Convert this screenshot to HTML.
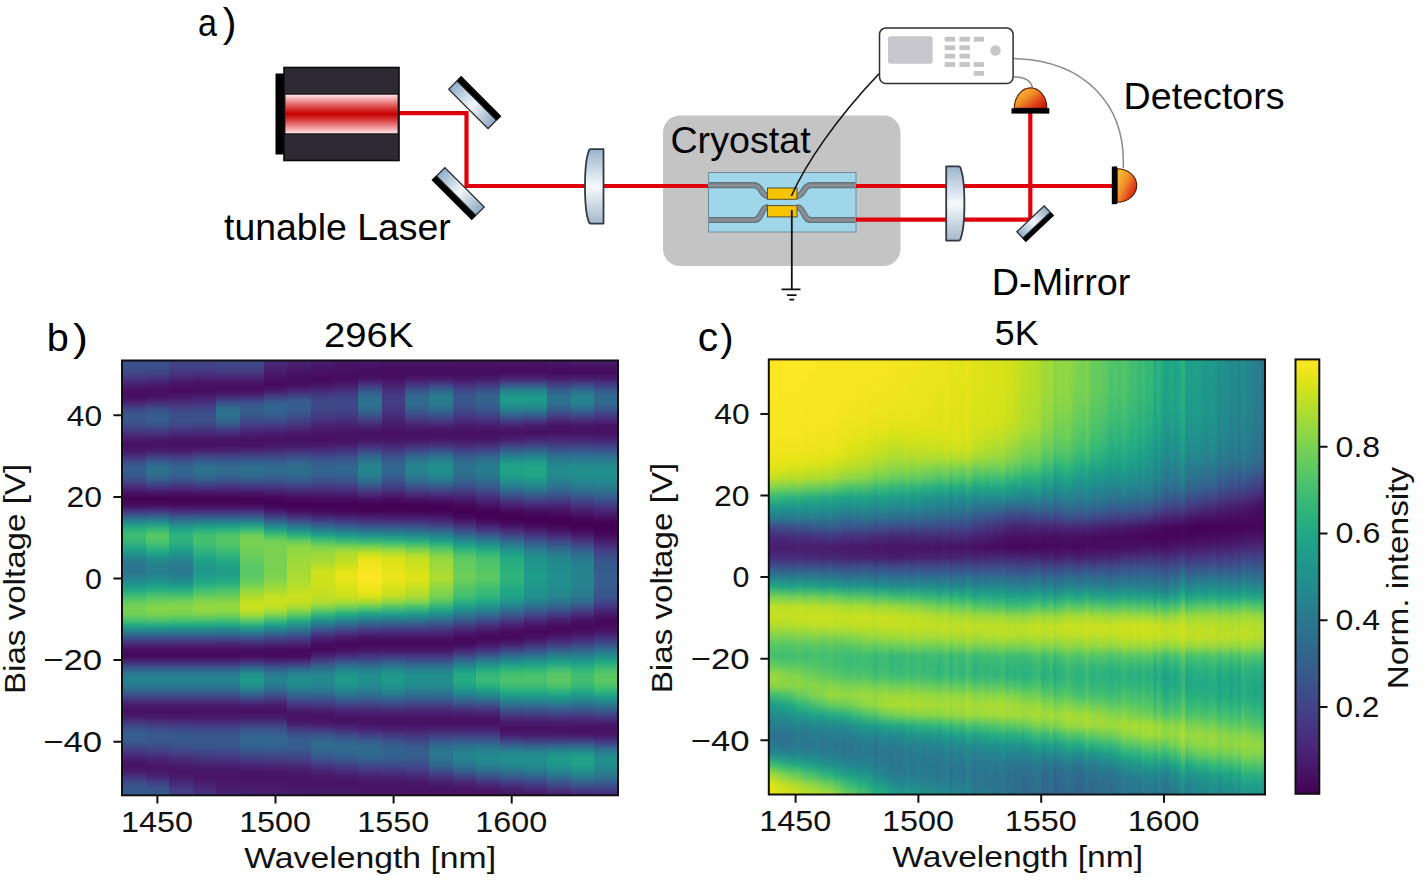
<!DOCTYPE html>
<html><head><meta charset="utf-8"><title>Figure</title>
<style>html,body{margin:0;padding:0;background:#fff;width:1425px;height:881px;overflow:hidden}svg{display:block}</style>
</head><body>
<svg width="1425" height="881" viewBox="0 0 1425 881" font-family="&quot;Liberation Sans&quot;, sans-serif">
<defs>
<linearGradient id="lasg" x1="0" y1="0" x2="0" y2="1">
 <stop offset="0" stop-color="#ffe6ea"/><stop offset="0.12" stop-color="#f4a8ac"/>
 <stop offset="0.35" stop-color="#d83a3a"/><stop offset="0.5" stop-color="#c40000"/>
 <stop offset="0.65" stop-color="#d83a3a"/><stop offset="0.88" stop-color="#f4a8ac"/>
 <stop offset="1" stop-color="#ffe6ea"/></linearGradient>
<linearGradient id="glass" x1="0" y1="0" x2="1" y2="0">
 <stop offset="0" stop-color="#8fb0cc"/><stop offset="0.45" stop-color="#f4f8fb"/>
 <stop offset="0.6" stop-color="#e8eef2"/><stop offset="1" stop-color="#9eb6cb"/></linearGradient>
<linearGradient id="lensg" x1="0" y1="0" x2="0" y2="1">
 <stop offset="0" stop-color="#9ab4cc"/><stop offset="0.5" stop-color="#f6fafc"/>
 <stop offset="1" stop-color="#a4b8ca"/></linearGradient>
<linearGradient id="domeg" x1="0.1" y1="0.2" x2="0.95" y2="0.9">
 <stop offset="0" stop-color="#f7b534"/><stop offset="0.35" stop-color="#f09028"/>
 <stop offset="0.7" stop-color="#e0441a"/><stop offset="1" stop-color="#c41c0c"/></linearGradient>
<linearGradient id="glass2" x1="0" y1="0" x2="1" y2="0">
 <stop offset="0" stop-color="#8eaecb"/><stop offset="0.5" stop-color="#f3f7fa"/>
 <stop offset="1" stop-color="#8fa9c2"/></linearGradient><linearGradient id="cbar" x1="0" y1="1" x2="0" y2="0"><stop offset="0.000" stop-color="#440154"/><stop offset="0.025" stop-color="#460a5d"/><stop offset="0.050" stop-color="#471365"/><stop offset="0.075" stop-color="#481c6e"/><stop offset="0.100" stop-color="#482475"/><stop offset="0.125" stop-color="#472d7b"/><stop offset="0.150" stop-color="#463480"/><stop offset="0.175" stop-color="#443b84"/><stop offset="0.200" stop-color="#414487"/><stop offset="0.225" stop-color="#3e4a89"/><stop offset="0.250" stop-color="#3b528b"/><stop offset="0.275" stop-color="#38598c"/><stop offset="0.300" stop-color="#355f8d"/><stop offset="0.325" stop-color="#31668e"/><stop offset="0.350" stop-color="#2f6c8e"/><stop offset="0.375" stop-color="#2c728e"/><stop offset="0.400" stop-color="#2a788e"/><stop offset="0.425" stop-color="#277e8e"/><stop offset="0.450" stop-color="#25848e"/><stop offset="0.475" stop-color="#238a8d"/><stop offset="0.500" stop-color="#21918c"/><stop offset="0.525" stop-color="#1f968b"/><stop offset="0.550" stop-color="#1e9c89"/><stop offset="0.575" stop-color="#1fa287"/><stop offset="0.600" stop-color="#22a884"/><stop offset="0.625" stop-color="#28ae80"/><stop offset="0.650" stop-color="#2fb47c"/><stop offset="0.675" stop-color="#38b977"/><stop offset="0.700" stop-color="#44bf70"/><stop offset="0.725" stop-color="#50c46a"/><stop offset="0.750" stop-color="#5ec962"/><stop offset="0.775" stop-color="#6ccd5a"/><stop offset="0.800" stop-color="#7ad151"/><stop offset="0.825" stop-color="#8bd646"/><stop offset="0.850" stop-color="#9bd93c"/><stop offset="0.875" stop-color="#addc30"/><stop offset="0.900" stop-color="#bddf26"/><stop offset="0.925" stop-color="#cde11d"/><stop offset="0.950" stop-color="#dfe318"/><stop offset="0.975" stop-color="#efe51c"/><stop offset="1.000" stop-color="#fde725"/></linearGradient><linearGradient id="b0" x1="0" y1="0" x2="0" y2="1"><stop offset="0.0000" stop-color="#3b528b"/><stop offset="0.0139" stop-color="#3b518b"/><stop offset="0.0278" stop-color="#3f4788"/><stop offset="0.0417" stop-color="#453581"/><stop offset="0.0556" stop-color="#482071"/><stop offset="0.0694" stop-color="#471063"/><stop offset="0.0833" stop-color="#470d60"/><stop offset="0.0972" stop-color="#482374"/><stop offset="0.1111" stop-color="#414487"/><stop offset="0.1250" stop-color="#38598c"/><stop offset="0.1389" stop-color="#39568c"/><stop offset="0.1528" stop-color="#3f4889"/><stop offset="0.1667" stop-color="#46327e"/><stop offset="0.1806" stop-color="#481c6e"/><stop offset="0.1944" stop-color="#471063"/><stop offset="0.2083" stop-color="#48186a"/><stop offset="0.2222" stop-color="#463480"/><stop offset="0.2361" stop-color="#3b518b"/><stop offset="0.2500" stop-color="#355f8d"/><stop offset="0.2639" stop-color="#375a8c"/><stop offset="0.2778" stop-color="#3f4788"/><stop offset="0.2917" stop-color="#472a7a"/><stop offset="0.3056" stop-color="#470e61"/><stop offset="0.3194" stop-color="#440154"/><stop offset="0.3333" stop-color="#470e61"/><stop offset="0.3472" stop-color="#453781"/><stop offset="0.3611" stop-color="#31688e"/><stop offset="0.3750" stop-color="#20928c"/><stop offset="0.3889" stop-color="#2db27d"/><stop offset="0.4028" stop-color="#3fbc73"/><stop offset="0.4167" stop-color="#35b779"/><stop offset="0.4306" stop-color="#22a785"/><stop offset="0.4444" stop-color="#20928c"/><stop offset="0.4583" stop-color="#277f8e"/><stop offset="0.4722" stop-color="#2b748e"/><stop offset="0.4861" stop-color="#2b758e"/><stop offset="0.5000" stop-color="#26818e"/><stop offset="0.5139" stop-color="#20928c"/><stop offset="0.5278" stop-color="#22a884"/><stop offset="0.5417" stop-color="#3fbc73"/><stop offset="0.5556" stop-color="#63cb5f"/><stop offset="0.5694" stop-color="#77d153"/><stop offset="0.5833" stop-color="#73d056"/><stop offset="0.5972" stop-color="#4ac16d"/><stop offset="0.6111" stop-color="#20a386"/><stop offset="0.6250" stop-color="#297b8e"/><stop offset="0.6389" stop-color="#3b518b"/><stop offset="0.6528" stop-color="#482878"/><stop offset="0.6667" stop-color="#470d60"/><stop offset="0.6806" stop-color="#460b5e"/><stop offset="0.6944" stop-color="#472d7b"/><stop offset="0.7083" stop-color="#375b8d"/><stop offset="0.7222" stop-color="#297b8e"/><stop offset="0.7361" stop-color="#25838e"/><stop offset="0.7500" stop-color="#2a788e"/><stop offset="0.7639" stop-color="#355e8d"/><stop offset="0.7778" stop-color="#443b84"/><stop offset="0.7917" stop-color="#481d6f"/><stop offset="0.8056" stop-color="#471063"/><stop offset="0.8194" stop-color="#481b6d"/><stop offset="0.8333" stop-color="#453882"/><stop offset="0.8472" stop-color="#3a538b"/><stop offset="0.8611" stop-color="#355f8d"/><stop offset="0.8750" stop-color="#375b8d"/><stop offset="0.8889" stop-color="#3e4a89"/><stop offset="0.9028" stop-color="#46337f"/><stop offset="0.9167" stop-color="#481d6f"/><stop offset="0.9306" stop-color="#471365"/><stop offset="0.9444" stop-color="#481b6d"/><stop offset="0.9583" stop-color="#46337f"/><stop offset="0.9722" stop-color="#3d4d8a"/><stop offset="0.9861" stop-color="#375a8c"/><stop offset="1.0000" stop-color="#375a8c"/></linearGradient><linearGradient id="b1" x1="0" y1="0" x2="0" y2="1"><stop offset="0.0000" stop-color="#3b528b"/><stop offset="0.0139" stop-color="#3c508b"/><stop offset="0.0278" stop-color="#404588"/><stop offset="0.0417" stop-color="#46307e"/><stop offset="0.0556" stop-color="#481b6d"/><stop offset="0.0694" stop-color="#470d60"/><stop offset="0.0833" stop-color="#471164"/><stop offset="0.0972" stop-color="#472d7b"/><stop offset="0.1111" stop-color="#3e4c8a"/><stop offset="0.1250" stop-color="#355e8d"/><stop offset="0.1389" stop-color="#365c8d"/><stop offset="0.1528" stop-color="#3e4c8a"/><stop offset="0.1667" stop-color="#46337f"/><stop offset="0.1806" stop-color="#481b6d"/><stop offset="0.1944" stop-color="#471063"/><stop offset="0.2083" stop-color="#481d6f"/><stop offset="0.2222" stop-color="#424186"/><stop offset="0.2361" stop-color="#33638d"/><stop offset="0.2500" stop-color="#2c728e"/><stop offset="0.2639" stop-color="#2e6d8e"/><stop offset="0.2778" stop-color="#39568c"/><stop offset="0.2917" stop-color="#463480"/><stop offset="0.3056" stop-color="#471365"/><stop offset="0.3194" stop-color="#440154"/><stop offset="0.3333" stop-color="#470e61"/><stop offset="0.3472" stop-color="#453882"/><stop offset="0.3611" stop-color="#306a8e"/><stop offset="0.3750" stop-color="#1f978b"/><stop offset="0.3889" stop-color="#38b977"/><stop offset="0.4028" stop-color="#58c765"/><stop offset="0.4167" stop-color="#4ec36b"/><stop offset="0.4306" stop-color="#31b57b"/><stop offset="0.4444" stop-color="#1fa088"/><stop offset="0.4583" stop-color="#228b8d"/><stop offset="0.4722" stop-color="#277f8e"/><stop offset="0.4861" stop-color="#277e8e"/><stop offset="0.5000" stop-color="#23888e"/><stop offset="0.5139" stop-color="#1f9a8a"/><stop offset="0.5278" stop-color="#28ae80"/><stop offset="0.5417" stop-color="#4cc26c"/><stop offset="0.5556" stop-color="#70cf57"/><stop offset="0.5694" stop-color="#86d549"/><stop offset="0.5833" stop-color="#7cd250"/><stop offset="0.5972" stop-color="#4ec36b"/><stop offset="0.6111" stop-color="#20a386"/><stop offset="0.6250" stop-color="#297b8e"/><stop offset="0.6389" stop-color="#3c508b"/><stop offset="0.6528" stop-color="#482878"/><stop offset="0.6667" stop-color="#470d60"/><stop offset="0.6806" stop-color="#460b5e"/><stop offset="0.6944" stop-color="#472d7b"/><stop offset="0.7083" stop-color="#375b8d"/><stop offset="0.7222" stop-color="#297b8e"/><stop offset="0.7361" stop-color="#25838e"/><stop offset="0.7500" stop-color="#2a788e"/><stop offset="0.7639" stop-color="#355e8d"/><stop offset="0.7778" stop-color="#443b84"/><stop offset="0.7917" stop-color="#481d6f"/><stop offset="0.8056" stop-color="#471063"/><stop offset="0.8194" stop-color="#481a6c"/><stop offset="0.8333" stop-color="#46327e"/><stop offset="0.8472" stop-color="#3e4c8a"/><stop offset="0.8611" stop-color="#38598c"/><stop offset="0.8750" stop-color="#38588c"/><stop offset="0.8889" stop-color="#3e4c8a"/><stop offset="0.9028" stop-color="#453882"/><stop offset="0.9167" stop-color="#482475"/><stop offset="0.9306" stop-color="#481668"/><stop offset="0.9444" stop-color="#481668"/><stop offset="0.9583" stop-color="#482677"/><stop offset="0.9722" stop-color="#414287"/><stop offset="0.9861" stop-color="#39558c"/><stop offset="1.0000" stop-color="#375a8c"/></linearGradient><linearGradient id="b2" x1="0" y1="0" x2="0" y2="1"><stop offset="0.0000" stop-color="#414487"/><stop offset="0.0139" stop-color="#424186"/><stop offset="0.0278" stop-color="#453781"/><stop offset="0.0417" stop-color="#482475"/><stop offset="0.0556" stop-color="#481467"/><stop offset="0.0694" stop-color="#460b5e"/><stop offset="0.0833" stop-color="#481668"/><stop offset="0.0972" stop-color="#472c7a"/><stop offset="0.1111" stop-color="#414487"/><stop offset="0.1250" stop-color="#3b518b"/><stop offset="0.1389" stop-color="#3c4f8a"/><stop offset="0.1528" stop-color="#424086"/><stop offset="0.1667" stop-color="#472a7a"/><stop offset="0.1806" stop-color="#481769"/><stop offset="0.1944" stop-color="#471063"/><stop offset="0.2083" stop-color="#481d6f"/><stop offset="0.2222" stop-color="#433d84"/><stop offset="0.2361" stop-color="#375a8c"/><stop offset="0.2500" stop-color="#31678e"/><stop offset="0.2639" stop-color="#34618d"/><stop offset="0.2778" stop-color="#3d4d8a"/><stop offset="0.2917" stop-color="#472e7c"/><stop offset="0.3056" stop-color="#471164"/><stop offset="0.3194" stop-color="#440154"/><stop offset="0.3333" stop-color="#460b5e"/><stop offset="0.3472" stop-color="#472e7c"/><stop offset="0.3611" stop-color="#365c8d"/><stop offset="0.3750" stop-color="#25848e"/><stop offset="0.3889" stop-color="#20a486"/><stop offset="0.4028" stop-color="#2eb37c"/><stop offset="0.4167" stop-color="#2cb17e"/><stop offset="0.4306" stop-color="#21a685"/><stop offset="0.4444" stop-color="#1f958b"/><stop offset="0.4583" stop-color="#25858e"/><stop offset="0.4722" stop-color="#297a8e"/><stop offset="0.4861" stop-color="#29798e"/><stop offset="0.5000" stop-color="#26828e"/><stop offset="0.5139" stop-color="#1f958b"/><stop offset="0.5278" stop-color="#26ad81"/><stop offset="0.5417" stop-color="#4ac16d"/><stop offset="0.5556" stop-color="#73d056"/><stop offset="0.5694" stop-color="#86d549"/><stop offset="0.5833" stop-color="#77d153"/><stop offset="0.5972" stop-color="#48c16e"/><stop offset="0.6111" stop-color="#1fa188"/><stop offset="0.6250" stop-color="#29798e"/><stop offset="0.6389" stop-color="#3c4f8a"/><stop offset="0.6528" stop-color="#482677"/><stop offset="0.6667" stop-color="#470d60"/><stop offset="0.6806" stop-color="#460b5e"/><stop offset="0.6944" stop-color="#472d7b"/><stop offset="0.7083" stop-color="#375b8d"/><stop offset="0.7222" stop-color="#297b8e"/><stop offset="0.7361" stop-color="#25838e"/><stop offset="0.7500" stop-color="#2a788e"/><stop offset="0.7639" stop-color="#355e8d"/><stop offset="0.7778" stop-color="#443b84"/><stop offset="0.7917" stop-color="#481d6f"/><stop offset="0.8056" stop-color="#471063"/><stop offset="0.8194" stop-color="#48186a"/><stop offset="0.8333" stop-color="#472f7d"/><stop offset="0.8472" stop-color="#3f4889"/><stop offset="0.8611" stop-color="#38588c"/><stop offset="0.8750" stop-color="#38598c"/><stop offset="0.8889" stop-color="#3c508b"/><stop offset="0.9028" stop-color="#423f85"/><stop offset="0.9167" stop-color="#472c7a"/><stop offset="0.9306" stop-color="#481b6d"/><stop offset="0.9444" stop-color="#471365"/><stop offset="0.9583" stop-color="#481a6c"/><stop offset="0.9722" stop-color="#472a7a"/><stop offset="0.9861" stop-color="#443b84"/><stop offset="1.0000" stop-color="#414487"/></linearGradient><linearGradient id="b3" x1="0" y1="0" x2="0" y2="1"><stop offset="0.0000" stop-color="#414487"/><stop offset="0.0139" stop-color="#424186"/><stop offset="0.0278" stop-color="#463480"/><stop offset="0.0417" stop-color="#482071"/><stop offset="0.0556" stop-color="#471063"/><stop offset="0.0694" stop-color="#470d60"/><stop offset="0.0833" stop-color="#481b6d"/><stop offset="0.0972" stop-color="#46307e"/><stop offset="0.1111" stop-color="#404688"/><stop offset="0.1250" stop-color="#3b518b"/><stop offset="0.1389" stop-color="#3c4f8a"/><stop offset="0.1528" stop-color="#423f85"/><stop offset="0.1667" stop-color="#482979"/><stop offset="0.1806" stop-color="#481668"/><stop offset="0.1944" stop-color="#471063"/><stop offset="0.2083" stop-color="#482374"/><stop offset="0.2222" stop-color="#3f4788"/><stop offset="0.2361" stop-color="#31668e"/><stop offset="0.2500" stop-color="#2c738e"/><stop offset="0.2639" stop-color="#2e6d8e"/><stop offset="0.2778" stop-color="#39568c"/><stop offset="0.2917" stop-color="#463480"/><stop offset="0.3056" stop-color="#471365"/><stop offset="0.3194" stop-color="#440154"/><stop offset="0.3333" stop-color="#460b5e"/><stop offset="0.3472" stop-color="#472f7d"/><stop offset="0.3611" stop-color="#355f8d"/><stop offset="0.3750" stop-color="#228b8d"/><stop offset="0.3889" stop-color="#27ad81"/><stop offset="0.4028" stop-color="#44bf70"/><stop offset="0.4167" stop-color="#46c06f"/><stop offset="0.4306" stop-color="#38b977"/><stop offset="0.4444" stop-color="#28ae80"/><stop offset="0.4583" stop-color="#1fa287"/><stop offset="0.4722" stop-color="#1f9a8a"/><stop offset="0.4861" stop-color="#1f978b"/><stop offset="0.5000" stop-color="#1f9e89"/><stop offset="0.5139" stop-color="#25ac82"/><stop offset="0.5278" stop-color="#3fbc73"/><stop offset="0.5417" stop-color="#65cb5e"/><stop offset="0.5556" stop-color="#86d549"/><stop offset="0.5694" stop-color="#95d840"/><stop offset="0.5833" stop-color="#81d34d"/><stop offset="0.5972" stop-color="#4ac16d"/><stop offset="0.6111" stop-color="#1fa188"/><stop offset="0.6250" stop-color="#2a788e"/><stop offset="0.6389" stop-color="#3c4f8a"/><stop offset="0.6528" stop-color="#482677"/><stop offset="0.6667" stop-color="#470d60"/><stop offset="0.6806" stop-color="#460b5e"/><stop offset="0.6944" stop-color="#472d7b"/><stop offset="0.7083" stop-color="#375b8d"/><stop offset="0.7222" stop-color="#297b8e"/><stop offset="0.7361" stop-color="#25838e"/><stop offset="0.7500" stop-color="#2a788e"/><stop offset="0.7639" stop-color="#355e8d"/><stop offset="0.7778" stop-color="#443b84"/><stop offset="0.7917" stop-color="#481d6f"/><stop offset="0.8056" stop-color="#471063"/><stop offset="0.8194" stop-color="#48186a"/><stop offset="0.8333" stop-color="#472d7b"/><stop offset="0.8472" stop-color="#404588"/><stop offset="0.8611" stop-color="#39558c"/><stop offset="0.8750" stop-color="#375a8c"/><stop offset="0.8889" stop-color="#3a538b"/><stop offset="0.9028" stop-color="#404588"/><stop offset="0.9167" stop-color="#46327e"/><stop offset="0.9306" stop-color="#482071"/><stop offset="0.9444" stop-color="#481668"/><stop offset="0.9583" stop-color="#481467"/><stop offset="0.9722" stop-color="#481d6f"/><stop offset="0.9861" stop-color="#482979"/><stop offset="1.0000" stop-color="#46337f"/></linearGradient><linearGradient id="b4" x1="0" y1="0" x2="0" y2="1"><stop offset="0.0000" stop-color="#3e4989"/><stop offset="0.0139" stop-color="#404688"/><stop offset="0.0278" stop-color="#453781"/><stop offset="0.0417" stop-color="#482173"/><stop offset="0.0556" stop-color="#471063"/><stop offset="0.0694" stop-color="#470e61"/><stop offset="0.0833" stop-color="#482979"/><stop offset="0.0972" stop-color="#3b518b"/><stop offset="0.1111" stop-color="#2e6e8e"/><stop offset="0.1250" stop-color="#2c728e"/><stop offset="0.1389" stop-color="#31668e"/><stop offset="0.1528" stop-color="#3d4d8a"/><stop offset="0.1667" stop-color="#472d7b"/><stop offset="0.1806" stop-color="#481668"/><stop offset="0.1944" stop-color="#471164"/><stop offset="0.2083" stop-color="#482475"/><stop offset="0.2222" stop-color="#404588"/><stop offset="0.2361" stop-color="#34608d"/><stop offset="0.2500" stop-color="#2f6c8e"/><stop offset="0.2639" stop-color="#31668e"/><stop offset="0.2778" stop-color="#3c508b"/><stop offset="0.2917" stop-color="#46307e"/><stop offset="0.3056" stop-color="#471365"/><stop offset="0.3194" stop-color="#440154"/><stop offset="0.3333" stop-color="#460a5d"/><stop offset="0.3472" stop-color="#472f7d"/><stop offset="0.3611" stop-color="#355f8d"/><stop offset="0.3750" stop-color="#228c8d"/><stop offset="0.3889" stop-color="#2ab07f"/><stop offset="0.4028" stop-color="#50c46a"/><stop offset="0.4167" stop-color="#56c667"/><stop offset="0.4306" stop-color="#48c16e"/><stop offset="0.4444" stop-color="#34b679"/><stop offset="0.4583" stop-color="#25ab82"/><stop offset="0.4722" stop-color="#1fa187"/><stop offset="0.4861" stop-color="#1f9f88"/><stop offset="0.5000" stop-color="#20a386"/><stop offset="0.5139" stop-color="#2ab07f"/><stop offset="0.5278" stop-color="#46c06f"/><stop offset="0.5417" stop-color="#69cd5b"/><stop offset="0.5556" stop-color="#89d548"/><stop offset="0.5694" stop-color="#95d840"/><stop offset="0.5833" stop-color="#7cd250"/><stop offset="0.5972" stop-color="#44bf70"/><stop offset="0.6111" stop-color="#1f9e89"/><stop offset="0.6250" stop-color="#2a768e"/><stop offset="0.6389" stop-color="#3d4d8a"/><stop offset="0.6528" stop-color="#482576"/><stop offset="0.6667" stop-color="#470d60"/><stop offset="0.6806" stop-color="#460b5e"/><stop offset="0.6944" stop-color="#472d7b"/><stop offset="0.7083" stop-color="#375b8d"/><stop offset="0.7222" stop-color="#297b8e"/><stop offset="0.7361" stop-color="#25838e"/><stop offset="0.7500" stop-color="#2a788e"/><stop offset="0.7639" stop-color="#355e8d"/><stop offset="0.7778" stop-color="#443b84"/><stop offset="0.7917" stop-color="#481d6f"/><stop offset="0.8056" stop-color="#471063"/><stop offset="0.8194" stop-color="#48186a"/><stop offset="0.8333" stop-color="#472d7b"/><stop offset="0.8472" stop-color="#404588"/><stop offset="0.8611" stop-color="#39558c"/><stop offset="0.8750" stop-color="#375a8c"/><stop offset="0.8889" stop-color="#3a538b"/><stop offset="0.9028" stop-color="#404688"/><stop offset="0.9167" stop-color="#46337f"/><stop offset="0.9306" stop-color="#482173"/><stop offset="0.9444" stop-color="#481668"/><stop offset="0.9583" stop-color="#481467"/><stop offset="0.9722" stop-color="#481769"/><stop offset="0.9861" stop-color="#481c6e"/><stop offset="1.0000" stop-color="#482173"/></linearGradient><linearGradient id="b5" x1="0" y1="0" x2="0" y2="1"><stop offset="0.0000" stop-color="#3e4989"/><stop offset="0.0139" stop-color="#404688"/><stop offset="0.0278" stop-color="#453781"/><stop offset="0.0417" stop-color="#482173"/><stop offset="0.0556" stop-color="#471063"/><stop offset="0.0694" stop-color="#470e61"/><stop offset="0.0833" stop-color="#472c7a"/><stop offset="0.0972" stop-color="#3c508b"/><stop offset="0.1111" stop-color="#355f8d"/><stop offset="0.1250" stop-color="#375a8c"/><stop offset="0.1389" stop-color="#3e4a89"/><stop offset="0.1528" stop-color="#453581"/><stop offset="0.1667" stop-color="#482071"/><stop offset="0.1806" stop-color="#471365"/><stop offset="0.1944" stop-color="#471164"/><stop offset="0.2083" stop-color="#482878"/><stop offset="0.2222" stop-color="#3e4989"/><stop offset="0.2361" stop-color="#32658e"/><stop offset="0.2500" stop-color="#2d718e"/><stop offset="0.2639" stop-color="#306a8e"/><stop offset="0.2778" stop-color="#3a548c"/><stop offset="0.2917" stop-color="#463480"/><stop offset="0.3056" stop-color="#481467"/><stop offset="0.3194" stop-color="#440154"/><stop offset="0.3333" stop-color="#460a5d"/><stop offset="0.3472" stop-color="#472f7d"/><stop offset="0.3611" stop-color="#34618d"/><stop offset="0.3750" stop-color="#21918c"/><stop offset="0.3889" stop-color="#38b977"/><stop offset="0.4028" stop-color="#6ece58"/><stop offset="0.4167" stop-color="#7ad151"/><stop offset="0.4306" stop-color="#75d054"/><stop offset="0.4444" stop-color="#6ccd5a"/><stop offset="0.4583" stop-color="#63cb5f"/><stop offset="0.4722" stop-color="#5ac864"/><stop offset="0.4861" stop-color="#58c765"/><stop offset="0.5000" stop-color="#5ec962"/><stop offset="0.5139" stop-color="#70cf57"/><stop offset="0.5278" stop-color="#90d743"/><stop offset="0.5417" stop-color="#addc30"/><stop offset="0.5556" stop-color="#c5e021"/><stop offset="0.5694" stop-color="#cae11f"/><stop offset="0.5833" stop-color="#a8db34"/><stop offset="0.5972" stop-color="#60ca60"/><stop offset="0.6111" stop-color="#22a884"/><stop offset="0.6250" stop-color="#287d8e"/><stop offset="0.6389" stop-color="#3b518b"/><stop offset="0.6528" stop-color="#482878"/><stop offset="0.6667" stop-color="#470d60"/><stop offset="0.6806" stop-color="#470d60"/><stop offset="0.6944" stop-color="#453581"/><stop offset="0.7083" stop-color="#2f6b8e"/><stop offset="0.7222" stop-color="#20928c"/><stop offset="0.7361" stop-color="#1e9c89"/><stop offset="0.7500" stop-color="#228d8d"/><stop offset="0.7639" stop-color="#2e6e8e"/><stop offset="0.7778" stop-color="#404688"/><stop offset="0.7917" stop-color="#482071"/><stop offset="0.8056" stop-color="#471063"/><stop offset="0.8194" stop-color="#481a6c"/><stop offset="0.8333" stop-color="#46337f"/><stop offset="0.8472" stop-color="#3c4f8a"/><stop offset="0.8611" stop-color="#33628d"/><stop offset="0.8750" stop-color="#31678e"/><stop offset="0.8889" stop-color="#34608d"/><stop offset="0.9028" stop-color="#3c508b"/><stop offset="0.9167" stop-color="#443b84"/><stop offset="0.9306" stop-color="#482677"/><stop offset="0.9444" stop-color="#481769"/><stop offset="0.9583" stop-color="#471365"/><stop offset="0.9722" stop-color="#481668"/><stop offset="0.9861" stop-color="#481b6d"/><stop offset="1.0000" stop-color="#482071"/></linearGradient><linearGradient id="b6" x1="0" y1="0" x2="0" y2="1"><stop offset="0.0000" stop-color="#472a7a"/><stop offset="0.0139" stop-color="#482475"/><stop offset="0.0278" stop-color="#481b6d"/><stop offset="0.0417" stop-color="#471164"/><stop offset="0.0556" stop-color="#460b5e"/><stop offset="0.0694" stop-color="#481a6c"/><stop offset="0.0833" stop-color="#424086"/><stop offset="0.0972" stop-color="#34608d"/><stop offset="0.1111" stop-color="#31668e"/><stop offset="0.1250" stop-color="#355e8d"/><stop offset="0.1389" stop-color="#3e4c8a"/><stop offset="0.1528" stop-color="#463480"/><stop offset="0.1667" stop-color="#481d6f"/><stop offset="0.1806" stop-color="#471164"/><stop offset="0.1944" stop-color="#481467"/><stop offset="0.2083" stop-color="#472c7a"/><stop offset="0.2222" stop-color="#3e4989"/><stop offset="0.2361" stop-color="#33628d"/><stop offset="0.2500" stop-color="#2f6c8e"/><stop offset="0.2639" stop-color="#31668e"/><stop offset="0.2778" stop-color="#3a538b"/><stop offset="0.2917" stop-color="#453781"/><stop offset="0.3056" stop-color="#481a6c"/><stop offset="0.3194" stop-color="#450457"/><stop offset="0.3333" stop-color="#440256"/><stop offset="0.3472" stop-color="#481c6e"/><stop offset="0.3611" stop-color="#3f4788"/><stop offset="0.3750" stop-color="#2b758e"/><stop offset="0.3889" stop-color="#1fa088"/><stop offset="0.4028" stop-color="#48c16e"/><stop offset="0.4167" stop-color="#73d056"/><stop offset="0.4306" stop-color="#7ad151"/><stop offset="0.4444" stop-color="#7ad151"/><stop offset="0.4583" stop-color="#7ad151"/><stop offset="0.4722" stop-color="#7ad151"/><stop offset="0.4861" stop-color="#7ad151"/><stop offset="0.5000" stop-color="#7fd34e"/><stop offset="0.5139" stop-color="#90d743"/><stop offset="0.5278" stop-color="#a8db34"/><stop offset="0.5417" stop-color="#c0df25"/><stop offset="0.5556" stop-color="#cae11f"/><stop offset="0.5694" stop-color="#bade28"/><stop offset="0.5833" stop-color="#86d549"/><stop offset="0.5972" stop-color="#3fbc73"/><stop offset="0.6111" stop-color="#1f988b"/><stop offset="0.6250" stop-color="#2d708e"/><stop offset="0.6389" stop-color="#3f4788"/><stop offset="0.6528" stop-color="#482374"/><stop offset="0.6667" stop-color="#460b5e"/><stop offset="0.6806" stop-color="#460b5e"/><stop offset="0.6944" stop-color="#472d7b"/><stop offset="0.7083" stop-color="#375b8d"/><stop offset="0.7222" stop-color="#297b8e"/><stop offset="0.7361" stop-color="#25838e"/><stop offset="0.7500" stop-color="#2a788e"/><stop offset="0.7639" stop-color="#355e8d"/><stop offset="0.7778" stop-color="#443b84"/><stop offset="0.7917" stop-color="#481d6f"/><stop offset="0.8056" stop-color="#471063"/><stop offset="0.8194" stop-color="#481a6c"/><stop offset="0.8333" stop-color="#46337f"/><stop offset="0.8472" stop-color="#3c4f8a"/><stop offset="0.8611" stop-color="#33628d"/><stop offset="0.8750" stop-color="#31678e"/><stop offset="0.8889" stop-color="#34608d"/><stop offset="0.9028" stop-color="#3b518b"/><stop offset="0.9167" stop-color="#433d84"/><stop offset="0.9306" stop-color="#482878"/><stop offset="0.9444" stop-color="#48186a"/><stop offset="0.9583" stop-color="#471365"/><stop offset="0.9722" stop-color="#481668"/><stop offset="0.9861" stop-color="#481a6c"/><stop offset="1.0000" stop-color="#481f70"/></linearGradient><linearGradient id="b7" x1="0" y1="0" x2="0" y2="1"><stop offset="0.0000" stop-color="#482173"/><stop offset="0.0139" stop-color="#481b6d"/><stop offset="0.0278" stop-color="#471365"/><stop offset="0.0417" stop-color="#470d60"/><stop offset="0.0556" stop-color="#470e61"/><stop offset="0.0694" stop-color="#482677"/><stop offset="0.0833" stop-color="#3f4889"/><stop offset="0.0972" stop-color="#365d8d"/><stop offset="0.1111" stop-color="#365d8d"/><stop offset="0.1250" stop-color="#3b528b"/><stop offset="0.1389" stop-color="#424086"/><stop offset="0.1528" stop-color="#472c7a"/><stop offset="0.1667" stop-color="#48186a"/><stop offset="0.1806" stop-color="#471063"/><stop offset="0.1944" stop-color="#481769"/><stop offset="0.2083" stop-color="#46307e"/><stop offset="0.2222" stop-color="#3c4f8a"/><stop offset="0.2361" stop-color="#31668e"/><stop offset="0.2500" stop-color="#2e6f8e"/><stop offset="0.2639" stop-color="#30698e"/><stop offset="0.2778" stop-color="#38588c"/><stop offset="0.2917" stop-color="#433d84"/><stop offset="0.3056" stop-color="#482071"/><stop offset="0.3194" stop-color="#46085c"/><stop offset="0.3333" stop-color="#440154"/><stop offset="0.3472" stop-color="#471063"/><stop offset="0.3611" stop-color="#463480"/><stop offset="0.3750" stop-color="#34618d"/><stop offset="0.3889" stop-color="#228c8d"/><stop offset="0.4028" stop-color="#2eb37c"/><stop offset="0.4167" stop-color="#69cd5b"/><stop offset="0.4306" stop-color="#90d743"/><stop offset="0.4444" stop-color="#95d840"/><stop offset="0.4583" stop-color="#9bd93c"/><stop offset="0.4722" stop-color="#a2da37"/><stop offset="0.4861" stop-color="#a8db34"/><stop offset="0.5000" stop-color="#aadc32"/><stop offset="0.5139" stop-color="#b2dd2d"/><stop offset="0.5278" stop-color="#c0df25"/><stop offset="0.5417" stop-color="#cae11f"/><stop offset="0.5556" stop-color="#c5e021"/><stop offset="0.5694" stop-color="#a2da37"/><stop offset="0.5833" stop-color="#63cb5f"/><stop offset="0.5972" stop-color="#28ae80"/><stop offset="0.6111" stop-color="#238a8d"/><stop offset="0.6250" stop-color="#32658e"/><stop offset="0.6389" stop-color="#424086"/><stop offset="0.6528" stop-color="#482071"/><stop offset="0.6667" stop-color="#460b5e"/><stop offset="0.6806" stop-color="#460b5e"/><stop offset="0.6944" stop-color="#46327e"/><stop offset="0.7083" stop-color="#33638d"/><stop offset="0.7222" stop-color="#24868e"/><stop offset="0.7361" stop-color="#21908d"/><stop offset="0.7500" stop-color="#24868e"/><stop offset="0.7639" stop-color="#2c718e"/><stop offset="0.7778" stop-color="#39558c"/><stop offset="0.7917" stop-color="#453581"/><stop offset="0.8056" stop-color="#481b6d"/><stop offset="0.8194" stop-color="#471063"/><stop offset="0.8333" stop-color="#481b6d"/><stop offset="0.8472" stop-color="#453781"/><stop offset="0.8611" stop-color="#3b518b"/><stop offset="0.8750" stop-color="#355f8d"/><stop offset="0.8889" stop-color="#365d8d"/><stop offset="0.9028" stop-color="#3b518b"/><stop offset="0.9167" stop-color="#424086"/><stop offset="0.9306" stop-color="#472c7a"/><stop offset="0.9444" stop-color="#481b6d"/><stop offset="0.9583" stop-color="#471365"/><stop offset="0.9722" stop-color="#481467"/><stop offset="0.9861" stop-color="#48186a"/><stop offset="1.0000" stop-color="#481d6f"/></linearGradient><linearGradient id="b8" x1="0" y1="0" x2="0" y2="1"><stop offset="0.0000" stop-color="#481f70"/><stop offset="0.0139" stop-color="#481769"/><stop offset="0.0278" stop-color="#471063"/><stop offset="0.0417" stop-color="#460b5e"/><stop offset="0.0556" stop-color="#471365"/><stop offset="0.0694" stop-color="#482878"/><stop offset="0.0833" stop-color="#433e85"/><stop offset="0.0972" stop-color="#3e4989"/><stop offset="0.1111" stop-color="#3f4788"/><stop offset="0.1250" stop-color="#433d84"/><stop offset="0.1389" stop-color="#472f7d"/><stop offset="0.1528" stop-color="#482071"/><stop offset="0.1667" stop-color="#481467"/><stop offset="0.1806" stop-color="#471063"/><stop offset="0.1944" stop-color="#481a6c"/><stop offset="0.2083" stop-color="#472f7d"/><stop offset="0.2222" stop-color="#3e4989"/><stop offset="0.2361" stop-color="#365d8d"/><stop offset="0.2500" stop-color="#32648e"/><stop offset="0.2639" stop-color="#355f8d"/><stop offset="0.2778" stop-color="#3c508b"/><stop offset="0.2917" stop-color="#453882"/><stop offset="0.3056" stop-color="#481f70"/><stop offset="0.3194" stop-color="#460a5d"/><stop offset="0.3333" stop-color="#440154"/><stop offset="0.3472" stop-color="#460b5e"/><stop offset="0.3611" stop-color="#472a7a"/><stop offset="0.3750" stop-color="#3a538b"/><stop offset="0.3889" stop-color="#287c8e"/><stop offset="0.4028" stop-color="#20a386"/><stop offset="0.4167" stop-color="#4ec36b"/><stop offset="0.4306" stop-color="#84d44b"/><stop offset="0.4444" stop-color="#9bd93c"/><stop offset="0.4583" stop-color="#a2da37"/><stop offset="0.4722" stop-color="#b8de29"/><stop offset="0.4861" stop-color="#cde11d"/><stop offset="0.5000" stop-color="#d0e11c"/><stop offset="0.5139" stop-color="#cde11d"/><stop offset="0.5278" stop-color="#c8e020"/><stop offset="0.5417" stop-color="#c2df23"/><stop offset="0.5556" stop-color="#b0dd2f"/><stop offset="0.5694" stop-color="#7ad151"/><stop offset="0.5833" stop-color="#37b878"/><stop offset="0.5972" stop-color="#20938c"/><stop offset="0.6111" stop-color="#2e6d8e"/><stop offset="0.6250" stop-color="#404588"/><stop offset="0.6389" stop-color="#482173"/><stop offset="0.6528" stop-color="#460b5e"/><stop offset="0.6667" stop-color="#460a5d"/><stop offset="0.6806" stop-color="#482475"/><stop offset="0.6944" stop-color="#3e4a89"/><stop offset="0.7083" stop-color="#2e6e8e"/><stop offset="0.7222" stop-color="#25858e"/><stop offset="0.7361" stop-color="#228b8d"/><stop offset="0.7500" stop-color="#26828e"/><stop offset="0.7639" stop-color="#2d708e"/><stop offset="0.7778" stop-color="#39558c"/><stop offset="0.7917" stop-color="#453882"/><stop offset="0.8056" stop-color="#481d6f"/><stop offset="0.8194" stop-color="#471063"/><stop offset="0.8333" stop-color="#481769"/><stop offset="0.8472" stop-color="#46327e"/><stop offset="0.8611" stop-color="#3b528b"/><stop offset="0.8750" stop-color="#31688e"/><stop offset="0.8889" stop-color="#2f6b8e"/><stop offset="0.9028" stop-color="#33628d"/><stop offset="0.9167" stop-color="#3c508b"/><stop offset="0.9306" stop-color="#443983"/><stop offset="0.9444" stop-color="#482374"/><stop offset="0.9583" stop-color="#481668"/><stop offset="0.9722" stop-color="#481467"/><stop offset="0.9861" stop-color="#481769"/><stop offset="1.0000" stop-color="#481b6d"/></linearGradient><linearGradient id="b9" x1="0" y1="0" x2="0" y2="1"><stop offset="0.0000" stop-color="#481769"/><stop offset="0.0139" stop-color="#471164"/><stop offset="0.0278" stop-color="#470d60"/><stop offset="0.0417" stop-color="#470d60"/><stop offset="0.0556" stop-color="#481a6c"/><stop offset="0.0694" stop-color="#472f7d"/><stop offset="0.0833" stop-color="#414287"/><stop offset="0.0972" stop-color="#3e4989"/><stop offset="0.1111" stop-color="#404588"/><stop offset="0.1250" stop-color="#443a83"/><stop offset="0.1389" stop-color="#472c7a"/><stop offset="0.1528" stop-color="#481c6e"/><stop offset="0.1667" stop-color="#471164"/><stop offset="0.1806" stop-color="#471063"/><stop offset="0.1944" stop-color="#481d6f"/><stop offset="0.2083" stop-color="#453581"/><stop offset="0.2222" stop-color="#3d4e8a"/><stop offset="0.2361" stop-color="#34608d"/><stop offset="0.2500" stop-color="#31678e"/><stop offset="0.2639" stop-color="#33628d"/><stop offset="0.2778" stop-color="#3b528b"/><stop offset="0.2917" stop-color="#443b84"/><stop offset="0.3056" stop-color="#482173"/><stop offset="0.3194" stop-color="#460b5e"/><stop offset="0.3333" stop-color="#440154"/><stop offset="0.3472" stop-color="#46085c"/><stop offset="0.3611" stop-color="#482475"/><stop offset="0.3750" stop-color="#3e4a89"/><stop offset="0.3889" stop-color="#2c728e"/><stop offset="0.4028" stop-color="#1f9a8a"/><stop offset="0.4167" stop-color="#40bd72"/><stop offset="0.4306" stop-color="#84d44b"/><stop offset="0.4444" stop-color="#b2dd2d"/><stop offset="0.4583" stop-color="#bddf26"/><stop offset="0.4722" stop-color="#cde11d"/><stop offset="0.4861" stop-color="#e5e419"/><stop offset="0.5000" stop-color="#ece51b"/><stop offset="0.5139" stop-color="#e2e418"/><stop offset="0.5278" stop-color="#d5e21a"/><stop offset="0.5417" stop-color="#cde11d"/><stop offset="0.5556" stop-color="#a8db34"/><stop offset="0.5694" stop-color="#65cb5e"/><stop offset="0.5833" stop-color="#27ad81"/><stop offset="0.5972" stop-color="#24868e"/><stop offset="0.6111" stop-color="#355f8d"/><stop offset="0.6250" stop-color="#453882"/><stop offset="0.6389" stop-color="#48186a"/><stop offset="0.6528" stop-color="#46085c"/><stop offset="0.6667" stop-color="#471164"/><stop offset="0.6806" stop-color="#46307e"/><stop offset="0.6944" stop-color="#375b8d"/><stop offset="0.7083" stop-color="#277e8e"/><stop offset="0.7222" stop-color="#1f968b"/><stop offset="0.7361" stop-color="#1e9c89"/><stop offset="0.7500" stop-color="#20928c"/><stop offset="0.7639" stop-color="#277e8e"/><stop offset="0.7778" stop-color="#33638d"/><stop offset="0.7917" stop-color="#414287"/><stop offset="0.8056" stop-color="#482475"/><stop offset="0.8194" stop-color="#471365"/><stop offset="0.8333" stop-color="#471365"/><stop offset="0.8472" stop-color="#482979"/><stop offset="0.8611" stop-color="#3f4889"/><stop offset="0.8750" stop-color="#33628d"/><stop offset="0.8889" stop-color="#2f6c8e"/><stop offset="0.9028" stop-color="#31678e"/><stop offset="0.9167" stop-color="#38598c"/><stop offset="0.9306" stop-color="#414287"/><stop offset="0.9444" stop-color="#472a7a"/><stop offset="0.9583" stop-color="#481a6c"/><stop offset="0.9722" stop-color="#471365"/><stop offset="0.9861" stop-color="#481668"/><stop offset="1.0000" stop-color="#481a6c"/></linearGradient><linearGradient id="b10" x1="0" y1="0" x2="0" y2="1"><stop offset="0.0000" stop-color="#481b6d"/><stop offset="0.0139" stop-color="#471164"/><stop offset="0.0278" stop-color="#460b5e"/><stop offset="0.0417" stop-color="#471365"/><stop offset="0.0556" stop-color="#46327e"/><stop offset="0.0694" stop-color="#39558c"/><stop offset="0.0833" stop-color="#2e6e8e"/><stop offset="0.0972" stop-color="#2c728e"/><stop offset="0.1111" stop-color="#30698e"/><stop offset="0.1250" stop-color="#39558c"/><stop offset="0.1389" stop-color="#443a83"/><stop offset="0.1528" stop-color="#482173"/><stop offset="0.1667" stop-color="#471164"/><stop offset="0.1806" stop-color="#471365"/><stop offset="0.1944" stop-color="#482979"/><stop offset="0.2083" stop-color="#3e4989"/><stop offset="0.2222" stop-color="#31688e"/><stop offset="0.2361" stop-color="#287d8e"/><stop offset="0.2500" stop-color="#25848e"/><stop offset="0.2639" stop-color="#277e8e"/><stop offset="0.2778" stop-color="#2f6b8e"/><stop offset="0.2917" stop-color="#3c4f8a"/><stop offset="0.3056" stop-color="#472e7c"/><stop offset="0.3194" stop-color="#471164"/><stop offset="0.3333" stop-color="#440154"/><stop offset="0.3472" stop-color="#450559"/><stop offset="0.3611" stop-color="#481f70"/><stop offset="0.3750" stop-color="#414287"/><stop offset="0.3889" stop-color="#2f6b8e"/><stop offset="0.4028" stop-color="#20938c"/><stop offset="0.4167" stop-color="#38b977"/><stop offset="0.4306" stop-color="#84d44b"/><stop offset="0.4444" stop-color="#c8e020"/><stop offset="0.4583" stop-color="#eae51a"/><stop offset="0.4722" stop-color="#efe51c"/><stop offset="0.4861" stop-color="#f8e621"/><stop offset="0.5000" stop-color="#fde725"/><stop offset="0.5139" stop-color="#f6e620"/><stop offset="0.5278" stop-color="#ece51b"/><stop offset="0.5417" stop-color="#dde318"/><stop offset="0.5556" stop-color="#a8db34"/><stop offset="0.5694" stop-color="#58c765"/><stop offset="0.5833" stop-color="#20a486"/><stop offset="0.5972" stop-color="#297b8e"/><stop offset="0.6111" stop-color="#3a538b"/><stop offset="0.6250" stop-color="#472d7b"/><stop offset="0.6389" stop-color="#471164"/><stop offset="0.6528" stop-color="#46085c"/><stop offset="0.6667" stop-color="#481769"/><stop offset="0.6806" stop-color="#453581"/><stop offset="0.6944" stop-color="#375a8c"/><stop offset="0.7083" stop-color="#2a788e"/><stop offset="0.7222" stop-color="#228b8d"/><stop offset="0.7361" stop-color="#21908d"/><stop offset="0.7500" stop-color="#23888e"/><stop offset="0.7639" stop-color="#2a768e"/><stop offset="0.7778" stop-color="#355f8d"/><stop offset="0.7917" stop-color="#424186"/><stop offset="0.8056" stop-color="#482677"/><stop offset="0.8194" stop-color="#481467"/><stop offset="0.8333" stop-color="#471063"/><stop offset="0.8472" stop-color="#482173"/><stop offset="0.8611" stop-color="#423f85"/><stop offset="0.8750" stop-color="#375b8d"/><stop offset="0.8889" stop-color="#306a8e"/><stop offset="0.9028" stop-color="#2f6b8e"/><stop offset="0.9167" stop-color="#34608d"/><stop offset="0.9306" stop-color="#3e4c8a"/><stop offset="0.9444" stop-color="#46337f"/><stop offset="0.9583" stop-color="#481f70"/><stop offset="0.9722" stop-color="#481467"/><stop offset="0.9861" stop-color="#481467"/><stop offset="1.0000" stop-color="#48186a"/></linearGradient><linearGradient id="b11" x1="0" y1="0" x2="0" y2="1"><stop offset="0.0000" stop-color="#481769"/><stop offset="0.0139" stop-color="#471063"/><stop offset="0.0278" stop-color="#460b5e"/><stop offset="0.0417" stop-color="#471063"/><stop offset="0.0556" stop-color="#481f70"/><stop offset="0.0694" stop-color="#472f7d"/><stop offset="0.0833" stop-color="#443b84"/><stop offset="0.0972" stop-color="#433d84"/><stop offset="0.1111" stop-color="#453882"/><stop offset="0.1250" stop-color="#472d7b"/><stop offset="0.1389" stop-color="#482173"/><stop offset="0.1528" stop-color="#481769"/><stop offset="0.1667" stop-color="#471063"/><stop offset="0.1806" stop-color="#471365"/><stop offset="0.1944" stop-color="#482374"/><stop offset="0.2083" stop-color="#443a83"/><stop offset="0.2222" stop-color="#3b518b"/><stop offset="0.2361" stop-color="#33628d"/><stop offset="0.2500" stop-color="#31678e"/><stop offset="0.2639" stop-color="#33628d"/><stop offset="0.2778" stop-color="#3b528b"/><stop offset="0.2917" stop-color="#433d84"/><stop offset="0.3056" stop-color="#482374"/><stop offset="0.3194" stop-color="#470d60"/><stop offset="0.3333" stop-color="#440154"/><stop offset="0.3472" stop-color="#450559"/><stop offset="0.3611" stop-color="#481c6e"/><stop offset="0.3750" stop-color="#424086"/><stop offset="0.3889" stop-color="#31688e"/><stop offset="0.4028" stop-color="#21908d"/><stop offset="0.4167" stop-color="#32b67a"/><stop offset="0.4306" stop-color="#77d153"/><stop offset="0.4444" stop-color="#bade28"/><stop offset="0.4583" stop-color="#dde318"/><stop offset="0.4722" stop-color="#dfe318"/><stop offset="0.4861" stop-color="#e7e419"/><stop offset="0.5000" stop-color="#ece51b"/><stop offset="0.5139" stop-color="#e2e418"/><stop offset="0.5278" stop-color="#d2e21b"/><stop offset="0.5417" stop-color="#c2df23"/><stop offset="0.5556" stop-color="#8ed645"/><stop offset="0.5694" stop-color="#48c16e"/><stop offset="0.5833" stop-color="#1f9f88"/><stop offset="0.5972" stop-color="#2a778e"/><stop offset="0.6111" stop-color="#3c508b"/><stop offset="0.6250" stop-color="#472c7a"/><stop offset="0.6389" stop-color="#471164"/><stop offset="0.6528" stop-color="#46085c"/><stop offset="0.6667" stop-color="#48186a"/><stop offset="0.6806" stop-color="#443a83"/><stop offset="0.6944" stop-color="#34618d"/><stop offset="0.7083" stop-color="#26828e"/><stop offset="0.7222" stop-color="#1f978b"/><stop offset="0.7361" stop-color="#1e9c89"/><stop offset="0.7500" stop-color="#20928c"/><stop offset="0.7639" stop-color="#27808e"/><stop offset="0.7778" stop-color="#32658e"/><stop offset="0.7917" stop-color="#3f4788"/><stop offset="0.8056" stop-color="#482979"/><stop offset="0.8194" stop-color="#481467"/><stop offset="0.8333" stop-color="#471063"/><stop offset="0.8472" stop-color="#481d6f"/><stop offset="0.8611" stop-color="#453781"/><stop offset="0.8750" stop-color="#3c508b"/><stop offset="0.8889" stop-color="#34618d"/><stop offset="0.9028" stop-color="#32648e"/><stop offset="0.9167" stop-color="#365d8d"/><stop offset="0.9306" stop-color="#3e4c8a"/><stop offset="0.9444" stop-color="#453581"/><stop offset="0.9583" stop-color="#482173"/><stop offset="0.9722" stop-color="#481467"/><stop offset="0.9861" stop-color="#481467"/><stop offset="1.0000" stop-color="#481769"/></linearGradient><linearGradient id="b12" x1="0" y1="0" x2="0" y2="1"><stop offset="0.0000" stop-color="#481769"/><stop offset="0.0139" stop-color="#471063"/><stop offset="0.0278" stop-color="#460b5e"/><stop offset="0.0417" stop-color="#481668"/><stop offset="0.0556" stop-color="#463480"/><stop offset="0.0694" stop-color="#39558c"/><stop offset="0.0833" stop-color="#306a8e"/><stop offset="0.0972" stop-color="#2f6b8e"/><stop offset="0.1111" stop-color="#34608d"/><stop offset="0.1250" stop-color="#3e4c8a"/><stop offset="0.1389" stop-color="#46337f"/><stop offset="0.1528" stop-color="#481d6f"/><stop offset="0.1667" stop-color="#471164"/><stop offset="0.1806" stop-color="#481467"/><stop offset="0.1944" stop-color="#472a7a"/><stop offset="0.2083" stop-color="#3e4c8a"/><stop offset="0.2222" stop-color="#30698e"/><stop offset="0.2361" stop-color="#277e8e"/><stop offset="0.2500" stop-color="#25848e"/><stop offset="0.2639" stop-color="#287d8e"/><stop offset="0.2778" stop-color="#2f6b8e"/><stop offset="0.2917" stop-color="#3c4f8a"/><stop offset="0.3056" stop-color="#472f7d"/><stop offset="0.3194" stop-color="#471365"/><stop offset="0.3333" stop-color="#440154"/><stop offset="0.3472" stop-color="#450457"/><stop offset="0.3611" stop-color="#481b6d"/><stop offset="0.3750" stop-color="#433e85"/><stop offset="0.3889" stop-color="#32658e"/><stop offset="0.4028" stop-color="#228b8d"/><stop offset="0.4167" stop-color="#2ab07f"/><stop offset="0.4306" stop-color="#67cc5c"/><stop offset="0.4444" stop-color="#a5db36"/><stop offset="0.4583" stop-color="#c8e020"/><stop offset="0.4722" stop-color="#cde11d"/><stop offset="0.4861" stop-color="#d8e219"/><stop offset="0.5000" stop-color="#dfe318"/><stop offset="0.5139" stop-color="#d0e11c"/><stop offset="0.5278" stop-color="#bddf26"/><stop offset="0.5417" stop-color="#addc30"/><stop offset="0.5556" stop-color="#7fd34e"/><stop offset="0.5694" stop-color="#3dbc74"/><stop offset="0.5833" stop-color="#1f9a8a"/><stop offset="0.5972" stop-color="#2b748e"/><stop offset="0.6111" stop-color="#3d4e8a"/><stop offset="0.6250" stop-color="#472a7a"/><stop offset="0.6389" stop-color="#471164"/><stop offset="0.6528" stop-color="#46085c"/><stop offset="0.6667" stop-color="#481769"/><stop offset="0.6806" stop-color="#453781"/><stop offset="0.6944" stop-color="#375b8d"/><stop offset="0.7083" stop-color="#29798e"/><stop offset="0.7222" stop-color="#228c8d"/><stop offset="0.7361" stop-color="#21908d"/><stop offset="0.7500" stop-color="#24878e"/><stop offset="0.7639" stop-color="#2a768e"/><stop offset="0.7778" stop-color="#355e8d"/><stop offset="0.7917" stop-color="#424186"/><stop offset="0.8056" stop-color="#482677"/><stop offset="0.8194" stop-color="#481467"/><stop offset="0.8333" stop-color="#471063"/><stop offset="0.8472" stop-color="#481c6e"/><stop offset="0.8611" stop-color="#46327e"/><stop offset="0.8750" stop-color="#3f4889"/><stop offset="0.8889" stop-color="#38598c"/><stop offset="0.9028" stop-color="#355f8d"/><stop offset="0.9167" stop-color="#375b8d"/><stop offset="0.9306" stop-color="#3d4d8a"/><stop offset="0.9444" stop-color="#443983"/><stop offset="0.9583" stop-color="#482576"/><stop offset="0.9722" stop-color="#481769"/><stop offset="0.9861" stop-color="#471365"/><stop offset="1.0000" stop-color="#481668"/></linearGradient><linearGradient id="b13" x1="0" y1="0" x2="0" y2="1"><stop offset="0.0000" stop-color="#481769"/><stop offset="0.0139" stop-color="#471063"/><stop offset="0.0278" stop-color="#460b5e"/><stop offset="0.0417" stop-color="#481a6c"/><stop offset="0.0556" stop-color="#424086"/><stop offset="0.0694" stop-color="#31678e"/><stop offset="0.0833" stop-color="#297b8e"/><stop offset="0.0972" stop-color="#297a8e"/><stop offset="0.1111" stop-color="#2e6d8e"/><stop offset="0.1250" stop-color="#39558c"/><stop offset="0.1389" stop-color="#443983"/><stop offset="0.1528" stop-color="#481f70"/><stop offset="0.1667" stop-color="#471063"/><stop offset="0.1806" stop-color="#481668"/><stop offset="0.1944" stop-color="#472f7d"/><stop offset="0.2083" stop-color="#3a538b"/><stop offset="0.2222" stop-color="#2c738e"/><stop offset="0.2361" stop-color="#23898e"/><stop offset="0.2500" stop-color="#21908d"/><stop offset="0.2639" stop-color="#23888e"/><stop offset="0.2778" stop-color="#2b748e"/><stop offset="0.2917" stop-color="#39568c"/><stop offset="0.3056" stop-color="#463480"/><stop offset="0.3194" stop-color="#481668"/><stop offset="0.3333" stop-color="#440256"/><stop offset="0.3472" stop-color="#450457"/><stop offset="0.3611" stop-color="#48186a"/><stop offset="0.3750" stop-color="#453882"/><stop offset="0.3889" stop-color="#365d8d"/><stop offset="0.4028" stop-color="#26828e"/><stop offset="0.4167" stop-color="#20a486"/><stop offset="0.4306" stop-color="#48c16e"/><stop offset="0.4444" stop-color="#7ad151"/><stop offset="0.4583" stop-color="#98d83e"/><stop offset="0.4722" stop-color="#9dd93b"/><stop offset="0.4861" stop-color="#a8db34"/><stop offset="0.5000" stop-color="#b0dd2f"/><stop offset="0.5139" stop-color="#9dd93b"/><stop offset="0.5278" stop-color="#89d548"/><stop offset="0.5417" stop-color="#7ad151"/><stop offset="0.5556" stop-color="#54c568"/><stop offset="0.5694" stop-color="#28ae80"/><stop offset="0.5833" stop-color="#218f8d"/><stop offset="0.5972" stop-color="#2f6c8e"/><stop offset="0.6111" stop-color="#3f4889"/><stop offset="0.6250" stop-color="#482878"/><stop offset="0.6389" stop-color="#471063"/><stop offset="0.6528" stop-color="#46085c"/><stop offset="0.6667" stop-color="#481769"/><stop offset="0.6806" stop-color="#453781"/><stop offset="0.6944" stop-color="#375b8d"/><stop offset="0.7083" stop-color="#29798e"/><stop offset="0.7222" stop-color="#228c8d"/><stop offset="0.7361" stop-color="#21908d"/><stop offset="0.7500" stop-color="#24878e"/><stop offset="0.7639" stop-color="#2b758e"/><stop offset="0.7778" stop-color="#355e8d"/><stop offset="0.7917" stop-color="#424186"/><stop offset="0.8056" stop-color="#482677"/><stop offset="0.8194" stop-color="#481467"/><stop offset="0.8333" stop-color="#471063"/><stop offset="0.8472" stop-color="#481f70"/><stop offset="0.8611" stop-color="#443a83"/><stop offset="0.8750" stop-color="#39568c"/><stop offset="0.8889" stop-color="#2e6d8e"/><stop offset="0.9028" stop-color="#2a778e"/><stop offset="0.9167" stop-color="#2b748e"/><stop offset="0.9306" stop-color="#31668e"/><stop offset="0.9444" stop-color="#3d4e8a"/><stop offset="0.9583" stop-color="#46327e"/><stop offset="0.9722" stop-color="#481c6e"/><stop offset="0.9861" stop-color="#471365"/><stop offset="1.0000" stop-color="#481668"/></linearGradient><linearGradient id="b14" x1="0" y1="0" x2="0" y2="1"><stop offset="0.0000" stop-color="#481668"/><stop offset="0.0139" stop-color="#470e61"/><stop offset="0.0278" stop-color="#460b5e"/><stop offset="0.0417" stop-color="#481668"/><stop offset="0.0556" stop-color="#472e7c"/><stop offset="0.0694" stop-color="#3f4889"/><stop offset="0.0833" stop-color="#39568c"/><stop offset="0.0972" stop-color="#39558c"/><stop offset="0.1111" stop-color="#3e4c8a"/><stop offset="0.1250" stop-color="#443b84"/><stop offset="0.1389" stop-color="#482979"/><stop offset="0.1528" stop-color="#48186a"/><stop offset="0.1667" stop-color="#471063"/><stop offset="0.1806" stop-color="#481467"/><stop offset="0.1944" stop-color="#482878"/><stop offset="0.2083" stop-color="#414487"/><stop offset="0.2222" stop-color="#355e8d"/><stop offset="0.2361" stop-color="#2e6f8e"/><stop offset="0.2500" stop-color="#2c738e"/><stop offset="0.2639" stop-color="#2e6e8e"/><stop offset="0.2778" stop-color="#34608d"/><stop offset="0.2917" stop-color="#3e4c8a"/><stop offset="0.3056" stop-color="#46337f"/><stop offset="0.3194" stop-color="#481a6c"/><stop offset="0.3333" stop-color="#46075a"/><stop offset="0.3472" stop-color="#440154"/><stop offset="0.3611" stop-color="#460a5d"/><stop offset="0.3750" stop-color="#482475"/><stop offset="0.3889" stop-color="#3f4788"/><stop offset="0.4028" stop-color="#2f6c8e"/><stop offset="0.4167" stop-color="#218e8d"/><stop offset="0.4306" stop-color="#25ac82"/><stop offset="0.4444" stop-color="#48c16e"/><stop offset="0.4583" stop-color="#60ca60"/><stop offset="0.4722" stop-color="#65cb5e"/><stop offset="0.4861" stop-color="#69cd5b"/><stop offset="0.5000" stop-color="#6ece58"/><stop offset="0.5139" stop-color="#60ca60"/><stop offset="0.5278" stop-color="#4ec36b"/><stop offset="0.5417" stop-color="#44bf70"/><stop offset="0.5556" stop-color="#2ab07f"/><stop offset="0.5694" stop-color="#1f988b"/><stop offset="0.5833" stop-color="#297a8e"/><stop offset="0.5972" stop-color="#375a8c"/><stop offset="0.6111" stop-color="#453882"/><stop offset="0.6250" stop-color="#481b6d"/><stop offset="0.6389" stop-color="#460a5d"/><stop offset="0.6528" stop-color="#460b5e"/><stop offset="0.6667" stop-color="#482677"/><stop offset="0.6806" stop-color="#3d4d8a"/><stop offset="0.6944" stop-color="#2b748e"/><stop offset="0.7083" stop-color="#1f948c"/><stop offset="0.7222" stop-color="#23a983"/><stop offset="0.7361" stop-color="#25ac82"/><stop offset="0.7500" stop-color="#1fa187"/><stop offset="0.7639" stop-color="#228b8d"/><stop offset="0.7778" stop-color="#2e6e8e"/><stop offset="0.7917" stop-color="#3d4d8a"/><stop offset="0.8056" stop-color="#472c7a"/><stop offset="0.8194" stop-color="#481668"/><stop offset="0.8333" stop-color="#471063"/><stop offset="0.8472" stop-color="#481f70"/><stop offset="0.8611" stop-color="#443b84"/><stop offset="0.8750" stop-color="#375b8d"/><stop offset="0.8889" stop-color="#2c738e"/><stop offset="0.9028" stop-color="#26828e"/><stop offset="0.9167" stop-color="#26828e"/><stop offset="0.9306" stop-color="#2b758e"/><stop offset="0.9444" stop-color="#355e8d"/><stop offset="0.9583" stop-color="#423f85"/><stop offset="0.9722" stop-color="#482374"/><stop offset="0.9861" stop-color="#481467"/><stop offset="1.0000" stop-color="#481668"/></linearGradient><linearGradient id="b15" x1="0" y1="0" x2="0" y2="1"><stop offset="0.0000" stop-color="#481668"/><stop offset="0.0139" stop-color="#470e61"/><stop offset="0.0278" stop-color="#460b5e"/><stop offset="0.0417" stop-color="#481a6c"/><stop offset="0.0556" stop-color="#453781"/><stop offset="0.0694" stop-color="#3a538b"/><stop offset="0.0833" stop-color="#33638d"/><stop offset="0.0972" stop-color="#33628d"/><stop offset="0.1111" stop-color="#38588c"/><stop offset="0.1250" stop-color="#404588"/><stop offset="0.1389" stop-color="#472e7c"/><stop offset="0.1528" stop-color="#481a6c"/><stop offset="0.1667" stop-color="#471063"/><stop offset="0.1806" stop-color="#481668"/><stop offset="0.1944" stop-color="#472c7a"/><stop offset="0.2083" stop-color="#3e4a89"/><stop offset="0.2222" stop-color="#31668e"/><stop offset="0.2361" stop-color="#2a788e"/><stop offset="0.2500" stop-color="#287d8e"/><stop offset="0.2639" stop-color="#2a778e"/><stop offset="0.2778" stop-color="#2f6b8e"/><stop offset="0.2917" stop-color="#38588c"/><stop offset="0.3056" stop-color="#424086"/><stop offset="0.3194" stop-color="#482677"/><stop offset="0.3333" stop-color="#471164"/><stop offset="0.3472" stop-color="#440256"/><stop offset="0.3611" stop-color="#440256"/><stop offset="0.3750" stop-color="#481467"/><stop offset="0.3889" stop-color="#453581"/><stop offset="0.4028" stop-color="#365c8d"/><stop offset="0.4167" stop-color="#27808e"/><stop offset="0.4306" stop-color="#1fa088"/><stop offset="0.4444" stop-color="#35b779"/><stop offset="0.4583" stop-color="#4cc26c"/><stop offset="0.4722" stop-color="#50c46a"/><stop offset="0.4861" stop-color="#58c765"/><stop offset="0.5000" stop-color="#5cc863"/><stop offset="0.5139" stop-color="#4ec36b"/><stop offset="0.5278" stop-color="#3bbb75"/><stop offset="0.5417" stop-color="#34b679"/><stop offset="0.5556" stop-color="#21a685"/><stop offset="0.5694" stop-color="#228d8d"/><stop offset="0.5833" stop-color="#2e6f8e"/><stop offset="0.5972" stop-color="#3d4d8a"/><stop offset="0.6111" stop-color="#472c7a"/><stop offset="0.6250" stop-color="#471365"/><stop offset="0.6389" stop-color="#46085c"/><stop offset="0.6528" stop-color="#481467"/><stop offset="0.6667" stop-color="#453581"/><stop offset="0.6806" stop-color="#355e8d"/><stop offset="0.6944" stop-color="#25848e"/><stop offset="0.7083" stop-color="#20a486"/><stop offset="0.7222" stop-color="#35b779"/><stop offset="0.7361" stop-color="#3aba76"/><stop offset="0.7500" stop-color="#27ad81"/><stop offset="0.7639" stop-color="#1f958b"/><stop offset="0.7778" stop-color="#2b758e"/><stop offset="0.7917" stop-color="#3b518b"/><stop offset="0.8056" stop-color="#472e7c"/><stop offset="0.8194" stop-color="#481668"/><stop offset="0.8333" stop-color="#471063"/><stop offset="0.8472" stop-color="#481f70"/><stop offset="0.8611" stop-color="#443b84"/><stop offset="0.8750" stop-color="#375b8d"/><stop offset="0.8889" stop-color="#2b758e"/><stop offset="0.9028" stop-color="#24868e"/><stop offset="0.9167" stop-color="#228b8d"/><stop offset="0.9306" stop-color="#26828e"/><stop offset="0.9444" stop-color="#2f6c8e"/><stop offset="0.9583" stop-color="#3d4e8a"/><stop offset="0.9722" stop-color="#472e7c"/><stop offset="0.9861" stop-color="#48186a"/><stop offset="1.0000" stop-color="#481467"/></linearGradient><linearGradient id="b16" x1="0" y1="0" x2="0" y2="1"><stop offset="0.0000" stop-color="#48186a"/><stop offset="0.0139" stop-color="#470e61"/><stop offset="0.0278" stop-color="#460b5e"/><stop offset="0.0417" stop-color="#482374"/><stop offset="0.0556" stop-color="#3a538b"/><stop offset="0.0694" stop-color="#26818e"/><stop offset="0.0833" stop-color="#1f9a8a"/><stop offset="0.0972" stop-color="#1f988b"/><stop offset="0.1111" stop-color="#25848e"/><stop offset="0.1250" stop-color="#32648e"/><stop offset="0.1389" stop-color="#433e85"/><stop offset="0.1528" stop-color="#481c6e"/><stop offset="0.1667" stop-color="#471063"/><stop offset="0.1806" stop-color="#481c6e"/><stop offset="0.1944" stop-color="#433d84"/><stop offset="0.2083" stop-color="#33628d"/><stop offset="0.2222" stop-color="#25838e"/><stop offset="0.2361" stop-color="#1e9b8a"/><stop offset="0.2500" stop-color="#20a386"/><stop offset="0.2639" stop-color="#1f9e89"/><stop offset="0.2778" stop-color="#218f8d"/><stop offset="0.2917" stop-color="#2a788e"/><stop offset="0.3056" stop-color="#365c8d"/><stop offset="0.3194" stop-color="#433d84"/><stop offset="0.3333" stop-color="#481f70"/><stop offset="0.3472" stop-color="#46085c"/><stop offset="0.3611" stop-color="#440154"/><stop offset="0.3750" stop-color="#460b5e"/><stop offset="0.3889" stop-color="#482677"/><stop offset="0.4028" stop-color="#3f4889"/><stop offset="0.4167" stop-color="#2f6c8e"/><stop offset="0.4306" stop-color="#23898e"/><stop offset="0.4444" stop-color="#1fa188"/><stop offset="0.4583" stop-color="#27ad81"/><stop offset="0.4722" stop-color="#29af7f"/><stop offset="0.4861" stop-color="#2db27d"/><stop offset="0.5000" stop-color="#2fb47c"/><stop offset="0.5139" stop-color="#29af7f"/><stop offset="0.5278" stop-color="#22a884"/><stop offset="0.5417" stop-color="#20a386"/><stop offset="0.5556" stop-color="#20938c"/><stop offset="0.5694" stop-color="#297a8e"/><stop offset="0.5833" stop-color="#365d8d"/><stop offset="0.5972" stop-color="#443b84"/><stop offset="0.6111" stop-color="#481d6f"/><stop offset="0.6250" stop-color="#460b5e"/><stop offset="0.6389" stop-color="#460a5d"/><stop offset="0.6528" stop-color="#482173"/><stop offset="0.6667" stop-color="#404688"/><stop offset="0.6806" stop-color="#2e6e8e"/><stop offset="0.6944" stop-color="#20928c"/><stop offset="0.7083" stop-color="#29af7f"/><stop offset="0.7222" stop-color="#46c06f"/><stop offset="0.7361" stop-color="#4cc26c"/><stop offset="0.7500" stop-color="#3aba76"/><stop offset="0.7639" stop-color="#22a884"/><stop offset="0.7778" stop-color="#218e8d"/><stop offset="0.7917" stop-color="#2d708e"/><stop offset="0.8056" stop-color="#3c4f8a"/><stop offset="0.8194" stop-color="#46307e"/><stop offset="0.8333" stop-color="#481a6c"/><stop offset="0.8472" stop-color="#471063"/><stop offset="0.8611" stop-color="#481d6f"/><stop offset="0.8750" stop-color="#414287"/><stop offset="0.8889" stop-color="#2f6b8e"/><stop offset="0.9028" stop-color="#24878e"/><stop offset="0.9167" stop-color="#21908d"/><stop offset="0.9306" stop-color="#23888e"/><stop offset="0.9444" stop-color="#2b748e"/><stop offset="0.9583" stop-color="#38598c"/><stop offset="0.9722" stop-color="#443983"/><stop offset="0.9861" stop-color="#481f70"/><stop offset="1.0000" stop-color="#471365"/></linearGradient><linearGradient id="b17" x1="0" y1="0" x2="0" y2="1"><stop offset="0.0000" stop-color="#481769"/><stop offset="0.0139" stop-color="#470e61"/><stop offset="0.0278" stop-color="#460b5e"/><stop offset="0.0417" stop-color="#482374"/><stop offset="0.0556" stop-color="#3a538b"/><stop offset="0.0694" stop-color="#26818e"/><stop offset="0.0833" stop-color="#1f9a8a"/><stop offset="0.0972" stop-color="#1f988b"/><stop offset="0.1111" stop-color="#26828e"/><stop offset="0.1250" stop-color="#34608d"/><stop offset="0.1389" stop-color="#453781"/><stop offset="0.1528" stop-color="#481769"/><stop offset="0.1667" stop-color="#471063"/><stop offset="0.1806" stop-color="#482374"/><stop offset="0.1944" stop-color="#414287"/><stop offset="0.2083" stop-color="#31678e"/><stop offset="0.2222" stop-color="#24878e"/><stop offset="0.2361" stop-color="#1f9e89"/><stop offset="0.2500" stop-color="#22a884"/><stop offset="0.2639" stop-color="#20a486"/><stop offset="0.2778" stop-color="#1f968b"/><stop offset="0.2917" stop-color="#26818e"/><stop offset="0.3056" stop-color="#31668e"/><stop offset="0.3194" stop-color="#404688"/><stop offset="0.3333" stop-color="#482878"/><stop offset="0.3472" stop-color="#470e61"/><stop offset="0.3611" stop-color="#440154"/><stop offset="0.3750" stop-color="#450457"/><stop offset="0.3889" stop-color="#481a6c"/><stop offset="0.4028" stop-color="#453781"/><stop offset="0.4167" stop-color="#39568c"/><stop offset="0.4306" stop-color="#2c728e"/><stop offset="0.4444" stop-color="#23888e"/><stop offset="0.4583" stop-color="#1f948c"/><stop offset="0.4722" stop-color="#1f978b"/><stop offset="0.4861" stop-color="#1f9a8a"/><stop offset="0.5000" stop-color="#1e9c89"/><stop offset="0.5139" stop-color="#1f998a"/><stop offset="0.5278" stop-color="#1f958b"/><stop offset="0.5417" stop-color="#21918c"/><stop offset="0.5556" stop-color="#26818e"/><stop offset="0.5694" stop-color="#31688e"/><stop offset="0.5833" stop-color="#3e4a89"/><stop offset="0.5972" stop-color="#472a7a"/><stop offset="0.6111" stop-color="#471365"/><stop offset="0.6250" stop-color="#46085c"/><stop offset="0.6389" stop-color="#471365"/><stop offset="0.6528" stop-color="#472d7b"/><stop offset="0.6667" stop-color="#3b528b"/><stop offset="0.6806" stop-color="#2a768e"/><stop offset="0.6944" stop-color="#1f978b"/><stop offset="0.7083" stop-color="#2db27d"/><stop offset="0.7222" stop-color="#48c16e"/><stop offset="0.7361" stop-color="#4cc26c"/><stop offset="0.7500" stop-color="#3aba76"/><stop offset="0.7639" stop-color="#22a884"/><stop offset="0.7778" stop-color="#218f8d"/><stop offset="0.7917" stop-color="#2d718e"/><stop offset="0.8056" stop-color="#3b518b"/><stop offset="0.8194" stop-color="#46327e"/><stop offset="0.8333" stop-color="#481b6d"/><stop offset="0.8472" stop-color="#471063"/><stop offset="0.8611" stop-color="#481b6d"/><stop offset="0.8750" stop-color="#423f85"/><stop offset="0.8889" stop-color="#31688e"/><stop offset="0.9028" stop-color="#25858e"/><stop offset="0.9167" stop-color="#21908d"/><stop offset="0.9306" stop-color="#238a8d"/><stop offset="0.9444" stop-color="#29798e"/><stop offset="0.9583" stop-color="#34608d"/><stop offset="0.9722" stop-color="#414287"/><stop offset="0.9861" stop-color="#482878"/><stop offset="1.0000" stop-color="#481668"/></linearGradient><linearGradient id="b18" x1="0" y1="0" x2="0" y2="1"><stop offset="0.0000" stop-color="#481b6d"/><stop offset="0.0139" stop-color="#471063"/><stop offset="0.0278" stop-color="#460b5e"/><stop offset="0.0417" stop-color="#481c6e"/><stop offset="0.0556" stop-color="#433e85"/><stop offset="0.0694" stop-color="#34608d"/><stop offset="0.0833" stop-color="#2c718e"/><stop offset="0.0972" stop-color="#2d718e"/><stop offset="0.1111" stop-color="#355f8d"/><stop offset="0.1250" stop-color="#414487"/><stop offset="0.1389" stop-color="#482576"/><stop offset="0.1528" stop-color="#471164"/><stop offset="0.1667" stop-color="#471365"/><stop offset="0.1806" stop-color="#482374"/><stop offset="0.1944" stop-color="#433d84"/><stop offset="0.2083" stop-color="#38598c"/><stop offset="0.2222" stop-color="#2d718e"/><stop offset="0.2361" stop-color="#26828e"/><stop offset="0.2500" stop-color="#228b8d"/><stop offset="0.2639" stop-color="#23898e"/><stop offset="0.2778" stop-color="#27808e"/><stop offset="0.2917" stop-color="#2d708e"/><stop offset="0.3056" stop-color="#375a8c"/><stop offset="0.3194" stop-color="#424086"/><stop offset="0.3333" stop-color="#482677"/><stop offset="0.3472" stop-color="#471164"/><stop offset="0.3611" stop-color="#440256"/><stop offset="0.3750" stop-color="#440154"/><stop offset="0.3889" stop-color="#471063"/><stop offset="0.4028" stop-color="#472a7a"/><stop offset="0.4167" stop-color="#3f4889"/><stop offset="0.4306" stop-color="#32658e"/><stop offset="0.4444" stop-color="#297a8e"/><stop offset="0.4583" stop-color="#23888e"/><stop offset="0.4722" stop-color="#228b8d"/><stop offset="0.4861" stop-color="#218e8d"/><stop offset="0.5000" stop-color="#21908d"/><stop offset="0.5139" stop-color="#218e8d"/><stop offset="0.5278" stop-color="#228b8d"/><stop offset="0.5417" stop-color="#24868e"/><stop offset="0.5556" stop-color="#2b758e"/><stop offset="0.5694" stop-color="#365c8d"/><stop offset="0.5833" stop-color="#433d84"/><stop offset="0.5972" stop-color="#481f70"/><stop offset="0.6111" stop-color="#460b5e"/><stop offset="0.6250" stop-color="#460a5d"/><stop offset="0.6389" stop-color="#481c6e"/><stop offset="0.6528" stop-color="#443b84"/><stop offset="0.6667" stop-color="#34608d"/><stop offset="0.6806" stop-color="#26828e"/><stop offset="0.6944" stop-color="#1fa187"/><stop offset="0.7083" stop-color="#3aba76"/><stop offset="0.7222" stop-color="#58c765"/><stop offset="0.7361" stop-color="#5cc863"/><stop offset="0.7500" stop-color="#48c16e"/><stop offset="0.7639" stop-color="#28ae80"/><stop offset="0.7778" stop-color="#1f948c"/><stop offset="0.7917" stop-color="#2b758e"/><stop offset="0.8056" stop-color="#39558c"/><stop offset="0.8194" stop-color="#453581"/><stop offset="0.8333" stop-color="#481c6e"/><stop offset="0.8472" stop-color="#471063"/><stop offset="0.8611" stop-color="#481a6c"/><stop offset="0.8750" stop-color="#424086"/><stop offset="0.8889" stop-color="#2e6d8e"/><stop offset="0.9028" stop-color="#218f8d"/><stop offset="0.9167" stop-color="#1e9c89"/><stop offset="0.9306" stop-color="#1f968b"/><stop offset="0.9444" stop-color="#24868e"/><stop offset="0.9583" stop-color="#2e6e8e"/><stop offset="0.9722" stop-color="#3b518b"/><stop offset="0.9861" stop-color="#46337f"/><stop offset="1.0000" stop-color="#481c6e"/></linearGradient><linearGradient id="b19" x1="0" y1="0" x2="0" y2="1"><stop offset="0.0000" stop-color="#482071"/><stop offset="0.0139" stop-color="#471164"/><stop offset="0.0278" stop-color="#460b5e"/><stop offset="0.0417" stop-color="#481f70"/><stop offset="0.0556" stop-color="#3f4788"/><stop offset="0.0694" stop-color="#2e6e8e"/><stop offset="0.0833" stop-color="#26828e"/><stop offset="0.0972" stop-color="#26818e"/><stop offset="0.1111" stop-color="#2e6d8e"/><stop offset="0.1250" stop-color="#3d4d8a"/><stop offset="0.1389" stop-color="#482979"/><stop offset="0.1528" stop-color="#471365"/><stop offset="0.1667" stop-color="#471365"/><stop offset="0.1806" stop-color="#482374"/><stop offset="0.1944" stop-color="#433d84"/><stop offset="0.2083" stop-color="#375a8c"/><stop offset="0.2222" stop-color="#2c728e"/><stop offset="0.2361" stop-color="#25858e"/><stop offset="0.2500" stop-color="#21908d"/><stop offset="0.2639" stop-color="#218f8d"/><stop offset="0.2778" stop-color="#24868e"/><stop offset="0.2917" stop-color="#2a788e"/><stop offset="0.3056" stop-color="#32648e"/><stop offset="0.3194" stop-color="#3e4c8a"/><stop offset="0.3333" stop-color="#46327e"/><stop offset="0.3472" stop-color="#481b6d"/><stop offset="0.3611" stop-color="#46085c"/><stop offset="0.3750" stop-color="#440154"/><stop offset="0.3889" stop-color="#46075a"/><stop offset="0.4028" stop-color="#481c6e"/><stop offset="0.4167" stop-color="#453882"/><stop offset="0.4306" stop-color="#3a548c"/><stop offset="0.4444" stop-color="#2f6c8e"/><stop offset="0.4583" stop-color="#297a8e"/><stop offset="0.4722" stop-color="#27808e"/><stop offset="0.4861" stop-color="#26828e"/><stop offset="0.5000" stop-color="#25848e"/><stop offset="0.5139" stop-color="#26828e"/><stop offset="0.5278" stop-color="#27808e"/><stop offset="0.5417" stop-color="#297a8e"/><stop offset="0.5556" stop-color="#30698e"/><stop offset="0.5694" stop-color="#3d4d8a"/><stop offset="0.5833" stop-color="#472e7c"/><stop offset="0.5972" stop-color="#471365"/><stop offset="0.6111" stop-color="#46085c"/><stop offset="0.6250" stop-color="#471063"/><stop offset="0.6389" stop-color="#482576"/><stop offset="0.6528" stop-color="#414487"/><stop offset="0.6667" stop-color="#32648e"/><stop offset="0.6806" stop-color="#26828e"/><stop offset="0.6944" stop-color="#1e9d89"/><stop offset="0.7083" stop-color="#2cb17e"/><stop offset="0.7222" stop-color="#3fbc73"/><stop offset="0.7361" stop-color="#42be71"/><stop offset="0.7500" stop-color="#34b679"/><stop offset="0.7639" stop-color="#21a585"/><stop offset="0.7778" stop-color="#228d8d"/><stop offset="0.7917" stop-color="#2d718e"/><stop offset="0.8056" stop-color="#3b528b"/><stop offset="0.8194" stop-color="#463480"/><stop offset="0.8333" stop-color="#481d6f"/><stop offset="0.8472" stop-color="#471063"/><stop offset="0.8611" stop-color="#48186a"/><stop offset="0.8750" stop-color="#423f85"/><stop offset="0.8889" stop-color="#2e6e8e"/><stop offset="0.9028" stop-color="#20938c"/><stop offset="0.9167" stop-color="#20a386"/><stop offset="0.9306" stop-color="#1f9f88"/><stop offset="0.9444" stop-color="#21908d"/><stop offset="0.9583" stop-color="#29798e"/><stop offset="0.9722" stop-color="#365d8d"/><stop offset="0.9861" stop-color="#423f85"/><stop offset="1.0000" stop-color="#482475"/></linearGradient><linearGradient id="b20" x1="0" y1="0" x2="0" y2="1"><stop offset="0.0000" stop-color="#482071"/><stop offset="0.0139" stop-color="#471164"/><stop offset="0.0278" stop-color="#460b5e"/><stop offset="0.0417" stop-color="#481b6d"/><stop offset="0.0556" stop-color="#443a83"/><stop offset="0.0694" stop-color="#375a8c"/><stop offset="0.0833" stop-color="#2f6b8e"/><stop offset="0.0972" stop-color="#30698e"/><stop offset="0.1111" stop-color="#375a8c"/><stop offset="0.1250" stop-color="#423f85"/><stop offset="0.1389" stop-color="#482475"/><stop offset="0.1528" stop-color="#471164"/><stop offset="0.1667" stop-color="#471365"/><stop offset="0.1806" stop-color="#482173"/><stop offset="0.1944" stop-color="#443b84"/><stop offset="0.2083" stop-color="#38588c"/><stop offset="0.2222" stop-color="#2d718e"/><stop offset="0.2361" stop-color="#25838e"/><stop offset="0.2500" stop-color="#218f8d"/><stop offset="0.2639" stop-color="#21908d"/><stop offset="0.2778" stop-color="#23898e"/><stop offset="0.2917" stop-color="#287c8e"/><stop offset="0.3056" stop-color="#306a8e"/><stop offset="0.3194" stop-color="#3a548c"/><stop offset="0.3333" stop-color="#443b84"/><stop offset="0.3472" stop-color="#482374"/><stop offset="0.3611" stop-color="#471063"/><stop offset="0.3750" stop-color="#440256"/><stop offset="0.3889" stop-color="#440154"/><stop offset="0.4028" stop-color="#460b5e"/><stop offset="0.4167" stop-color="#481f70"/><stop offset="0.4306" stop-color="#463480"/><stop offset="0.4444" stop-color="#3f4788"/><stop offset="0.4583" stop-color="#3a548c"/><stop offset="0.4722" stop-color="#375a8c"/><stop offset="0.4861" stop-color="#365c8d"/><stop offset="0.5000" stop-color="#355f8d"/><stop offset="0.5139" stop-color="#365d8d"/><stop offset="0.5278" stop-color="#375a8c"/><stop offset="0.5417" stop-color="#39558c"/><stop offset="0.5556" stop-color="#404688"/><stop offset="0.5694" stop-color="#46307e"/><stop offset="0.5833" stop-color="#481a6c"/><stop offset="0.5972" stop-color="#460a5d"/><stop offset="0.6111" stop-color="#460a5d"/><stop offset="0.6250" stop-color="#48186a"/><stop offset="0.6389" stop-color="#46327e"/><stop offset="0.6528" stop-color="#3b528b"/><stop offset="0.6667" stop-color="#2c718e"/><stop offset="0.6806" stop-color="#21908d"/><stop offset="0.6944" stop-color="#24aa83"/><stop offset="0.7083" stop-color="#40bd72"/><stop offset="0.7222" stop-color="#58c765"/><stop offset="0.7361" stop-color="#5cc863"/><stop offset="0.7500" stop-color="#48c16e"/><stop offset="0.7639" stop-color="#29af7f"/><stop offset="0.7778" stop-color="#1f968b"/><stop offset="0.7917" stop-color="#2a788e"/><stop offset="0.8056" stop-color="#38598c"/><stop offset="0.8194" stop-color="#443983"/><stop offset="0.8333" stop-color="#481f70"/><stop offset="0.8472" stop-color="#471164"/><stop offset="0.8611" stop-color="#481668"/><stop offset="0.8750" stop-color="#453581"/><stop offset="0.8889" stop-color="#355f8d"/><stop offset="0.9028" stop-color="#26818e"/><stop offset="0.9167" stop-color="#21908d"/><stop offset="0.9306" stop-color="#228d8d"/><stop offset="0.9444" stop-color="#26828e"/><stop offset="0.9583" stop-color="#2d718e"/><stop offset="0.9722" stop-color="#375a8c"/><stop offset="0.9861" stop-color="#424086"/><stop offset="1.0000" stop-color="#482979"/></linearGradient><linearGradient id="c0" x1="0" y1="0" x2="0" y2="1"><stop offset="0.0000" stop-color="#fde725"/><stop offset="0.0227" stop-color="#fde725"/><stop offset="0.0455" stop-color="#fde725"/><stop offset="0.0682" stop-color="#fbe723"/><stop offset="0.0909" stop-color="#fbe723"/><stop offset="0.1136" stop-color="#f8e621"/><stop offset="0.1364" stop-color="#f8e621"/><stop offset="0.1591" stop-color="#f6e620"/><stop offset="0.1818" stop-color="#f4e61e"/><stop offset="0.2045" stop-color="#f1e51d"/><stop offset="0.2273" stop-color="#ece51b"/><stop offset="0.2500" stop-color="#e2e418"/><stop offset="0.2727" stop-color="#c2df23"/><stop offset="0.2955" stop-color="#7fd34e"/><stop offset="0.3182" stop-color="#35b779"/><stop offset="0.3409" stop-color="#1f998a"/><stop offset="0.3636" stop-color="#287c8e"/><stop offset="0.3864" stop-color="#3e4989"/><stop offset="0.4091" stop-color="#482878"/><stop offset="0.4318" stop-color="#481d6f"/><stop offset="0.4545" stop-color="#472c7a"/><stop offset="0.4773" stop-color="#3a538b"/><stop offset="0.5000" stop-color="#287c8e"/><stop offset="0.5227" stop-color="#23a983"/><stop offset="0.5455" stop-color="#77d153"/><stop offset="0.5682" stop-color="#bddf26"/><stop offset="0.5909" stop-color="#c8e020"/><stop offset="0.6136" stop-color="#addc30"/><stop offset="0.6364" stop-color="#7cd250"/><stop offset="0.6591" stop-color="#54c568"/><stop offset="0.6818" stop-color="#44bf70"/><stop offset="0.7045" stop-color="#67cc5c"/><stop offset="0.7273" stop-color="#9dd93b"/><stop offset="0.7500" stop-color="#8ed645"/><stop offset="0.7727" stop-color="#3aba76"/><stop offset="0.7955" stop-color="#1f988b"/><stop offset="0.8182" stop-color="#238a8d"/><stop offset="0.8409" stop-color="#287d8e"/><stop offset="0.8636" stop-color="#2c728e"/><stop offset="0.8864" stop-color="#2a778e"/><stop offset="0.9091" stop-color="#228d8d"/><stop offset="0.9318" stop-color="#40bd72"/><stop offset="0.9545" stop-color="#a0da39"/><stop offset="0.9773" stop-color="#dae319"/><stop offset="1.0000" stop-color="#eae51a"/></linearGradient><linearGradient id="c1" x1="0" y1="0" x2="0" y2="1"><stop offset="0.0000" stop-color="#fde725"/><stop offset="0.0227" stop-color="#fde725"/><stop offset="0.0455" stop-color="#fde725"/><stop offset="0.0682" stop-color="#fbe723"/><stop offset="0.0909" stop-color="#fbe723"/><stop offset="0.1136" stop-color="#f8e621"/><stop offset="0.1364" stop-color="#f8e621"/><stop offset="0.1591" stop-color="#f6e620"/><stop offset="0.1818" stop-color="#f4e61e"/><stop offset="0.2045" stop-color="#f1e51d"/><stop offset="0.2273" stop-color="#ece51b"/><stop offset="0.2500" stop-color="#e2e418"/><stop offset="0.2727" stop-color="#c0df25"/><stop offset="0.2955" stop-color="#7cd250"/><stop offset="0.3182" stop-color="#35b779"/><stop offset="0.3409" stop-color="#1f998a"/><stop offset="0.3636" stop-color="#287c8e"/><stop offset="0.3864" stop-color="#3e4a89"/><stop offset="0.4091" stop-color="#482979"/><stop offset="0.4318" stop-color="#481d6f"/><stop offset="0.4545" stop-color="#472c7a"/><stop offset="0.4773" stop-color="#3a548c"/><stop offset="0.5000" stop-color="#287d8e"/><stop offset="0.5227" stop-color="#23a983"/><stop offset="0.5455" stop-color="#77d153"/><stop offset="0.5682" stop-color="#bddf26"/><stop offset="0.5909" stop-color="#c8e020"/><stop offset="0.6136" stop-color="#b0dd2f"/><stop offset="0.6364" stop-color="#7cd250"/><stop offset="0.6591" stop-color="#56c667"/><stop offset="0.6818" stop-color="#44bf70"/><stop offset="0.7045" stop-color="#67cc5c"/><stop offset="0.7273" stop-color="#9bd93c"/><stop offset="0.7500" stop-color="#8ed645"/><stop offset="0.7727" stop-color="#3fbc73"/><stop offset="0.7955" stop-color="#1e9c89"/><stop offset="0.8182" stop-color="#228d8d"/><stop offset="0.8409" stop-color="#277f8e"/><stop offset="0.8636" stop-color="#2c738e"/><stop offset="0.8864" stop-color="#2a788e"/><stop offset="0.9091" stop-color="#228d8d"/><stop offset="0.9318" stop-color="#3dbc74"/><stop offset="0.9545" stop-color="#98d83e"/><stop offset="0.9773" stop-color="#d2e21b"/><stop offset="1.0000" stop-color="#e5e419"/></linearGradient><linearGradient id="c2" x1="0" y1="0" x2="0" y2="1"><stop offset="0.0000" stop-color="#fde725"/><stop offset="0.0227" stop-color="#fde725"/><stop offset="0.0455" stop-color="#fde725"/><stop offset="0.0682" stop-color="#fbe723"/><stop offset="0.0909" stop-color="#fbe723"/><stop offset="0.1136" stop-color="#f8e621"/><stop offset="0.1364" stop-color="#f6e620"/><stop offset="0.1591" stop-color="#f6e620"/><stop offset="0.1818" stop-color="#f4e61e"/><stop offset="0.2045" stop-color="#f1e51d"/><stop offset="0.2273" stop-color="#ece51b"/><stop offset="0.2500" stop-color="#dfe318"/><stop offset="0.2727" stop-color="#bddf26"/><stop offset="0.2955" stop-color="#77d153"/><stop offset="0.3182" stop-color="#31b57b"/><stop offset="0.3409" stop-color="#1f978b"/><stop offset="0.3636" stop-color="#297b8e"/><stop offset="0.3864" stop-color="#3e4c8a"/><stop offset="0.4091" stop-color="#482979"/><stop offset="0.4318" stop-color="#481d6f"/><stop offset="0.4545" stop-color="#472a7a"/><stop offset="0.4773" stop-color="#3b528b"/><stop offset="0.5000" stop-color="#297b8e"/><stop offset="0.5227" stop-color="#22a884"/><stop offset="0.5455" stop-color="#73d056"/><stop offset="0.5682" stop-color="#bade28"/><stop offset="0.5909" stop-color="#c8e020"/><stop offset="0.6136" stop-color="#addc30"/><stop offset="0.6364" stop-color="#7cd250"/><stop offset="0.6591" stop-color="#54c568"/><stop offset="0.6818" stop-color="#42be71"/><stop offset="0.7045" stop-color="#63cb5f"/><stop offset="0.7273" stop-color="#93d741"/><stop offset="0.7500" stop-color="#8bd646"/><stop offset="0.7727" stop-color="#42be71"/><stop offset="0.7955" stop-color="#1f9f88"/><stop offset="0.8182" stop-color="#218e8d"/><stop offset="0.8409" stop-color="#277f8e"/><stop offset="0.8636" stop-color="#2c738e"/><stop offset="0.8864" stop-color="#2a778e"/><stop offset="0.9091" stop-color="#238a8d"/><stop offset="0.9318" stop-color="#35b779"/><stop offset="0.9545" stop-color="#8bd646"/><stop offset="0.9773" stop-color="#cae11f"/><stop offset="1.0000" stop-color="#dfe318"/></linearGradient><linearGradient id="c3" x1="0" y1="0" x2="0" y2="1"><stop offset="0.0000" stop-color="#fde725"/><stop offset="0.0227" stop-color="#fde725"/><stop offset="0.0455" stop-color="#fbe723"/><stop offset="0.0682" stop-color="#fbe723"/><stop offset="0.0909" stop-color="#f8e621"/><stop offset="0.1136" stop-color="#f8e621"/><stop offset="0.1364" stop-color="#f6e620"/><stop offset="0.1591" stop-color="#f6e620"/><stop offset="0.1818" stop-color="#f4e61e"/><stop offset="0.2045" stop-color="#f1e51d"/><stop offset="0.2273" stop-color="#eae51a"/><stop offset="0.2500" stop-color="#dde318"/><stop offset="0.2727" stop-color="#bade28"/><stop offset="0.2955" stop-color="#75d054"/><stop offset="0.3182" stop-color="#2eb37c"/><stop offset="0.3409" stop-color="#1f958b"/><stop offset="0.3636" stop-color="#29798e"/><stop offset="0.3864" stop-color="#3e4c8a"/><stop offset="0.4091" stop-color="#482979"/><stop offset="0.4318" stop-color="#481c6e"/><stop offset="0.4545" stop-color="#482979"/><stop offset="0.4773" stop-color="#3b518b"/><stop offset="0.5000" stop-color="#29798e"/><stop offset="0.5227" stop-color="#21a685"/><stop offset="0.5455" stop-color="#70cf57"/><stop offset="0.5682" stop-color="#b8de29"/><stop offset="0.5909" stop-color="#c5e021"/><stop offset="0.6136" stop-color="#addc30"/><stop offset="0.6364" stop-color="#7ad151"/><stop offset="0.6591" stop-color="#52c569"/><stop offset="0.6818" stop-color="#40bd72"/><stop offset="0.7045" stop-color="#5ec962"/><stop offset="0.7273" stop-color="#8ed645"/><stop offset="0.7500" stop-color="#89d548"/><stop offset="0.7727" stop-color="#46c06f"/><stop offset="0.7955" stop-color="#1fa188"/><stop offset="0.8182" stop-color="#218e8d"/><stop offset="0.8409" stop-color="#277e8e"/><stop offset="0.8636" stop-color="#2c728e"/><stop offset="0.8864" stop-color="#2b758e"/><stop offset="0.9091" stop-color="#23888e"/><stop offset="0.9318" stop-color="#2eb37c"/><stop offset="0.9545" stop-color="#7fd34e"/><stop offset="0.9773" stop-color="#c2df23"/><stop offset="1.0000" stop-color="#dae319"/></linearGradient><linearGradient id="c4" x1="0" y1="0" x2="0" y2="1"><stop offset="0.0000" stop-color="#fde725"/><stop offset="0.0227" stop-color="#fde725"/><stop offset="0.0455" stop-color="#fbe723"/><stop offset="0.0682" stop-color="#fbe723"/><stop offset="0.0909" stop-color="#f8e621"/><stop offset="0.1136" stop-color="#f8e621"/><stop offset="0.1364" stop-color="#f6e620"/><stop offset="0.1591" stop-color="#f6e620"/><stop offset="0.1818" stop-color="#f4e61e"/><stop offset="0.2045" stop-color="#f1e51d"/><stop offset="0.2273" stop-color="#eae51a"/><stop offset="0.2500" stop-color="#dae319"/><stop offset="0.2727" stop-color="#bade28"/><stop offset="0.2955" stop-color="#73d056"/><stop offset="0.3182" stop-color="#2eb37c"/><stop offset="0.3409" stop-color="#1f968b"/><stop offset="0.3636" stop-color="#297a8e"/><stop offset="0.3864" stop-color="#3d4e8a"/><stop offset="0.4091" stop-color="#472a7a"/><stop offset="0.4318" stop-color="#481d6f"/><stop offset="0.4545" stop-color="#482979"/><stop offset="0.4773" stop-color="#3b528b"/><stop offset="0.5000" stop-color="#297a8e"/><stop offset="0.5227" stop-color="#21a685"/><stop offset="0.5455" stop-color="#70cf57"/><stop offset="0.5682" stop-color="#bade28"/><stop offset="0.5909" stop-color="#c8e020"/><stop offset="0.6136" stop-color="#b0dd2f"/><stop offset="0.6364" stop-color="#7cd250"/><stop offset="0.6591" stop-color="#54c568"/><stop offset="0.6818" stop-color="#42be71"/><stop offset="0.7045" stop-color="#5ec962"/><stop offset="0.7273" stop-color="#89d548"/><stop offset="0.7500" stop-color="#89d548"/><stop offset="0.7727" stop-color="#4cc26c"/><stop offset="0.7955" stop-color="#21a585"/><stop offset="0.8182" stop-color="#20928c"/><stop offset="0.8409" stop-color="#27808e"/><stop offset="0.8636" stop-color="#2b748e"/><stop offset="0.8864" stop-color="#2a768e"/><stop offset="0.9091" stop-color="#23888e"/><stop offset="0.9318" stop-color="#2cb17e"/><stop offset="0.9545" stop-color="#77d153"/><stop offset="0.9773" stop-color="#bade28"/><stop offset="1.0000" stop-color="#d8e219"/></linearGradient><linearGradient id="c5" x1="0" y1="0" x2="0" y2="1"><stop offset="0.0000" stop-color="#fde725"/><stop offset="0.0227" stop-color="#fbe723"/><stop offset="0.0455" stop-color="#fbe723"/><stop offset="0.0682" stop-color="#fbe723"/><stop offset="0.0909" stop-color="#f8e621"/><stop offset="0.1136" stop-color="#f8e621"/><stop offset="0.1364" stop-color="#f6e620"/><stop offset="0.1591" stop-color="#f6e620"/><stop offset="0.1818" stop-color="#f4e61e"/><stop offset="0.2045" stop-color="#efe51c"/><stop offset="0.2273" stop-color="#eae51a"/><stop offset="0.2500" stop-color="#d8e219"/><stop offset="0.2727" stop-color="#b5de2b"/><stop offset="0.2955" stop-color="#70cf57"/><stop offset="0.3182" stop-color="#2ab07f"/><stop offset="0.3409" stop-color="#1f948c"/><stop offset="0.3636" stop-color="#29798e"/><stop offset="0.3864" stop-color="#3d4e8a"/><stop offset="0.4091" stop-color="#472c7a"/><stop offset="0.4318" stop-color="#481c6e"/><stop offset="0.4545" stop-color="#482878"/><stop offset="0.4773" stop-color="#3c508b"/><stop offset="0.5000" stop-color="#2a788e"/><stop offset="0.5227" stop-color="#20a486"/><stop offset="0.5455" stop-color="#6ece58"/><stop offset="0.5682" stop-color="#b8de29"/><stop offset="0.5909" stop-color="#c5e021"/><stop offset="0.6136" stop-color="#b0dd2f"/><stop offset="0.6364" stop-color="#7ad151"/><stop offset="0.6591" stop-color="#52c569"/><stop offset="0.6818" stop-color="#40bd72"/><stop offset="0.7045" stop-color="#5ac864"/><stop offset="0.7273" stop-color="#84d44b"/><stop offset="0.7500" stop-color="#86d549"/><stop offset="0.7727" stop-color="#50c46a"/><stop offset="0.7955" stop-color="#22a884"/><stop offset="0.8182" stop-color="#20928c"/><stop offset="0.8409" stop-color="#27808e"/><stop offset="0.8636" stop-color="#2b748e"/><stop offset="0.8864" stop-color="#2b758e"/><stop offset="0.9091" stop-color="#25858e"/><stop offset="0.9318" stop-color="#26ad81"/><stop offset="0.9545" stop-color="#6ccd5a"/><stop offset="0.9773" stop-color="#b2dd2d"/><stop offset="1.0000" stop-color="#d2e21b"/></linearGradient><linearGradient id="c6" x1="0" y1="0" x2="0" y2="1"><stop offset="0.0000" stop-color="#fbe723"/><stop offset="0.0227" stop-color="#fbe723"/><stop offset="0.0455" stop-color="#fbe723"/><stop offset="0.0682" stop-color="#fbe723"/><stop offset="0.0909" stop-color="#f8e621"/><stop offset="0.1136" stop-color="#f8e621"/><stop offset="0.1364" stop-color="#f6e620"/><stop offset="0.1591" stop-color="#f6e620"/><stop offset="0.1818" stop-color="#f4e61e"/><stop offset="0.2045" stop-color="#efe51c"/><stop offset="0.2273" stop-color="#eae51a"/><stop offset="0.2500" stop-color="#d8e219"/><stop offset="0.2727" stop-color="#b8de29"/><stop offset="0.2955" stop-color="#70cf57"/><stop offset="0.3182" stop-color="#2db27d"/><stop offset="0.3409" stop-color="#1f968b"/><stop offset="0.3636" stop-color="#287c8e"/><stop offset="0.3864" stop-color="#3b518b"/><stop offset="0.4091" stop-color="#472d7b"/><stop offset="0.4318" stop-color="#481d6f"/><stop offset="0.4545" stop-color="#482979"/><stop offset="0.4773" stop-color="#3b528b"/><stop offset="0.5000" stop-color="#297a8e"/><stop offset="0.5227" stop-color="#21a685"/><stop offset="0.5455" stop-color="#70cf57"/><stop offset="0.5682" stop-color="#bade28"/><stop offset="0.5909" stop-color="#c8e020"/><stop offset="0.6136" stop-color="#b2dd2d"/><stop offset="0.6364" stop-color="#7fd34e"/><stop offset="0.6591" stop-color="#56c667"/><stop offset="0.6818" stop-color="#44bf70"/><stop offset="0.7045" stop-color="#5cc863"/><stop offset="0.7273" stop-color="#84d44b"/><stop offset="0.7500" stop-color="#8bd646"/><stop offset="0.7727" stop-color="#5ac864"/><stop offset="0.7955" stop-color="#27ad81"/><stop offset="0.8182" stop-color="#1f968b"/><stop offset="0.8409" stop-color="#26828e"/><stop offset="0.8636" stop-color="#2a778e"/><stop offset="0.8864" stop-color="#2a788e"/><stop offset="0.9091" stop-color="#24878e"/><stop offset="0.9318" stop-color="#25ac82"/><stop offset="0.9545" stop-color="#67cc5c"/><stop offset="0.9773" stop-color="#addc30"/><stop offset="1.0000" stop-color="#d0e11c"/></linearGradient><linearGradient id="c7" x1="0" y1="0" x2="0" y2="1"><stop offset="0.0000" stop-color="#fbe723"/><stop offset="0.0227" stop-color="#fbe723"/><stop offset="0.0455" stop-color="#fbe723"/><stop offset="0.0682" stop-color="#fbe723"/><stop offset="0.0909" stop-color="#f8e621"/><stop offset="0.1136" stop-color="#f8e621"/><stop offset="0.1364" stop-color="#f6e620"/><stop offset="0.1591" stop-color="#f6e620"/><stop offset="0.1818" stop-color="#f4e61e"/><stop offset="0.2045" stop-color="#f1e51d"/><stop offset="0.2273" stop-color="#eae51a"/><stop offset="0.2500" stop-color="#d8e219"/><stop offset="0.2727" stop-color="#b8de29"/><stop offset="0.2955" stop-color="#75d054"/><stop offset="0.3182" stop-color="#2eb37c"/><stop offset="0.3409" stop-color="#1f998a"/><stop offset="0.3636" stop-color="#277f8e"/><stop offset="0.3864" stop-color="#39558c"/><stop offset="0.4091" stop-color="#46307e"/><stop offset="0.4318" stop-color="#481f70"/><stop offset="0.4545" stop-color="#472a7a"/><stop offset="0.4773" stop-color="#3a548c"/><stop offset="0.5000" stop-color="#287d8e"/><stop offset="0.5227" stop-color="#23a983"/><stop offset="0.5455" stop-color="#75d054"/><stop offset="0.5682" stop-color="#bddf26"/><stop offset="0.5909" stop-color="#cae11f"/><stop offset="0.6136" stop-color="#b8de29"/><stop offset="0.6364" stop-color="#86d549"/><stop offset="0.6591" stop-color="#5cc863"/><stop offset="0.6818" stop-color="#4ac16d"/><stop offset="0.7045" stop-color="#5ec962"/><stop offset="0.7273" stop-color="#84d44b"/><stop offset="0.7500" stop-color="#8ed645"/><stop offset="0.7727" stop-color="#67cc5c"/><stop offset="0.7955" stop-color="#2fb47c"/><stop offset="0.8182" stop-color="#1e9c89"/><stop offset="0.8409" stop-color="#24878e"/><stop offset="0.8636" stop-color="#297b8e"/><stop offset="0.8864" stop-color="#297b8e"/><stop offset="0.9091" stop-color="#23898e"/><stop offset="0.9318" stop-color="#25ac82"/><stop offset="0.9545" stop-color="#65cb5e"/><stop offset="0.9773" stop-color="#aadc32"/><stop offset="1.0000" stop-color="#cde11d"/></linearGradient><linearGradient id="c8" x1="0" y1="0" x2="0" y2="1"><stop offset="0.0000" stop-color="#fbe723"/><stop offset="0.0227" stop-color="#fbe723"/><stop offset="0.0455" stop-color="#fbe723"/><stop offset="0.0682" stop-color="#f8e621"/><stop offset="0.0909" stop-color="#f8e621"/><stop offset="0.1136" stop-color="#f8e621"/><stop offset="0.1364" stop-color="#f6e620"/><stop offset="0.1591" stop-color="#f4e61e"/><stop offset="0.1818" stop-color="#f4e61e"/><stop offset="0.2045" stop-color="#efe51c"/><stop offset="0.2273" stop-color="#e7e419"/><stop offset="0.2500" stop-color="#d5e21a"/><stop offset="0.2727" stop-color="#b2dd2d"/><stop offset="0.2955" stop-color="#6ccd5a"/><stop offset="0.3182" stop-color="#28ae80"/><stop offset="0.3409" stop-color="#1f948c"/><stop offset="0.3636" stop-color="#297a8e"/><stop offset="0.3864" stop-color="#3b528b"/><stop offset="0.4091" stop-color="#472e7c"/><stop offset="0.4318" stop-color="#481d6f"/><stop offset="0.4545" stop-color="#482878"/><stop offset="0.4773" stop-color="#3b518b"/><stop offset="0.5000" stop-color="#2a788e"/><stop offset="0.5227" stop-color="#20a486"/><stop offset="0.5455" stop-color="#6ccd5a"/><stop offset="0.5682" stop-color="#b8de29"/><stop offset="0.5909" stop-color="#c8e020"/><stop offset="0.6136" stop-color="#b2dd2d"/><stop offset="0.6364" stop-color="#7fd34e"/><stop offset="0.6591" stop-color="#54c568"/><stop offset="0.6818" stop-color="#42be71"/><stop offset="0.7045" stop-color="#56c667"/><stop offset="0.7273" stop-color="#77d153"/><stop offset="0.7500" stop-color="#86d549"/><stop offset="0.7727" stop-color="#65cb5e"/><stop offset="0.7955" stop-color="#2eb37c"/><stop offset="0.8182" stop-color="#1f998a"/><stop offset="0.8409" stop-color="#25838e"/><stop offset="0.8636" stop-color="#2a778e"/><stop offset="0.8864" stop-color="#2a768e"/><stop offset="0.9091" stop-color="#25838e"/><stop offset="0.9318" stop-color="#20a486"/><stop offset="0.9545" stop-color="#54c568"/><stop offset="0.9773" stop-color="#9dd93b"/><stop offset="1.0000" stop-color="#c5e021"/></linearGradient><linearGradient id="c9" x1="0" y1="0" x2="0" y2="1"><stop offset="0.0000" stop-color="#fbe723"/><stop offset="0.0227" stop-color="#fbe723"/><stop offset="0.0455" stop-color="#fbe723"/><stop offset="0.0682" stop-color="#f8e621"/><stop offset="0.0909" stop-color="#f8e621"/><stop offset="0.1136" stop-color="#f6e620"/><stop offset="0.1364" stop-color="#f6e620"/><stop offset="0.1591" stop-color="#f4e61e"/><stop offset="0.1818" stop-color="#f1e51d"/><stop offset="0.2045" stop-color="#efe51c"/><stop offset="0.2273" stop-color="#e5e419"/><stop offset="0.2500" stop-color="#d2e21b"/><stop offset="0.2727" stop-color="#b0dd2f"/><stop offset="0.2955" stop-color="#67cc5c"/><stop offset="0.3182" stop-color="#26ad81"/><stop offset="0.3409" stop-color="#20938c"/><stop offset="0.3636" stop-color="#297a8e"/><stop offset="0.3864" stop-color="#3a538b"/><stop offset="0.4091" stop-color="#472f7d"/><stop offset="0.4318" stop-color="#481d6f"/><stop offset="0.4545" stop-color="#482677"/><stop offset="0.4773" stop-color="#3c508b"/><stop offset="0.5000" stop-color="#2a788e"/><stop offset="0.5227" stop-color="#20a386"/><stop offset="0.5455" stop-color="#6ccd5a"/><stop offset="0.5682" stop-color="#b5de2b"/><stop offset="0.5909" stop-color="#c8e020"/><stop offset="0.6136" stop-color="#b5de2b"/><stop offset="0.6364" stop-color="#7fd34e"/><stop offset="0.6591" stop-color="#54c568"/><stop offset="0.6818" stop-color="#42be71"/><stop offset="0.7045" stop-color="#52c569"/><stop offset="0.7273" stop-color="#73d056"/><stop offset="0.7500" stop-color="#86d549"/><stop offset="0.7727" stop-color="#6ccd5a"/><stop offset="0.7955" stop-color="#34b679"/><stop offset="0.8182" stop-color="#1e9b8a"/><stop offset="0.8409" stop-color="#25848e"/><stop offset="0.8636" stop-color="#2a788e"/><stop offset="0.8864" stop-color="#2a768e"/><stop offset="0.9091" stop-color="#26828e"/><stop offset="0.9318" stop-color="#1fa187"/><stop offset="0.9545" stop-color="#4cc26c"/><stop offset="0.9773" stop-color="#95d840"/><stop offset="1.0000" stop-color="#c0df25"/></linearGradient><linearGradient id="c10" x1="0" y1="0" x2="0" y2="1"><stop offset="0.0000" stop-color="#fbe723"/><stop offset="0.0227" stop-color="#fbe723"/><stop offset="0.0455" stop-color="#f8e621"/><stop offset="0.0682" stop-color="#f8e621"/><stop offset="0.0909" stop-color="#f8e621"/><stop offset="0.1136" stop-color="#f6e620"/><stop offset="0.1364" stop-color="#f6e620"/><stop offset="0.1591" stop-color="#f6e620"/><stop offset="0.1818" stop-color="#f4e61e"/><stop offset="0.2045" stop-color="#efe51c"/><stop offset="0.2273" stop-color="#e7e419"/><stop offset="0.2500" stop-color="#d2e21b"/><stop offset="0.2727" stop-color="#b0dd2f"/><stop offset="0.2955" stop-color="#6ccd5a"/><stop offset="0.3182" stop-color="#28ae80"/><stop offset="0.3409" stop-color="#1f968b"/><stop offset="0.3636" stop-color="#287d8e"/><stop offset="0.3864" stop-color="#38588c"/><stop offset="0.4091" stop-color="#46327e"/><stop offset="0.4318" stop-color="#481d6f"/><stop offset="0.4545" stop-color="#482878"/><stop offset="0.4773" stop-color="#3b528b"/><stop offset="0.5000" stop-color="#297a8e"/><stop offset="0.5227" stop-color="#21a585"/><stop offset="0.5455" stop-color="#6ece58"/><stop offset="0.5682" stop-color="#b8de29"/><stop offset="0.5909" stop-color="#cae11f"/><stop offset="0.6136" stop-color="#b8de29"/><stop offset="0.6364" stop-color="#84d44b"/><stop offset="0.6591" stop-color="#5ac864"/><stop offset="0.6818" stop-color="#46c06f"/><stop offset="0.7045" stop-color="#56c667"/><stop offset="0.7273" stop-color="#73d056"/><stop offset="0.7500" stop-color="#89d548"/><stop offset="0.7727" stop-color="#77d153"/><stop offset="0.7955" stop-color="#3fbc73"/><stop offset="0.8182" stop-color="#1fa088"/><stop offset="0.8409" stop-color="#24878e"/><stop offset="0.8636" stop-color="#297b8e"/><stop offset="0.8864" stop-color="#29798e"/><stop offset="0.9091" stop-color="#25848e"/><stop offset="0.9318" stop-color="#1fa188"/><stop offset="0.9545" stop-color="#4ac16d"/><stop offset="0.9773" stop-color="#90d743"/><stop offset="1.0000" stop-color="#bddf26"/></linearGradient><linearGradient id="c11" x1="0" y1="0" x2="0" y2="1"><stop offset="0.0000" stop-color="#fbe723"/><stop offset="0.0227" stop-color="#fbe723"/><stop offset="0.0455" stop-color="#f8e621"/><stop offset="0.0682" stop-color="#f8e621"/><stop offset="0.0909" stop-color="#f8e621"/><stop offset="0.1136" stop-color="#f6e620"/><stop offset="0.1364" stop-color="#f6e620"/><stop offset="0.1591" stop-color="#f4e61e"/><stop offset="0.1818" stop-color="#f4e61e"/><stop offset="0.2045" stop-color="#efe51c"/><stop offset="0.2273" stop-color="#e5e419"/><stop offset="0.2500" stop-color="#d0e11c"/><stop offset="0.2727" stop-color="#b0dd2f"/><stop offset="0.2955" stop-color="#67cc5c"/><stop offset="0.3182" stop-color="#27ad81"/><stop offset="0.3409" stop-color="#1f958b"/><stop offset="0.3636" stop-color="#287c8e"/><stop offset="0.3864" stop-color="#38598c"/><stop offset="0.4091" stop-color="#46337f"/><stop offset="0.4318" stop-color="#481d6f"/><stop offset="0.4545" stop-color="#482677"/><stop offset="0.4773" stop-color="#3b528b"/><stop offset="0.5000" stop-color="#29798e"/><stop offset="0.5227" stop-color="#20a486"/><stop offset="0.5455" stop-color="#6ece58"/><stop offset="0.5682" stop-color="#b8de29"/><stop offset="0.5909" stop-color="#cae11f"/><stop offset="0.6136" stop-color="#bade28"/><stop offset="0.6364" stop-color="#84d44b"/><stop offset="0.6591" stop-color="#5ac864"/><stop offset="0.6818" stop-color="#46c06f"/><stop offset="0.7045" stop-color="#52c569"/><stop offset="0.7273" stop-color="#6ece58"/><stop offset="0.7500" stop-color="#89d548"/><stop offset="0.7727" stop-color="#7cd250"/><stop offset="0.7955" stop-color="#44bf70"/><stop offset="0.8182" stop-color="#1fa187"/><stop offset="0.8409" stop-color="#23888e"/><stop offset="0.8636" stop-color="#287c8e"/><stop offset="0.8864" stop-color="#29798e"/><stop offset="0.9091" stop-color="#25838e"/><stop offset="0.9318" stop-color="#1e9d89"/><stop offset="0.9545" stop-color="#40bd72"/><stop offset="0.9773" stop-color="#89d548"/><stop offset="1.0000" stop-color="#b8de29"/></linearGradient><linearGradient id="c12" x1="0" y1="0" x2="0" y2="1"><stop offset="0.0000" stop-color="#f8e621"/><stop offset="0.0227" stop-color="#f8e621"/><stop offset="0.0455" stop-color="#f8e621"/><stop offset="0.0682" stop-color="#f8e621"/><stop offset="0.0909" stop-color="#f8e621"/><stop offset="0.1136" stop-color="#f6e620"/><stop offset="0.1364" stop-color="#f6e620"/><stop offset="0.1591" stop-color="#f4e61e"/><stop offset="0.1818" stop-color="#f1e51d"/><stop offset="0.2045" stop-color="#efe51c"/><stop offset="0.2273" stop-color="#e5e419"/><stop offset="0.2500" stop-color="#cde11d"/><stop offset="0.2727" stop-color="#addc30"/><stop offset="0.2955" stop-color="#65cb5e"/><stop offset="0.3182" stop-color="#25ac82"/><stop offset="0.3409" stop-color="#1f948c"/><stop offset="0.3636" stop-color="#287c8e"/><stop offset="0.3864" stop-color="#38598c"/><stop offset="0.4091" stop-color="#46337f"/><stop offset="0.4318" stop-color="#481d6f"/><stop offset="0.4545" stop-color="#482677"/><stop offset="0.4773" stop-color="#3b518b"/><stop offset="0.5000" stop-color="#2a788e"/><stop offset="0.5227" stop-color="#20a386"/><stop offset="0.5455" stop-color="#6ccd5a"/><stop offset="0.5682" stop-color="#b5de2b"/><stop offset="0.5909" stop-color="#cae11f"/><stop offset="0.6136" stop-color="#bade28"/><stop offset="0.6364" stop-color="#84d44b"/><stop offset="0.6591" stop-color="#58c765"/><stop offset="0.6818" stop-color="#46c06f"/><stop offset="0.7045" stop-color="#50c46a"/><stop offset="0.7273" stop-color="#69cd5b"/><stop offset="0.7500" stop-color="#86d549"/><stop offset="0.7727" stop-color="#84d44b"/><stop offset="0.7955" stop-color="#4ac16d"/><stop offset="0.8182" stop-color="#1fa287"/><stop offset="0.8409" stop-color="#23888e"/><stop offset="0.8636" stop-color="#287c8e"/><stop offset="0.8864" stop-color="#2a788e"/><stop offset="0.9091" stop-color="#26828e"/><stop offset="0.9318" stop-color="#1f998a"/><stop offset="0.9545" stop-color="#3aba76"/><stop offset="0.9773" stop-color="#81d34d"/><stop offset="1.0000" stop-color="#b2dd2d"/></linearGradient><linearGradient id="c13" x1="0" y1="0" x2="0" y2="1"><stop offset="0.0000" stop-color="#f8e621"/><stop offset="0.0227" stop-color="#f8e621"/><stop offset="0.0455" stop-color="#f8e621"/><stop offset="0.0682" stop-color="#f8e621"/><stop offset="0.0909" stop-color="#f6e620"/><stop offset="0.1136" stop-color="#f6e620"/><stop offset="0.1364" stop-color="#f6e620"/><stop offset="0.1591" stop-color="#f4e61e"/><stop offset="0.1818" stop-color="#f1e51d"/><stop offset="0.2045" stop-color="#ece51b"/><stop offset="0.2273" stop-color="#e2e418"/><stop offset="0.2500" stop-color="#cae11f"/><stop offset="0.2727" stop-color="#a8db34"/><stop offset="0.2955" stop-color="#5ec962"/><stop offset="0.3182" stop-color="#22a884"/><stop offset="0.3409" stop-color="#20928c"/><stop offset="0.3636" stop-color="#29798e"/><stop offset="0.3864" stop-color="#38588c"/><stop offset="0.4091" stop-color="#46337f"/><stop offset="0.4318" stop-color="#481c6e"/><stop offset="0.4545" stop-color="#482475"/><stop offset="0.4773" stop-color="#3c4f8a"/><stop offset="0.5000" stop-color="#2b758e"/><stop offset="0.5227" stop-color="#1fa188"/><stop offset="0.5455" stop-color="#65cb5e"/><stop offset="0.5682" stop-color="#b2dd2d"/><stop offset="0.5909" stop-color="#c8e020"/><stop offset="0.6136" stop-color="#b8de29"/><stop offset="0.6364" stop-color="#81d34d"/><stop offset="0.6591" stop-color="#54c568"/><stop offset="0.6818" stop-color="#40bd72"/><stop offset="0.7045" stop-color="#4ac16d"/><stop offset="0.7273" stop-color="#60ca60"/><stop offset="0.7500" stop-color="#81d34d"/><stop offset="0.7727" stop-color="#86d549"/><stop offset="0.7955" stop-color="#4ec36b"/><stop offset="0.8182" stop-color="#1fa287"/><stop offset="0.8409" stop-color="#24868e"/><stop offset="0.8636" stop-color="#297a8e"/><stop offset="0.8864" stop-color="#2b758e"/><stop offset="0.9091" stop-color="#277e8e"/><stop offset="0.9318" stop-color="#20938c"/><stop offset="0.9545" stop-color="#31b57b"/><stop offset="0.9773" stop-color="#75d054"/><stop offset="1.0000" stop-color="#aadc32"/></linearGradient><linearGradient id="c14" x1="0" y1="0" x2="0" y2="1"><stop offset="0.0000" stop-color="#f8e621"/><stop offset="0.0227" stop-color="#f8e621"/><stop offset="0.0455" stop-color="#f8e621"/><stop offset="0.0682" stop-color="#f8e621"/><stop offset="0.0909" stop-color="#f6e620"/><stop offset="0.1136" stop-color="#f6e620"/><stop offset="0.1364" stop-color="#f6e620"/><stop offset="0.1591" stop-color="#f4e61e"/><stop offset="0.1818" stop-color="#f1e51d"/><stop offset="0.2045" stop-color="#efe51c"/><stop offset="0.2273" stop-color="#e2e418"/><stop offset="0.2500" stop-color="#cae11f"/><stop offset="0.2727" stop-color="#a8db34"/><stop offset="0.2955" stop-color="#60ca60"/><stop offset="0.3182" stop-color="#23a983"/><stop offset="0.3409" stop-color="#20938c"/><stop offset="0.3636" stop-color="#297b8e"/><stop offset="0.3864" stop-color="#375b8d"/><stop offset="0.4091" stop-color="#453581"/><stop offset="0.4318" stop-color="#481d6f"/><stop offset="0.4545" stop-color="#482576"/><stop offset="0.4773" stop-color="#3c508b"/><stop offset="0.5000" stop-color="#2a778e"/><stop offset="0.5227" stop-color="#1fa187"/><stop offset="0.5455" stop-color="#69cd5b"/><stop offset="0.5682" stop-color="#b5de2b"/><stop offset="0.5909" stop-color="#cae11f"/><stop offset="0.6136" stop-color="#bade28"/><stop offset="0.6364" stop-color="#84d44b"/><stop offset="0.6591" stop-color="#58c765"/><stop offset="0.6818" stop-color="#44bf70"/><stop offset="0.7045" stop-color="#4cc26c"/><stop offset="0.7273" stop-color="#60ca60"/><stop offset="0.7500" stop-color="#86d549"/><stop offset="0.7727" stop-color="#90d743"/><stop offset="0.7955" stop-color="#5ac864"/><stop offset="0.8182" stop-color="#21a685"/><stop offset="0.8409" stop-color="#238a8d"/><stop offset="0.8636" stop-color="#277e8e"/><stop offset="0.8864" stop-color="#2a788e"/><stop offset="0.9091" stop-color="#277f8e"/><stop offset="0.9318" stop-color="#20928c"/><stop offset="0.9545" stop-color="#2eb37c"/><stop offset="0.9773" stop-color="#73d056"/><stop offset="1.0000" stop-color="#aadc32"/></linearGradient><linearGradient id="c15" x1="0" y1="0" x2="0" y2="1"><stop offset="0.0000" stop-color="#f8e621"/><stop offset="0.0227" stop-color="#f8e621"/><stop offset="0.0455" stop-color="#f8e621"/><stop offset="0.0682" stop-color="#f8e621"/><stop offset="0.0909" stop-color="#f6e620"/><stop offset="0.1136" stop-color="#f6e620"/><stop offset="0.1364" stop-color="#f6e620"/><stop offset="0.1591" stop-color="#f4e61e"/><stop offset="0.1818" stop-color="#f1e51d"/><stop offset="0.2045" stop-color="#efe51c"/><stop offset="0.2273" stop-color="#e2e418"/><stop offset="0.2500" stop-color="#cae11f"/><stop offset="0.2727" stop-color="#a8db34"/><stop offset="0.2955" stop-color="#63cb5f"/><stop offset="0.3182" stop-color="#24aa83"/><stop offset="0.3409" stop-color="#1f948c"/><stop offset="0.3636" stop-color="#287d8e"/><stop offset="0.3864" stop-color="#355e8d"/><stop offset="0.4091" stop-color="#453781"/><stop offset="0.4318" stop-color="#481d6f"/><stop offset="0.4545" stop-color="#482576"/><stop offset="0.4773" stop-color="#3b528b"/><stop offset="0.5000" stop-color="#29798e"/><stop offset="0.5227" stop-color="#20a386"/><stop offset="0.5455" stop-color="#6ccd5a"/><stop offset="0.5682" stop-color="#b5de2b"/><stop offset="0.5909" stop-color="#cae11f"/><stop offset="0.6136" stop-color="#bddf26"/><stop offset="0.6364" stop-color="#89d548"/><stop offset="0.6591" stop-color="#5cc863"/><stop offset="0.6818" stop-color="#48c16e"/><stop offset="0.7045" stop-color="#4cc26c"/><stop offset="0.7273" stop-color="#60ca60"/><stop offset="0.7500" stop-color="#89d548"/><stop offset="0.7727" stop-color="#9bd93c"/><stop offset="0.7955" stop-color="#65cb5e"/><stop offset="0.8182" stop-color="#24aa83"/><stop offset="0.8409" stop-color="#228d8d"/><stop offset="0.8636" stop-color="#27808e"/><stop offset="0.8864" stop-color="#297a8e"/><stop offset="0.9091" stop-color="#26818e"/><stop offset="0.9318" stop-color="#20928c"/><stop offset="0.9545" stop-color="#2cb17e"/><stop offset="0.9773" stop-color="#6ece58"/><stop offset="1.0000" stop-color="#a5db36"/></linearGradient><linearGradient id="c16" x1="0" y1="0" x2="0" y2="1"><stop offset="0.0000" stop-color="#f8e621"/><stop offset="0.0227" stop-color="#f8e621"/><stop offset="0.0455" stop-color="#f6e620"/><stop offset="0.0682" stop-color="#f6e620"/><stop offset="0.0909" stop-color="#f6e620"/><stop offset="0.1136" stop-color="#f6e620"/><stop offset="0.1364" stop-color="#f4e61e"/><stop offset="0.1591" stop-color="#f1e51d"/><stop offset="0.1818" stop-color="#efe51c"/><stop offset="0.2045" stop-color="#eae51a"/><stop offset="0.2273" stop-color="#dde318"/><stop offset="0.2500" stop-color="#c2df23"/><stop offset="0.2727" stop-color="#9dd93b"/><stop offset="0.2955" stop-color="#56c667"/><stop offset="0.3182" stop-color="#20a486"/><stop offset="0.3409" stop-color="#218f8d"/><stop offset="0.3636" stop-color="#2a768e"/><stop offset="0.3864" stop-color="#38588c"/><stop offset="0.4091" stop-color="#46327e"/><stop offset="0.4318" stop-color="#481b6d"/><stop offset="0.4545" stop-color="#482374"/><stop offset="0.4773" stop-color="#3d4d8a"/><stop offset="0.5000" stop-color="#2c738e"/><stop offset="0.5227" stop-color="#1e9d89"/><stop offset="0.5455" stop-color="#5ec962"/><stop offset="0.5682" stop-color="#addc30"/><stop offset="0.5909" stop-color="#c5e021"/><stop offset="0.6136" stop-color="#b8de29"/><stop offset="0.6364" stop-color="#81d34d"/><stop offset="0.6591" stop-color="#54c568"/><stop offset="0.6818" stop-color="#3fbc73"/><stop offset="0.7045" stop-color="#42be71"/><stop offset="0.7273" stop-color="#56c667"/><stop offset="0.7500" stop-color="#7fd34e"/><stop offset="0.7727" stop-color="#93d741"/><stop offset="0.7955" stop-color="#60ca60"/><stop offset="0.8182" stop-color="#22a884"/><stop offset="0.8409" stop-color="#238a8d"/><stop offset="0.8636" stop-color="#287c8e"/><stop offset="0.8864" stop-color="#2b758e"/><stop offset="0.9091" stop-color="#297a8e"/><stop offset="0.9318" stop-color="#228b8d"/><stop offset="0.9545" stop-color="#23a983"/><stop offset="0.9773" stop-color="#5ac864"/><stop offset="1.0000" stop-color="#93d741"/></linearGradient><linearGradient id="c17" x1="0" y1="0" x2="0" y2="1"><stop offset="0.0000" stop-color="#f8e621"/><stop offset="0.0227" stop-color="#f8e621"/><stop offset="0.0455" stop-color="#f6e620"/><stop offset="0.0682" stop-color="#f6e620"/><stop offset="0.0909" stop-color="#f6e620"/><stop offset="0.1136" stop-color="#f4e61e"/><stop offset="0.1364" stop-color="#f4e61e"/><stop offset="0.1591" stop-color="#f1e51d"/><stop offset="0.1818" stop-color="#ece51b"/><stop offset="0.2045" stop-color="#e7e419"/><stop offset="0.2273" stop-color="#dae319"/><stop offset="0.2500" stop-color="#c0df25"/><stop offset="0.2727" stop-color="#9dd93b"/><stop offset="0.2955" stop-color="#56c667"/><stop offset="0.3182" stop-color="#21a685"/><stop offset="0.3409" stop-color="#21918c"/><stop offset="0.3636" stop-color="#2a788e"/><stop offset="0.3864" stop-color="#38598c"/><stop offset="0.4091" stop-color="#46337f"/><stop offset="0.4318" stop-color="#481c6e"/><stop offset="0.4545" stop-color="#482374"/><stop offset="0.4773" stop-color="#3c4f8a"/><stop offset="0.5000" stop-color="#2b758e"/><stop offset="0.5227" stop-color="#1f9e89"/><stop offset="0.5455" stop-color="#60ca60"/><stop offset="0.5682" stop-color="#b0dd2f"/><stop offset="0.5909" stop-color="#c8e020"/><stop offset="0.6136" stop-color="#bddf26"/><stop offset="0.6364" stop-color="#89d548"/><stop offset="0.6591" stop-color="#5ac864"/><stop offset="0.6818" stop-color="#42be71"/><stop offset="0.7045" stop-color="#46c06f"/><stop offset="0.7273" stop-color="#58c765"/><stop offset="0.7500" stop-color="#81d34d"/><stop offset="0.7727" stop-color="#98d83e"/><stop offset="0.7955" stop-color="#67cc5c"/><stop offset="0.8182" stop-color="#26ad81"/><stop offset="0.8409" stop-color="#218e8d"/><stop offset="0.8636" stop-color="#277f8e"/><stop offset="0.8864" stop-color="#2a788e"/><stop offset="0.9091" stop-color="#287c8e"/><stop offset="0.9318" stop-color="#228c8d"/><stop offset="0.9545" stop-color="#22a884"/><stop offset="0.9773" stop-color="#56c667"/><stop offset="1.0000" stop-color="#89d548"/></linearGradient><linearGradient id="c18" x1="0" y1="0" x2="0" y2="1"><stop offset="0.0000" stop-color="#f6e620"/><stop offset="0.0227" stop-color="#f6e620"/><stop offset="0.0455" stop-color="#f6e620"/><stop offset="0.0682" stop-color="#f6e620"/><stop offset="0.0909" stop-color="#f4e61e"/><stop offset="0.1136" stop-color="#f4e61e"/><stop offset="0.1364" stop-color="#f1e51d"/><stop offset="0.1591" stop-color="#efe51c"/><stop offset="0.1818" stop-color="#eae51a"/><stop offset="0.2045" stop-color="#e2e418"/><stop offset="0.2273" stop-color="#d5e21a"/><stop offset="0.2500" stop-color="#b8de29"/><stop offset="0.2727" stop-color="#93d741"/><stop offset="0.2955" stop-color="#4ec36b"/><stop offset="0.3182" stop-color="#1fa187"/><stop offset="0.3409" stop-color="#228c8d"/><stop offset="0.3636" stop-color="#2c738e"/><stop offset="0.3864" stop-color="#3a548c"/><stop offset="0.4091" stop-color="#472f7d"/><stop offset="0.4318" stop-color="#481a6c"/><stop offset="0.4545" stop-color="#482173"/><stop offset="0.4773" stop-color="#3e4a89"/><stop offset="0.5000" stop-color="#2d718e"/><stop offset="0.5227" stop-color="#1f998a"/><stop offset="0.5455" stop-color="#58c765"/><stop offset="0.5682" stop-color="#a8db34"/><stop offset="0.5909" stop-color="#c5e021"/><stop offset="0.6136" stop-color="#b8de29"/><stop offset="0.6364" stop-color="#84d44b"/><stop offset="0.6591" stop-color="#54c568"/><stop offset="0.6818" stop-color="#3bbb75"/><stop offset="0.7045" stop-color="#3dbc74"/><stop offset="0.7273" stop-color="#50c46a"/><stop offset="0.7500" stop-color="#7ad151"/><stop offset="0.7727" stop-color="#93d741"/><stop offset="0.7955" stop-color="#65cb5e"/><stop offset="0.8182" stop-color="#26ad81"/><stop offset="0.8409" stop-color="#228c8d"/><stop offset="0.8636" stop-color="#287c8e"/><stop offset="0.8864" stop-color="#2b748e"/><stop offset="0.9091" stop-color="#2a788e"/><stop offset="0.9318" stop-color="#24868e"/><stop offset="0.9545" stop-color="#1fa187"/><stop offset="0.9773" stop-color="#46c06f"/><stop offset="1.0000" stop-color="#77d153"/></linearGradient><linearGradient id="c19" x1="0" y1="0" x2="0" y2="1"><stop offset="0.0000" stop-color="#f6e620"/><stop offset="0.0227" stop-color="#f6e620"/><stop offset="0.0455" stop-color="#f6e620"/><stop offset="0.0682" stop-color="#f6e620"/><stop offset="0.0909" stop-color="#f4e61e"/><stop offset="0.1136" stop-color="#f4e61e"/><stop offset="0.1364" stop-color="#f1e51d"/><stop offset="0.1591" stop-color="#efe51c"/><stop offset="0.1818" stop-color="#eae51a"/><stop offset="0.2045" stop-color="#dfe318"/><stop offset="0.2273" stop-color="#d2e21b"/><stop offset="0.2500" stop-color="#b8de29"/><stop offset="0.2727" stop-color="#90d743"/><stop offset="0.2955" stop-color="#4ec36b"/><stop offset="0.3182" stop-color="#1fa287"/><stop offset="0.3409" stop-color="#228d8d"/><stop offset="0.3636" stop-color="#2b748e"/><stop offset="0.3864" stop-color="#3a548c"/><stop offset="0.4091" stop-color="#472f7d"/><stop offset="0.4318" stop-color="#481a6c"/><stop offset="0.4545" stop-color="#482173"/><stop offset="0.4773" stop-color="#3e4c8a"/><stop offset="0.5000" stop-color="#2c718e"/><stop offset="0.5227" stop-color="#1f9a8a"/><stop offset="0.5455" stop-color="#58c765"/><stop offset="0.5682" stop-color="#a8db34"/><stop offset="0.5909" stop-color="#c5e021"/><stop offset="0.6136" stop-color="#bade28"/><stop offset="0.6364" stop-color="#89d548"/><stop offset="0.6591" stop-color="#58c765"/><stop offset="0.6818" stop-color="#3dbc74"/><stop offset="0.7045" stop-color="#3fbc73"/><stop offset="0.7273" stop-color="#50c46a"/><stop offset="0.7500" stop-color="#7ad151"/><stop offset="0.7727" stop-color="#95d840"/><stop offset="0.7955" stop-color="#6ece58"/><stop offset="0.8182" stop-color="#2ab07f"/><stop offset="0.8409" stop-color="#21908d"/><stop offset="0.8636" stop-color="#277f8e"/><stop offset="0.8864" stop-color="#2a768e"/><stop offset="0.9091" stop-color="#29798e"/><stop offset="0.9318" stop-color="#24868e"/><stop offset="0.9545" stop-color="#1fa088"/><stop offset="0.9773" stop-color="#3fbc73"/><stop offset="1.0000" stop-color="#6ece58"/></linearGradient><linearGradient id="c20" x1="0" y1="0" x2="0" y2="1"><stop offset="0.0000" stop-color="#f6e620"/><stop offset="0.0227" stop-color="#f6e620"/><stop offset="0.0455" stop-color="#f6e620"/><stop offset="0.0682" stop-color="#f6e620"/><stop offset="0.0909" stop-color="#f4e61e"/><stop offset="0.1136" stop-color="#f1e51d"/><stop offset="0.1364" stop-color="#f1e51d"/><stop offset="0.1591" stop-color="#ece51b"/><stop offset="0.1818" stop-color="#e7e419"/><stop offset="0.2045" stop-color="#dde318"/><stop offset="0.2273" stop-color="#cde11d"/><stop offset="0.2500" stop-color="#b2dd2d"/><stop offset="0.2727" stop-color="#8bd646"/><stop offset="0.2955" stop-color="#48c16e"/><stop offset="0.3182" stop-color="#1fa188"/><stop offset="0.3409" stop-color="#228b8d"/><stop offset="0.3636" stop-color="#2c728e"/><stop offset="0.3864" stop-color="#3b528b"/><stop offset="0.4091" stop-color="#472e7c"/><stop offset="0.4318" stop-color="#48186a"/><stop offset="0.4545" stop-color="#482071"/><stop offset="0.4773" stop-color="#3e4a89"/><stop offset="0.5000" stop-color="#2d708e"/><stop offset="0.5227" stop-color="#1f978b"/><stop offset="0.5455" stop-color="#54c568"/><stop offset="0.5682" stop-color="#a5db36"/><stop offset="0.5909" stop-color="#c5e021"/><stop offset="0.6136" stop-color="#bade28"/><stop offset="0.6364" stop-color="#89d548"/><stop offset="0.6591" stop-color="#58c765"/><stop offset="0.6818" stop-color="#3aba76"/><stop offset="0.7045" stop-color="#3bbb75"/><stop offset="0.7273" stop-color="#4cc26c"/><stop offset="0.7500" stop-color="#77d153"/><stop offset="0.7727" stop-color="#93d741"/><stop offset="0.7955" stop-color="#70cf57"/><stop offset="0.8182" stop-color="#2db27d"/><stop offset="0.8409" stop-color="#21908d"/><stop offset="0.8636" stop-color="#277e8e"/><stop offset="0.8864" stop-color="#2b758e"/><stop offset="0.9091" stop-color="#2a778e"/><stop offset="0.9318" stop-color="#25838e"/><stop offset="0.9545" stop-color="#1e9b8a"/><stop offset="0.9773" stop-color="#35b779"/><stop offset="1.0000" stop-color="#60ca60"/></linearGradient><linearGradient id="c21" x1="0" y1="0" x2="0" y2="1"><stop offset="0.0000" stop-color="#f6e620"/><stop offset="0.0227" stop-color="#f6e620"/><stop offset="0.0455" stop-color="#f6e620"/><stop offset="0.0682" stop-color="#f6e620"/><stop offset="0.0909" stop-color="#f4e61e"/><stop offset="0.1136" stop-color="#f1e51d"/><stop offset="0.1364" stop-color="#f1e51d"/><stop offset="0.1591" stop-color="#ece51b"/><stop offset="0.1818" stop-color="#e5e419"/><stop offset="0.2045" stop-color="#dde318"/><stop offset="0.2273" stop-color="#cde11d"/><stop offset="0.2500" stop-color="#b2dd2d"/><stop offset="0.2727" stop-color="#8ed645"/><stop offset="0.2955" stop-color="#4cc26c"/><stop offset="0.3182" stop-color="#20a486"/><stop offset="0.3409" stop-color="#21908d"/><stop offset="0.3636" stop-color="#2a768e"/><stop offset="0.3864" stop-color="#39558c"/><stop offset="0.4091" stop-color="#472f7d"/><stop offset="0.4318" stop-color="#481a6c"/><stop offset="0.4545" stop-color="#482173"/><stop offset="0.4773" stop-color="#3d4e8a"/><stop offset="0.5000" stop-color="#2c738e"/><stop offset="0.5227" stop-color="#1e9b8a"/><stop offset="0.5455" stop-color="#58c765"/><stop offset="0.5682" stop-color="#aadc32"/><stop offset="0.5909" stop-color="#c8e020"/><stop offset="0.6136" stop-color="#c0df25"/><stop offset="0.6364" stop-color="#90d743"/><stop offset="0.6591" stop-color="#60ca60"/><stop offset="0.6818" stop-color="#40bd72"/><stop offset="0.7045" stop-color="#42be71"/><stop offset="0.7273" stop-color="#52c569"/><stop offset="0.7500" stop-color="#7cd250"/><stop offset="0.7727" stop-color="#9bd93c"/><stop offset="0.7955" stop-color="#7cd250"/><stop offset="0.8182" stop-color="#38b977"/><stop offset="0.8409" stop-color="#1f978b"/><stop offset="0.8636" stop-color="#25838e"/><stop offset="0.8864" stop-color="#297a8e"/><stop offset="0.9091" stop-color="#297b8e"/><stop offset="0.9318" stop-color="#24868e"/><stop offset="0.9545" stop-color="#1e9c89"/><stop offset="0.9773" stop-color="#35b779"/><stop offset="1.0000" stop-color="#5cc863"/></linearGradient><linearGradient id="c22" x1="0" y1="0" x2="0" y2="1"><stop offset="0.0000" stop-color="#f6e620"/><stop offset="0.0227" stop-color="#f6e620"/><stop offset="0.0455" stop-color="#f6e620"/><stop offset="0.0682" stop-color="#f4e61e"/><stop offset="0.0909" stop-color="#f4e61e"/><stop offset="0.1136" stop-color="#f1e51d"/><stop offset="0.1364" stop-color="#efe51c"/><stop offset="0.1591" stop-color="#eae51a"/><stop offset="0.1818" stop-color="#e2e418"/><stop offset="0.2045" stop-color="#d8e219"/><stop offset="0.2273" stop-color="#c8e020"/><stop offset="0.2500" stop-color="#aadc32"/><stop offset="0.2727" stop-color="#86d549"/><stop offset="0.2955" stop-color="#44bf70"/><stop offset="0.3182" stop-color="#1fa188"/><stop offset="0.3409" stop-color="#228c8d"/><stop offset="0.3636" stop-color="#2c728e"/><stop offset="0.3864" stop-color="#3b518b"/><stop offset="0.4091" stop-color="#472d7b"/><stop offset="0.4318" stop-color="#48186a"/><stop offset="0.4545" stop-color="#482071"/><stop offset="0.4773" stop-color="#3e4a89"/><stop offset="0.5000" stop-color="#2d718e"/><stop offset="0.5227" stop-color="#1f968b"/><stop offset="0.5455" stop-color="#52c569"/><stop offset="0.5682" stop-color="#a5db36"/><stop offset="0.5909" stop-color="#c5e021"/><stop offset="0.6136" stop-color="#bddf26"/><stop offset="0.6364" stop-color="#8ed645"/><stop offset="0.6591" stop-color="#5cc863"/><stop offset="0.6818" stop-color="#3bbb75"/><stop offset="0.7045" stop-color="#3dbc74"/><stop offset="0.7273" stop-color="#4ac16d"/><stop offset="0.7500" stop-color="#77d153"/><stop offset="0.7727" stop-color="#95d840"/><stop offset="0.7955" stop-color="#7cd250"/><stop offset="0.8182" stop-color="#38b977"/><stop offset="0.8409" stop-color="#1f958b"/><stop offset="0.8636" stop-color="#26828e"/><stop offset="0.8864" stop-color="#2a778e"/><stop offset="0.9091" stop-color="#2a788e"/><stop offset="0.9318" stop-color="#26828e"/><stop offset="0.9545" stop-color="#1f958b"/><stop offset="0.9773" stop-color="#2ab07f"/><stop offset="1.0000" stop-color="#4ec36b"/></linearGradient><linearGradient id="c23" x1="0" y1="0" x2="0" y2="1"><stop offset="0.0000" stop-color="#f6e620"/><stop offset="0.0227" stop-color="#f6e620"/><stop offset="0.0455" stop-color="#f6e620"/><stop offset="0.0682" stop-color="#f4e61e"/><stop offset="0.0909" stop-color="#f4e61e"/><stop offset="0.1136" stop-color="#f1e51d"/><stop offset="0.1364" stop-color="#efe51c"/><stop offset="0.1591" stop-color="#eae51a"/><stop offset="0.1818" stop-color="#e2e418"/><stop offset="0.2045" stop-color="#d8e219"/><stop offset="0.2273" stop-color="#c8e020"/><stop offset="0.2500" stop-color="#addc30"/><stop offset="0.2727" stop-color="#89d548"/><stop offset="0.2955" stop-color="#4ac16d"/><stop offset="0.3182" stop-color="#20a486"/><stop offset="0.3409" stop-color="#21908d"/><stop offset="0.3636" stop-color="#2a768e"/><stop offset="0.3864" stop-color="#3a548c"/><stop offset="0.4091" stop-color="#472f7d"/><stop offset="0.4318" stop-color="#48186a"/><stop offset="0.4545" stop-color="#482173"/><stop offset="0.4773" stop-color="#3c4f8a"/><stop offset="0.5000" stop-color="#2b748e"/><stop offset="0.5227" stop-color="#1f9a8a"/><stop offset="0.5455" stop-color="#56c667"/><stop offset="0.5682" stop-color="#a8db34"/><stop offset="0.5909" stop-color="#c8e020"/><stop offset="0.6136" stop-color="#c0df25"/><stop offset="0.6364" stop-color="#98d83e"/><stop offset="0.6591" stop-color="#67cc5c"/><stop offset="0.6818" stop-color="#42be71"/><stop offset="0.7045" stop-color="#42be71"/><stop offset="0.7273" stop-color="#52c569"/><stop offset="0.7500" stop-color="#7cd250"/><stop offset="0.7727" stop-color="#9dd93b"/><stop offset="0.7955" stop-color="#89d548"/><stop offset="0.8182" stop-color="#44bf70"/><stop offset="0.8409" stop-color="#1e9c89"/><stop offset="0.8636" stop-color="#24878e"/><stop offset="0.8864" stop-color="#287c8e"/><stop offset="0.9091" stop-color="#287c8e"/><stop offset="0.9318" stop-color="#25858e"/><stop offset="0.9545" stop-color="#1f978b"/><stop offset="0.9773" stop-color="#2ab07f"/><stop offset="1.0000" stop-color="#4cc26c"/></linearGradient><linearGradient id="c24" x1="0" y1="0" x2="0" y2="1"><stop offset="0.0000" stop-color="#f6e620"/><stop offset="0.0227" stop-color="#f6e620"/><stop offset="0.0455" stop-color="#f6e620"/><stop offset="0.0682" stop-color="#f4e61e"/><stop offset="0.0909" stop-color="#f4e61e"/><stop offset="0.1136" stop-color="#f1e51d"/><stop offset="0.1364" stop-color="#efe51c"/><stop offset="0.1591" stop-color="#eae51a"/><stop offset="0.1818" stop-color="#dfe318"/><stop offset="0.2045" stop-color="#d5e21a"/><stop offset="0.2273" stop-color="#c2df23"/><stop offset="0.2500" stop-color="#aadc32"/><stop offset="0.2727" stop-color="#84d44b"/><stop offset="0.2955" stop-color="#46c06f"/><stop offset="0.3182" stop-color="#20a386"/><stop offset="0.3409" stop-color="#218f8d"/><stop offset="0.3636" stop-color="#2b758e"/><stop offset="0.3864" stop-color="#3a538b"/><stop offset="0.4091" stop-color="#472e7c"/><stop offset="0.4318" stop-color="#48186a"/><stop offset="0.4545" stop-color="#482173"/><stop offset="0.4773" stop-color="#3d4e8a"/><stop offset="0.5000" stop-color="#2c738e"/><stop offset="0.5227" stop-color="#1f998a"/><stop offset="0.5455" stop-color="#54c568"/><stop offset="0.5682" stop-color="#a8db34"/><stop offset="0.5909" stop-color="#c8e020"/><stop offset="0.6136" stop-color="#c2df23"/><stop offset="0.6364" stop-color="#98d83e"/><stop offset="0.6591" stop-color="#67cc5c"/><stop offset="0.6818" stop-color="#40bd72"/><stop offset="0.7045" stop-color="#40bd72"/><stop offset="0.7273" stop-color="#4ec36b"/><stop offset="0.7500" stop-color="#7cd250"/><stop offset="0.7727" stop-color="#9dd93b"/><stop offset="0.7955" stop-color="#8ed645"/><stop offset="0.8182" stop-color="#4ac16d"/><stop offset="0.8409" stop-color="#1f9e89"/><stop offset="0.8636" stop-color="#23888e"/><stop offset="0.8864" stop-color="#287c8e"/><stop offset="0.9091" stop-color="#297b8e"/><stop offset="0.9318" stop-color="#25838e"/><stop offset="0.9545" stop-color="#20938c"/><stop offset="0.9773" stop-color="#25ac82"/><stop offset="1.0000" stop-color="#42be71"/></linearGradient><linearGradient id="c25" x1="0" y1="0" x2="0" y2="1"><stop offset="0.0000" stop-color="#f6e620"/><stop offset="0.0227" stop-color="#f6e620"/><stop offset="0.0455" stop-color="#f6e620"/><stop offset="0.0682" stop-color="#f4e61e"/><stop offset="0.0909" stop-color="#f1e51d"/><stop offset="0.1136" stop-color="#efe51c"/><stop offset="0.1364" stop-color="#ece51b"/><stop offset="0.1591" stop-color="#e7e419"/><stop offset="0.1818" stop-color="#dde318"/><stop offset="0.2045" stop-color="#d0e11c"/><stop offset="0.2273" stop-color="#c0df25"/><stop offset="0.2500" stop-color="#a5db36"/><stop offset="0.2727" stop-color="#7fd34e"/><stop offset="0.2955" stop-color="#42be71"/><stop offset="0.3182" stop-color="#1fa287"/><stop offset="0.3409" stop-color="#218e8d"/><stop offset="0.3636" stop-color="#2c738e"/><stop offset="0.3864" stop-color="#3b518b"/><stop offset="0.4091" stop-color="#472d7b"/><stop offset="0.4318" stop-color="#481769"/><stop offset="0.4545" stop-color="#482071"/><stop offset="0.4773" stop-color="#3d4d8a"/><stop offset="0.5000" stop-color="#2c718e"/><stop offset="0.5227" stop-color="#1f978b"/><stop offset="0.5455" stop-color="#50c46a"/><stop offset="0.5682" stop-color="#a2da37"/><stop offset="0.5909" stop-color="#c8e020"/><stop offset="0.6136" stop-color="#c0df25"/><stop offset="0.6364" stop-color="#9bd93c"/><stop offset="0.6591" stop-color="#67cc5c"/><stop offset="0.6818" stop-color="#3fbc73"/><stop offset="0.7045" stop-color="#3fbc73"/><stop offset="0.7273" stop-color="#4cc26c"/><stop offset="0.7500" stop-color="#77d153"/><stop offset="0.7727" stop-color="#9dd93b"/><stop offset="0.7955" stop-color="#90d743"/><stop offset="0.8182" stop-color="#4ec36b"/><stop offset="0.8409" stop-color="#1f9f88"/><stop offset="0.8636" stop-color="#23888e"/><stop offset="0.8864" stop-color="#287c8e"/><stop offset="0.9091" stop-color="#297a8e"/><stop offset="0.9318" stop-color="#26818e"/><stop offset="0.9545" stop-color="#21908d"/><stop offset="0.9773" stop-color="#21a685"/><stop offset="1.0000" stop-color="#38b977"/></linearGradient><linearGradient id="c26" x1="0" y1="0" x2="0" y2="1"><stop offset="0.0000" stop-color="#f6e620"/><stop offset="0.0227" stop-color="#f4e61e"/><stop offset="0.0455" stop-color="#f4e61e"/><stop offset="0.0682" stop-color="#f1e51d"/><stop offset="0.0909" stop-color="#f1e51d"/><stop offset="0.1136" stop-color="#efe51c"/><stop offset="0.1364" stop-color="#eae51a"/><stop offset="0.1591" stop-color="#e5e419"/><stop offset="0.1818" stop-color="#d8e219"/><stop offset="0.2045" stop-color="#c8e020"/><stop offset="0.2273" stop-color="#b5de2b"/><stop offset="0.2500" stop-color="#98d83e"/><stop offset="0.2727" stop-color="#70cf57"/><stop offset="0.2955" stop-color="#35b779"/><stop offset="0.3182" stop-color="#1e9b8a"/><stop offset="0.3409" stop-color="#25858e"/><stop offset="0.3636" stop-color="#2f6c8e"/><stop offset="0.3864" stop-color="#3e4989"/><stop offset="0.4091" stop-color="#482878"/><stop offset="0.4318" stop-color="#481467"/><stop offset="0.4545" stop-color="#481c6e"/><stop offset="0.4773" stop-color="#404688"/><stop offset="0.5000" stop-color="#306a8e"/><stop offset="0.5227" stop-color="#218f8d"/><stop offset="0.5455" stop-color="#42be71"/><stop offset="0.5682" stop-color="#98d83e"/><stop offset="0.5909" stop-color="#c0df25"/><stop offset="0.6136" stop-color="#bade28"/><stop offset="0.6364" stop-color="#93d741"/><stop offset="0.6591" stop-color="#5cc863"/><stop offset="0.6818" stop-color="#34b679"/><stop offset="0.7045" stop-color="#34b679"/><stop offset="0.7273" stop-color="#3fbc73"/><stop offset="0.7500" stop-color="#6ccd5a"/><stop offset="0.7727" stop-color="#93d741"/><stop offset="0.7955" stop-color="#8bd646"/><stop offset="0.8182" stop-color="#48c16e"/><stop offset="0.8409" stop-color="#1f9a8a"/><stop offset="0.8636" stop-color="#26828e"/><stop offset="0.8864" stop-color="#2b758e"/><stop offset="0.9091" stop-color="#2c728e"/><stop offset="0.9318" stop-color="#2a788e"/><stop offset="0.9545" stop-color="#25858e"/><stop offset="0.9773" stop-color="#1e9b8a"/><stop offset="1.0000" stop-color="#29af7f"/></linearGradient><linearGradient id="c27" x1="0" y1="0" x2="0" y2="1"><stop offset="0.0000" stop-color="#f6e620"/><stop offset="0.0227" stop-color="#f6e620"/><stop offset="0.0455" stop-color="#f4e61e"/><stop offset="0.0682" stop-color="#f4e61e"/><stop offset="0.0909" stop-color="#f1e51d"/><stop offset="0.1136" stop-color="#efe51c"/><stop offset="0.1364" stop-color="#ece51b"/><stop offset="0.1591" stop-color="#e5e419"/><stop offset="0.1818" stop-color="#dae319"/><stop offset="0.2045" stop-color="#cae11f"/><stop offset="0.2273" stop-color="#b8de29"/><stop offset="0.2500" stop-color="#9dd93b"/><stop offset="0.2727" stop-color="#75d054"/><stop offset="0.2955" stop-color="#3bbb75"/><stop offset="0.3182" stop-color="#1fa088"/><stop offset="0.3409" stop-color="#228b8d"/><stop offset="0.3636" stop-color="#2d718e"/><stop offset="0.3864" stop-color="#3d4e8a"/><stop offset="0.4091" stop-color="#472a7a"/><stop offset="0.4318" stop-color="#481668"/><stop offset="0.4545" stop-color="#481f70"/><stop offset="0.4773" stop-color="#3e4c8a"/><stop offset="0.5000" stop-color="#2d708e"/><stop offset="0.5227" stop-color="#20938c"/><stop offset="0.5455" stop-color="#4ac16d"/><stop offset="0.5682" stop-color="#a0da39"/><stop offset="0.5909" stop-color="#c5e021"/><stop offset="0.6136" stop-color="#c0df25"/><stop offset="0.6364" stop-color="#9dd93b"/><stop offset="0.6591" stop-color="#67cc5c"/><stop offset="0.6818" stop-color="#3bbb75"/><stop offset="0.7045" stop-color="#3bbb75"/><stop offset="0.7273" stop-color="#46c06f"/><stop offset="0.7500" stop-color="#75d054"/><stop offset="0.7727" stop-color="#9bd93c"/><stop offset="0.7955" stop-color="#9bd93c"/><stop offset="0.8182" stop-color="#58c765"/><stop offset="0.8409" stop-color="#1fa287"/><stop offset="0.8636" stop-color="#23898e"/><stop offset="0.8864" stop-color="#297b8e"/><stop offset="0.9091" stop-color="#2a788e"/><stop offset="0.9318" stop-color="#287d8e"/><stop offset="0.9545" stop-color="#23888e"/><stop offset="0.9773" stop-color="#1e9d89"/><stop offset="1.0000" stop-color="#2ab07f"/></linearGradient><linearGradient id="c28" x1="0" y1="0" x2="0" y2="1"><stop offset="0.0000" stop-color="#f6e620"/><stop offset="0.0227" stop-color="#f6e620"/><stop offset="0.0455" stop-color="#f4e61e"/><stop offset="0.0682" stop-color="#f4e61e"/><stop offset="0.0909" stop-color="#f1e51d"/><stop offset="0.1136" stop-color="#efe51c"/><stop offset="0.1364" stop-color="#ece51b"/><stop offset="0.1591" stop-color="#e5e419"/><stop offset="0.1818" stop-color="#d8e219"/><stop offset="0.2045" stop-color="#c8e020"/><stop offset="0.2273" stop-color="#b5de2b"/><stop offset="0.2500" stop-color="#9bd93c"/><stop offset="0.2727" stop-color="#75d054"/><stop offset="0.2955" stop-color="#3bbb75"/><stop offset="0.3182" stop-color="#1fa188"/><stop offset="0.3409" stop-color="#228d8d"/><stop offset="0.3636" stop-color="#2c718e"/><stop offset="0.3864" stop-color="#3c4f8a"/><stop offset="0.4091" stop-color="#472a7a"/><stop offset="0.4318" stop-color="#481668"/><stop offset="0.4545" stop-color="#481f70"/><stop offset="0.4773" stop-color="#3e4c8a"/><stop offset="0.5000" stop-color="#2d718e"/><stop offset="0.5227" stop-color="#1f948c"/><stop offset="0.5455" stop-color="#4ac16d"/><stop offset="0.5682" stop-color="#a0da39"/><stop offset="0.5909" stop-color="#c8e020"/><stop offset="0.6136" stop-color="#c2df23"/><stop offset="0.6364" stop-color="#a0da39"/><stop offset="0.6591" stop-color="#6ccd5a"/><stop offset="0.6818" stop-color="#3dbc74"/><stop offset="0.7045" stop-color="#3dbc74"/><stop offset="0.7273" stop-color="#48c16e"/><stop offset="0.7500" stop-color="#75d054"/><stop offset="0.7727" stop-color="#9dd93b"/><stop offset="0.7955" stop-color="#a0da39"/><stop offset="0.8182" stop-color="#63cb5f"/><stop offset="0.8409" stop-color="#21a585"/><stop offset="0.8636" stop-color="#228c8d"/><stop offset="0.8864" stop-color="#287d8e"/><stop offset="0.9091" stop-color="#29798e"/><stop offset="0.9318" stop-color="#287d8e"/><stop offset="0.9545" stop-color="#24868e"/><stop offset="0.9773" stop-color="#1f9a8a"/><stop offset="1.0000" stop-color="#26ad81"/></linearGradient><linearGradient id="c29" x1="0" y1="0" x2="0" y2="1"><stop offset="0.0000" stop-color="#f6e620"/><stop offset="0.0227" stop-color="#f6e620"/><stop offset="0.0455" stop-color="#f4e61e"/><stop offset="0.0682" stop-color="#f4e61e"/><stop offset="0.0909" stop-color="#f1e51d"/><stop offset="0.1136" stop-color="#efe51c"/><stop offset="0.1364" stop-color="#eae51a"/><stop offset="0.1591" stop-color="#e5e419"/><stop offset="0.1818" stop-color="#d8e219"/><stop offset="0.2045" stop-color="#c5e021"/><stop offset="0.2273" stop-color="#b2dd2d"/><stop offset="0.2500" stop-color="#98d83e"/><stop offset="0.2727" stop-color="#73d056"/><stop offset="0.2955" stop-color="#3aba76"/><stop offset="0.3182" stop-color="#1fa188"/><stop offset="0.3409" stop-color="#228d8d"/><stop offset="0.3636" stop-color="#2c718e"/><stop offset="0.3864" stop-color="#3d4e8a"/><stop offset="0.4091" stop-color="#482979"/><stop offset="0.4318" stop-color="#481467"/><stop offset="0.4545" stop-color="#481f70"/><stop offset="0.4773" stop-color="#3e4c8a"/><stop offset="0.5000" stop-color="#2d718e"/><stop offset="0.5227" stop-color="#20938c"/><stop offset="0.5455" stop-color="#48c16e"/><stop offset="0.5682" stop-color="#a0da39"/><stop offset="0.5909" stop-color="#c8e020"/><stop offset="0.6136" stop-color="#c2df23"/><stop offset="0.6364" stop-color="#a2da37"/><stop offset="0.6591" stop-color="#6ece58"/><stop offset="0.6818" stop-color="#3dbc74"/><stop offset="0.7045" stop-color="#3dbc74"/><stop offset="0.7273" stop-color="#46c06f"/><stop offset="0.7500" stop-color="#75d054"/><stop offset="0.7727" stop-color="#a0da39"/><stop offset="0.7955" stop-color="#a8db34"/><stop offset="0.8182" stop-color="#69cd5b"/><stop offset="0.8409" stop-color="#22a884"/><stop offset="0.8636" stop-color="#228d8d"/><stop offset="0.8864" stop-color="#277e8e"/><stop offset="0.9091" stop-color="#29798e"/><stop offset="0.9318" stop-color="#287c8e"/><stop offset="0.9545" stop-color="#25838e"/><stop offset="0.9773" stop-color="#1f968b"/><stop offset="1.0000" stop-color="#23a983"/></linearGradient><linearGradient id="c30" x1="0" y1="0" x2="0" y2="1"><stop offset="0.0000" stop-color="#f4e61e"/><stop offset="0.0227" stop-color="#f4e61e"/><stop offset="0.0455" stop-color="#f4e61e"/><stop offset="0.0682" stop-color="#f1e51d"/><stop offset="0.0909" stop-color="#efe51c"/><stop offset="0.1136" stop-color="#ece51b"/><stop offset="0.1364" stop-color="#e7e419"/><stop offset="0.1591" stop-color="#dfe318"/><stop offset="0.1818" stop-color="#d2e21b"/><stop offset="0.2045" stop-color="#bddf26"/><stop offset="0.2273" stop-color="#a8db34"/><stop offset="0.2500" stop-color="#8ed645"/><stop offset="0.2727" stop-color="#67cc5c"/><stop offset="0.2955" stop-color="#31b57b"/><stop offset="0.3182" stop-color="#1e9b8a"/><stop offset="0.3409" stop-color="#24868e"/><stop offset="0.3636" stop-color="#2f6c8e"/><stop offset="0.3864" stop-color="#3f4889"/><stop offset="0.4091" stop-color="#482576"/><stop offset="0.4318" stop-color="#471365"/><stop offset="0.4545" stop-color="#481c6e"/><stop offset="0.4773" stop-color="#3f4788"/><stop offset="0.5000" stop-color="#2f6b8e"/><stop offset="0.5227" stop-color="#218e8d"/><stop offset="0.5455" stop-color="#3fbc73"/><stop offset="0.5682" stop-color="#95d840"/><stop offset="0.5909" stop-color="#c2df23"/><stop offset="0.6136" stop-color="#c0df25"/><stop offset="0.6364" stop-color="#a0da39"/><stop offset="0.6591" stop-color="#67cc5c"/><stop offset="0.6818" stop-color="#35b779"/><stop offset="0.7045" stop-color="#34b679"/><stop offset="0.7273" stop-color="#3dbc74"/><stop offset="0.7500" stop-color="#6ccd5a"/><stop offset="0.7727" stop-color="#98d83e"/><stop offset="0.7955" stop-color="#a5db36"/><stop offset="0.8182" stop-color="#69cd5b"/><stop offset="0.8409" stop-color="#21a585"/><stop offset="0.8636" stop-color="#23898e"/><stop offset="0.8864" stop-color="#29798e"/><stop offset="0.9091" stop-color="#2c738e"/><stop offset="0.9318" stop-color="#2b758e"/><stop offset="0.9545" stop-color="#297b8e"/><stop offset="0.9773" stop-color="#228c8d"/><stop offset="1.0000" stop-color="#1fa088"/></linearGradient><linearGradient id="c31" x1="0" y1="0" x2="0" y2="1"><stop offset="0.0000" stop-color="#f4e61e"/><stop offset="0.0227" stop-color="#f4e61e"/><stop offset="0.0455" stop-color="#f4e61e"/><stop offset="0.0682" stop-color="#f1e51d"/><stop offset="0.0909" stop-color="#efe51c"/><stop offset="0.1136" stop-color="#ece51b"/><stop offset="0.1364" stop-color="#e7e419"/><stop offset="0.1591" stop-color="#e2e418"/><stop offset="0.1818" stop-color="#d2e21b"/><stop offset="0.2045" stop-color="#c0df25"/><stop offset="0.2273" stop-color="#aadc32"/><stop offset="0.2500" stop-color="#90d743"/><stop offset="0.2727" stop-color="#69cd5b"/><stop offset="0.2955" stop-color="#34b679"/><stop offset="0.3182" stop-color="#1f9e89"/><stop offset="0.3409" stop-color="#23898e"/><stop offset="0.3636" stop-color="#2e6f8e"/><stop offset="0.3864" stop-color="#3e4a89"/><stop offset="0.4091" stop-color="#482677"/><stop offset="0.4318" stop-color="#471365"/><stop offset="0.4545" stop-color="#481d6f"/><stop offset="0.4773" stop-color="#3e4a89"/><stop offset="0.5000" stop-color="#2e6e8e"/><stop offset="0.5227" stop-color="#21908d"/><stop offset="0.5455" stop-color="#40bd72"/><stop offset="0.5682" stop-color="#98d83e"/><stop offset="0.5909" stop-color="#c5e021"/><stop offset="0.6136" stop-color="#c2df23"/><stop offset="0.6364" stop-color="#a5db36"/><stop offset="0.6591" stop-color="#6ece58"/><stop offset="0.6818" stop-color="#3aba76"/><stop offset="0.7045" stop-color="#38b977"/><stop offset="0.7273" stop-color="#40bd72"/><stop offset="0.7500" stop-color="#70cf57"/><stop offset="0.7727" stop-color="#9dd93b"/><stop offset="0.7955" stop-color="#addc30"/><stop offset="0.8182" stop-color="#73d056"/><stop offset="0.8409" stop-color="#24aa83"/><stop offset="0.8636" stop-color="#228d8d"/><stop offset="0.8864" stop-color="#287d8e"/><stop offset="0.9091" stop-color="#2a778e"/><stop offset="0.9318" stop-color="#2a788e"/><stop offset="0.9545" stop-color="#287c8e"/><stop offset="0.9773" stop-color="#228d8d"/><stop offset="1.0000" stop-color="#1fa088"/></linearGradient><linearGradient id="c32" x1="0" y1="0" x2="0" y2="1"><stop offset="0.0000" stop-color="#f4e61e"/><stop offset="0.0227" stop-color="#f4e61e"/><stop offset="0.0455" stop-color="#f1e51d"/><stop offset="0.0682" stop-color="#f1e51d"/><stop offset="0.0909" stop-color="#efe51c"/><stop offset="0.1136" stop-color="#eae51a"/><stop offset="0.1364" stop-color="#e7e419"/><stop offset="0.1591" stop-color="#dfe318"/><stop offset="0.1818" stop-color="#d2e21b"/><stop offset="0.2045" stop-color="#c0df25"/><stop offset="0.2273" stop-color="#aadc32"/><stop offset="0.2500" stop-color="#8bd646"/><stop offset="0.2727" stop-color="#65cb5e"/><stop offset="0.2955" stop-color="#2fb47c"/><stop offset="0.3182" stop-color="#1e9b8a"/><stop offset="0.3409" stop-color="#24868e"/><stop offset="0.3636" stop-color="#2f6c8e"/><stop offset="0.3864" stop-color="#3f4889"/><stop offset="0.4091" stop-color="#482677"/><stop offset="0.4318" stop-color="#471365"/><stop offset="0.4545" stop-color="#481d6f"/><stop offset="0.4773" stop-color="#3f4889"/><stop offset="0.5000" stop-color="#2f6c8e"/><stop offset="0.5227" stop-color="#218e8d"/><stop offset="0.5455" stop-color="#3dbc74"/><stop offset="0.5682" stop-color="#93d741"/><stop offset="0.5909" stop-color="#c0df25"/><stop offset="0.6136" stop-color="#c0df25"/><stop offset="0.6364" stop-color="#a2da37"/><stop offset="0.6591" stop-color="#6ccd5a"/><stop offset="0.6818" stop-color="#38b977"/><stop offset="0.7045" stop-color="#35b779"/><stop offset="0.7273" stop-color="#3dbc74"/><stop offset="0.7500" stop-color="#6ccd5a"/><stop offset="0.7727" stop-color="#9bd93c"/><stop offset="0.7955" stop-color="#aadc32"/><stop offset="0.8182" stop-color="#73d056"/><stop offset="0.8409" stop-color="#24aa83"/><stop offset="0.8636" stop-color="#228d8d"/><stop offset="0.8864" stop-color="#287c8e"/><stop offset="0.9091" stop-color="#2b758e"/><stop offset="0.9318" stop-color="#2a768e"/><stop offset="0.9545" stop-color="#297a8e"/><stop offset="0.9773" stop-color="#238a8d"/><stop offset="1.0000" stop-color="#1e9c89"/></linearGradient><linearGradient id="c33" x1="0" y1="0" x2="0" y2="1"><stop offset="0.0000" stop-color="#f4e61e"/><stop offset="0.0227" stop-color="#f1e51d"/><stop offset="0.0455" stop-color="#f1e51d"/><stop offset="0.0682" stop-color="#efe51c"/><stop offset="0.0909" stop-color="#ece51b"/><stop offset="0.1136" stop-color="#eae51a"/><stop offset="0.1364" stop-color="#e7e419"/><stop offset="0.1591" stop-color="#dfe318"/><stop offset="0.1818" stop-color="#d2e21b"/><stop offset="0.2045" stop-color="#c0df25"/><stop offset="0.2273" stop-color="#aadc32"/><stop offset="0.2500" stop-color="#8bd646"/><stop offset="0.2727" stop-color="#63cb5f"/><stop offset="0.2955" stop-color="#2fb47c"/><stop offset="0.3182" stop-color="#1f9a8a"/><stop offset="0.3409" stop-color="#24868e"/><stop offset="0.3636" stop-color="#2f6c8e"/><stop offset="0.3864" stop-color="#3e4989"/><stop offset="0.4091" stop-color="#482677"/><stop offset="0.4318" stop-color="#471365"/><stop offset="0.4545" stop-color="#481d6f"/><stop offset="0.4773" stop-color="#3f4889"/><stop offset="0.5000" stop-color="#2e6d8e"/><stop offset="0.5227" stop-color="#218e8d"/><stop offset="0.5455" stop-color="#3bbb75"/><stop offset="0.5682" stop-color="#90d743"/><stop offset="0.5909" stop-color="#c0df25"/><stop offset="0.6136" stop-color="#c0df25"/><stop offset="0.6364" stop-color="#a5db36"/><stop offset="0.6591" stop-color="#6ccd5a"/><stop offset="0.6818" stop-color="#38b977"/><stop offset="0.7045" stop-color="#37b878"/><stop offset="0.7273" stop-color="#3dbc74"/><stop offset="0.7500" stop-color="#6ccd5a"/><stop offset="0.7727" stop-color="#9bd93c"/><stop offset="0.7955" stop-color="#aadc32"/><stop offset="0.8182" stop-color="#75d054"/><stop offset="0.8409" stop-color="#25ab82"/><stop offset="0.8636" stop-color="#218e8d"/><stop offset="0.8864" stop-color="#277e8e"/><stop offset="0.9091" stop-color="#2a768e"/><stop offset="0.9318" stop-color="#2a778e"/><stop offset="0.9545" stop-color="#297a8e"/><stop offset="0.9773" stop-color="#23898e"/><stop offset="1.0000" stop-color="#1e9b8a"/></linearGradient><linearGradient id="c34" x1="0" y1="0" x2="0" y2="1"><stop offset="0.0000" stop-color="#f4e61e"/><stop offset="0.0227" stop-color="#f1e51d"/><stop offset="0.0455" stop-color="#f1e51d"/><stop offset="0.0682" stop-color="#efe51c"/><stop offset="0.0909" stop-color="#efe51c"/><stop offset="0.1136" stop-color="#ece51b"/><stop offset="0.1364" stop-color="#e7e419"/><stop offset="0.1591" stop-color="#e2e418"/><stop offset="0.1818" stop-color="#d8e219"/><stop offset="0.2045" stop-color="#c8e020"/><stop offset="0.2273" stop-color="#b2dd2d"/><stop offset="0.2500" stop-color="#93d741"/><stop offset="0.2727" stop-color="#6ccd5a"/><stop offset="0.2955" stop-color="#37b878"/><stop offset="0.3182" stop-color="#1fa088"/><stop offset="0.3409" stop-color="#228c8d"/><stop offset="0.3636" stop-color="#2d718e"/><stop offset="0.3864" stop-color="#3d4e8a"/><stop offset="0.4091" stop-color="#472a7a"/><stop offset="0.4318" stop-color="#481467"/><stop offset="0.4545" stop-color="#482173"/><stop offset="0.4773" stop-color="#3d4e8a"/><stop offset="0.5000" stop-color="#2c718e"/><stop offset="0.5227" stop-color="#20938c"/><stop offset="0.5455" stop-color="#44bf70"/><stop offset="0.5682" stop-color="#95d840"/><stop offset="0.5909" stop-color="#c2df23"/><stop offset="0.6136" stop-color="#c8e020"/><stop offset="0.6364" stop-color="#addc30"/><stop offset="0.6591" stop-color="#77d153"/><stop offset="0.6818" stop-color="#42be71"/><stop offset="0.7045" stop-color="#3fbc73"/><stop offset="0.7273" stop-color="#46c06f"/><stop offset="0.7500" stop-color="#75d054"/><stop offset="0.7727" stop-color="#a2da37"/><stop offset="0.7955" stop-color="#b0dd2f"/><stop offset="0.8182" stop-color="#81d34d"/><stop offset="0.8409" stop-color="#2db27d"/><stop offset="0.8636" stop-color="#1f958b"/><stop offset="0.8864" stop-color="#25848e"/><stop offset="0.9091" stop-color="#287d8e"/><stop offset="0.9318" stop-color="#287d8e"/><stop offset="0.9545" stop-color="#27808e"/><stop offset="0.9773" stop-color="#218f8d"/><stop offset="1.0000" stop-color="#1fa088"/></linearGradient><linearGradient id="c35" x1="0" y1="0" x2="0" y2="1"><stop offset="0.0000" stop-color="#f1e51d"/><stop offset="0.0227" stop-color="#f1e51d"/><stop offset="0.0455" stop-color="#efe51c"/><stop offset="0.0682" stop-color="#ece51b"/><stop offset="0.0909" stop-color="#ece51b"/><stop offset="0.1136" stop-color="#eae51a"/><stop offset="0.1364" stop-color="#e5e419"/><stop offset="0.1591" stop-color="#dfe318"/><stop offset="0.1818" stop-color="#d2e21b"/><stop offset="0.2045" stop-color="#c2df23"/><stop offset="0.2273" stop-color="#aadc32"/><stop offset="0.2500" stop-color="#86d549"/><stop offset="0.2727" stop-color="#5ec962"/><stop offset="0.2955" stop-color="#2db27d"/><stop offset="0.3182" stop-color="#1f988b"/><stop offset="0.3409" stop-color="#25848e"/><stop offset="0.3636" stop-color="#306a8e"/><stop offset="0.3864" stop-color="#3f4889"/><stop offset="0.4091" stop-color="#482677"/><stop offset="0.4318" stop-color="#471365"/><stop offset="0.4545" stop-color="#481f70"/><stop offset="0.4773" stop-color="#3f4889"/><stop offset="0.5000" stop-color="#2f6c8e"/><stop offset="0.5227" stop-color="#228d8d"/><stop offset="0.5455" stop-color="#38b977"/><stop offset="0.5682" stop-color="#89d548"/><stop offset="0.5909" stop-color="#bade28"/><stop offset="0.6136" stop-color="#c0df25"/><stop offset="0.6364" stop-color="#a5db36"/><stop offset="0.6591" stop-color="#6ece58"/><stop offset="0.6818" stop-color="#38b977"/><stop offset="0.7045" stop-color="#35b779"/><stop offset="0.7273" stop-color="#3bbb75"/><stop offset="0.7500" stop-color="#69cd5b"/><stop offset="0.7727" stop-color="#98d83e"/><stop offset="0.7955" stop-color="#a8db34"/><stop offset="0.8182" stop-color="#77d153"/><stop offset="0.8409" stop-color="#27ad81"/><stop offset="0.8636" stop-color="#21918c"/><stop offset="0.8864" stop-color="#277f8e"/><stop offset="0.9091" stop-color="#2a778e"/><stop offset="0.9318" stop-color="#2a768e"/><stop offset="0.9545" stop-color="#29798e"/><stop offset="0.9773" stop-color="#24878e"/><stop offset="1.0000" stop-color="#1f978b"/></linearGradient><linearGradient id="c36" x1="0" y1="0" x2="0" y2="1"><stop offset="0.0000" stop-color="#f1e51d"/><stop offset="0.0227" stop-color="#efe51c"/><stop offset="0.0455" stop-color="#efe51c"/><stop offset="0.0682" stop-color="#ece51b"/><stop offset="0.0909" stop-color="#ece51b"/><stop offset="0.1136" stop-color="#eae51a"/><stop offset="0.1364" stop-color="#e5e419"/><stop offset="0.1591" stop-color="#dfe318"/><stop offset="0.1818" stop-color="#d5e21a"/><stop offset="0.2045" stop-color="#c5e021"/><stop offset="0.2273" stop-color="#b0dd2f"/><stop offset="0.2500" stop-color="#89d548"/><stop offset="0.2727" stop-color="#60ca60"/><stop offset="0.2955" stop-color="#2eb37c"/><stop offset="0.3182" stop-color="#1f998a"/><stop offset="0.3409" stop-color="#24868e"/><stop offset="0.3636" stop-color="#2f6c8e"/><stop offset="0.3864" stop-color="#3e4a89"/><stop offset="0.4091" stop-color="#482878"/><stop offset="0.4318" stop-color="#481467"/><stop offset="0.4545" stop-color="#482071"/><stop offset="0.4773" stop-color="#3e4a89"/><stop offset="0.5000" stop-color="#2e6e8e"/><stop offset="0.5227" stop-color="#218f8d"/><stop offset="0.5455" stop-color="#3aba76"/><stop offset="0.5682" stop-color="#89d548"/><stop offset="0.5909" stop-color="#bddf26"/><stop offset="0.6136" stop-color="#c2df23"/><stop offset="0.6364" stop-color="#a8db34"/><stop offset="0.6591" stop-color="#73d056"/><stop offset="0.6818" stop-color="#3dbc74"/><stop offset="0.7045" stop-color="#38b977"/><stop offset="0.7273" stop-color="#3fbc73"/><stop offset="0.7500" stop-color="#6ccd5a"/><stop offset="0.7727" stop-color="#9bd93c"/><stop offset="0.7955" stop-color="#aadc32"/><stop offset="0.8182" stop-color="#7fd34e"/><stop offset="0.8409" stop-color="#2cb17e"/><stop offset="0.8636" stop-color="#1f948c"/><stop offset="0.8864" stop-color="#26828e"/><stop offset="0.9091" stop-color="#297a8e"/><stop offset="0.9318" stop-color="#29798e"/><stop offset="0.9545" stop-color="#297b8e"/><stop offset="0.9773" stop-color="#23888e"/><stop offset="1.0000" stop-color="#1f988b"/></linearGradient><linearGradient id="c37" x1="0" y1="0" x2="0" y2="1"><stop offset="0.0000" stop-color="#f1e51d"/><stop offset="0.0227" stop-color="#efe51c"/><stop offset="0.0455" stop-color="#efe51c"/><stop offset="0.0682" stop-color="#ece51b"/><stop offset="0.0909" stop-color="#ece51b"/><stop offset="0.1136" stop-color="#eae51a"/><stop offset="0.1364" stop-color="#e7e419"/><stop offset="0.1591" stop-color="#e2e418"/><stop offset="0.1818" stop-color="#d8e219"/><stop offset="0.2045" stop-color="#c8e020"/><stop offset="0.2273" stop-color="#b2dd2d"/><stop offset="0.2500" stop-color="#8ed645"/><stop offset="0.2727" stop-color="#65cb5e"/><stop offset="0.2955" stop-color="#31b57b"/><stop offset="0.3182" stop-color="#1e9c89"/><stop offset="0.3409" stop-color="#23888e"/><stop offset="0.3636" stop-color="#2e6e8e"/><stop offset="0.3864" stop-color="#3d4d8a"/><stop offset="0.4091" stop-color="#472a7a"/><stop offset="0.4318" stop-color="#481467"/><stop offset="0.4545" stop-color="#482173"/><stop offset="0.4773" stop-color="#3d4d8a"/><stop offset="0.5000" stop-color="#2d718e"/><stop offset="0.5227" stop-color="#20928c"/><stop offset="0.5455" stop-color="#3dbc74"/><stop offset="0.5682" stop-color="#8bd646"/><stop offset="0.5909" stop-color="#bddf26"/><stop offset="0.6136" stop-color="#c5e021"/><stop offset="0.6364" stop-color="#addc30"/><stop offset="0.6591" stop-color="#77d153"/><stop offset="0.6818" stop-color="#42be71"/><stop offset="0.7045" stop-color="#3dbc74"/><stop offset="0.7273" stop-color="#44bf70"/><stop offset="0.7500" stop-color="#70cf57"/><stop offset="0.7727" stop-color="#9dd93b"/><stop offset="0.7955" stop-color="#b0dd2f"/><stop offset="0.8182" stop-color="#86d549"/><stop offset="0.8409" stop-color="#31b57b"/><stop offset="0.8636" stop-color="#1f988b"/><stop offset="0.8864" stop-color="#24868e"/><stop offset="0.9091" stop-color="#277e8e"/><stop offset="0.9318" stop-color="#287c8e"/><stop offset="0.9545" stop-color="#277e8e"/><stop offset="0.9773" stop-color="#228b8d"/><stop offset="1.0000" stop-color="#1f998a"/></linearGradient><linearGradient id="c38" x1="0" y1="0" x2="0" y2="1"><stop offset="0.0000" stop-color="#efe51c"/><stop offset="0.0227" stop-color="#ece51b"/><stop offset="0.0455" stop-color="#ece51b"/><stop offset="0.0682" stop-color="#eae51a"/><stop offset="0.0909" stop-color="#eae51a"/><stop offset="0.1136" stop-color="#e7e419"/><stop offset="0.1364" stop-color="#e5e419"/><stop offset="0.1591" stop-color="#dfe318"/><stop offset="0.1818" stop-color="#d5e21a"/><stop offset="0.2045" stop-color="#c5e021"/><stop offset="0.2273" stop-color="#addc30"/><stop offset="0.2500" stop-color="#84d44b"/><stop offset="0.2727" stop-color="#5ac864"/><stop offset="0.2955" stop-color="#29af7f"/><stop offset="0.3182" stop-color="#1f958b"/><stop offset="0.3409" stop-color="#26828e"/><stop offset="0.3636" stop-color="#31688e"/><stop offset="0.3864" stop-color="#3f4889"/><stop offset="0.4091" stop-color="#482878"/><stop offset="0.4318" stop-color="#471365"/><stop offset="0.4545" stop-color="#482071"/><stop offset="0.4773" stop-color="#3f4889"/><stop offset="0.5000" stop-color="#2f6c8e"/><stop offset="0.5227" stop-color="#228c8d"/><stop offset="0.5455" stop-color="#34b679"/><stop offset="0.5682" stop-color="#7fd34e"/><stop offset="0.5909" stop-color="#b5de2b"/><stop offset="0.6136" stop-color="#c0df25"/><stop offset="0.6364" stop-color="#a8db34"/><stop offset="0.6591" stop-color="#70cf57"/><stop offset="0.6818" stop-color="#3aba76"/><stop offset="0.7045" stop-color="#35b779"/><stop offset="0.7273" stop-color="#3bbb75"/><stop offset="0.7500" stop-color="#65cb5e"/><stop offset="0.7727" stop-color="#95d840"/><stop offset="0.7955" stop-color="#a8db34"/><stop offset="0.8182" stop-color="#7fd34e"/><stop offset="0.8409" stop-color="#2db27d"/><stop offset="0.8636" stop-color="#1f948c"/><stop offset="0.8864" stop-color="#26828e"/><stop offset="0.9091" stop-color="#29798e"/><stop offset="0.9318" stop-color="#2a778e"/><stop offset="0.9545" stop-color="#2a788e"/><stop offset="0.9773" stop-color="#25848e"/><stop offset="1.0000" stop-color="#20928c"/></linearGradient><linearGradient id="c39" x1="0" y1="0" x2="0" y2="1"><stop offset="0.0000" stop-color="#ece51b"/><stop offset="0.0227" stop-color="#ece51b"/><stop offset="0.0455" stop-color="#ece51b"/><stop offset="0.0682" stop-color="#eae51a"/><stop offset="0.0909" stop-color="#eae51a"/><stop offset="0.1136" stop-color="#e7e419"/><stop offset="0.1364" stop-color="#e5e419"/><stop offset="0.1591" stop-color="#dfe318"/><stop offset="0.1818" stop-color="#d8e219"/><stop offset="0.2045" stop-color="#c8e020"/><stop offset="0.2273" stop-color="#b0dd2f"/><stop offset="0.2500" stop-color="#84d44b"/><stop offset="0.2727" stop-color="#5cc863"/><stop offset="0.2955" stop-color="#2ab07f"/><stop offset="0.3182" stop-color="#1f958b"/><stop offset="0.3409" stop-color="#26828e"/><stop offset="0.3636" stop-color="#30698e"/><stop offset="0.3864" stop-color="#3f4889"/><stop offset="0.4091" stop-color="#482979"/><stop offset="0.4318" stop-color="#471365"/><stop offset="0.4545" stop-color="#482173"/><stop offset="0.4773" stop-color="#3e4a89"/><stop offset="0.5000" stop-color="#2e6d8e"/><stop offset="0.5227" stop-color="#218e8d"/><stop offset="0.5455" stop-color="#34b679"/><stop offset="0.5682" stop-color="#7fd34e"/><stop offset="0.5909" stop-color="#b5de2b"/><stop offset="0.6136" stop-color="#c2df23"/><stop offset="0.6364" stop-color="#aadc32"/><stop offset="0.6591" stop-color="#73d056"/><stop offset="0.6818" stop-color="#3dbc74"/><stop offset="0.7045" stop-color="#38b977"/><stop offset="0.7273" stop-color="#3dbc74"/><stop offset="0.7500" stop-color="#67cc5c"/><stop offset="0.7727" stop-color="#98d83e"/><stop offset="0.7955" stop-color="#aadc32"/><stop offset="0.8182" stop-color="#84d44b"/><stop offset="0.8409" stop-color="#2fb47c"/><stop offset="0.8636" stop-color="#1f978b"/><stop offset="0.8864" stop-color="#25848e"/><stop offset="0.9091" stop-color="#297b8e"/><stop offset="0.9318" stop-color="#29798e"/><stop offset="0.9545" stop-color="#297a8e"/><stop offset="0.9773" stop-color="#25858e"/><stop offset="1.0000" stop-color="#20928c"/></linearGradient><linearGradient id="c40" x1="0" y1="0" x2="0" y2="1"><stop offset="0.0000" stop-color="#ece51b"/><stop offset="0.0227" stop-color="#ece51b"/><stop offset="0.0455" stop-color="#ece51b"/><stop offset="0.0682" stop-color="#eae51a"/><stop offset="0.0909" stop-color="#e7e419"/><stop offset="0.1136" stop-color="#e7e419"/><stop offset="0.1364" stop-color="#e5e419"/><stop offset="0.1591" stop-color="#dfe318"/><stop offset="0.1818" stop-color="#d8e219"/><stop offset="0.2045" stop-color="#cae11f"/><stop offset="0.2273" stop-color="#b0dd2f"/><stop offset="0.2500" stop-color="#84d44b"/><stop offset="0.2727" stop-color="#5ac864"/><stop offset="0.2955" stop-color="#2ab07f"/><stop offset="0.3182" stop-color="#1f958b"/><stop offset="0.3409" stop-color="#26828e"/><stop offset="0.3636" stop-color="#30698e"/><stop offset="0.3864" stop-color="#3e4989"/><stop offset="0.4091" stop-color="#482979"/><stop offset="0.4318" stop-color="#481467"/><stop offset="0.4545" stop-color="#482173"/><stop offset="0.4773" stop-color="#3e4a89"/><stop offset="0.5000" stop-color="#2e6e8e"/><stop offset="0.5227" stop-color="#218e8d"/><stop offset="0.5455" stop-color="#34b679"/><stop offset="0.5682" stop-color="#7cd250"/><stop offset="0.5909" stop-color="#b5de2b"/><stop offset="0.6136" stop-color="#c2df23"/><stop offset="0.6364" stop-color="#aadc32"/><stop offset="0.6591" stop-color="#75d054"/><stop offset="0.6818" stop-color="#3fbc73"/><stop offset="0.7045" stop-color="#38b977"/><stop offset="0.7273" stop-color="#3dbc74"/><stop offset="0.7500" stop-color="#67cc5c"/><stop offset="0.7727" stop-color="#98d83e"/><stop offset="0.7955" stop-color="#aadc32"/><stop offset="0.8182" stop-color="#86d549"/><stop offset="0.8409" stop-color="#32b67a"/><stop offset="0.8636" stop-color="#1f998a"/><stop offset="0.8864" stop-color="#25858e"/><stop offset="0.9091" stop-color="#287c8e"/><stop offset="0.9318" stop-color="#29798e"/><stop offset="0.9545" stop-color="#297a8e"/><stop offset="0.9773" stop-color="#25848e"/><stop offset="1.0000" stop-color="#20928c"/></linearGradient><linearGradient id="c41" x1="0" y1="0" x2="0" y2="1"><stop offset="0.0000" stop-color="#ece51b"/><stop offset="0.0227" stop-color="#ece51b"/><stop offset="0.0455" stop-color="#eae51a"/><stop offset="0.0682" stop-color="#eae51a"/><stop offset="0.0909" stop-color="#e7e419"/><stop offset="0.1136" stop-color="#e5e419"/><stop offset="0.1364" stop-color="#e2e418"/><stop offset="0.1591" stop-color="#dfe318"/><stop offset="0.1818" stop-color="#d8e219"/><stop offset="0.2045" stop-color="#cae11f"/><stop offset="0.2273" stop-color="#b0dd2f"/><stop offset="0.2500" stop-color="#81d34d"/><stop offset="0.2727" stop-color="#58c765"/><stop offset="0.2955" stop-color="#28ae80"/><stop offset="0.3182" stop-color="#1f948c"/><stop offset="0.3409" stop-color="#26828e"/><stop offset="0.3636" stop-color="#31688e"/><stop offset="0.3864" stop-color="#3f4889"/><stop offset="0.4091" stop-color="#482979"/><stop offset="0.4318" stop-color="#471365"/><stop offset="0.4545" stop-color="#482173"/><stop offset="0.4773" stop-color="#3e4a89"/><stop offset="0.5000" stop-color="#2e6d8e"/><stop offset="0.5227" stop-color="#228d8d"/><stop offset="0.5455" stop-color="#32b67a"/><stop offset="0.5682" stop-color="#77d153"/><stop offset="0.5909" stop-color="#b2dd2d"/><stop offset="0.6136" stop-color="#c2df23"/><stop offset="0.6364" stop-color="#aadc32"/><stop offset="0.6591" stop-color="#75d054"/><stop offset="0.6818" stop-color="#3fbc73"/><stop offset="0.7045" stop-color="#38b977"/><stop offset="0.7273" stop-color="#3bbb75"/><stop offset="0.7500" stop-color="#65cb5e"/><stop offset="0.7727" stop-color="#95d840"/><stop offset="0.7955" stop-color="#a8db34"/><stop offset="0.8182" stop-color="#89d548"/><stop offset="0.8409" stop-color="#35b779"/><stop offset="0.8636" stop-color="#1f9a8a"/><stop offset="0.8864" stop-color="#24868e"/><stop offset="0.9091" stop-color="#287d8e"/><stop offset="0.9318" stop-color="#29798e"/><stop offset="0.9545" stop-color="#29798e"/><stop offset="0.9773" stop-color="#25838e"/><stop offset="1.0000" stop-color="#21908d"/></linearGradient><linearGradient id="c42" x1="0" y1="0" x2="0" y2="1"><stop offset="0.0000" stop-color="#eae51a"/><stop offset="0.0227" stop-color="#eae51a"/><stop offset="0.0455" stop-color="#e7e419"/><stop offset="0.0682" stop-color="#e7e419"/><stop offset="0.0909" stop-color="#e5e419"/><stop offset="0.1136" stop-color="#e2e418"/><stop offset="0.1364" stop-color="#dfe318"/><stop offset="0.1591" stop-color="#dde318"/><stop offset="0.1818" stop-color="#d5e21a"/><stop offset="0.2045" stop-color="#c8e020"/><stop offset="0.2273" stop-color="#aadc32"/><stop offset="0.2500" stop-color="#7ad151"/><stop offset="0.2727" stop-color="#50c46a"/><stop offset="0.2955" stop-color="#24aa83"/><stop offset="0.3182" stop-color="#218f8d"/><stop offset="0.3409" stop-color="#287c8e"/><stop offset="0.3636" stop-color="#33638d"/><stop offset="0.3864" stop-color="#404588"/><stop offset="0.4091" stop-color="#482677"/><stop offset="0.4318" stop-color="#471164"/><stop offset="0.4545" stop-color="#482071"/><stop offset="0.4773" stop-color="#404688"/><stop offset="0.5000" stop-color="#30698e"/><stop offset="0.5227" stop-color="#23888e"/><stop offset="0.5455" stop-color="#2ab07f"/><stop offset="0.5682" stop-color="#6ece58"/><stop offset="0.5909" stop-color="#aadc32"/><stop offset="0.6136" stop-color="#bddf26"/><stop offset="0.6364" stop-color="#a5db36"/><stop offset="0.6591" stop-color="#6ece58"/><stop offset="0.6818" stop-color="#37b878"/><stop offset="0.7045" stop-color="#31b57b"/><stop offset="0.7273" stop-color="#34b679"/><stop offset="0.7500" stop-color="#5cc863"/><stop offset="0.7727" stop-color="#8ed645"/><stop offset="0.7955" stop-color="#a2da37"/><stop offset="0.8182" stop-color="#84d44b"/><stop offset="0.8409" stop-color="#2fb47c"/><stop offset="0.8636" stop-color="#1f968b"/><stop offset="0.8864" stop-color="#26828e"/><stop offset="0.9091" stop-color="#2a788e"/><stop offset="0.9318" stop-color="#2b748e"/><stop offset="0.9545" stop-color="#2b748e"/><stop offset="0.9773" stop-color="#277e8e"/><stop offset="1.0000" stop-color="#23898e"/></linearGradient><linearGradient id="c43" x1="0" y1="0" x2="0" y2="1"><stop offset="0.0000" stop-color="#eae51a"/><stop offset="0.0227" stop-color="#eae51a"/><stop offset="0.0455" stop-color="#eae51a"/><stop offset="0.0682" stop-color="#e7e419"/><stop offset="0.0909" stop-color="#e5e419"/><stop offset="0.1136" stop-color="#e5e419"/><stop offset="0.1364" stop-color="#e2e418"/><stop offset="0.1591" stop-color="#dfe318"/><stop offset="0.1818" stop-color="#dae319"/><stop offset="0.2045" stop-color="#cae11f"/><stop offset="0.2273" stop-color="#b2dd2d"/><stop offset="0.2500" stop-color="#7fd34e"/><stop offset="0.2727" stop-color="#56c667"/><stop offset="0.2955" stop-color="#26ad81"/><stop offset="0.3182" stop-color="#20928c"/><stop offset="0.3409" stop-color="#277f8e"/><stop offset="0.3636" stop-color="#31668e"/><stop offset="0.3864" stop-color="#3f4889"/><stop offset="0.4091" stop-color="#482979"/><stop offset="0.4318" stop-color="#471365"/><stop offset="0.4545" stop-color="#482374"/><stop offset="0.4773" stop-color="#3e4a89"/><stop offset="0.5000" stop-color="#2e6d8e"/><stop offset="0.5227" stop-color="#228c8d"/><stop offset="0.5455" stop-color="#2fb47c"/><stop offset="0.5682" stop-color="#73d056"/><stop offset="0.5909" stop-color="#b0dd2f"/><stop offset="0.6136" stop-color="#c2df23"/><stop offset="0.6364" stop-color="#addc30"/><stop offset="0.6591" stop-color="#75d054"/><stop offset="0.6818" stop-color="#3fbc73"/><stop offset="0.7045" stop-color="#37b878"/><stop offset="0.7273" stop-color="#3aba76"/><stop offset="0.7500" stop-color="#63cb5f"/><stop offset="0.7727" stop-color="#95d840"/><stop offset="0.7955" stop-color="#a8db34"/><stop offset="0.8182" stop-color="#8bd646"/><stop offset="0.8409" stop-color="#38b977"/><stop offset="0.8636" stop-color="#1e9c89"/><stop offset="0.8864" stop-color="#23888e"/><stop offset="0.9091" stop-color="#287d8e"/><stop offset="0.9318" stop-color="#29798e"/><stop offset="0.9545" stop-color="#2a788e"/><stop offset="0.9773" stop-color="#26828e"/><stop offset="1.0000" stop-color="#228c8d"/></linearGradient><linearGradient id="c44" x1="0" y1="0" x2="0" y2="1"><stop offset="0.0000" stop-color="#eae51a"/><stop offset="0.0227" stop-color="#eae51a"/><stop offset="0.0455" stop-color="#eae51a"/><stop offset="0.0682" stop-color="#e7e419"/><stop offset="0.0909" stop-color="#e7e419"/><stop offset="0.1136" stop-color="#e5e419"/><stop offset="0.1364" stop-color="#e5e419"/><stop offset="0.1591" stop-color="#e2e418"/><stop offset="0.1818" stop-color="#dde318"/><stop offset="0.2045" stop-color="#d0e11c"/><stop offset="0.2273" stop-color="#b8de29"/><stop offset="0.2500" stop-color="#86d549"/><stop offset="0.2727" stop-color="#5cc863"/><stop offset="0.2955" stop-color="#2ab07f"/><stop offset="0.3182" stop-color="#1f958b"/><stop offset="0.3409" stop-color="#26828e"/><stop offset="0.3636" stop-color="#306a8e"/><stop offset="0.3864" stop-color="#3e4c8a"/><stop offset="0.4091" stop-color="#472c7a"/><stop offset="0.4318" stop-color="#481467"/><stop offset="0.4545" stop-color="#482576"/><stop offset="0.4773" stop-color="#3d4e8a"/><stop offset="0.5000" stop-color="#2d718e"/><stop offset="0.5227" stop-color="#21918c"/><stop offset="0.5455" stop-color="#34b679"/><stop offset="0.5682" stop-color="#77d153"/><stop offset="0.5909" stop-color="#b2dd2d"/><stop offset="0.6136" stop-color="#c5e021"/><stop offset="0.6364" stop-color="#b2dd2d"/><stop offset="0.6591" stop-color="#7fd34e"/><stop offset="0.6818" stop-color="#46c06f"/><stop offset="0.7045" stop-color="#3fbc73"/><stop offset="0.7273" stop-color="#40bd72"/><stop offset="0.7500" stop-color="#69cd5b"/><stop offset="0.7727" stop-color="#9bd93c"/><stop offset="0.7955" stop-color="#addc30"/><stop offset="0.8182" stop-color="#95d840"/><stop offset="0.8409" stop-color="#42be71"/><stop offset="0.8636" stop-color="#1fa187"/><stop offset="0.8864" stop-color="#218e8d"/><stop offset="0.9091" stop-color="#26828e"/><stop offset="0.9318" stop-color="#277e8e"/><stop offset="0.9545" stop-color="#287d8e"/><stop offset="0.9773" stop-color="#25848e"/><stop offset="1.0000" stop-color="#218f8d"/></linearGradient><linearGradient id="c45" x1="0" y1="0" x2="0" y2="1"><stop offset="0.0000" stop-color="#e5e419"/><stop offset="0.0227" stop-color="#e5e419"/><stop offset="0.0455" stop-color="#e5e419"/><stop offset="0.0682" stop-color="#e2e418"/><stop offset="0.0909" stop-color="#e2e418"/><stop offset="0.1136" stop-color="#dfe318"/><stop offset="0.1364" stop-color="#dde318"/><stop offset="0.1591" stop-color="#dae319"/><stop offset="0.1818" stop-color="#d5e21a"/><stop offset="0.2045" stop-color="#c8e020"/><stop offset="0.2273" stop-color="#aadc32"/><stop offset="0.2500" stop-color="#73d056"/><stop offset="0.2727" stop-color="#48c16e"/><stop offset="0.2955" stop-color="#21a585"/><stop offset="0.3182" stop-color="#23898e"/><stop offset="0.3409" stop-color="#2a778e"/><stop offset="0.3636" stop-color="#355f8d"/><stop offset="0.3864" stop-color="#414287"/><stop offset="0.4091" stop-color="#482677"/><stop offset="0.4318" stop-color="#471164"/><stop offset="0.4545" stop-color="#482071"/><stop offset="0.4773" stop-color="#404588"/><stop offset="0.5000" stop-color="#31678e"/><stop offset="0.5227" stop-color="#25858e"/><stop offset="0.5455" stop-color="#25ac82"/><stop offset="0.5682" stop-color="#63cb5f"/><stop offset="0.5909" stop-color="#a2da37"/><stop offset="0.6136" stop-color="#bade28"/><stop offset="0.6364" stop-color="#a5db36"/><stop offset="0.6591" stop-color="#6ece58"/><stop offset="0.6818" stop-color="#35b779"/><stop offset="0.7045" stop-color="#2eb37c"/><stop offset="0.7273" stop-color="#31b57b"/><stop offset="0.7500" stop-color="#56c667"/><stop offset="0.7727" stop-color="#8bd646"/><stop offset="0.7955" stop-color="#a0da39"/><stop offset="0.8182" stop-color="#86d549"/><stop offset="0.8409" stop-color="#34b679"/><stop offset="0.8636" stop-color="#1f988b"/><stop offset="0.8864" stop-color="#25838e"/><stop offset="0.9091" stop-color="#2a788e"/><stop offset="0.9318" stop-color="#2c738e"/><stop offset="0.9545" stop-color="#2c718e"/><stop offset="0.9773" stop-color="#29798e"/><stop offset="1.0000" stop-color="#26828e"/></linearGradient><linearGradient id="c46" x1="0" y1="0" x2="0" y2="1"><stop offset="0.0000" stop-color="#e7e419"/><stop offset="0.0227" stop-color="#e7e419"/><stop offset="0.0455" stop-color="#e7e419"/><stop offset="0.0682" stop-color="#e5e419"/><stop offset="0.0909" stop-color="#e5e419"/><stop offset="0.1136" stop-color="#e2e418"/><stop offset="0.1364" stop-color="#e2e418"/><stop offset="0.1591" stop-color="#dfe318"/><stop offset="0.1818" stop-color="#dde318"/><stop offset="0.2045" stop-color="#d0e11c"/><stop offset="0.2273" stop-color="#b5de2b"/><stop offset="0.2500" stop-color="#7fd34e"/><stop offset="0.2727" stop-color="#54c568"/><stop offset="0.2955" stop-color="#26ad81"/><stop offset="0.3182" stop-color="#20928c"/><stop offset="0.3409" stop-color="#277f8e"/><stop offset="0.3636" stop-color="#31668e"/><stop offset="0.3864" stop-color="#3e4989"/><stop offset="0.4091" stop-color="#472c7a"/><stop offset="0.4318" stop-color="#481467"/><stop offset="0.4545" stop-color="#482576"/><stop offset="0.4773" stop-color="#3e4c8a"/><stop offset="0.5000" stop-color="#2e6f8e"/><stop offset="0.5227" stop-color="#218e8d"/><stop offset="0.5455" stop-color="#2eb37c"/><stop offset="0.5682" stop-color="#6ece58"/><stop offset="0.5909" stop-color="#addc30"/><stop offset="0.6136" stop-color="#c5e021"/><stop offset="0.6364" stop-color="#b0dd2f"/><stop offset="0.6591" stop-color="#7cd250"/><stop offset="0.6818" stop-color="#44bf70"/><stop offset="0.7045" stop-color="#3bbb75"/><stop offset="0.7273" stop-color="#3dbc74"/><stop offset="0.7500" stop-color="#65cb5e"/><stop offset="0.7727" stop-color="#95d840"/><stop offset="0.7955" stop-color="#aadc32"/><stop offset="0.8182" stop-color="#95d840"/><stop offset="0.8409" stop-color="#44bf70"/><stop offset="0.8636" stop-color="#1fa287"/><stop offset="0.8864" stop-color="#228d8d"/><stop offset="0.9091" stop-color="#26828e"/><stop offset="0.9318" stop-color="#287c8e"/><stop offset="0.9545" stop-color="#297a8e"/><stop offset="0.9773" stop-color="#26818e"/><stop offset="1.0000" stop-color="#238a8d"/></linearGradient><linearGradient id="c47" x1="0" y1="0" x2="0" y2="1"><stop offset="0.0000" stop-color="#e5e419"/><stop offset="0.0227" stop-color="#e5e419"/><stop offset="0.0455" stop-color="#e5e419"/><stop offset="0.0682" stop-color="#e5e419"/><stop offset="0.0909" stop-color="#e2e418"/><stop offset="0.1136" stop-color="#e2e418"/><stop offset="0.1364" stop-color="#dfe318"/><stop offset="0.1591" stop-color="#dde318"/><stop offset="0.1818" stop-color="#dae319"/><stop offset="0.2045" stop-color="#d0e11c"/><stop offset="0.2273" stop-color="#b2dd2d"/><stop offset="0.2500" stop-color="#7ad151"/><stop offset="0.2727" stop-color="#4ec36b"/><stop offset="0.2955" stop-color="#23a983"/><stop offset="0.3182" stop-color="#218e8d"/><stop offset="0.3409" stop-color="#297b8e"/><stop offset="0.3636" stop-color="#33638d"/><stop offset="0.3864" stop-color="#3f4788"/><stop offset="0.4091" stop-color="#472a7a"/><stop offset="0.4318" stop-color="#471365"/><stop offset="0.4545" stop-color="#482475"/><stop offset="0.4773" stop-color="#3e4989"/><stop offset="0.5000" stop-color="#2f6c8e"/><stop offset="0.5227" stop-color="#228b8d"/><stop offset="0.5455" stop-color="#29af7f"/><stop offset="0.5682" stop-color="#67cc5c"/><stop offset="0.5909" stop-color="#a8db34"/><stop offset="0.6136" stop-color="#c0df25"/><stop offset="0.6364" stop-color="#addc30"/><stop offset="0.6591" stop-color="#77d153"/><stop offset="0.6818" stop-color="#3fbc73"/><stop offset="0.7045" stop-color="#37b878"/><stop offset="0.7273" stop-color="#38b977"/><stop offset="0.7500" stop-color="#5ec962"/><stop offset="0.7727" stop-color="#90d743"/><stop offset="0.7955" stop-color="#a5db36"/><stop offset="0.8182" stop-color="#93d741"/><stop offset="0.8409" stop-color="#42be71"/><stop offset="0.8636" stop-color="#1fa188"/><stop offset="0.8864" stop-color="#228b8d"/><stop offset="0.9091" stop-color="#277f8e"/><stop offset="0.9318" stop-color="#29798e"/><stop offset="0.9545" stop-color="#2a768e"/><stop offset="0.9773" stop-color="#287d8e"/><stop offset="1.0000" stop-color="#25858e"/></linearGradient><linearGradient id="c48" x1="0" y1="0" x2="0" y2="1"><stop offset="0.0000" stop-color="#e2e418"/><stop offset="0.0227" stop-color="#e2e418"/><stop offset="0.0455" stop-color="#e2e418"/><stop offset="0.0682" stop-color="#e2e418"/><stop offset="0.0909" stop-color="#dfe318"/><stop offset="0.1136" stop-color="#dde318"/><stop offset="0.1364" stop-color="#dde318"/><stop offset="0.1591" stop-color="#dae319"/><stop offset="0.1818" stop-color="#d8e219"/><stop offset="0.2045" stop-color="#cae11f"/><stop offset="0.2273" stop-color="#addc30"/><stop offset="0.2500" stop-color="#73d056"/><stop offset="0.2727" stop-color="#48c16e"/><stop offset="0.2955" stop-color="#21a685"/><stop offset="0.3182" stop-color="#238a8d"/><stop offset="0.3409" stop-color="#2a778e"/><stop offset="0.3636" stop-color="#355e8d"/><stop offset="0.3864" stop-color="#414287"/><stop offset="0.4091" stop-color="#482677"/><stop offset="0.4318" stop-color="#471164"/><stop offset="0.4545" stop-color="#482374"/><stop offset="0.4773" stop-color="#3f4788"/><stop offset="0.5000" stop-color="#30698e"/><stop offset="0.5227" stop-color="#24878e"/><stop offset="0.5455" stop-color="#25ac82"/><stop offset="0.5682" stop-color="#5ec962"/><stop offset="0.5909" stop-color="#a2da37"/><stop offset="0.6136" stop-color="#bddf26"/><stop offset="0.6364" stop-color="#aadc32"/><stop offset="0.6591" stop-color="#75d054"/><stop offset="0.6818" stop-color="#3bbb75"/><stop offset="0.7045" stop-color="#32b67a"/><stop offset="0.7273" stop-color="#34b679"/><stop offset="0.7500" stop-color="#58c765"/><stop offset="0.7727" stop-color="#8bd646"/><stop offset="0.7955" stop-color="#a2da37"/><stop offset="0.8182" stop-color="#90d743"/><stop offset="0.8409" stop-color="#3fbc73"/><stop offset="0.8636" stop-color="#1f9f88"/><stop offset="0.8864" stop-color="#23898e"/><stop offset="0.9091" stop-color="#287d8e"/><stop offset="0.9318" stop-color="#2a768e"/><stop offset="0.9545" stop-color="#2c738e"/><stop offset="0.9773" stop-color="#29798e"/><stop offset="1.0000" stop-color="#26818e"/></linearGradient><linearGradient id="c49" x1="0" y1="0" x2="0" y2="1"><stop offset="0.0000" stop-color="#e7e419"/><stop offset="0.0227" stop-color="#e7e419"/><stop offset="0.0455" stop-color="#e5e419"/><stop offset="0.0682" stop-color="#e5e419"/><stop offset="0.0909" stop-color="#e5e419"/><stop offset="0.1136" stop-color="#e2e418"/><stop offset="0.1364" stop-color="#dfe318"/><stop offset="0.1591" stop-color="#dfe318"/><stop offset="0.1818" stop-color="#dae319"/><stop offset="0.2045" stop-color="#d0e11c"/><stop offset="0.2273" stop-color="#b5de2b"/><stop offset="0.2500" stop-color="#84d44b"/><stop offset="0.2727" stop-color="#58c765"/><stop offset="0.2955" stop-color="#29af7f"/><stop offset="0.3182" stop-color="#1f948c"/><stop offset="0.3409" stop-color="#27808e"/><stop offset="0.3636" stop-color="#32658e"/><stop offset="0.3864" stop-color="#3f4788"/><stop offset="0.4091" stop-color="#472a7a"/><stop offset="0.4318" stop-color="#481467"/><stop offset="0.4545" stop-color="#482878"/><stop offset="0.4773" stop-color="#3c4f8a"/><stop offset="0.5000" stop-color="#2c728e"/><stop offset="0.5227" stop-color="#21918c"/><stop offset="0.5455" stop-color="#2fb47c"/><stop offset="0.5682" stop-color="#6ece58"/><stop offset="0.5909" stop-color="#addc30"/><stop offset="0.6136" stop-color="#c8e020"/><stop offset="0.6364" stop-color="#b8de29"/><stop offset="0.6591" stop-color="#86d549"/><stop offset="0.6818" stop-color="#4cc26c"/><stop offset="0.7045" stop-color="#40bd72"/><stop offset="0.7273" stop-color="#42be71"/><stop offset="0.7500" stop-color="#69cd5b"/><stop offset="0.7727" stop-color="#9bd93c"/><stop offset="0.7955" stop-color="#b0dd2f"/><stop offset="0.8182" stop-color="#a0da39"/><stop offset="0.8409" stop-color="#52c569"/><stop offset="0.8636" stop-color="#24aa83"/><stop offset="0.8864" stop-color="#20938c"/><stop offset="0.9091" stop-color="#24878e"/><stop offset="0.9318" stop-color="#26818e"/><stop offset="0.9545" stop-color="#287d8e"/><stop offset="0.9773" stop-color="#26828e"/><stop offset="1.0000" stop-color="#23898e"/></linearGradient><linearGradient id="c50" x1="0" y1="0" x2="0" y2="1"><stop offset="0.0000" stop-color="#e2e418"/><stop offset="0.0227" stop-color="#e2e418"/><stop offset="0.0455" stop-color="#e2e418"/><stop offset="0.0682" stop-color="#dfe318"/><stop offset="0.0909" stop-color="#dfe318"/><stop offset="0.1136" stop-color="#dde318"/><stop offset="0.1364" stop-color="#dde318"/><stop offset="0.1591" stop-color="#dae319"/><stop offset="0.1818" stop-color="#d5e21a"/><stop offset="0.2045" stop-color="#c8e020"/><stop offset="0.2273" stop-color="#addc30"/><stop offset="0.2500" stop-color="#7ad151"/><stop offset="0.2727" stop-color="#4ec36b"/><stop offset="0.2955" stop-color="#24aa83"/><stop offset="0.3182" stop-color="#218f8d"/><stop offset="0.3409" stop-color="#29798e"/><stop offset="0.3636" stop-color="#355f8d"/><stop offset="0.3864" stop-color="#424186"/><stop offset="0.4091" stop-color="#482576"/><stop offset="0.4318" stop-color="#471164"/><stop offset="0.4545" stop-color="#482576"/><stop offset="0.4773" stop-color="#3e4c8a"/><stop offset="0.5000" stop-color="#2e6e8e"/><stop offset="0.5227" stop-color="#228c8d"/><stop offset="0.5455" stop-color="#28ae80"/><stop offset="0.5682" stop-color="#60ca60"/><stop offset="0.5909" stop-color="#a5db36"/><stop offset="0.6136" stop-color="#c2df23"/><stop offset="0.6364" stop-color="#b2dd2d"/><stop offset="0.6591" stop-color="#7fd34e"/><stop offset="0.6818" stop-color="#44bf70"/><stop offset="0.7045" stop-color="#3aba76"/><stop offset="0.7273" stop-color="#3aba76"/><stop offset="0.7500" stop-color="#60ca60"/><stop offset="0.7727" stop-color="#93d741"/><stop offset="0.7955" stop-color="#aadc32"/><stop offset="0.8182" stop-color="#9bd93c"/><stop offset="0.8409" stop-color="#4cc26c"/><stop offset="0.8636" stop-color="#21a685"/><stop offset="0.8864" stop-color="#21908d"/><stop offset="0.9091" stop-color="#26828e"/><stop offset="0.9318" stop-color="#287c8e"/><stop offset="0.9545" stop-color="#2a788e"/><stop offset="0.9773" stop-color="#287c8e"/><stop offset="1.0000" stop-color="#26828e"/></linearGradient><linearGradient id="c51" x1="0" y1="0" x2="0" y2="1"><stop offset="0.0000" stop-color="#dde318"/><stop offset="0.0227" stop-color="#dde318"/><stop offset="0.0455" stop-color="#dde318"/><stop offset="0.0682" stop-color="#dae319"/><stop offset="0.0909" stop-color="#dae319"/><stop offset="0.1136" stop-color="#d8e219"/><stop offset="0.1364" stop-color="#d5e21a"/><stop offset="0.1591" stop-color="#d2e21b"/><stop offset="0.1818" stop-color="#cae11f"/><stop offset="0.2045" stop-color="#bade28"/><stop offset="0.2273" stop-color="#a0da39"/><stop offset="0.2500" stop-color="#69cd5b"/><stop offset="0.2727" stop-color="#3fbc73"/><stop offset="0.2955" stop-color="#1fa287"/><stop offset="0.3182" stop-color="#24878e"/><stop offset="0.3409" stop-color="#2d718e"/><stop offset="0.3636" stop-color="#3a548c"/><stop offset="0.3864" stop-color="#443983"/><stop offset="0.4091" stop-color="#482071"/><stop offset="0.4318" stop-color="#470e61"/><stop offset="0.4545" stop-color="#482173"/><stop offset="0.4773" stop-color="#404588"/><stop offset="0.5000" stop-color="#31668e"/><stop offset="0.5227" stop-color="#25838e"/><stop offset="0.5455" stop-color="#21a685"/><stop offset="0.5682" stop-color="#52c569"/><stop offset="0.5909" stop-color="#9bd93c"/><stop offset="0.6136" stop-color="#bade28"/><stop offset="0.6364" stop-color="#aadc32"/><stop offset="0.6591" stop-color="#73d056"/><stop offset="0.6818" stop-color="#38b977"/><stop offset="0.7045" stop-color="#2eb37c"/><stop offset="0.7273" stop-color="#2eb37c"/><stop offset="0.7500" stop-color="#52c569"/><stop offset="0.7727" stop-color="#86d549"/><stop offset="0.7955" stop-color="#a0da39"/><stop offset="0.8182" stop-color="#90d743"/><stop offset="0.8409" stop-color="#42be71"/><stop offset="0.8636" stop-color="#1fa088"/><stop offset="0.8864" stop-color="#23898e"/><stop offset="0.9091" stop-color="#287c8e"/><stop offset="0.9318" stop-color="#2b748e"/><stop offset="0.9545" stop-color="#2d708e"/><stop offset="0.9773" stop-color="#2c738e"/><stop offset="1.0000" stop-color="#29798e"/></linearGradient><linearGradient id="c52" x1="0" y1="0" x2="0" y2="1"><stop offset="0.0000" stop-color="#dde318"/><stop offset="0.0227" stop-color="#dde318"/><stop offset="0.0455" stop-color="#dde318"/><stop offset="0.0682" stop-color="#dde318"/><stop offset="0.0909" stop-color="#dae319"/><stop offset="0.1136" stop-color="#dae319"/><stop offset="0.1364" stop-color="#d8e219"/><stop offset="0.1591" stop-color="#d5e21a"/><stop offset="0.1818" stop-color="#cae11f"/><stop offset="0.2045" stop-color="#bddf26"/><stop offset="0.2273" stop-color="#a2da37"/><stop offset="0.2500" stop-color="#70cf57"/><stop offset="0.2727" stop-color="#44bf70"/><stop offset="0.2955" stop-color="#21a685"/><stop offset="0.3182" stop-color="#228c8d"/><stop offset="0.3409" stop-color="#2c738e"/><stop offset="0.3636" stop-color="#39568c"/><stop offset="0.3864" stop-color="#443983"/><stop offset="0.4091" stop-color="#482071"/><stop offset="0.4318" stop-color="#471063"/><stop offset="0.4545" stop-color="#482475"/><stop offset="0.4773" stop-color="#3e4989"/><stop offset="0.5000" stop-color="#2f6b8e"/><stop offset="0.5227" stop-color="#23888e"/><stop offset="0.5455" stop-color="#24aa83"/><stop offset="0.5682" stop-color="#58c765"/><stop offset="0.5909" stop-color="#a0da39"/><stop offset="0.6136" stop-color="#c0df25"/><stop offset="0.6364" stop-color="#b0dd2f"/><stop offset="0.6591" stop-color="#7ad151"/><stop offset="0.6818" stop-color="#3fbc73"/><stop offset="0.7045" stop-color="#35b779"/><stop offset="0.7273" stop-color="#35b779"/><stop offset="0.7500" stop-color="#58c765"/><stop offset="0.7727" stop-color="#8bd646"/><stop offset="0.7955" stop-color="#a5db36"/><stop offset="0.8182" stop-color="#9bd93c"/><stop offset="0.8409" stop-color="#4cc26c"/><stop offset="0.8636" stop-color="#21a685"/><stop offset="0.8864" stop-color="#218f8d"/><stop offset="0.9091" stop-color="#26818e"/><stop offset="0.9318" stop-color="#29798e"/><stop offset="0.9545" stop-color="#2b748e"/><stop offset="0.9773" stop-color="#2a778e"/><stop offset="1.0000" stop-color="#287c8e"/></linearGradient><linearGradient id="c53" x1="0" y1="0" x2="0" y2="1"><stop offset="0.0000" stop-color="#dde318"/><stop offset="0.0227" stop-color="#dde318"/><stop offset="0.0455" stop-color="#dde318"/><stop offset="0.0682" stop-color="#dde318"/><stop offset="0.0909" stop-color="#dae319"/><stop offset="0.1136" stop-color="#dae319"/><stop offset="0.1364" stop-color="#d8e219"/><stop offset="0.1591" stop-color="#d2e21b"/><stop offset="0.1818" stop-color="#cae11f"/><stop offset="0.2045" stop-color="#bade28"/><stop offset="0.2273" stop-color="#a2da37"/><stop offset="0.2500" stop-color="#73d056"/><stop offset="0.2727" stop-color="#46c06f"/><stop offset="0.2955" stop-color="#22a884"/><stop offset="0.3182" stop-color="#228d8d"/><stop offset="0.3409" stop-color="#2c738e"/><stop offset="0.3636" stop-color="#39568c"/><stop offset="0.3864" stop-color="#453882"/><stop offset="0.4091" stop-color="#481f70"/><stop offset="0.4318" stop-color="#470e61"/><stop offset="0.4545" stop-color="#482576"/><stop offset="0.4773" stop-color="#3e4a89"/><stop offset="0.5000" stop-color="#2f6c8e"/><stop offset="0.5227" stop-color="#23898e"/><stop offset="0.5455" stop-color="#25ab82"/><stop offset="0.5682" stop-color="#58c765"/><stop offset="0.5909" stop-color="#a0da39"/><stop offset="0.6136" stop-color="#c0df25"/><stop offset="0.6364" stop-color="#b2dd2d"/><stop offset="0.6591" stop-color="#7fd34e"/><stop offset="0.6818" stop-color="#42be71"/><stop offset="0.7045" stop-color="#38b977"/><stop offset="0.7273" stop-color="#37b878"/><stop offset="0.7500" stop-color="#5cc863"/><stop offset="0.7727" stop-color="#8ed645"/><stop offset="0.7955" stop-color="#a8db34"/><stop offset="0.8182" stop-color="#9dd93b"/><stop offset="0.8409" stop-color="#52c569"/><stop offset="0.8636" stop-color="#23a983"/><stop offset="0.8864" stop-color="#20928c"/><stop offset="0.9091" stop-color="#25838e"/><stop offset="0.9318" stop-color="#297b8e"/><stop offset="0.9545" stop-color="#2b758e"/><stop offset="0.9773" stop-color="#2a788e"/><stop offset="1.0000" stop-color="#287d8e"/></linearGradient><linearGradient id="c54" x1="0" y1="0" x2="0" y2="1"><stop offset="0.0000" stop-color="#dae319"/><stop offset="0.0227" stop-color="#dae319"/><stop offset="0.0455" stop-color="#dae319"/><stop offset="0.0682" stop-color="#d8e219"/><stop offset="0.0909" stop-color="#d8e219"/><stop offset="0.1136" stop-color="#d5e21a"/><stop offset="0.1364" stop-color="#d5e21a"/><stop offset="0.1591" stop-color="#d0e11c"/><stop offset="0.1818" stop-color="#c2df23"/><stop offset="0.2045" stop-color="#b2dd2d"/><stop offset="0.2273" stop-color="#9bd93c"/><stop offset="0.2500" stop-color="#6ccd5a"/><stop offset="0.2727" stop-color="#3fbc73"/><stop offset="0.2955" stop-color="#20a486"/><stop offset="0.3182" stop-color="#238a8d"/><stop offset="0.3409" stop-color="#2d708e"/><stop offset="0.3636" stop-color="#3b518b"/><stop offset="0.3864" stop-color="#46337f"/><stop offset="0.4091" stop-color="#481c6e"/><stop offset="0.4318" stop-color="#470d60"/><stop offset="0.4545" stop-color="#482475"/><stop offset="0.4773" stop-color="#3f4889"/><stop offset="0.5000" stop-color="#30698e"/><stop offset="0.5227" stop-color="#24868e"/><stop offset="0.5455" stop-color="#22a785"/><stop offset="0.5682" stop-color="#50c46a"/><stop offset="0.5909" stop-color="#9bd93c"/><stop offset="0.6136" stop-color="#bddf26"/><stop offset="0.6364" stop-color="#b0dd2f"/><stop offset="0.6591" stop-color="#7ad151"/><stop offset="0.6818" stop-color="#3dbc74"/><stop offset="0.7045" stop-color="#34b679"/><stop offset="0.7273" stop-color="#32b67a"/><stop offset="0.7500" stop-color="#54c568"/><stop offset="0.7727" stop-color="#89d548"/><stop offset="0.7955" stop-color="#a5db36"/><stop offset="0.8182" stop-color="#9bd93c"/><stop offset="0.8409" stop-color="#50c46a"/><stop offset="0.8636" stop-color="#22a785"/><stop offset="0.8864" stop-color="#218f8d"/><stop offset="0.9091" stop-color="#26818e"/><stop offset="0.9318" stop-color="#2a778e"/><stop offset="0.9545" stop-color="#2c728e"/><stop offset="0.9773" stop-color="#2b748e"/><stop offset="1.0000" stop-color="#2a788e"/></linearGradient><linearGradient id="c55" x1="0" y1="0" x2="0" y2="1"><stop offset="0.0000" stop-color="#dae319"/><stop offset="0.0227" stop-color="#dae319"/><stop offset="0.0455" stop-color="#dae319"/><stop offset="0.0682" stop-color="#dae319"/><stop offset="0.0909" stop-color="#d8e219"/><stop offset="0.1136" stop-color="#d8e219"/><stop offset="0.1364" stop-color="#d5e21a"/><stop offset="0.1591" stop-color="#d0e11c"/><stop offset="0.1818" stop-color="#c2df23"/><stop offset="0.2045" stop-color="#b2dd2d"/><stop offset="0.2273" stop-color="#9bd93c"/><stop offset="0.2500" stop-color="#70cf57"/><stop offset="0.2727" stop-color="#44bf70"/><stop offset="0.2955" stop-color="#22a785"/><stop offset="0.3182" stop-color="#228d8d"/><stop offset="0.3409" stop-color="#2c718e"/><stop offset="0.3636" stop-color="#3b518b"/><stop offset="0.3864" stop-color="#46337f"/><stop offset="0.4091" stop-color="#481b6d"/><stop offset="0.4318" stop-color="#470d60"/><stop offset="0.4545" stop-color="#482677"/><stop offset="0.4773" stop-color="#3e4a89"/><stop offset="0.5000" stop-color="#2f6c8e"/><stop offset="0.5227" stop-color="#23898e"/><stop offset="0.5455" stop-color="#24aa83"/><stop offset="0.5682" stop-color="#54c568"/><stop offset="0.5909" stop-color="#9dd93b"/><stop offset="0.6136" stop-color="#c0df25"/><stop offset="0.6364" stop-color="#b2dd2d"/><stop offset="0.6591" stop-color="#81d34d"/><stop offset="0.6818" stop-color="#44bf70"/><stop offset="0.7045" stop-color="#38b977"/><stop offset="0.7273" stop-color="#37b878"/><stop offset="0.7500" stop-color="#5ac864"/><stop offset="0.7727" stop-color="#8ed645"/><stop offset="0.7955" stop-color="#aadc32"/><stop offset="0.8182" stop-color="#a0da39"/><stop offset="0.8409" stop-color="#58c765"/><stop offset="0.8636" stop-color="#25ac82"/><stop offset="0.8864" stop-color="#20938c"/><stop offset="0.9091" stop-color="#25848e"/><stop offset="0.9318" stop-color="#297b8e"/><stop offset="0.9545" stop-color="#2b758e"/><stop offset="0.9773" stop-color="#2a768e"/><stop offset="1.0000" stop-color="#29798e"/></linearGradient><linearGradient id="c56" x1="0" y1="0" x2="0" y2="1"><stop offset="0.0000" stop-color="#d8e219"/><stop offset="0.0227" stop-color="#d8e219"/><stop offset="0.0455" stop-color="#d8e219"/><stop offset="0.0682" stop-color="#d5e21a"/><stop offset="0.0909" stop-color="#d5e21a"/><stop offset="0.1136" stop-color="#d2e21b"/><stop offset="0.1364" stop-color="#d0e11c"/><stop offset="0.1591" stop-color="#cae11f"/><stop offset="0.1818" stop-color="#bddf26"/><stop offset="0.2045" stop-color="#aadc32"/><stop offset="0.2273" stop-color="#93d741"/><stop offset="0.2500" stop-color="#69cd5b"/><stop offset="0.2727" stop-color="#3dbc74"/><stop offset="0.2955" stop-color="#20a486"/><stop offset="0.3182" stop-color="#238a8d"/><stop offset="0.3409" stop-color="#2e6d8e"/><stop offset="0.3636" stop-color="#3d4d8a"/><stop offset="0.3864" stop-color="#472e7c"/><stop offset="0.4091" stop-color="#481769"/><stop offset="0.4318" stop-color="#460b5e"/><stop offset="0.4545" stop-color="#482576"/><stop offset="0.4773" stop-color="#3f4889"/><stop offset="0.5000" stop-color="#30698e"/><stop offset="0.5227" stop-color="#25858e"/><stop offset="0.5455" stop-color="#21a585"/><stop offset="0.5682" stop-color="#4cc26c"/><stop offset="0.5909" stop-color="#98d83e"/><stop offset="0.6136" stop-color="#bddf26"/><stop offset="0.6364" stop-color="#b0dd2f"/><stop offset="0.6591" stop-color="#7cd250"/><stop offset="0.6818" stop-color="#3fbc73"/><stop offset="0.7045" stop-color="#34b679"/><stop offset="0.7273" stop-color="#31b57b"/><stop offset="0.7500" stop-color="#54c568"/><stop offset="0.7727" stop-color="#86d549"/><stop offset="0.7955" stop-color="#a5db36"/><stop offset="0.8182" stop-color="#9dd93b"/><stop offset="0.8409" stop-color="#56c667"/><stop offset="0.8636" stop-color="#24aa83"/><stop offset="0.8864" stop-color="#21918c"/><stop offset="0.9091" stop-color="#26828e"/><stop offset="0.9318" stop-color="#2a788e"/><stop offset="0.9545" stop-color="#2c718e"/><stop offset="0.9773" stop-color="#2c728e"/><stop offset="1.0000" stop-color="#2b748e"/></linearGradient><linearGradient id="c57" x1="0" y1="0" x2="0" y2="1"><stop offset="0.0000" stop-color="#d8e219"/><stop offset="0.0227" stop-color="#d8e219"/><stop offset="0.0455" stop-color="#d8e219"/><stop offset="0.0682" stop-color="#d5e21a"/><stop offset="0.0909" stop-color="#d5e21a"/><stop offset="0.1136" stop-color="#d2e21b"/><stop offset="0.1364" stop-color="#d2e21b"/><stop offset="0.1591" stop-color="#cde11d"/><stop offset="0.1818" stop-color="#bddf26"/><stop offset="0.2045" stop-color="#aadc32"/><stop offset="0.2273" stop-color="#95d840"/><stop offset="0.2500" stop-color="#6ece58"/><stop offset="0.2727" stop-color="#40bd72"/><stop offset="0.2955" stop-color="#21a685"/><stop offset="0.3182" stop-color="#228c8d"/><stop offset="0.3409" stop-color="#2e6e8e"/><stop offset="0.3636" stop-color="#3e4c8a"/><stop offset="0.3864" stop-color="#472d7b"/><stop offset="0.4091" stop-color="#481769"/><stop offset="0.4318" stop-color="#460b5e"/><stop offset="0.4545" stop-color="#482677"/><stop offset="0.4773" stop-color="#3e4a89"/><stop offset="0.5000" stop-color="#2f6b8e"/><stop offset="0.5227" stop-color="#23888e"/><stop offset="0.5455" stop-color="#22a785"/><stop offset="0.5682" stop-color="#4ec36b"/><stop offset="0.5909" stop-color="#9bd93c"/><stop offset="0.6136" stop-color="#c0df25"/><stop offset="0.6364" stop-color="#b5de2b"/><stop offset="0.6591" stop-color="#81d34d"/><stop offset="0.6818" stop-color="#44bf70"/><stop offset="0.7045" stop-color="#37b878"/><stop offset="0.7273" stop-color="#35b779"/><stop offset="0.7500" stop-color="#58c765"/><stop offset="0.7727" stop-color="#8bd646"/><stop offset="0.7955" stop-color="#aadc32"/><stop offset="0.8182" stop-color="#a2da37"/><stop offset="0.8409" stop-color="#5cc863"/><stop offset="0.8636" stop-color="#27ad81"/><stop offset="0.8864" stop-color="#1f948c"/><stop offset="0.9091" stop-color="#25858e"/><stop offset="0.9318" stop-color="#297b8e"/><stop offset="0.9545" stop-color="#2b748e"/><stop offset="0.9773" stop-color="#2b748e"/><stop offset="1.0000" stop-color="#2a768e"/></linearGradient><linearGradient id="c58" x1="0" y1="0" x2="0" y2="1"><stop offset="0.0000" stop-color="#d8e219"/><stop offset="0.0227" stop-color="#d8e219"/><stop offset="0.0455" stop-color="#d8e219"/><stop offset="0.0682" stop-color="#d8e219"/><stop offset="0.0909" stop-color="#d5e21a"/><stop offset="0.1136" stop-color="#d5e21a"/><stop offset="0.1364" stop-color="#d2e21b"/><stop offset="0.1591" stop-color="#cde11d"/><stop offset="0.1818" stop-color="#bddf26"/><stop offset="0.2045" stop-color="#addc30"/><stop offset="0.2273" stop-color="#98d83e"/><stop offset="0.2500" stop-color="#73d056"/><stop offset="0.2727" stop-color="#44bf70"/><stop offset="0.2955" stop-color="#23a983"/><stop offset="0.3182" stop-color="#21908d"/><stop offset="0.3409" stop-color="#2d708e"/><stop offset="0.3636" stop-color="#3e4c8a"/><stop offset="0.3864" stop-color="#472c7a"/><stop offset="0.4091" stop-color="#481668"/><stop offset="0.4318" stop-color="#460b5e"/><stop offset="0.4545" stop-color="#482878"/><stop offset="0.4773" stop-color="#3d4e8a"/><stop offset="0.5000" stop-color="#2e6e8e"/><stop offset="0.5227" stop-color="#228b8d"/><stop offset="0.5455" stop-color="#24aa83"/><stop offset="0.5682" stop-color="#52c569"/><stop offset="0.5909" stop-color="#9dd93b"/><stop offset="0.6136" stop-color="#c2df23"/><stop offset="0.6364" stop-color="#b8de29"/><stop offset="0.6591" stop-color="#89d548"/><stop offset="0.6818" stop-color="#4ac16d"/><stop offset="0.7045" stop-color="#3bbb75"/><stop offset="0.7273" stop-color="#3aba76"/><stop offset="0.7500" stop-color="#5cc863"/><stop offset="0.7727" stop-color="#8ed645"/><stop offset="0.7955" stop-color="#addc30"/><stop offset="0.8182" stop-color="#a8db34"/><stop offset="0.8409" stop-color="#65cb5e"/><stop offset="0.8636" stop-color="#2db27d"/><stop offset="0.8864" stop-color="#1f988b"/><stop offset="0.9091" stop-color="#23898e"/><stop offset="0.9318" stop-color="#277e8e"/><stop offset="0.9545" stop-color="#2a778e"/><stop offset="0.9773" stop-color="#2a768e"/><stop offset="1.0000" stop-color="#2a778e"/></linearGradient><linearGradient id="c59" x1="0" y1="0" x2="0" y2="1"><stop offset="0.0000" stop-color="#d0e11c"/><stop offset="0.0227" stop-color="#d0e11c"/><stop offset="0.0455" stop-color="#d0e11c"/><stop offset="0.0682" stop-color="#d0e11c"/><stop offset="0.0909" stop-color="#cde11d"/><stop offset="0.1136" stop-color="#cde11d"/><stop offset="0.1364" stop-color="#cae11f"/><stop offset="0.1591" stop-color="#c2df23"/><stop offset="0.1818" stop-color="#b0dd2f"/><stop offset="0.2045" stop-color="#9dd93b"/><stop offset="0.2273" stop-color="#86d549"/><stop offset="0.2500" stop-color="#60ca60"/><stop offset="0.2727" stop-color="#35b779"/><stop offset="0.2955" stop-color="#1fa088"/><stop offset="0.3182" stop-color="#24868e"/><stop offset="0.3409" stop-color="#32658e"/><stop offset="0.3636" stop-color="#414287"/><stop offset="0.3864" stop-color="#482475"/><stop offset="0.4091" stop-color="#471063"/><stop offset="0.4318" stop-color="#46085c"/><stop offset="0.4545" stop-color="#482475"/><stop offset="0.4773" stop-color="#404688"/><stop offset="0.5000" stop-color="#32658e"/><stop offset="0.5227" stop-color="#26828e"/><stop offset="0.5455" stop-color="#1fa088"/><stop offset="0.5682" stop-color="#3fbc73"/><stop offset="0.5909" stop-color="#8ed645"/><stop offset="0.6136" stop-color="#bade28"/><stop offset="0.6364" stop-color="#b0dd2f"/><stop offset="0.6591" stop-color="#7ad151"/><stop offset="0.6818" stop-color="#3bbb75"/><stop offset="0.7045" stop-color="#2fb47c"/><stop offset="0.7273" stop-color="#2cb17e"/><stop offset="0.7500" stop-color="#4cc26c"/><stop offset="0.7727" stop-color="#7fd34e"/><stop offset="0.7955" stop-color="#a2da37"/><stop offset="0.8182" stop-color="#9dd93b"/><stop offset="0.8409" stop-color="#58c765"/><stop offset="0.8636" stop-color="#25ab82"/><stop offset="0.8864" stop-color="#21918c"/><stop offset="0.9091" stop-color="#26818e"/><stop offset="0.9318" stop-color="#2b758e"/><stop offset="0.9545" stop-color="#2e6e8e"/><stop offset="0.9773" stop-color="#2e6d8e"/><stop offset="1.0000" stop-color="#2e6d8e"/></linearGradient><linearGradient id="c60" x1="0" y1="0" x2="0" y2="1"><stop offset="0.0000" stop-color="#d0e11c"/><stop offset="0.0227" stop-color="#d0e11c"/><stop offset="0.0455" stop-color="#d0e11c"/><stop offset="0.0682" stop-color="#d0e11c"/><stop offset="0.0909" stop-color="#cde11d"/><stop offset="0.1136" stop-color="#cde11d"/><stop offset="0.1364" stop-color="#cae11f"/><stop offset="0.1591" stop-color="#c2df23"/><stop offset="0.1818" stop-color="#b0dd2f"/><stop offset="0.2045" stop-color="#9dd93b"/><stop offset="0.2273" stop-color="#89d548"/><stop offset="0.2500" stop-color="#65cb5e"/><stop offset="0.2727" stop-color="#38b977"/><stop offset="0.2955" stop-color="#1fa287"/><stop offset="0.3182" stop-color="#23898e"/><stop offset="0.3409" stop-color="#31688e"/><stop offset="0.3636" stop-color="#414487"/><stop offset="0.3864" stop-color="#482374"/><stop offset="0.4091" stop-color="#471063"/><stop offset="0.4318" stop-color="#46085c"/><stop offset="0.4545" stop-color="#482576"/><stop offset="0.4773" stop-color="#3e4989"/><stop offset="0.5000" stop-color="#30698e"/><stop offset="0.5227" stop-color="#25848e"/><stop offset="0.5455" stop-color="#1fa287"/><stop offset="0.5682" stop-color="#44bf70"/><stop offset="0.5909" stop-color="#93d741"/><stop offset="0.6136" stop-color="#bddf26"/><stop offset="0.6364" stop-color="#b2dd2d"/><stop offset="0.6591" stop-color="#81d34d"/><stop offset="0.6818" stop-color="#40bd72"/><stop offset="0.7045" stop-color="#34b679"/><stop offset="0.7273" stop-color="#31b57b"/><stop offset="0.7500" stop-color="#52c569"/><stop offset="0.7727" stop-color="#84d44b"/><stop offset="0.7955" stop-color="#a8db34"/><stop offset="0.8182" stop-color="#a5db36"/><stop offset="0.8409" stop-color="#63cb5f"/><stop offset="0.8636" stop-color="#29af7f"/><stop offset="0.8864" stop-color="#1f948c"/><stop offset="0.9091" stop-color="#25848e"/><stop offset="0.9318" stop-color="#29798e"/><stop offset="0.9545" stop-color="#2c718e"/><stop offset="0.9773" stop-color="#2d708e"/><stop offset="1.0000" stop-color="#2e6f8e"/></linearGradient><linearGradient id="c61" x1="0" y1="0" x2="0" y2="1"><stop offset="0.0000" stop-color="#cae11f"/><stop offset="0.0227" stop-color="#cae11f"/><stop offset="0.0455" stop-color="#c8e020"/><stop offset="0.0682" stop-color="#c8e020"/><stop offset="0.0909" stop-color="#c8e020"/><stop offset="0.1136" stop-color="#c5e021"/><stop offset="0.1364" stop-color="#c2df23"/><stop offset="0.1591" stop-color="#bade28"/><stop offset="0.1818" stop-color="#a8db34"/><stop offset="0.2045" stop-color="#93d741"/><stop offset="0.2273" stop-color="#7cd250"/><stop offset="0.2500" stop-color="#5ac864"/><stop offset="0.2727" stop-color="#31b57b"/><stop offset="0.2955" stop-color="#1f9f88"/><stop offset="0.3182" stop-color="#24868e"/><stop offset="0.3409" stop-color="#32658e"/><stop offset="0.3636" stop-color="#424186"/><stop offset="0.3864" stop-color="#482173"/><stop offset="0.4091" stop-color="#470e61"/><stop offset="0.4318" stop-color="#46085c"/><stop offset="0.4545" stop-color="#482475"/><stop offset="0.4773" stop-color="#3f4788"/><stop offset="0.5000" stop-color="#31668e"/><stop offset="0.5227" stop-color="#26828e"/><stop offset="0.5455" stop-color="#1fa188"/><stop offset="0.5682" stop-color="#40bd72"/><stop offset="0.5909" stop-color="#90d743"/><stop offset="0.6136" stop-color="#bade28"/><stop offset="0.6364" stop-color="#b0dd2f"/><stop offset="0.6591" stop-color="#7cd250"/><stop offset="0.6818" stop-color="#3dbc74"/><stop offset="0.7045" stop-color="#31b57b"/><stop offset="0.7273" stop-color="#2db27d"/><stop offset="0.7500" stop-color="#4ac16d"/><stop offset="0.7727" stop-color="#7cd250"/><stop offset="0.7955" stop-color="#a0da39"/><stop offset="0.8182" stop-color="#a0da39"/><stop offset="0.8409" stop-color="#60ca60"/><stop offset="0.8636" stop-color="#28ae80"/><stop offset="0.8864" stop-color="#20938c"/><stop offset="0.9091" stop-color="#26828e"/><stop offset="0.9318" stop-color="#2a768e"/><stop offset="0.9545" stop-color="#2e6e8e"/><stop offset="0.9773" stop-color="#2e6d8e"/><stop offset="1.0000" stop-color="#2f6c8e"/></linearGradient><linearGradient id="c62" x1="0" y1="0" x2="0" y2="1"><stop offset="0.0000" stop-color="#c8e020"/><stop offset="0.0227" stop-color="#c5e021"/><stop offset="0.0455" stop-color="#c5e021"/><stop offset="0.0682" stop-color="#c5e021"/><stop offset="0.0909" stop-color="#c2df23"/><stop offset="0.1136" stop-color="#c2df23"/><stop offset="0.1364" stop-color="#bddf26"/><stop offset="0.1591" stop-color="#b8de29"/><stop offset="0.1818" stop-color="#a5db36"/><stop offset="0.2045" stop-color="#90d743"/><stop offset="0.2273" stop-color="#7cd250"/><stop offset="0.2500" stop-color="#5ac864"/><stop offset="0.2727" stop-color="#32b67a"/><stop offset="0.2955" stop-color="#1fa088"/><stop offset="0.3182" stop-color="#23888e"/><stop offset="0.3409" stop-color="#31688e"/><stop offset="0.3636" stop-color="#404588"/><stop offset="0.3864" stop-color="#482374"/><stop offset="0.4091" stop-color="#471063"/><stop offset="0.4318" stop-color="#46085c"/><stop offset="0.4545" stop-color="#482576"/><stop offset="0.4773" stop-color="#3f4889"/><stop offset="0.5000" stop-color="#31688e"/><stop offset="0.5227" stop-color="#25848e"/><stop offset="0.5455" stop-color="#20a386"/><stop offset="0.5682" stop-color="#46c06f"/><stop offset="0.5909" stop-color="#95d840"/><stop offset="0.6136" stop-color="#c0df25"/><stop offset="0.6364" stop-color="#b2dd2d"/><stop offset="0.6591" stop-color="#81d34d"/><stop offset="0.6818" stop-color="#42be71"/><stop offset="0.7045" stop-color="#34b679"/><stop offset="0.7273" stop-color="#2fb47c"/><stop offset="0.7500" stop-color="#4ec36b"/><stop offset="0.7727" stop-color="#7cd250"/><stop offset="0.7955" stop-color="#a0da39"/><stop offset="0.8182" stop-color="#a5db36"/><stop offset="0.8409" stop-color="#67cc5c"/><stop offset="0.8636" stop-color="#2db27d"/><stop offset="0.8864" stop-color="#1f978b"/><stop offset="0.9091" stop-color="#25858e"/><stop offset="0.9318" stop-color="#2a788e"/><stop offset="0.9545" stop-color="#2d718e"/><stop offset="0.9773" stop-color="#2e6f8e"/><stop offset="1.0000" stop-color="#2e6e8e"/></linearGradient><linearGradient id="c63" x1="0" y1="0" x2="0" y2="1"><stop offset="0.0000" stop-color="#bddf26"/><stop offset="0.0227" stop-color="#bddf26"/><stop offset="0.0455" stop-color="#bade28"/><stop offset="0.0682" stop-color="#bade28"/><stop offset="0.0909" stop-color="#b8de29"/><stop offset="0.1136" stop-color="#b5de2b"/><stop offset="0.1364" stop-color="#b2dd2d"/><stop offset="0.1591" stop-color="#aadc32"/><stop offset="0.1818" stop-color="#95d840"/><stop offset="0.2045" stop-color="#84d44b"/><stop offset="0.2273" stop-color="#6ece58"/><stop offset="0.2500" stop-color="#4cc26c"/><stop offset="0.2727" stop-color="#29af7f"/><stop offset="0.2955" stop-color="#1f998a"/><stop offset="0.3182" stop-color="#26828e"/><stop offset="0.3409" stop-color="#33638d"/><stop offset="0.3636" stop-color="#424186"/><stop offset="0.3864" stop-color="#482173"/><stop offset="0.4091" stop-color="#470e61"/><stop offset="0.4318" stop-color="#46085c"/><stop offset="0.4545" stop-color="#482173"/><stop offset="0.4773" stop-color="#414487"/><stop offset="0.5000" stop-color="#33638d"/><stop offset="0.5227" stop-color="#277f8e"/><stop offset="0.5455" stop-color="#1f9e89"/><stop offset="0.5682" stop-color="#3fbc73"/><stop offset="0.5909" stop-color="#8ed645"/><stop offset="0.6136" stop-color="#bade28"/><stop offset="0.6364" stop-color="#addc30"/><stop offset="0.6591" stop-color="#7ad151"/><stop offset="0.6818" stop-color="#3bbb75"/><stop offset="0.7045" stop-color="#2db27d"/><stop offset="0.7273" stop-color="#29af7f"/><stop offset="0.7500" stop-color="#42be71"/><stop offset="0.7727" stop-color="#6ece58"/><stop offset="0.7955" stop-color="#95d840"/><stop offset="0.8182" stop-color="#9dd93b"/><stop offset="0.8409" stop-color="#60ca60"/><stop offset="0.8636" stop-color="#28ae80"/><stop offset="0.8864" stop-color="#20928c"/><stop offset="0.9091" stop-color="#26818e"/><stop offset="0.9318" stop-color="#2c728e"/><stop offset="0.9545" stop-color="#2f6b8e"/><stop offset="0.9773" stop-color="#30698e"/><stop offset="1.0000" stop-color="#31688e"/></linearGradient><linearGradient id="c64" x1="0" y1="0" x2="0" y2="1"><stop offset="0.0000" stop-color="#bade28"/><stop offset="0.0227" stop-color="#bade28"/><stop offset="0.0455" stop-color="#b8de29"/><stop offset="0.0682" stop-color="#b8de29"/><stop offset="0.0909" stop-color="#b5de2b"/><stop offset="0.1136" stop-color="#b2dd2d"/><stop offset="0.1364" stop-color="#b0dd2f"/><stop offset="0.1591" stop-color="#a8db34"/><stop offset="0.1818" stop-color="#95d840"/><stop offset="0.2045" stop-color="#81d34d"/><stop offset="0.2273" stop-color="#6ccd5a"/><stop offset="0.2500" stop-color="#4cc26c"/><stop offset="0.2727" stop-color="#29af7f"/><stop offset="0.2955" stop-color="#1e9b8a"/><stop offset="0.3182" stop-color="#25838e"/><stop offset="0.3409" stop-color="#32658e"/><stop offset="0.3636" stop-color="#414487"/><stop offset="0.3864" stop-color="#482374"/><stop offset="0.4091" stop-color="#470e61"/><stop offset="0.4318" stop-color="#46085c"/><stop offset="0.4545" stop-color="#482374"/><stop offset="0.4773" stop-color="#404688"/><stop offset="0.5000" stop-color="#32658e"/><stop offset="0.5227" stop-color="#26818e"/><stop offset="0.5455" stop-color="#1fa188"/><stop offset="0.5682" stop-color="#44bf70"/><stop offset="0.5909" stop-color="#93d741"/><stop offset="0.6136" stop-color="#bddf26"/><stop offset="0.6364" stop-color="#b0dd2f"/><stop offset="0.6591" stop-color="#7fd34e"/><stop offset="0.6818" stop-color="#40bd72"/><stop offset="0.7045" stop-color="#31b57b"/><stop offset="0.7273" stop-color="#2cb17e"/><stop offset="0.7500" stop-color="#44bf70"/><stop offset="0.7727" stop-color="#70cf57"/><stop offset="0.7955" stop-color="#98d83e"/><stop offset="0.8182" stop-color="#a0da39"/><stop offset="0.8409" stop-color="#69cd5b"/><stop offset="0.8636" stop-color="#2db27d"/><stop offset="0.8864" stop-color="#1f978b"/><stop offset="0.9091" stop-color="#25838e"/><stop offset="0.9318" stop-color="#2b758e"/><stop offset="0.9545" stop-color="#2e6d8e"/><stop offset="0.9773" stop-color="#2f6b8e"/><stop offset="1.0000" stop-color="#306a8e"/></linearGradient><linearGradient id="c65" x1="0" y1="0" x2="0" y2="1"><stop offset="0.0000" stop-color="#b5de2b"/><stop offset="0.0227" stop-color="#b5de2b"/><stop offset="0.0455" stop-color="#b5de2b"/><stop offset="0.0682" stop-color="#b5de2b"/><stop offset="0.0909" stop-color="#b2dd2d"/><stop offset="0.1136" stop-color="#b0dd2f"/><stop offset="0.1364" stop-color="#aadc32"/><stop offset="0.1591" stop-color="#a2da37"/><stop offset="0.1818" stop-color="#90d743"/><stop offset="0.2045" stop-color="#7fd34e"/><stop offset="0.2273" stop-color="#69cd5b"/><stop offset="0.2500" stop-color="#4ac16d"/><stop offset="0.2727" stop-color="#29af7f"/><stop offset="0.2955" stop-color="#1e9b8a"/><stop offset="0.3182" stop-color="#25848e"/><stop offset="0.3409" stop-color="#31678e"/><stop offset="0.3636" stop-color="#404688"/><stop offset="0.3864" stop-color="#482475"/><stop offset="0.4091" stop-color="#470e61"/><stop offset="0.4318" stop-color="#460a5d"/><stop offset="0.4545" stop-color="#482374"/><stop offset="0.4773" stop-color="#3f4788"/><stop offset="0.5000" stop-color="#31678e"/><stop offset="0.5227" stop-color="#26828e"/><stop offset="0.5455" stop-color="#1fa287"/><stop offset="0.5682" stop-color="#48c16e"/><stop offset="0.5909" stop-color="#95d840"/><stop offset="0.6136" stop-color="#c0df25"/><stop offset="0.6364" stop-color="#b2dd2d"/><stop offset="0.6591" stop-color="#84d44b"/><stop offset="0.6818" stop-color="#44bf70"/><stop offset="0.7045" stop-color="#34b679"/><stop offset="0.7273" stop-color="#2eb37c"/><stop offset="0.7500" stop-color="#46c06f"/><stop offset="0.7727" stop-color="#6ece58"/><stop offset="0.7955" stop-color="#95d840"/><stop offset="0.8182" stop-color="#a2da37"/><stop offset="0.8409" stop-color="#70cf57"/><stop offset="0.8636" stop-color="#31b57b"/><stop offset="0.8864" stop-color="#1f9a8a"/><stop offset="0.9091" stop-color="#25858e"/><stop offset="0.9318" stop-color="#2a778e"/><stop offset="0.9545" stop-color="#2e6e8e"/><stop offset="0.9773" stop-color="#2f6c8e"/><stop offset="1.0000" stop-color="#2f6c8e"/></linearGradient><linearGradient id="c66" x1="0" y1="0" x2="0" y2="1"><stop offset="0.0000" stop-color="#b8de29"/><stop offset="0.0227" stop-color="#b5de2b"/><stop offset="0.0455" stop-color="#b5de2b"/><stop offset="0.0682" stop-color="#b5de2b"/><stop offset="0.0909" stop-color="#b2dd2d"/><stop offset="0.1136" stop-color="#b0dd2f"/><stop offset="0.1364" stop-color="#aadc32"/><stop offset="0.1591" stop-color="#a2da37"/><stop offset="0.1818" stop-color="#93d741"/><stop offset="0.2045" stop-color="#81d34d"/><stop offset="0.2273" stop-color="#6ece58"/><stop offset="0.2500" stop-color="#4ec36b"/><stop offset="0.2727" stop-color="#2db27d"/><stop offset="0.2955" stop-color="#1f9f88"/><stop offset="0.3182" stop-color="#23888e"/><stop offset="0.3409" stop-color="#2f6c8e"/><stop offset="0.3636" stop-color="#3e4a89"/><stop offset="0.3864" stop-color="#482677"/><stop offset="0.4091" stop-color="#471063"/><stop offset="0.4318" stop-color="#460a5d"/><stop offset="0.4545" stop-color="#482576"/><stop offset="0.4773" stop-color="#3e4a89"/><stop offset="0.5000" stop-color="#2f6c8e"/><stop offset="0.5227" stop-color="#24878e"/><stop offset="0.5455" stop-color="#22a785"/><stop offset="0.5682" stop-color="#52c569"/><stop offset="0.5909" stop-color="#a0da39"/><stop offset="0.6136" stop-color="#c5e021"/><stop offset="0.6364" stop-color="#bade28"/><stop offset="0.6591" stop-color="#8bd646"/><stop offset="0.6818" stop-color="#4ec36b"/><stop offset="0.7045" stop-color="#3bbb75"/><stop offset="0.7273" stop-color="#35b779"/><stop offset="0.7500" stop-color="#4ec36b"/><stop offset="0.7727" stop-color="#73d056"/><stop offset="0.7955" stop-color="#9bd93c"/><stop offset="0.8182" stop-color="#aadc32"/><stop offset="0.8409" stop-color="#7cd250"/><stop offset="0.8636" stop-color="#3bbb75"/><stop offset="0.8864" stop-color="#1fa088"/><stop offset="0.9091" stop-color="#228b8d"/><stop offset="0.9318" stop-color="#297b8e"/><stop offset="0.9545" stop-color="#2c728e"/><stop offset="0.9773" stop-color="#2d718e"/><stop offset="1.0000" stop-color="#2d708e"/></linearGradient><linearGradient id="c67" x1="0" y1="0" x2="0" y2="1"><stop offset="0.0000" stop-color="#b2dd2d"/><stop offset="0.0227" stop-color="#b2dd2d"/><stop offset="0.0455" stop-color="#b2dd2d"/><stop offset="0.0682" stop-color="#b2dd2d"/><stop offset="0.0909" stop-color="#b0dd2f"/><stop offset="0.1136" stop-color="#aadc32"/><stop offset="0.1364" stop-color="#a5db36"/><stop offset="0.1591" stop-color="#a0da39"/><stop offset="0.1818" stop-color="#90d743"/><stop offset="0.2045" stop-color="#7fd34e"/><stop offset="0.2273" stop-color="#69cd5b"/><stop offset="0.2500" stop-color="#4cc26c"/><stop offset="0.2727" stop-color="#2cb17e"/><stop offset="0.2955" stop-color="#1f9f88"/><stop offset="0.3182" stop-color="#23898e"/><stop offset="0.3409" stop-color="#2e6d8e"/><stop offset="0.3636" stop-color="#3d4d8a"/><stop offset="0.3864" stop-color="#482677"/><stop offset="0.4091" stop-color="#471063"/><stop offset="0.4318" stop-color="#460a5d"/><stop offset="0.4545" stop-color="#482576"/><stop offset="0.4773" stop-color="#3e4c8a"/><stop offset="0.5000" stop-color="#2e6d8e"/><stop offset="0.5227" stop-color="#23888e"/><stop offset="0.5455" stop-color="#23a983"/><stop offset="0.5682" stop-color="#56c667"/><stop offset="0.5909" stop-color="#a2da37"/><stop offset="0.6136" stop-color="#c8e020"/><stop offset="0.6364" stop-color="#bade28"/><stop offset="0.6591" stop-color="#8ed645"/><stop offset="0.6818" stop-color="#50c46a"/><stop offset="0.7045" stop-color="#3dbc74"/><stop offset="0.7273" stop-color="#37b878"/><stop offset="0.7500" stop-color="#4ec36b"/><stop offset="0.7727" stop-color="#73d056"/><stop offset="0.7955" stop-color="#9bd93c"/><stop offset="0.8182" stop-color="#aadc32"/><stop offset="0.8409" stop-color="#81d34d"/><stop offset="0.8636" stop-color="#3fbc73"/><stop offset="0.8864" stop-color="#1fa287"/><stop offset="0.9091" stop-color="#228d8d"/><stop offset="0.9318" stop-color="#287d8e"/><stop offset="0.9545" stop-color="#2c738e"/><stop offset="0.9773" stop-color="#2d718e"/><stop offset="1.0000" stop-color="#2d708e"/></linearGradient><linearGradient id="c68" x1="0" y1="0" x2="0" y2="1"><stop offset="0.0000" stop-color="#a0da39"/><stop offset="0.0227" stop-color="#a0da39"/><stop offset="0.0455" stop-color="#a0da39"/><stop offset="0.0682" stop-color="#a0da39"/><stop offset="0.0909" stop-color="#9bd93c"/><stop offset="0.1136" stop-color="#95d840"/><stop offset="0.1364" stop-color="#90d743"/><stop offset="0.1591" stop-color="#89d548"/><stop offset="0.1818" stop-color="#77d153"/><stop offset="0.2045" stop-color="#67cc5c"/><stop offset="0.2273" stop-color="#52c569"/><stop offset="0.2500" stop-color="#37b878"/><stop offset="0.2727" stop-color="#21a585"/><stop offset="0.2955" stop-color="#20928c"/><stop offset="0.3182" stop-color="#287d8e"/><stop offset="0.3409" stop-color="#33638d"/><stop offset="0.3636" stop-color="#414487"/><stop offset="0.3864" stop-color="#482173"/><stop offset="0.4091" stop-color="#470d60"/><stop offset="0.4318" stop-color="#46085c"/><stop offset="0.4545" stop-color="#481f70"/><stop offset="0.4773" stop-color="#414287"/><stop offset="0.5000" stop-color="#33628d"/><stop offset="0.5227" stop-color="#287d8e"/><stop offset="0.5455" stop-color="#1f9e89"/><stop offset="0.5682" stop-color="#44bf70"/><stop offset="0.5909" stop-color="#93d741"/><stop offset="0.6136" stop-color="#bddf26"/><stop offset="0.6364" stop-color="#b0dd2f"/><stop offset="0.6591" stop-color="#7cd250"/><stop offset="0.6818" stop-color="#3fbc73"/><stop offset="0.7045" stop-color="#2eb37c"/><stop offset="0.7273" stop-color="#28ae80"/><stop offset="0.7500" stop-color="#3aba76"/><stop offset="0.7727" stop-color="#5cc863"/><stop offset="0.7955" stop-color="#86d549"/><stop offset="0.8182" stop-color="#9dd93b"/><stop offset="0.8409" stop-color="#73d056"/><stop offset="0.8636" stop-color="#32b67a"/><stop offset="0.8864" stop-color="#1f998a"/><stop offset="0.9091" stop-color="#26828e"/><stop offset="0.9318" stop-color="#2c718e"/><stop offset="0.9545" stop-color="#31688e"/><stop offset="0.9773" stop-color="#31668e"/><stop offset="1.0000" stop-color="#32658e"/></linearGradient><linearGradient id="c69" x1="0" y1="0" x2="0" y2="1"><stop offset="0.0000" stop-color="#9dd93b"/><stop offset="0.0227" stop-color="#9dd93b"/><stop offset="0.0455" stop-color="#9dd93b"/><stop offset="0.0682" stop-color="#9dd93b"/><stop offset="0.0909" stop-color="#98d83e"/><stop offset="0.1136" stop-color="#93d741"/><stop offset="0.1364" stop-color="#8ed645"/><stop offset="0.1591" stop-color="#86d549"/><stop offset="0.1818" stop-color="#77d153"/><stop offset="0.2045" stop-color="#65cb5e"/><stop offset="0.2273" stop-color="#52c569"/><stop offset="0.2500" stop-color="#35b779"/><stop offset="0.2727" stop-color="#21a685"/><stop offset="0.2955" stop-color="#20938c"/><stop offset="0.3182" stop-color="#277f8e"/><stop offset="0.3409" stop-color="#32658e"/><stop offset="0.3636" stop-color="#3f4788"/><stop offset="0.3864" stop-color="#482374"/><stop offset="0.4091" stop-color="#470e61"/><stop offset="0.4318" stop-color="#460a5d"/><stop offset="0.4545" stop-color="#482071"/><stop offset="0.4773" stop-color="#404588"/><stop offset="0.5000" stop-color="#32648e"/><stop offset="0.5227" stop-color="#27808e"/><stop offset="0.5455" stop-color="#1fa188"/><stop offset="0.5682" stop-color="#4ac16d"/><stop offset="0.5909" stop-color="#98d83e"/><stop offset="0.6136" stop-color="#c0df25"/><stop offset="0.6364" stop-color="#b2dd2d"/><stop offset="0.6591" stop-color="#81d34d"/><stop offset="0.6818" stop-color="#44bf70"/><stop offset="0.7045" stop-color="#31b57b"/><stop offset="0.7273" stop-color="#2ab07f"/><stop offset="0.7500" stop-color="#3bbb75"/><stop offset="0.7727" stop-color="#5cc863"/><stop offset="0.7955" stop-color="#86d549"/><stop offset="0.8182" stop-color="#a0da39"/><stop offset="0.8409" stop-color="#7ad151"/><stop offset="0.8636" stop-color="#37b878"/><stop offset="0.8864" stop-color="#1e9d89"/><stop offset="0.9091" stop-color="#25858e"/><stop offset="0.9318" stop-color="#2c738e"/><stop offset="0.9545" stop-color="#306a8e"/><stop offset="0.9773" stop-color="#31688e"/><stop offset="1.0000" stop-color="#31678e"/></linearGradient><linearGradient id="c70" x1="0" y1="0" x2="0" y2="1"><stop offset="0.0000" stop-color="#a2da37"/><stop offset="0.0227" stop-color="#a2da37"/><stop offset="0.0455" stop-color="#a2da37"/><stop offset="0.0682" stop-color="#a0da39"/><stop offset="0.0909" stop-color="#9dd93b"/><stop offset="0.1136" stop-color="#98d83e"/><stop offset="0.1364" stop-color="#93d741"/><stop offset="0.1591" stop-color="#8bd646"/><stop offset="0.1818" stop-color="#7cd250"/><stop offset="0.2045" stop-color="#6ccd5a"/><stop offset="0.2273" stop-color="#58c765"/><stop offset="0.2500" stop-color="#3bbb75"/><stop offset="0.2727" stop-color="#25ab82"/><stop offset="0.2955" stop-color="#1f998a"/><stop offset="0.3182" stop-color="#25858e"/><stop offset="0.3409" stop-color="#2f6c8e"/><stop offset="0.3636" stop-color="#3d4d8a"/><stop offset="0.3864" stop-color="#482677"/><stop offset="0.4091" stop-color="#471063"/><stop offset="0.4318" stop-color="#460b5e"/><stop offset="0.4545" stop-color="#482374"/><stop offset="0.4773" stop-color="#3e4989"/><stop offset="0.5000" stop-color="#2f6b8e"/><stop offset="0.5227" stop-color="#24868e"/><stop offset="0.5455" stop-color="#22a785"/><stop offset="0.5682" stop-color="#56c667"/><stop offset="0.5909" stop-color="#a2da37"/><stop offset="0.6136" stop-color="#c8e020"/><stop offset="0.6364" stop-color="#bade28"/><stop offset="0.6591" stop-color="#8ed645"/><stop offset="0.6818" stop-color="#50c46a"/><stop offset="0.7045" stop-color="#3bbb75"/><stop offset="0.7273" stop-color="#34b679"/><stop offset="0.7500" stop-color="#46c06f"/><stop offset="0.7727" stop-color="#65cb5e"/><stop offset="0.7955" stop-color="#8ed645"/><stop offset="0.8182" stop-color="#aadc32"/><stop offset="0.8409" stop-color="#89d548"/><stop offset="0.8636" stop-color="#44bf70"/><stop offset="0.8864" stop-color="#20a486"/><stop offset="0.9091" stop-color="#228c8d"/><stop offset="0.9318" stop-color="#297a8e"/><stop offset="0.9545" stop-color="#2d718e"/><stop offset="0.9773" stop-color="#2e6e8e"/><stop offset="1.0000" stop-color="#2e6d8e"/></linearGradient><linearGradient id="c71" x1="0" y1="0" x2="0" y2="1"><stop offset="0.0000" stop-color="#8bd646"/><stop offset="0.0227" stop-color="#8bd646"/><stop offset="0.0455" stop-color="#8bd646"/><stop offset="0.0682" stop-color="#8bd646"/><stop offset="0.0909" stop-color="#86d549"/><stop offset="0.1136" stop-color="#81d34d"/><stop offset="0.1364" stop-color="#7ad151"/><stop offset="0.1591" stop-color="#70cf57"/><stop offset="0.1818" stop-color="#63cb5f"/><stop offset="0.2045" stop-color="#54c568"/><stop offset="0.2273" stop-color="#3fbc73"/><stop offset="0.2500" stop-color="#28ae80"/><stop offset="0.2727" stop-color="#1e9d89"/><stop offset="0.2955" stop-color="#228b8d"/><stop offset="0.3182" stop-color="#2a788e"/><stop offset="0.3409" stop-color="#34608d"/><stop offset="0.3636" stop-color="#414487"/><stop offset="0.3864" stop-color="#482071"/><stop offset="0.4091" stop-color="#470d60"/><stop offset="0.4318" stop-color="#46085c"/><stop offset="0.4545" stop-color="#481c6e"/><stop offset="0.4773" stop-color="#423f85"/><stop offset="0.5000" stop-color="#355f8d"/><stop offset="0.5227" stop-color="#297a8e"/><stop offset="0.5455" stop-color="#1e9c89"/><stop offset="0.5682" stop-color="#42be71"/><stop offset="0.5909" stop-color="#93d741"/><stop offset="0.6136" stop-color="#bddf26"/><stop offset="0.6364" stop-color="#addc30"/><stop offset="0.6591" stop-color="#7cd250"/><stop offset="0.6818" stop-color="#3dbc74"/><stop offset="0.7045" stop-color="#2ab07f"/><stop offset="0.7273" stop-color="#25ac82"/><stop offset="0.7500" stop-color="#32b67a"/><stop offset="0.7727" stop-color="#4cc26c"/><stop offset="0.7955" stop-color="#77d153"/><stop offset="0.8182" stop-color="#9bd93c"/><stop offset="0.8409" stop-color="#77d153"/><stop offset="0.8636" stop-color="#35b779"/><stop offset="0.8864" stop-color="#1f9a8a"/><stop offset="0.9091" stop-color="#26818e"/><stop offset="0.9318" stop-color="#2e6e8e"/><stop offset="0.9545" stop-color="#32648e"/><stop offset="0.9773" stop-color="#33628d"/><stop offset="1.0000" stop-color="#34618d"/></linearGradient><linearGradient id="c72" x1="0" y1="0" x2="0" y2="1"><stop offset="0.0000" stop-color="#90d743"/><stop offset="0.0227" stop-color="#90d743"/><stop offset="0.0455" stop-color="#90d743"/><stop offset="0.0682" stop-color="#90d743"/><stop offset="0.0909" stop-color="#8bd646"/><stop offset="0.1136" stop-color="#86d549"/><stop offset="0.1364" stop-color="#7fd34e"/><stop offset="0.1591" stop-color="#75d054"/><stop offset="0.1818" stop-color="#69cd5b"/><stop offset="0.2045" stop-color="#5ac864"/><stop offset="0.2273" stop-color="#46c06f"/><stop offset="0.2500" stop-color="#2eb37c"/><stop offset="0.2727" stop-color="#1fa287"/><stop offset="0.2955" stop-color="#20928c"/><stop offset="0.3182" stop-color="#277f8e"/><stop offset="0.3409" stop-color="#31678e"/><stop offset="0.3636" stop-color="#3e4a89"/><stop offset="0.3864" stop-color="#482475"/><stop offset="0.4091" stop-color="#470e61"/><stop offset="0.4318" stop-color="#460a5d"/><stop offset="0.4545" stop-color="#482071"/><stop offset="0.4773" stop-color="#404588"/><stop offset="0.5000" stop-color="#31668e"/><stop offset="0.5227" stop-color="#26818e"/><stop offset="0.5455" stop-color="#20a386"/><stop offset="0.5682" stop-color="#50c46a"/><stop offset="0.5909" stop-color="#9dd93b"/><stop offset="0.6136" stop-color="#c5e021"/><stop offset="0.6364" stop-color="#b5de2b"/><stop offset="0.6591" stop-color="#86d549"/><stop offset="0.6818" stop-color="#4ac16d"/><stop offset="0.7045" stop-color="#34b679"/><stop offset="0.7273" stop-color="#2db27d"/><stop offset="0.7500" stop-color="#3aba76"/><stop offset="0.7727" stop-color="#56c667"/><stop offset="0.7955" stop-color="#81d34d"/><stop offset="0.8182" stop-color="#a2da37"/><stop offset="0.8409" stop-color="#86d549"/><stop offset="0.8636" stop-color="#42be71"/><stop offset="0.8864" stop-color="#1fa287"/><stop offset="0.9091" stop-color="#23888e"/><stop offset="0.9318" stop-color="#2b758e"/><stop offset="0.9545" stop-color="#2f6b8e"/><stop offset="0.9773" stop-color="#31688e"/><stop offset="1.0000" stop-color="#31678e"/></linearGradient><linearGradient id="c73" x1="0" y1="0" x2="0" y2="1"><stop offset="0.0000" stop-color="#8ed645"/><stop offset="0.0227" stop-color="#8ed645"/><stop offset="0.0455" stop-color="#8ed645"/><stop offset="0.0682" stop-color="#8ed645"/><stop offset="0.0909" stop-color="#89d548"/><stop offset="0.1136" stop-color="#84d44b"/><stop offset="0.1364" stop-color="#7cd250"/><stop offset="0.1591" stop-color="#73d056"/><stop offset="0.1818" stop-color="#67cc5c"/><stop offset="0.2045" stop-color="#58c765"/><stop offset="0.2273" stop-color="#44bf70"/><stop offset="0.2500" stop-color="#2db27d"/><stop offset="0.2727" stop-color="#1fa287"/><stop offset="0.2955" stop-color="#20928c"/><stop offset="0.3182" stop-color="#27808e"/><stop offset="0.3409" stop-color="#30698e"/><stop offset="0.3636" stop-color="#3d4d8a"/><stop offset="0.3864" stop-color="#482576"/><stop offset="0.4091" stop-color="#470e61"/><stop offset="0.4318" stop-color="#460b5e"/><stop offset="0.4545" stop-color="#482071"/><stop offset="0.4773" stop-color="#404688"/><stop offset="0.5000" stop-color="#31678e"/><stop offset="0.5227" stop-color="#26828e"/><stop offset="0.5455" stop-color="#21a585"/><stop offset="0.5682" stop-color="#54c568"/><stop offset="0.5909" stop-color="#a2da37"/><stop offset="0.6136" stop-color="#c5e021"/><stop offset="0.6364" stop-color="#b8de29"/><stop offset="0.6591" stop-color="#8bd646"/><stop offset="0.6818" stop-color="#4ec36b"/><stop offset="0.7045" stop-color="#37b878"/><stop offset="0.7273" stop-color="#2eb37c"/><stop offset="0.7500" stop-color="#3bbb75"/><stop offset="0.7727" stop-color="#56c667"/><stop offset="0.7955" stop-color="#81d34d"/><stop offset="0.8182" stop-color="#a5db36"/><stop offset="0.8409" stop-color="#8ed645"/><stop offset="0.8636" stop-color="#48c16e"/><stop offset="0.8864" stop-color="#21a585"/><stop offset="0.9091" stop-color="#238a8d"/><stop offset="0.9318" stop-color="#2a768e"/><stop offset="0.9545" stop-color="#2f6c8e"/><stop offset="0.9773" stop-color="#30698e"/><stop offset="1.0000" stop-color="#31688e"/></linearGradient><linearGradient id="c74" x1="0" y1="0" x2="0" y2="1"><stop offset="0.0000" stop-color="#93d741"/><stop offset="0.0227" stop-color="#93d741"/><stop offset="0.0455" stop-color="#93d741"/><stop offset="0.0682" stop-color="#93d741"/><stop offset="0.0909" stop-color="#8ed645"/><stop offset="0.1136" stop-color="#89d548"/><stop offset="0.1364" stop-color="#81d34d"/><stop offset="0.1591" stop-color="#7ad151"/><stop offset="0.1818" stop-color="#6ece58"/><stop offset="0.2045" stop-color="#5ec962"/><stop offset="0.2273" stop-color="#4cc26c"/><stop offset="0.2500" stop-color="#32b67a"/><stop offset="0.2727" stop-color="#21a685"/><stop offset="0.2955" stop-color="#1f978b"/><stop offset="0.3182" stop-color="#25858e"/><stop offset="0.3409" stop-color="#2d708e"/><stop offset="0.3636" stop-color="#3a538b"/><stop offset="0.3864" stop-color="#482979"/><stop offset="0.4091" stop-color="#471063"/><stop offset="0.4318" stop-color="#460b5e"/><stop offset="0.4545" stop-color="#482374"/><stop offset="0.4773" stop-color="#3e4c8a"/><stop offset="0.5000" stop-color="#2e6e8e"/><stop offset="0.5227" stop-color="#23898e"/><stop offset="0.5455" stop-color="#25ac82"/><stop offset="0.5682" stop-color="#60ca60"/><stop offset="0.5909" stop-color="#aadc32"/><stop offset="0.6136" stop-color="#cde11d"/><stop offset="0.6364" stop-color="#bddf26"/><stop offset="0.6591" stop-color="#95d840"/><stop offset="0.6818" stop-color="#5ac864"/><stop offset="0.7045" stop-color="#42be71"/><stop offset="0.7273" stop-color="#38b977"/><stop offset="0.7500" stop-color="#44bf70"/><stop offset="0.7727" stop-color="#5cc863"/><stop offset="0.7955" stop-color="#89d548"/><stop offset="0.8182" stop-color="#addc30"/><stop offset="0.8409" stop-color="#9bd93c"/><stop offset="0.8636" stop-color="#56c667"/><stop offset="0.8864" stop-color="#26ad81"/><stop offset="0.9091" stop-color="#20928c"/><stop offset="0.9318" stop-color="#287d8e"/><stop offset="0.9545" stop-color="#2c718e"/><stop offset="0.9773" stop-color="#2e6f8e"/><stop offset="1.0000" stop-color="#2e6e8e"/></linearGradient><linearGradient id="c75" x1="0" y1="0" x2="0" y2="1"><stop offset="0.0000" stop-color="#8bd646"/><stop offset="0.0227" stop-color="#8bd646"/><stop offset="0.0455" stop-color="#8bd646"/><stop offset="0.0682" stop-color="#89d548"/><stop offset="0.0909" stop-color="#86d549"/><stop offset="0.1136" stop-color="#7fd34e"/><stop offset="0.1364" stop-color="#77d153"/><stop offset="0.1591" stop-color="#6ece58"/><stop offset="0.1818" stop-color="#63cb5f"/><stop offset="0.2045" stop-color="#56c667"/><stop offset="0.2273" stop-color="#42be71"/><stop offset="0.2500" stop-color="#2cb17e"/><stop offset="0.2727" stop-color="#1fa287"/><stop offset="0.2955" stop-color="#20928c"/><stop offset="0.3182" stop-color="#26828e"/><stop offset="0.3409" stop-color="#2e6d8e"/><stop offset="0.3636" stop-color="#3b518b"/><stop offset="0.3864" stop-color="#482878"/><stop offset="0.4091" stop-color="#470e61"/><stop offset="0.4318" stop-color="#460b5e"/><stop offset="0.4545" stop-color="#482173"/><stop offset="0.4773" stop-color="#3e4989"/><stop offset="0.5000" stop-color="#2f6b8e"/><stop offset="0.5227" stop-color="#24868e"/><stop offset="0.5455" stop-color="#23a983"/><stop offset="0.5682" stop-color="#5ec962"/><stop offset="0.5909" stop-color="#a8db34"/><stop offset="0.6136" stop-color="#cae11f"/><stop offset="0.6364" stop-color="#bade28"/><stop offset="0.6591" stop-color="#93d741"/><stop offset="0.6818" stop-color="#56c667"/><stop offset="0.7045" stop-color="#3dbc74"/><stop offset="0.7273" stop-color="#34b679"/><stop offset="0.7500" stop-color="#3fbc73"/><stop offset="0.7727" stop-color="#56c667"/><stop offset="0.7955" stop-color="#81d34d"/><stop offset="0.8182" stop-color="#aadc32"/><stop offset="0.8409" stop-color="#9bd93c"/><stop offset="0.8636" stop-color="#54c568"/><stop offset="0.8864" stop-color="#25ac82"/><stop offset="0.9091" stop-color="#21908d"/><stop offset="0.9318" stop-color="#297a8e"/><stop offset="0.9545" stop-color="#2e6f8e"/><stop offset="0.9773" stop-color="#2f6c8e"/><stop offset="1.0000" stop-color="#2f6b8e"/></linearGradient><linearGradient id="c76" x1="0" y1="0" x2="0" y2="1"><stop offset="0.0000" stop-color="#7fd34e"/><stop offset="0.0227" stop-color="#7fd34e"/><stop offset="0.0455" stop-color="#7fd34e"/><stop offset="0.0682" stop-color="#7cd250"/><stop offset="0.0909" stop-color="#77d153"/><stop offset="0.1136" stop-color="#70cf57"/><stop offset="0.1364" stop-color="#69cd5b"/><stop offset="0.1591" stop-color="#60ca60"/><stop offset="0.1818" stop-color="#56c667"/><stop offset="0.2045" stop-color="#4ac16d"/><stop offset="0.2273" stop-color="#37b878"/><stop offset="0.2500" stop-color="#25ab82"/><stop offset="0.2727" stop-color="#1e9c89"/><stop offset="0.2955" stop-color="#228d8d"/><stop offset="0.3182" stop-color="#287d8e"/><stop offset="0.3409" stop-color="#30698e"/><stop offset="0.3636" stop-color="#3d4e8a"/><stop offset="0.3864" stop-color="#482576"/><stop offset="0.4091" stop-color="#470e61"/><stop offset="0.4318" stop-color="#460b5e"/><stop offset="0.4545" stop-color="#481f70"/><stop offset="0.4773" stop-color="#404588"/><stop offset="0.5000" stop-color="#31668e"/><stop offset="0.5227" stop-color="#26818e"/><stop offset="0.5455" stop-color="#20a486"/><stop offset="0.5682" stop-color="#56c667"/><stop offset="0.5909" stop-color="#a2da37"/><stop offset="0.6136" stop-color="#c8e020"/><stop offset="0.6364" stop-color="#b8de29"/><stop offset="0.6591" stop-color="#8bd646"/><stop offset="0.6818" stop-color="#50c46a"/><stop offset="0.7045" stop-color="#37b878"/><stop offset="0.7273" stop-color="#2db27d"/><stop offset="0.7500" stop-color="#37b878"/><stop offset="0.7727" stop-color="#4ac16d"/><stop offset="0.7955" stop-color="#77d153"/><stop offset="0.8182" stop-color="#a5db36"/><stop offset="0.8409" stop-color="#98d83e"/><stop offset="0.8636" stop-color="#50c46a"/><stop offset="0.8864" stop-color="#22a884"/><stop offset="0.9091" stop-color="#228b8d"/><stop offset="0.9318" stop-color="#2b758e"/><stop offset="0.9545" stop-color="#306a8e"/><stop offset="0.9773" stop-color="#31678e"/><stop offset="1.0000" stop-color="#31668e"/></linearGradient><linearGradient id="c77" x1="0" y1="0" x2="0" y2="1"><stop offset="0.0000" stop-color="#7ad151"/><stop offset="0.0227" stop-color="#7ad151"/><stop offset="0.0455" stop-color="#7ad151"/><stop offset="0.0682" stop-color="#77d153"/><stop offset="0.0909" stop-color="#73d056"/><stop offset="0.1136" stop-color="#6ccd5a"/><stop offset="0.1364" stop-color="#65cb5e"/><stop offset="0.1591" stop-color="#5cc863"/><stop offset="0.1818" stop-color="#52c569"/><stop offset="0.2045" stop-color="#44bf70"/><stop offset="0.2273" stop-color="#34b679"/><stop offset="0.2500" stop-color="#23a983"/><stop offset="0.2727" stop-color="#1f9a8a"/><stop offset="0.2955" stop-color="#228b8d"/><stop offset="0.3182" stop-color="#287c8e"/><stop offset="0.3409" stop-color="#30698e"/><stop offset="0.3636" stop-color="#3c4f8a"/><stop offset="0.3864" stop-color="#482677"/><stop offset="0.4091" stop-color="#470e61"/><stop offset="0.4318" stop-color="#460b5e"/><stop offset="0.4545" stop-color="#481d6f"/><stop offset="0.4773" stop-color="#404588"/><stop offset="0.5000" stop-color="#31668e"/><stop offset="0.5227" stop-color="#26818e"/><stop offset="0.5455" stop-color="#20a486"/><stop offset="0.5682" stop-color="#58c765"/><stop offset="0.5909" stop-color="#a5db36"/><stop offset="0.6136" stop-color="#c8e020"/><stop offset="0.6364" stop-color="#b8de29"/><stop offset="0.6591" stop-color="#8bd646"/><stop offset="0.6818" stop-color="#50c46a"/><stop offset="0.7045" stop-color="#37b878"/><stop offset="0.7273" stop-color="#2db27d"/><stop offset="0.7500" stop-color="#35b779"/><stop offset="0.7727" stop-color="#46c06f"/><stop offset="0.7955" stop-color="#73d056"/><stop offset="0.8182" stop-color="#a5db36"/><stop offset="0.8409" stop-color="#9bd93c"/><stop offset="0.8636" stop-color="#52c569"/><stop offset="0.8864" stop-color="#23a983"/><stop offset="0.9091" stop-color="#228b8d"/><stop offset="0.9318" stop-color="#2b758e"/><stop offset="0.9545" stop-color="#306a8e"/><stop offset="0.9773" stop-color="#31678e"/><stop offset="1.0000" stop-color="#32658e"/></linearGradient><linearGradient id="c78" x1="0" y1="0" x2="0" y2="1"><stop offset="0.0000" stop-color="#75d054"/><stop offset="0.0227" stop-color="#75d054"/><stop offset="0.0455" stop-color="#75d054"/><stop offset="0.0682" stop-color="#75d054"/><stop offset="0.0909" stop-color="#70cf57"/><stop offset="0.1136" stop-color="#67cc5c"/><stop offset="0.1364" stop-color="#60ca60"/><stop offset="0.1591" stop-color="#58c765"/><stop offset="0.1818" stop-color="#4ec36b"/><stop offset="0.2045" stop-color="#42be71"/><stop offset="0.2273" stop-color="#31b57b"/><stop offset="0.2500" stop-color="#22a884"/><stop offset="0.2727" stop-color="#1f998a"/><stop offset="0.2955" stop-color="#228b8d"/><stop offset="0.3182" stop-color="#297b8e"/><stop offset="0.3409" stop-color="#30698e"/><stop offset="0.3636" stop-color="#3d4e8a"/><stop offset="0.3864" stop-color="#482576"/><stop offset="0.4091" stop-color="#470d60"/><stop offset="0.4318" stop-color="#460b5e"/><stop offset="0.4545" stop-color="#481f70"/><stop offset="0.4773" stop-color="#404688"/><stop offset="0.5000" stop-color="#31678e"/><stop offset="0.5227" stop-color="#26828e"/><stop offset="0.5455" stop-color="#21a585"/><stop offset="0.5682" stop-color="#58c765"/><stop offset="0.5909" stop-color="#a5db36"/><stop offset="0.6136" stop-color="#cae11f"/><stop offset="0.6364" stop-color="#b8de29"/><stop offset="0.6591" stop-color="#8ed645"/><stop offset="0.6818" stop-color="#52c569"/><stop offset="0.7045" stop-color="#37b878"/><stop offset="0.7273" stop-color="#2db27d"/><stop offset="0.7500" stop-color="#35b779"/><stop offset="0.7727" stop-color="#46c06f"/><stop offset="0.7955" stop-color="#73d056"/><stop offset="0.8182" stop-color="#a2da37"/><stop offset="0.8409" stop-color="#9dd93b"/><stop offset="0.8636" stop-color="#56c667"/><stop offset="0.8864" stop-color="#25ac82"/><stop offset="0.9091" stop-color="#218e8d"/><stop offset="0.9318" stop-color="#2a778e"/><stop offset="0.9545" stop-color="#2f6b8e"/><stop offset="0.9773" stop-color="#31688e"/><stop offset="1.0000" stop-color="#31678e"/></linearGradient><linearGradient id="c79" x1="0" y1="0" x2="0" y2="1"><stop offset="0.0000" stop-color="#7fd34e"/><stop offset="0.0227" stop-color="#7fd34e"/><stop offset="0.0455" stop-color="#7fd34e"/><stop offset="0.0682" stop-color="#7fd34e"/><stop offset="0.0909" stop-color="#7ad151"/><stop offset="0.1136" stop-color="#73d056"/><stop offset="0.1364" stop-color="#6ccd5a"/><stop offset="0.1591" stop-color="#63cb5f"/><stop offset="0.1818" stop-color="#5ac864"/><stop offset="0.2045" stop-color="#4ec36b"/><stop offset="0.2273" stop-color="#3bbb75"/><stop offset="0.2500" stop-color="#28ae80"/><stop offset="0.2727" stop-color="#1fa188"/><stop offset="0.2955" stop-color="#20928c"/><stop offset="0.3182" stop-color="#25838e"/><stop offset="0.3409" stop-color="#2d708e"/><stop offset="0.3636" stop-color="#3a548c"/><stop offset="0.3864" stop-color="#482979"/><stop offset="0.4091" stop-color="#470e61"/><stop offset="0.4318" stop-color="#470e61"/><stop offset="0.4545" stop-color="#482475"/><stop offset="0.4773" stop-color="#3d4e8a"/><stop offset="0.5000" stop-color="#2e6f8e"/><stop offset="0.5227" stop-color="#23898e"/><stop offset="0.5455" stop-color="#26ad81"/><stop offset="0.5682" stop-color="#67cc5c"/><stop offset="0.5909" stop-color="#b0dd2f"/><stop offset="0.6136" stop-color="#d0e11c"/><stop offset="0.6364" stop-color="#c2df23"/><stop offset="0.6591" stop-color="#9bd93c"/><stop offset="0.6818" stop-color="#60ca60"/><stop offset="0.7045" stop-color="#44bf70"/><stop offset="0.7273" stop-color="#38b977"/><stop offset="0.7500" stop-color="#42be71"/><stop offset="0.7727" stop-color="#56c667"/><stop offset="0.7955" stop-color="#7fd34e"/><stop offset="0.8182" stop-color="#aadc32"/><stop offset="0.8409" stop-color="#aadc32"/><stop offset="0.8636" stop-color="#69cd5b"/><stop offset="0.8864" stop-color="#32b67a"/><stop offset="0.9091" stop-color="#1f998a"/><stop offset="0.9318" stop-color="#26828e"/><stop offset="0.9545" stop-color="#2b758e"/><stop offset="0.9773" stop-color="#2d718e"/><stop offset="1.0000" stop-color="#2d708e"/></linearGradient><linearGradient id="c80" x1="0" y1="0" x2="0" y2="1"><stop offset="0.0000" stop-color="#69cd5b"/><stop offset="0.0227" stop-color="#69cd5b"/><stop offset="0.0455" stop-color="#69cd5b"/><stop offset="0.0682" stop-color="#69cd5b"/><stop offset="0.0909" stop-color="#65cb5e"/><stop offset="0.1136" stop-color="#5cc863"/><stop offset="0.1364" stop-color="#56c667"/><stop offset="0.1591" stop-color="#4ec36b"/><stop offset="0.1818" stop-color="#44bf70"/><stop offset="0.2045" stop-color="#3aba76"/><stop offset="0.2273" stop-color="#2cb17e"/><stop offset="0.2500" stop-color="#20a486"/><stop offset="0.2727" stop-color="#1f968b"/><stop offset="0.2955" stop-color="#23888e"/><stop offset="0.3182" stop-color="#29798e"/><stop offset="0.3409" stop-color="#31668e"/><stop offset="0.3636" stop-color="#3e4a89"/><stop offset="0.3864" stop-color="#482374"/><stop offset="0.4091" stop-color="#470d60"/><stop offset="0.4318" stop-color="#460b5e"/><stop offset="0.4545" stop-color="#482071"/><stop offset="0.4773" stop-color="#404688"/><stop offset="0.5000" stop-color="#31668e"/><stop offset="0.5227" stop-color="#27808e"/><stop offset="0.5455" stop-color="#20a386"/><stop offset="0.5682" stop-color="#56c667"/><stop offset="0.5909" stop-color="#a2da37"/><stop offset="0.6136" stop-color="#cae11f"/><stop offset="0.6364" stop-color="#b8de29"/><stop offset="0.6591" stop-color="#8ed645"/><stop offset="0.6818" stop-color="#50c46a"/><stop offset="0.7045" stop-color="#35b779"/><stop offset="0.7273" stop-color="#2cb17e"/><stop offset="0.7500" stop-color="#32b67a"/><stop offset="0.7727" stop-color="#44bf70"/><stop offset="0.7955" stop-color="#6ccd5a"/><stop offset="0.8182" stop-color="#9bd93c"/><stop offset="0.8409" stop-color="#9dd93b"/><stop offset="0.8636" stop-color="#5cc863"/><stop offset="0.8864" stop-color="#29af7f"/><stop offset="0.9091" stop-color="#20928c"/><stop offset="0.9318" stop-color="#297a8e"/><stop offset="0.9545" stop-color="#2e6e8e"/><stop offset="0.9773" stop-color="#30698e"/><stop offset="1.0000" stop-color="#31688e"/></linearGradient><linearGradient id="c81" x1="0" y1="0" x2="0" y2="1"><stop offset="0.0000" stop-color="#67cc5c"/><stop offset="0.0227" stop-color="#65cb5e"/><stop offset="0.0455" stop-color="#65cb5e"/><stop offset="0.0682" stop-color="#65cb5e"/><stop offset="0.0909" stop-color="#60ca60"/><stop offset="0.1136" stop-color="#5ac864"/><stop offset="0.1364" stop-color="#52c569"/><stop offset="0.1591" stop-color="#4ac16d"/><stop offset="0.1818" stop-color="#40bd72"/><stop offset="0.2045" stop-color="#37b878"/><stop offset="0.2273" stop-color="#29af7f"/><stop offset="0.2500" stop-color="#20a386"/><stop offset="0.2727" stop-color="#1f958b"/><stop offset="0.2955" stop-color="#23888e"/><stop offset="0.3182" stop-color="#2a788e"/><stop offset="0.3409" stop-color="#32658e"/><stop offset="0.3636" stop-color="#3e4989"/><stop offset="0.3864" stop-color="#482173"/><stop offset="0.4091" stop-color="#460b5e"/><stop offset="0.4318" stop-color="#470d60"/><stop offset="0.4545" stop-color="#482173"/><stop offset="0.4773" stop-color="#3f4788"/><stop offset="0.5000" stop-color="#31678e"/><stop offset="0.5227" stop-color="#27808e"/><stop offset="0.5455" stop-color="#20a386"/><stop offset="0.5682" stop-color="#56c667"/><stop offset="0.5909" stop-color="#a2da37"/><stop offset="0.6136" stop-color="#cae11f"/><stop offset="0.6364" stop-color="#bade28"/><stop offset="0.6591" stop-color="#90d743"/><stop offset="0.6818" stop-color="#52c569"/><stop offset="0.7045" stop-color="#35b779"/><stop offset="0.7273" stop-color="#2cb17e"/><stop offset="0.7500" stop-color="#32b67a"/><stop offset="0.7727" stop-color="#44bf70"/><stop offset="0.7955" stop-color="#69cd5b"/><stop offset="0.8182" stop-color="#98d83e"/><stop offset="0.8409" stop-color="#9dd93b"/><stop offset="0.8636" stop-color="#63cb5f"/><stop offset="0.8864" stop-color="#2cb17e"/><stop offset="0.9091" stop-color="#1f948c"/><stop offset="0.9318" stop-color="#287d8e"/><stop offset="0.9545" stop-color="#2d708e"/><stop offset="0.9773" stop-color="#2f6b8e"/><stop offset="1.0000" stop-color="#30698e"/></linearGradient><linearGradient id="c82" x1="0" y1="0" x2="0" y2="1"><stop offset="0.0000" stop-color="#67cc5c"/><stop offset="0.0227" stop-color="#67cc5c"/><stop offset="0.0455" stop-color="#67cc5c"/><stop offset="0.0682" stop-color="#65cb5e"/><stop offset="0.0909" stop-color="#60ca60"/><stop offset="0.1136" stop-color="#5ac864"/><stop offset="0.1364" stop-color="#54c568"/><stop offset="0.1591" stop-color="#4cc26c"/><stop offset="0.1818" stop-color="#42be71"/><stop offset="0.2045" stop-color="#38b977"/><stop offset="0.2273" stop-color="#2ab07f"/><stop offset="0.2500" stop-color="#21a585"/><stop offset="0.2727" stop-color="#1f988b"/><stop offset="0.2955" stop-color="#228b8d"/><stop offset="0.3182" stop-color="#297b8e"/><stop offset="0.3409" stop-color="#31678e"/><stop offset="0.3636" stop-color="#3e4a89"/><stop offset="0.3864" stop-color="#482173"/><stop offset="0.4091" stop-color="#470d60"/><stop offset="0.4318" stop-color="#470d60"/><stop offset="0.4545" stop-color="#482475"/><stop offset="0.4773" stop-color="#3e4a89"/><stop offset="0.5000" stop-color="#306a8e"/><stop offset="0.5227" stop-color="#25838e"/><stop offset="0.5455" stop-color="#21a685"/><stop offset="0.5682" stop-color="#5ac864"/><stop offset="0.5909" stop-color="#a5db36"/><stop offset="0.6136" stop-color="#cde11d"/><stop offset="0.6364" stop-color="#bddf26"/><stop offset="0.6591" stop-color="#95d840"/><stop offset="0.6818" stop-color="#58c765"/><stop offset="0.7045" stop-color="#3aba76"/><stop offset="0.7273" stop-color="#2fb47c"/><stop offset="0.7500" stop-color="#37b878"/><stop offset="0.7727" stop-color="#48c16e"/><stop offset="0.7955" stop-color="#6ece58"/><stop offset="0.8182" stop-color="#9bd93c"/><stop offset="0.8409" stop-color="#a2da37"/><stop offset="0.8636" stop-color="#6ccd5a"/><stop offset="0.8864" stop-color="#34b679"/><stop offset="0.9091" stop-color="#1f9a8a"/><stop offset="0.9318" stop-color="#26828e"/><stop offset="0.9545" stop-color="#2b748e"/><stop offset="0.9773" stop-color="#2e6f8e"/><stop offset="1.0000" stop-color="#2e6e8e"/></linearGradient><linearGradient id="c83" x1="0" y1="0" x2="0" y2="1"><stop offset="0.0000" stop-color="#5ec962"/><stop offset="0.0227" stop-color="#5ec962"/><stop offset="0.0455" stop-color="#5ec962"/><stop offset="0.0682" stop-color="#5cc863"/><stop offset="0.0909" stop-color="#58c765"/><stop offset="0.1136" stop-color="#52c569"/><stop offset="0.1364" stop-color="#4cc26c"/><stop offset="0.1591" stop-color="#44bf70"/><stop offset="0.1818" stop-color="#3bbb75"/><stop offset="0.2045" stop-color="#32b67a"/><stop offset="0.2273" stop-color="#26ad81"/><stop offset="0.2500" stop-color="#1fa187"/><stop offset="0.2727" stop-color="#1f948c"/><stop offset="0.2955" stop-color="#24878e"/><stop offset="0.3182" stop-color="#2a778e"/><stop offset="0.3409" stop-color="#32648e"/><stop offset="0.3636" stop-color="#3f4788"/><stop offset="0.3864" stop-color="#481f70"/><stop offset="0.4091" stop-color="#460b5e"/><stop offset="0.4318" stop-color="#470d60"/><stop offset="0.4545" stop-color="#482475"/><stop offset="0.4773" stop-color="#3e4989"/><stop offset="0.5000" stop-color="#31678e"/><stop offset="0.5227" stop-color="#26818e"/><stop offset="0.5455" stop-color="#20a386"/><stop offset="0.5682" stop-color="#56c667"/><stop offset="0.5909" stop-color="#a2da37"/><stop offset="0.6136" stop-color="#cae11f"/><stop offset="0.6364" stop-color="#bddf26"/><stop offset="0.6591" stop-color="#93d741"/><stop offset="0.6818" stop-color="#54c568"/><stop offset="0.7045" stop-color="#37b878"/><stop offset="0.7273" stop-color="#2cb17e"/><stop offset="0.7500" stop-color="#34b679"/><stop offset="0.7727" stop-color="#44bf70"/><stop offset="0.7955" stop-color="#67cc5c"/><stop offset="0.8182" stop-color="#93d741"/><stop offset="0.8409" stop-color="#a0da39"/><stop offset="0.8636" stop-color="#6ccd5a"/><stop offset="0.8864" stop-color="#34b679"/><stop offset="0.9091" stop-color="#1f9a8a"/><stop offset="0.9318" stop-color="#26828e"/><stop offset="0.9545" stop-color="#2c738e"/><stop offset="0.9773" stop-color="#2e6e8e"/><stop offset="1.0000" stop-color="#2f6c8e"/></linearGradient><linearGradient id="c84" x1="0" y1="0" x2="0" y2="1"><stop offset="0.0000" stop-color="#5ac864"/><stop offset="0.0227" stop-color="#5ac864"/><stop offset="0.0455" stop-color="#58c765"/><stop offset="0.0682" stop-color="#58c765"/><stop offset="0.0909" stop-color="#54c568"/><stop offset="0.1136" stop-color="#4ec36b"/><stop offset="0.1364" stop-color="#46c06f"/><stop offset="0.1591" stop-color="#3fbc73"/><stop offset="0.1818" stop-color="#37b878"/><stop offset="0.2045" stop-color="#2eb37c"/><stop offset="0.2273" stop-color="#25ab82"/><stop offset="0.2500" stop-color="#1fa088"/><stop offset="0.2727" stop-color="#20938c"/><stop offset="0.2955" stop-color="#24868e"/><stop offset="0.3182" stop-color="#2a768e"/><stop offset="0.3409" stop-color="#33628d"/><stop offset="0.3636" stop-color="#404588"/><stop offset="0.3864" stop-color="#481d6f"/><stop offset="0.4091" stop-color="#460a5d"/><stop offset="0.4318" stop-color="#470e61"/><stop offset="0.4545" stop-color="#482576"/><stop offset="0.4773" stop-color="#3e4989"/><stop offset="0.5000" stop-color="#31678e"/><stop offset="0.5227" stop-color="#27808e"/><stop offset="0.5455" stop-color="#1fa287"/><stop offset="0.5682" stop-color="#54c568"/><stop offset="0.5909" stop-color="#a0da39"/><stop offset="0.6136" stop-color="#cae11f"/><stop offset="0.6364" stop-color="#bddf26"/><stop offset="0.6591" stop-color="#93d741"/><stop offset="0.6818" stop-color="#52c569"/><stop offset="0.7045" stop-color="#35b779"/><stop offset="0.7273" stop-color="#2ab07f"/><stop offset="0.7500" stop-color="#32b67a"/><stop offset="0.7727" stop-color="#42be71"/><stop offset="0.7955" stop-color="#65cb5e"/><stop offset="0.8182" stop-color="#8ed645"/><stop offset="0.8409" stop-color="#a0da39"/><stop offset="0.8636" stop-color="#6ece58"/><stop offset="0.8864" stop-color="#37b878"/><stop offset="0.9091" stop-color="#1e9c89"/><stop offset="0.9318" stop-color="#25848e"/><stop offset="0.9545" stop-color="#2b758e"/><stop offset="0.9773" stop-color="#2e6f8e"/><stop offset="1.0000" stop-color="#2e6d8e"/></linearGradient><linearGradient id="c85" x1="0" y1="0" x2="0" y2="1"><stop offset="0.0000" stop-color="#4ec36b"/><stop offset="0.0227" stop-color="#4ec36b"/><stop offset="0.0455" stop-color="#4cc26c"/><stop offset="0.0682" stop-color="#4cc26c"/><stop offset="0.0909" stop-color="#48c16e"/><stop offset="0.1136" stop-color="#42be71"/><stop offset="0.1364" stop-color="#3bbb75"/><stop offset="0.1591" stop-color="#35b779"/><stop offset="0.1818" stop-color="#2eb37c"/><stop offset="0.2045" stop-color="#26ad81"/><stop offset="0.2273" stop-color="#20a486"/><stop offset="0.2500" stop-color="#1f998a"/><stop offset="0.2727" stop-color="#218e8d"/><stop offset="0.2955" stop-color="#26818e"/><stop offset="0.3182" stop-color="#2d718e"/><stop offset="0.3409" stop-color="#365d8d"/><stop offset="0.3636" stop-color="#424086"/><stop offset="0.3864" stop-color="#481b6d"/><stop offset="0.4091" stop-color="#460a5d"/><stop offset="0.4318" stop-color="#470d60"/><stop offset="0.4545" stop-color="#482374"/><stop offset="0.4773" stop-color="#404688"/><stop offset="0.5000" stop-color="#33638d"/><stop offset="0.5227" stop-color="#297b8e"/><stop offset="0.5455" stop-color="#1f9e89"/><stop offset="0.5682" stop-color="#4cc26c"/><stop offset="0.5909" stop-color="#98d83e"/><stop offset="0.6136" stop-color="#c8e020"/><stop offset="0.6364" stop-color="#b8de29"/><stop offset="0.6591" stop-color="#8bd646"/><stop offset="0.6818" stop-color="#4ac16d"/><stop offset="0.7045" stop-color="#2eb37c"/><stop offset="0.7273" stop-color="#25ac82"/><stop offset="0.7500" stop-color="#2cb17e"/><stop offset="0.7727" stop-color="#3bbb75"/><stop offset="0.7955" stop-color="#5ac864"/><stop offset="0.8182" stop-color="#84d44b"/><stop offset="0.8409" stop-color="#9bd93c"/><stop offset="0.8636" stop-color="#6ccd5a"/><stop offset="0.8864" stop-color="#34b679"/><stop offset="0.9091" stop-color="#1f9a8a"/><stop offset="0.9318" stop-color="#26828e"/><stop offset="0.9545" stop-color="#2c718e"/><stop offset="0.9773" stop-color="#2f6c8e"/><stop offset="1.0000" stop-color="#30698e"/></linearGradient><linearGradient id="c86" x1="0" y1="0" x2="0" y2="1"><stop offset="0.0000" stop-color="#52c569"/><stop offset="0.0227" stop-color="#52c569"/><stop offset="0.0455" stop-color="#52c569"/><stop offset="0.0682" stop-color="#50c46a"/><stop offset="0.0909" stop-color="#4cc26c"/><stop offset="0.1136" stop-color="#46c06f"/><stop offset="0.1364" stop-color="#40bd72"/><stop offset="0.1591" stop-color="#3aba76"/><stop offset="0.1818" stop-color="#32b67a"/><stop offset="0.2045" stop-color="#2ab07f"/><stop offset="0.2273" stop-color="#22a884"/><stop offset="0.2500" stop-color="#1f9e89"/><stop offset="0.2727" stop-color="#20928c"/><stop offset="0.2955" stop-color="#25858e"/><stop offset="0.3182" stop-color="#2b758e"/><stop offset="0.3409" stop-color="#34618d"/><stop offset="0.3636" stop-color="#414287"/><stop offset="0.3864" stop-color="#481b6d"/><stop offset="0.4091" stop-color="#460a5d"/><stop offset="0.4318" stop-color="#470e61"/><stop offset="0.4545" stop-color="#482677"/><stop offset="0.4773" stop-color="#3e4a89"/><stop offset="0.5000" stop-color="#31688e"/><stop offset="0.5227" stop-color="#26818e"/><stop offset="0.5455" stop-color="#20a386"/><stop offset="0.5682" stop-color="#54c568"/><stop offset="0.5909" stop-color="#a0da39"/><stop offset="0.6136" stop-color="#cde11d"/><stop offset="0.6364" stop-color="#c0df25"/><stop offset="0.6591" stop-color="#95d840"/><stop offset="0.6818" stop-color="#54c568"/><stop offset="0.7045" stop-color="#37b878"/><stop offset="0.7273" stop-color="#2ab07f"/><stop offset="0.7500" stop-color="#32b67a"/><stop offset="0.7727" stop-color="#44bf70"/><stop offset="0.7955" stop-color="#63cb5f"/><stop offset="0.8182" stop-color="#89d548"/><stop offset="0.8409" stop-color="#a2da37"/><stop offset="0.8636" stop-color="#7ad151"/><stop offset="0.8864" stop-color="#3fbc73"/><stop offset="0.9091" stop-color="#1fa187"/><stop offset="0.9318" stop-color="#23898e"/><stop offset="0.9545" stop-color="#29798e"/><stop offset="0.9773" stop-color="#2c718e"/><stop offset="1.0000" stop-color="#2d708e"/></linearGradient><linearGradient id="c87" x1="0" y1="0" x2="0" y2="1"><stop offset="0.0000" stop-color="#4ac16d"/><stop offset="0.0227" stop-color="#4ac16d"/><stop offset="0.0455" stop-color="#4ac16d"/><stop offset="0.0682" stop-color="#48c16e"/><stop offset="0.0909" stop-color="#44bf70"/><stop offset="0.1136" stop-color="#3fbc73"/><stop offset="0.1364" stop-color="#3aba76"/><stop offset="0.1591" stop-color="#32b67a"/><stop offset="0.1818" stop-color="#2cb17e"/><stop offset="0.2045" stop-color="#25ac82"/><stop offset="0.2273" stop-color="#20a486"/><stop offset="0.2500" stop-color="#1f9a8a"/><stop offset="0.2727" stop-color="#218f8d"/><stop offset="0.2955" stop-color="#26828e"/><stop offset="0.3182" stop-color="#2c728e"/><stop offset="0.3409" stop-color="#355e8d"/><stop offset="0.3636" stop-color="#423f85"/><stop offset="0.3864" stop-color="#481a6c"/><stop offset="0.4091" stop-color="#46085c"/><stop offset="0.4318" stop-color="#470e61"/><stop offset="0.4545" stop-color="#482677"/><stop offset="0.4773" stop-color="#3e4989"/><stop offset="0.5000" stop-color="#31668e"/><stop offset="0.5227" stop-color="#277e8e"/><stop offset="0.5455" stop-color="#1fa188"/><stop offset="0.5682" stop-color="#4ec36b"/><stop offset="0.5909" stop-color="#9bd93c"/><stop offset="0.6136" stop-color="#cae11f"/><stop offset="0.6364" stop-color="#bddf26"/><stop offset="0.6591" stop-color="#93d741"/><stop offset="0.6818" stop-color="#50c46a"/><stop offset="0.7045" stop-color="#32b67a"/><stop offset="0.7273" stop-color="#27ad81"/><stop offset="0.7500" stop-color="#2fb47c"/><stop offset="0.7727" stop-color="#3fbc73"/><stop offset="0.7955" stop-color="#5cc863"/><stop offset="0.8182" stop-color="#84d44b"/><stop offset="0.8409" stop-color="#a0da39"/><stop offset="0.8636" stop-color="#7ad151"/><stop offset="0.8864" stop-color="#3fbc73"/><stop offset="0.9091" stop-color="#1fa287"/><stop offset="0.9318" stop-color="#23898e"/><stop offset="0.9545" stop-color="#2a788e"/><stop offset="0.9773" stop-color="#2d718e"/><stop offset="1.0000" stop-color="#2e6f8e"/></linearGradient><linearGradient id="c88" x1="0" y1="0" x2="0" y2="1"><stop offset="0.0000" stop-color="#56c667"/><stop offset="0.0227" stop-color="#54c568"/><stop offset="0.0455" stop-color="#54c568"/><stop offset="0.0682" stop-color="#52c569"/><stop offset="0.0909" stop-color="#50c46a"/><stop offset="0.1136" stop-color="#4ac16d"/><stop offset="0.1364" stop-color="#42be71"/><stop offset="0.1591" stop-color="#3bbb75"/><stop offset="0.1818" stop-color="#35b779"/><stop offset="0.2045" stop-color="#2db27d"/><stop offset="0.2273" stop-color="#24aa83"/><stop offset="0.2500" stop-color="#1fa188"/><stop offset="0.2727" stop-color="#1f968b"/><stop offset="0.2955" stop-color="#238a8d"/><stop offset="0.3182" stop-color="#29798e"/><stop offset="0.3409" stop-color="#32648e"/><stop offset="0.3636" stop-color="#414487"/><stop offset="0.3864" stop-color="#481b6d"/><stop offset="0.4091" stop-color="#460a5d"/><stop offset="0.4318" stop-color="#471164"/><stop offset="0.4545" stop-color="#472d7b"/><stop offset="0.4773" stop-color="#3b518b"/><stop offset="0.5000" stop-color="#2e6e8e"/><stop offset="0.5227" stop-color="#24868e"/><stop offset="0.5455" stop-color="#22a884"/><stop offset="0.5682" stop-color="#5cc863"/><stop offset="0.5909" stop-color="#a5db36"/><stop offset="0.6136" stop-color="#d2e21b"/><stop offset="0.6364" stop-color="#c8e020"/><stop offset="0.6591" stop-color="#a0da39"/><stop offset="0.6818" stop-color="#5ec962"/><stop offset="0.7045" stop-color="#3fbc73"/><stop offset="0.7273" stop-color="#31b57b"/><stop offset="0.7500" stop-color="#3aba76"/><stop offset="0.7727" stop-color="#4cc26c"/><stop offset="0.7955" stop-color="#67cc5c"/><stop offset="0.8182" stop-color="#8ed645"/><stop offset="0.8409" stop-color="#aadc32"/><stop offset="0.8636" stop-color="#8bd646"/><stop offset="0.8864" stop-color="#52c569"/><stop offset="0.9091" stop-color="#26ad81"/><stop offset="0.9318" stop-color="#20938c"/><stop offset="0.9545" stop-color="#26828e"/><stop offset="0.9773" stop-color="#297a8e"/><stop offset="1.0000" stop-color="#2a778e"/></linearGradient><linearGradient id="c89" x1="0" y1="0" x2="0" y2="1"><stop offset="0.0000" stop-color="#4cc26c"/><stop offset="0.0227" stop-color="#4cc26c"/><stop offset="0.0455" stop-color="#4cc26c"/><stop offset="0.0682" stop-color="#4ac16d"/><stop offset="0.0909" stop-color="#46c06f"/><stop offset="0.1136" stop-color="#40bd72"/><stop offset="0.1364" stop-color="#3bbb75"/><stop offset="0.1591" stop-color="#35b779"/><stop offset="0.1818" stop-color="#2eb37c"/><stop offset="0.2045" stop-color="#27ad81"/><stop offset="0.2273" stop-color="#21a685"/><stop offset="0.2500" stop-color="#1e9d89"/><stop offset="0.2727" stop-color="#20928c"/><stop offset="0.2955" stop-color="#24868e"/><stop offset="0.3182" stop-color="#2a768e"/><stop offset="0.3409" stop-color="#34608d"/><stop offset="0.3636" stop-color="#424086"/><stop offset="0.3864" stop-color="#48186a"/><stop offset="0.4091" stop-color="#46085c"/><stop offset="0.4318" stop-color="#471063"/><stop offset="0.4545" stop-color="#472c7a"/><stop offset="0.4773" stop-color="#3c4f8a"/><stop offset="0.5000" stop-color="#2f6b8e"/><stop offset="0.5227" stop-color="#25838e"/><stop offset="0.5455" stop-color="#21a585"/><stop offset="0.5682" stop-color="#56c667"/><stop offset="0.5909" stop-color="#a2da37"/><stop offset="0.6136" stop-color="#d0e11c"/><stop offset="0.6364" stop-color="#c5e021"/><stop offset="0.6591" stop-color="#9dd93b"/><stop offset="0.6818" stop-color="#5ac864"/><stop offset="0.7045" stop-color="#3aba76"/><stop offset="0.7273" stop-color="#2db27d"/><stop offset="0.7500" stop-color="#35b779"/><stop offset="0.7727" stop-color="#48c16e"/><stop offset="0.7955" stop-color="#60ca60"/><stop offset="0.8182" stop-color="#86d549"/><stop offset="0.8409" stop-color="#a8db34"/><stop offset="0.8636" stop-color="#8bd646"/><stop offset="0.8864" stop-color="#52c569"/><stop offset="0.9091" stop-color="#26ad81"/><stop offset="0.9318" stop-color="#20938c"/><stop offset="0.9545" stop-color="#26828e"/><stop offset="0.9773" stop-color="#2a788e"/><stop offset="1.0000" stop-color="#2b758e"/></linearGradient><linearGradient id="c90" x1="0" y1="0" x2="0" y2="1"><stop offset="0.0000" stop-color="#42be71"/><stop offset="0.0227" stop-color="#42be71"/><stop offset="0.0455" stop-color="#40bd72"/><stop offset="0.0682" stop-color="#40bd72"/><stop offset="0.0909" stop-color="#3dbc74"/><stop offset="0.1136" stop-color="#38b977"/><stop offset="0.1364" stop-color="#32b67a"/><stop offset="0.1591" stop-color="#2db27d"/><stop offset="0.1818" stop-color="#27ad81"/><stop offset="0.2045" stop-color="#22a884"/><stop offset="0.2273" stop-color="#1fa188"/><stop offset="0.2500" stop-color="#1f988b"/><stop offset="0.2727" stop-color="#218e8d"/><stop offset="0.2955" stop-color="#26828e"/><stop offset="0.3182" stop-color="#2c718e"/><stop offset="0.3409" stop-color="#365c8d"/><stop offset="0.3636" stop-color="#433d84"/><stop offset="0.3864" stop-color="#481668"/><stop offset="0.4091" stop-color="#46085c"/><stop offset="0.4318" stop-color="#471063"/><stop offset="0.4545" stop-color="#472c7a"/><stop offset="0.4773" stop-color="#3d4d8a"/><stop offset="0.5000" stop-color="#31688e"/><stop offset="0.5227" stop-color="#27808e"/><stop offset="0.5455" stop-color="#1fa187"/><stop offset="0.5682" stop-color="#50c46a"/><stop offset="0.5909" stop-color="#9bd93c"/><stop offset="0.6136" stop-color="#cde11d"/><stop offset="0.6364" stop-color="#c2df23"/><stop offset="0.6591" stop-color="#98d83e"/><stop offset="0.6818" stop-color="#54c568"/><stop offset="0.7045" stop-color="#35b779"/><stop offset="0.7273" stop-color="#28ae80"/><stop offset="0.7500" stop-color="#31b57b"/><stop offset="0.7727" stop-color="#40bd72"/><stop offset="0.7955" stop-color="#58c765"/><stop offset="0.8182" stop-color="#7cd250"/><stop offset="0.8409" stop-color="#a5db36"/><stop offset="0.8636" stop-color="#8bd646"/><stop offset="0.8864" stop-color="#50c46a"/><stop offset="0.9091" stop-color="#25ab82"/><stop offset="0.9318" stop-color="#20928c"/><stop offset="0.9545" stop-color="#27808e"/><stop offset="0.9773" stop-color="#2a768e"/><stop offset="1.0000" stop-color="#2c738e"/></linearGradient><linearGradient id="c91" x1="0" y1="0" x2="0" y2="1"><stop offset="0.0000" stop-color="#44bf70"/><stop offset="0.0227" stop-color="#44bf70"/><stop offset="0.0455" stop-color="#44bf70"/><stop offset="0.0682" stop-color="#42be71"/><stop offset="0.0909" stop-color="#3fbc73"/><stop offset="0.1136" stop-color="#3aba76"/><stop offset="0.1364" stop-color="#35b779"/><stop offset="0.1591" stop-color="#2eb37c"/><stop offset="0.1818" stop-color="#29af7f"/><stop offset="0.2045" stop-color="#24aa83"/><stop offset="0.2273" stop-color="#1fa287"/><stop offset="0.2500" stop-color="#1f9a8a"/><stop offset="0.2727" stop-color="#21918c"/><stop offset="0.2955" stop-color="#25858e"/><stop offset="0.3182" stop-color="#2b748e"/><stop offset="0.3409" stop-color="#355e8d"/><stop offset="0.3636" stop-color="#433d84"/><stop offset="0.3864" stop-color="#481668"/><stop offset="0.4091" stop-color="#46085c"/><stop offset="0.4318" stop-color="#471164"/><stop offset="0.4545" stop-color="#472e7c"/><stop offset="0.4773" stop-color="#3b518b"/><stop offset="0.5000" stop-color="#2f6c8e"/><stop offset="0.5227" stop-color="#26828e"/><stop offset="0.5455" stop-color="#20a486"/><stop offset="0.5682" stop-color="#56c667"/><stop offset="0.5909" stop-color="#a0da39"/><stop offset="0.6136" stop-color="#d2e21b"/><stop offset="0.6364" stop-color="#c8e020"/><stop offset="0.6591" stop-color="#9dd93b"/><stop offset="0.6818" stop-color="#5ac864"/><stop offset="0.7045" stop-color="#3aba76"/><stop offset="0.7273" stop-color="#2cb17e"/><stop offset="0.7500" stop-color="#35b779"/><stop offset="0.7727" stop-color="#46c06f"/><stop offset="0.7955" stop-color="#5ec962"/><stop offset="0.8182" stop-color="#7fd34e"/><stop offset="0.8409" stop-color="#aadc32"/><stop offset="0.8636" stop-color="#95d840"/><stop offset="0.8864" stop-color="#5ac864"/><stop offset="0.9091" stop-color="#2cb17e"/><stop offset="0.9318" stop-color="#1f978b"/><stop offset="0.9545" stop-color="#25848e"/><stop offset="0.9773" stop-color="#297b8e"/><stop offset="1.0000" stop-color="#2a788e"/></linearGradient><linearGradient id="c92" x1="0" y1="0" x2="0" y2="1"><stop offset="0.0000" stop-color="#38b977"/><stop offset="0.0227" stop-color="#38b977"/><stop offset="0.0455" stop-color="#38b977"/><stop offset="0.0682" stop-color="#37b878"/><stop offset="0.0909" stop-color="#34b679"/><stop offset="0.1136" stop-color="#2fb47c"/><stop offset="0.1364" stop-color="#2ab07f"/><stop offset="0.1591" stop-color="#26ad81"/><stop offset="0.1818" stop-color="#22a884"/><stop offset="0.2045" stop-color="#1fa287"/><stop offset="0.2273" stop-color="#1e9b8a"/><stop offset="0.2500" stop-color="#20938c"/><stop offset="0.2727" stop-color="#238a8d"/><stop offset="0.2955" stop-color="#277f8e"/><stop offset="0.3182" stop-color="#2e6f8e"/><stop offset="0.3409" stop-color="#38588c"/><stop offset="0.3636" stop-color="#453882"/><stop offset="0.3864" stop-color="#471365"/><stop offset="0.4091" stop-color="#46075a"/><stop offset="0.4318" stop-color="#471063"/><stop offset="0.4545" stop-color="#472c7a"/><stop offset="0.4773" stop-color="#3d4d8a"/><stop offset="0.5000" stop-color="#31678e"/><stop offset="0.5227" stop-color="#277e8e"/><stop offset="0.5455" stop-color="#1f9f88"/><stop offset="0.5682" stop-color="#4cc26c"/><stop offset="0.5909" stop-color="#98d83e"/><stop offset="0.6136" stop-color="#cde11d"/><stop offset="0.6364" stop-color="#c2df23"/><stop offset="0.6591" stop-color="#95d840"/><stop offset="0.6818" stop-color="#52c569"/><stop offset="0.7045" stop-color="#31b57b"/><stop offset="0.7273" stop-color="#26ad81"/><stop offset="0.7500" stop-color="#2db27d"/><stop offset="0.7727" stop-color="#3dbc74"/><stop offset="0.7955" stop-color="#52c569"/><stop offset="0.8182" stop-color="#73d056"/><stop offset="0.8409" stop-color="#a2da37"/><stop offset="0.8636" stop-color="#90d743"/><stop offset="0.8864" stop-color="#56c667"/><stop offset="0.9091" stop-color="#28ae80"/><stop offset="0.9318" stop-color="#1f948c"/><stop offset="0.9545" stop-color="#26818e"/><stop offset="0.9773" stop-color="#2a778e"/><stop offset="1.0000" stop-color="#2c738e"/></linearGradient><linearGradient id="c93" x1="0" y1="0" x2="0" y2="1"><stop offset="0.0000" stop-color="#40bd72"/><stop offset="0.0227" stop-color="#40bd72"/><stop offset="0.0455" stop-color="#40bd72"/><stop offset="0.0682" stop-color="#3fbc73"/><stop offset="0.0909" stop-color="#3bbb75"/><stop offset="0.1136" stop-color="#37b878"/><stop offset="0.1364" stop-color="#32b67a"/><stop offset="0.1591" stop-color="#2cb17e"/><stop offset="0.1818" stop-color="#27ad81"/><stop offset="0.2045" stop-color="#22a884"/><stop offset="0.2273" stop-color="#1fa188"/><stop offset="0.2500" stop-color="#1f998a"/><stop offset="0.2727" stop-color="#21918c"/><stop offset="0.2955" stop-color="#25858e"/><stop offset="0.3182" stop-color="#2b748e"/><stop offset="0.3409" stop-color="#355e8d"/><stop offset="0.3636" stop-color="#443b84"/><stop offset="0.3864" stop-color="#471365"/><stop offset="0.4091" stop-color="#46075a"/><stop offset="0.4318" stop-color="#471365"/><stop offset="0.4545" stop-color="#46327e"/><stop offset="0.4773" stop-color="#3a538b"/><stop offset="0.5000" stop-color="#2e6e8e"/><stop offset="0.5227" stop-color="#25848e"/><stop offset="0.5455" stop-color="#21a685"/><stop offset="0.5682" stop-color="#58c765"/><stop offset="0.5909" stop-color="#a2da37"/><stop offset="0.6136" stop-color="#d2e21b"/><stop offset="0.6364" stop-color="#cae11f"/><stop offset="0.6591" stop-color="#a2da37"/><stop offset="0.6818" stop-color="#5ec962"/><stop offset="0.7045" stop-color="#3bbb75"/><stop offset="0.7273" stop-color="#2eb37c"/><stop offset="0.7500" stop-color="#37b878"/><stop offset="0.7727" stop-color="#48c16e"/><stop offset="0.7955" stop-color="#5cc863"/><stop offset="0.8182" stop-color="#7cd250"/><stop offset="0.8409" stop-color="#addc30"/><stop offset="0.8636" stop-color="#a0da39"/><stop offset="0.8864" stop-color="#67cc5c"/><stop offset="0.9091" stop-color="#35b779"/><stop offset="0.9318" stop-color="#1f9e89"/><stop offset="0.9545" stop-color="#238a8d"/><stop offset="0.9773" stop-color="#277f8e"/><stop offset="1.0000" stop-color="#287c8e"/></linearGradient><linearGradient id="c94" x1="0" y1="0" x2="0" y2="1"><stop offset="0.0000" stop-color="#35b779"/><stop offset="0.0227" stop-color="#35b779"/><stop offset="0.0455" stop-color="#34b679"/><stop offset="0.0682" stop-color="#32b67a"/><stop offset="0.0909" stop-color="#31b57b"/><stop offset="0.1136" stop-color="#2db27d"/><stop offset="0.1364" stop-color="#28ae80"/><stop offset="0.1591" stop-color="#24aa83"/><stop offset="0.1818" stop-color="#21a685"/><stop offset="0.2045" stop-color="#1fa088"/><stop offset="0.2273" stop-color="#1f998a"/><stop offset="0.2500" stop-color="#20928c"/><stop offset="0.2727" stop-color="#238a8d"/><stop offset="0.2955" stop-color="#277f8e"/><stop offset="0.3182" stop-color="#2e6f8e"/><stop offset="0.3409" stop-color="#38588c"/><stop offset="0.3636" stop-color="#453581"/><stop offset="0.3864" stop-color="#471063"/><stop offset="0.4091" stop-color="#450559"/><stop offset="0.4318" stop-color="#471164"/><stop offset="0.4545" stop-color="#472f7d"/><stop offset="0.4773" stop-color="#3c4f8a"/><stop offset="0.5000" stop-color="#31688e"/><stop offset="0.5227" stop-color="#277f8e"/><stop offset="0.5455" stop-color="#1fa088"/><stop offset="0.5682" stop-color="#4cc26c"/><stop offset="0.5909" stop-color="#98d83e"/><stop offset="0.6136" stop-color="#d0e11c"/><stop offset="0.6364" stop-color="#c5e021"/><stop offset="0.6591" stop-color="#9bd93c"/><stop offset="0.6818" stop-color="#56c667"/><stop offset="0.7045" stop-color="#34b679"/><stop offset="0.7273" stop-color="#27ad81"/><stop offset="0.7500" stop-color="#2eb37c"/><stop offset="0.7727" stop-color="#3fbc73"/><stop offset="0.7955" stop-color="#52c569"/><stop offset="0.8182" stop-color="#70cf57"/><stop offset="0.8409" stop-color="#a5db36"/><stop offset="0.8636" stop-color="#9dd93b"/><stop offset="0.8864" stop-color="#63cb5f"/><stop offset="0.9091" stop-color="#31b57b"/><stop offset="0.9318" stop-color="#1f9a8a"/><stop offset="0.9545" stop-color="#25858e"/><stop offset="0.9773" stop-color="#297b8e"/><stop offset="1.0000" stop-color="#2a778e"/></linearGradient><linearGradient id="c95" x1="0" y1="0" x2="0" y2="1"><stop offset="0.0000" stop-color="#37b878"/><stop offset="0.0227" stop-color="#37b878"/><stop offset="0.0455" stop-color="#35b779"/><stop offset="0.0682" stop-color="#34b679"/><stop offset="0.0909" stop-color="#32b67a"/><stop offset="0.1136" stop-color="#2eb37c"/><stop offset="0.1364" stop-color="#29af7f"/><stop offset="0.1591" stop-color="#25ac82"/><stop offset="0.1818" stop-color="#22a785"/><stop offset="0.2045" stop-color="#1fa187"/><stop offset="0.2273" stop-color="#1e9b8a"/><stop offset="0.2500" stop-color="#20938c"/><stop offset="0.2727" stop-color="#228c8d"/><stop offset="0.2955" stop-color="#26818e"/><stop offset="0.3182" stop-color="#2d708e"/><stop offset="0.3409" stop-color="#38598c"/><stop offset="0.3636" stop-color="#453581"/><stop offset="0.3864" stop-color="#471063"/><stop offset="0.4091" stop-color="#450559"/><stop offset="0.4318" stop-color="#471365"/><stop offset="0.4545" stop-color="#46327e"/><stop offset="0.4773" stop-color="#3b528b"/><stop offset="0.5000" stop-color="#2f6c8e"/><stop offset="0.5227" stop-color="#26828e"/><stop offset="0.5455" stop-color="#1fa287"/><stop offset="0.5682" stop-color="#52c569"/><stop offset="0.5909" stop-color="#9dd93b"/><stop offset="0.6136" stop-color="#d2e21b"/><stop offset="0.6364" stop-color="#c8e020"/><stop offset="0.6591" stop-color="#a0da39"/><stop offset="0.6818" stop-color="#5ac864"/><stop offset="0.7045" stop-color="#38b977"/><stop offset="0.7273" stop-color="#29af7f"/><stop offset="0.7500" stop-color="#32b67a"/><stop offset="0.7727" stop-color="#42be71"/><stop offset="0.7955" stop-color="#54c568"/><stop offset="0.8182" stop-color="#73d056"/><stop offset="0.8409" stop-color="#aadc32"/><stop offset="0.8636" stop-color="#a5db36"/><stop offset="0.8864" stop-color="#6ccd5a"/><stop offset="0.9091" stop-color="#38b977"/><stop offset="0.9318" stop-color="#1fa088"/><stop offset="0.9545" stop-color="#238a8d"/><stop offset="0.9773" stop-color="#277f8e"/><stop offset="1.0000" stop-color="#297b8e"/></linearGradient><linearGradient id="c96" x1="0" y1="0" x2="0" y2="1"><stop offset="0.0000" stop-color="#27ad81"/><stop offset="0.0227" stop-color="#26ad81"/><stop offset="0.0455" stop-color="#26ad81"/><stop offset="0.0682" stop-color="#25ac82"/><stop offset="0.0909" stop-color="#24aa83"/><stop offset="0.1136" stop-color="#22a785"/><stop offset="0.1364" stop-color="#20a486"/><stop offset="0.1591" stop-color="#1fa088"/><stop offset="0.1818" stop-color="#1e9b8a"/><stop offset="0.2045" stop-color="#1f958b"/><stop offset="0.2273" stop-color="#218f8d"/><stop offset="0.2500" stop-color="#24878e"/><stop offset="0.2727" stop-color="#27808e"/><stop offset="0.2955" stop-color="#2b748e"/><stop offset="0.3182" stop-color="#32648e"/><stop offset="0.3409" stop-color="#3d4d8a"/><stop offset="0.3636" stop-color="#472d7b"/><stop offset="0.3864" stop-color="#460b5e"/><stop offset="0.4091" stop-color="#450559"/><stop offset="0.4318" stop-color="#471063"/><stop offset="0.4545" stop-color="#472c7a"/><stop offset="0.4773" stop-color="#3e4989"/><stop offset="0.5000" stop-color="#33628d"/><stop offset="0.5227" stop-color="#29798e"/><stop offset="0.5455" stop-color="#1f998a"/><stop offset="0.5682" stop-color="#40bd72"/><stop offset="0.5909" stop-color="#8ed645"/><stop offset="0.6136" stop-color="#c8e020"/><stop offset="0.6364" stop-color="#c0df25"/><stop offset="0.6591" stop-color="#90d743"/><stop offset="0.6818" stop-color="#48c16e"/><stop offset="0.7045" stop-color="#2ab07f"/><stop offset="0.7273" stop-color="#21a685"/><stop offset="0.7500" stop-color="#25ac82"/><stop offset="0.7727" stop-color="#31b57b"/><stop offset="0.7955" stop-color="#40bd72"/><stop offset="0.8182" stop-color="#5ec962"/><stop offset="0.8409" stop-color="#98d83e"/><stop offset="0.8636" stop-color="#95d840"/><stop offset="0.8864" stop-color="#5ec962"/><stop offset="0.9091" stop-color="#2db27d"/><stop offset="0.9318" stop-color="#1f978b"/><stop offset="0.9545" stop-color="#26828e"/><stop offset="0.9773" stop-color="#2a768e"/><stop offset="1.0000" stop-color="#2c728e"/></linearGradient><linearGradient id="c97" x1="0" y1="0" x2="0" y2="1"><stop offset="0.0000" stop-color="#2eb37c"/><stop offset="0.0227" stop-color="#2eb37c"/><stop offset="0.0455" stop-color="#2db27d"/><stop offset="0.0682" stop-color="#2cb17e"/><stop offset="0.0909" stop-color="#2ab07f"/><stop offset="0.1136" stop-color="#27ad81"/><stop offset="0.1364" stop-color="#25ab82"/><stop offset="0.1591" stop-color="#22a785"/><stop offset="0.1818" stop-color="#1fa287"/><stop offset="0.2045" stop-color="#1e9d89"/><stop offset="0.2273" stop-color="#1f968b"/><stop offset="0.2500" stop-color="#218f8d"/><stop offset="0.2727" stop-color="#24868e"/><stop offset="0.2955" stop-color="#297b8e"/><stop offset="0.3182" stop-color="#306a8e"/><stop offset="0.3409" stop-color="#3b518b"/><stop offset="0.3636" stop-color="#472f7d"/><stop offset="0.3864" stop-color="#470d60"/><stop offset="0.4091" stop-color="#46075a"/><stop offset="0.4318" stop-color="#471365"/><stop offset="0.4545" stop-color="#46327e"/><stop offset="0.4773" stop-color="#3b518b"/><stop offset="0.5000" stop-color="#2f6c8e"/><stop offset="0.5227" stop-color="#26828e"/><stop offset="0.5455" stop-color="#1fa287"/><stop offset="0.5682" stop-color="#52c569"/><stop offset="0.5909" stop-color="#9bd93c"/><stop offset="0.6136" stop-color="#cde11d"/><stop offset="0.6364" stop-color="#c8e020"/><stop offset="0.6591" stop-color="#9dd93b"/><stop offset="0.6818" stop-color="#56c667"/><stop offset="0.7045" stop-color="#35b779"/><stop offset="0.7273" stop-color="#28ae80"/><stop offset="0.7500" stop-color="#2eb37c"/><stop offset="0.7727" stop-color="#3dbc74"/><stop offset="0.7955" stop-color="#4ec36b"/><stop offset="0.8182" stop-color="#6ccd5a"/><stop offset="0.8409" stop-color="#a0da39"/><stop offset="0.8636" stop-color="#a2da37"/><stop offset="0.8864" stop-color="#70cf57"/><stop offset="0.9091" stop-color="#3dbc74"/><stop offset="0.9318" stop-color="#1fa187"/><stop offset="0.9545" stop-color="#228c8d"/><stop offset="0.9773" stop-color="#26818e"/><stop offset="1.0000" stop-color="#287c8e"/></linearGradient><linearGradient id="c98" x1="0" y1="0" x2="0" y2="1"><stop offset="0.0000" stop-color="#22a785"/><stop offset="0.0227" stop-color="#22a785"/><stop offset="0.0455" stop-color="#21a685"/><stop offset="0.0682" stop-color="#21a585"/><stop offset="0.0909" stop-color="#20a386"/><stop offset="0.1136" stop-color="#1fa187"/><stop offset="0.1364" stop-color="#1f9e89"/><stop offset="0.1591" stop-color="#1f9a8a"/><stop offset="0.1818" stop-color="#1f958b"/><stop offset="0.2045" stop-color="#21908d"/><stop offset="0.2273" stop-color="#23898e"/><stop offset="0.2500" stop-color="#26828e"/><stop offset="0.2727" stop-color="#29798e"/><stop offset="0.2955" stop-color="#2e6e8e"/><stop offset="0.3182" stop-color="#365c8d"/><stop offset="0.3409" stop-color="#404588"/><stop offset="0.3636" stop-color="#482677"/><stop offset="0.3864" stop-color="#460a5d"/><stop offset="0.4091" stop-color="#450559"/><stop offset="0.4318" stop-color="#471063"/><stop offset="0.4545" stop-color="#472a7a"/><stop offset="0.4773" stop-color="#3f4889"/><stop offset="0.5000" stop-color="#34618d"/><stop offset="0.5227" stop-color="#2a788e"/><stop offset="0.5455" stop-color="#1f988b"/><stop offset="0.5682" stop-color="#3fbc73"/><stop offset="0.5909" stop-color="#8bd646"/><stop offset="0.6136" stop-color="#c2df23"/><stop offset="0.6364" stop-color="#bddf26"/><stop offset="0.6591" stop-color="#8ed645"/><stop offset="0.6818" stop-color="#42be71"/><stop offset="0.7045" stop-color="#27ad81"/><stop offset="0.7273" stop-color="#20a386"/><stop offset="0.7500" stop-color="#22a884"/><stop offset="0.7727" stop-color="#2cb17e"/><stop offset="0.7955" stop-color="#3aba76"/><stop offset="0.8182" stop-color="#56c667"/><stop offset="0.8409" stop-color="#8bd646"/><stop offset="0.8636" stop-color="#90d743"/><stop offset="0.8864" stop-color="#60ca60"/><stop offset="0.9091" stop-color="#2fb47c"/><stop offset="0.9318" stop-color="#1f988b"/><stop offset="0.9545" stop-color="#26828e"/><stop offset="0.9773" stop-color="#2a768e"/><stop offset="1.0000" stop-color="#2c728e"/></linearGradient><linearGradient id="c99" x1="0" y1="0" x2="0" y2="1"><stop offset="0.0000" stop-color="#1fa287"/><stop offset="0.0227" stop-color="#1fa287"/><stop offset="0.0455" stop-color="#1fa187"/><stop offset="0.0682" stop-color="#1fa188"/><stop offset="0.0909" stop-color="#1fa088"/><stop offset="0.1136" stop-color="#1f9e89"/><stop offset="0.1364" stop-color="#1f9a8a"/><stop offset="0.1591" stop-color="#1f968b"/><stop offset="0.1818" stop-color="#20928c"/><stop offset="0.2045" stop-color="#228c8d"/><stop offset="0.2273" stop-color="#25858e"/><stop offset="0.2500" stop-color="#277e8e"/><stop offset="0.2727" stop-color="#2b748e"/><stop offset="0.2955" stop-color="#306a8e"/><stop offset="0.3182" stop-color="#38588c"/><stop offset="0.3409" stop-color="#424086"/><stop offset="0.3636" stop-color="#482374"/><stop offset="0.3864" stop-color="#46085c"/><stop offset="0.4091" stop-color="#450559"/><stop offset="0.4318" stop-color="#471063"/><stop offset="0.4545" stop-color="#472a7a"/><stop offset="0.4773" stop-color="#404688"/><stop offset="0.5000" stop-color="#34608d"/><stop offset="0.5227" stop-color="#2a778e"/><stop offset="0.5455" stop-color="#1f968b"/><stop offset="0.5682" stop-color="#3dbc74"/><stop offset="0.5909" stop-color="#89d548"/><stop offset="0.6136" stop-color="#c0df25"/><stop offset="0.6364" stop-color="#bade28"/><stop offset="0.6591" stop-color="#89d548"/><stop offset="0.6818" stop-color="#3fbc73"/><stop offset="0.7045" stop-color="#25ac82"/><stop offset="0.7273" stop-color="#1fa187"/><stop offset="0.7500" stop-color="#21a585"/><stop offset="0.7727" stop-color="#27ad81"/><stop offset="0.7955" stop-color="#35b779"/><stop offset="0.8182" stop-color="#50c46a"/><stop offset="0.8409" stop-color="#86d549"/><stop offset="0.8636" stop-color="#8ed645"/><stop offset="0.8864" stop-color="#60ca60"/><stop offset="0.9091" stop-color="#31b57b"/><stop offset="0.9318" stop-color="#1f988b"/><stop offset="0.9545" stop-color="#26828e"/><stop offset="0.9773" stop-color="#2b758e"/><stop offset="1.0000" stop-color="#2d718e"/></linearGradient><linearGradient id="c100" x1="0" y1="0" x2="0" y2="1"><stop offset="0.0000" stop-color="#24aa83"/><stop offset="0.0227" stop-color="#24aa83"/><stop offset="0.0455" stop-color="#23a983"/><stop offset="0.0682" stop-color="#22a884"/><stop offset="0.0909" stop-color="#22a785"/><stop offset="0.1136" stop-color="#20a486"/><stop offset="0.1364" stop-color="#1fa187"/><stop offset="0.1591" stop-color="#1f9e89"/><stop offset="0.1818" stop-color="#1f9a8a"/><stop offset="0.2045" stop-color="#1f948c"/><stop offset="0.2273" stop-color="#218e8d"/><stop offset="0.2500" stop-color="#25858e"/><stop offset="0.2727" stop-color="#287c8e"/><stop offset="0.2955" stop-color="#2d718e"/><stop offset="0.3182" stop-color="#355e8d"/><stop offset="0.3409" stop-color="#404588"/><stop offset="0.3636" stop-color="#482576"/><stop offset="0.3864" stop-color="#46085c"/><stop offset="0.4091" stop-color="#46075a"/><stop offset="0.4318" stop-color="#481467"/><stop offset="0.4545" stop-color="#46307e"/><stop offset="0.4773" stop-color="#3c4f8a"/><stop offset="0.5000" stop-color="#306a8e"/><stop offset="0.5227" stop-color="#26828e"/><stop offset="0.5455" stop-color="#1fa188"/><stop offset="0.5682" stop-color="#4ec36b"/><stop offset="0.5909" stop-color="#98d83e"/><stop offset="0.6136" stop-color="#c5e021"/><stop offset="0.6364" stop-color="#c2df23"/><stop offset="0.6591" stop-color="#98d83e"/><stop offset="0.6818" stop-color="#4ec36b"/><stop offset="0.7045" stop-color="#2fb47c"/><stop offset="0.7273" stop-color="#25ab82"/><stop offset="0.7500" stop-color="#26ad81"/><stop offset="0.7727" stop-color="#31b57b"/><stop offset="0.7955" stop-color="#42be71"/><stop offset="0.8182" stop-color="#5ec962"/><stop offset="0.8409" stop-color="#90d743"/><stop offset="0.8636" stop-color="#9bd93c"/><stop offset="0.8864" stop-color="#73d056"/><stop offset="0.9091" stop-color="#40bd72"/><stop offset="0.9318" stop-color="#20a386"/><stop offset="0.9545" stop-color="#228d8d"/><stop offset="0.9773" stop-color="#26818e"/><stop offset="1.0000" stop-color="#287c8e"/></linearGradient><linearGradient id="c101" x1="0" y1="0" x2="0" y2="1"><stop offset="0.0000" stop-color="#20a486"/><stop offset="0.0227" stop-color="#20a486"/><stop offset="0.0455" stop-color="#20a386"/><stop offset="0.0682" stop-color="#1fa287"/><stop offset="0.0909" stop-color="#1fa187"/><stop offset="0.1136" stop-color="#1fa088"/><stop offset="0.1364" stop-color="#1e9d89"/><stop offset="0.1591" stop-color="#1f998a"/><stop offset="0.1818" stop-color="#1f948c"/><stop offset="0.2045" stop-color="#21908d"/><stop offset="0.2273" stop-color="#23888e"/><stop offset="0.2500" stop-color="#27808e"/><stop offset="0.2727" stop-color="#2a778e"/><stop offset="0.2955" stop-color="#2f6b8e"/><stop offset="0.3182" stop-color="#38598c"/><stop offset="0.3409" stop-color="#423f85"/><stop offset="0.3636" stop-color="#482173"/><stop offset="0.3864" stop-color="#46075a"/><stop offset="0.4091" stop-color="#46075a"/><stop offset="0.4318" stop-color="#481467"/><stop offset="0.4545" stop-color="#472e7c"/><stop offset="0.4773" stop-color="#3e4c8a"/><stop offset="0.5000" stop-color="#31678e"/><stop offset="0.5227" stop-color="#27808e"/><stop offset="0.5455" stop-color="#1f9e89"/><stop offset="0.5682" stop-color="#4ac16d"/><stop offset="0.5909" stop-color="#93d741"/><stop offset="0.6136" stop-color="#c0df25"/><stop offset="0.6364" stop-color="#c0df25"/><stop offset="0.6591" stop-color="#93d741"/><stop offset="0.6818" stop-color="#48c16e"/><stop offset="0.7045" stop-color="#2cb17e"/><stop offset="0.7273" stop-color="#22a785"/><stop offset="0.7500" stop-color="#23a983"/><stop offset="0.7727" stop-color="#2cb17e"/><stop offset="0.7955" stop-color="#3bbb75"/><stop offset="0.8182" stop-color="#56c667"/><stop offset="0.8409" stop-color="#86d549"/><stop offset="0.8636" stop-color="#95d840"/><stop offset="0.8864" stop-color="#70cf57"/><stop offset="0.9091" stop-color="#3fbc73"/><stop offset="0.9318" stop-color="#1fa287"/><stop offset="0.9545" stop-color="#228b8d"/><stop offset="0.9773" stop-color="#277f8e"/><stop offset="1.0000" stop-color="#29798e"/></linearGradient><linearGradient id="c102" x1="0" y1="0" x2="0" y2="1"><stop offset="0.0000" stop-color="#22a884"/><stop offset="0.0227" stop-color="#22a884"/><stop offset="0.0455" stop-color="#22a785"/><stop offset="0.0682" stop-color="#21a685"/><stop offset="0.0909" stop-color="#21a585"/><stop offset="0.1136" stop-color="#20a386"/><stop offset="0.1364" stop-color="#1fa188"/><stop offset="0.1591" stop-color="#1f9e89"/><stop offset="0.1818" stop-color="#1f998a"/><stop offset="0.2045" stop-color="#20938c"/><stop offset="0.2273" stop-color="#228d8d"/><stop offset="0.2500" stop-color="#25848e"/><stop offset="0.2727" stop-color="#297b8e"/><stop offset="0.2955" stop-color="#2e6f8e"/><stop offset="0.3182" stop-color="#375b8d"/><stop offset="0.3409" stop-color="#424186"/><stop offset="0.3636" stop-color="#482173"/><stop offset="0.3864" stop-color="#46075a"/><stop offset="0.4091" stop-color="#46075a"/><stop offset="0.4318" stop-color="#481668"/><stop offset="0.4545" stop-color="#46337f"/><stop offset="0.4773" stop-color="#3b518b"/><stop offset="0.5000" stop-color="#2e6e8e"/><stop offset="0.5227" stop-color="#24868e"/><stop offset="0.5455" stop-color="#20a486"/><stop offset="0.5682" stop-color="#54c568"/><stop offset="0.5909" stop-color="#9dd93b"/><stop offset="0.6136" stop-color="#c5e021"/><stop offset="0.6364" stop-color="#c5e021"/><stop offset="0.6591" stop-color="#9bd93c"/><stop offset="0.6818" stop-color="#50c46a"/><stop offset="0.7045" stop-color="#34b679"/><stop offset="0.7273" stop-color="#26ad81"/><stop offset="0.7500" stop-color="#27ad81"/><stop offset="0.7727" stop-color="#31b57b"/><stop offset="0.7955" stop-color="#42be71"/><stop offset="0.8182" stop-color="#5cc863"/><stop offset="0.8409" stop-color="#8bd646"/><stop offset="0.8636" stop-color="#9dd93b"/><stop offset="0.8864" stop-color="#7fd34e"/><stop offset="0.9091" stop-color="#4ec36b"/><stop offset="0.9318" stop-color="#24aa83"/><stop offset="0.9545" stop-color="#20928c"/><stop offset="0.9773" stop-color="#25858e"/><stop offset="1.0000" stop-color="#27808e"/></linearGradient><linearGradient id="c103" x1="0" y1="0" x2="0" y2="1"><stop offset="0.0000" stop-color="#2cb17e"/><stop offset="0.0227" stop-color="#2cb17e"/><stop offset="0.0455" stop-color="#2ab07f"/><stop offset="0.0682" stop-color="#29af7f"/><stop offset="0.0909" stop-color="#28ae80"/><stop offset="0.1136" stop-color="#26ad81"/><stop offset="0.1364" stop-color="#25ab82"/><stop offset="0.1591" stop-color="#22a884"/><stop offset="0.1818" stop-color="#20a386"/><stop offset="0.2045" stop-color="#1f9e89"/><stop offset="0.2273" stop-color="#1f978b"/><stop offset="0.2500" stop-color="#218e8d"/><stop offset="0.2727" stop-color="#25848e"/><stop offset="0.2955" stop-color="#2a778e"/><stop offset="0.3182" stop-color="#33638d"/><stop offset="0.3409" stop-color="#404688"/><stop offset="0.3636" stop-color="#482475"/><stop offset="0.3864" stop-color="#46075a"/><stop offset="0.4091" stop-color="#460a5d"/><stop offset="0.4318" stop-color="#481b6d"/><stop offset="0.4545" stop-color="#443a83"/><stop offset="0.4773" stop-color="#365c8d"/><stop offset="0.5000" stop-color="#29798e"/><stop offset="0.5227" stop-color="#20938c"/><stop offset="0.5455" stop-color="#2ab07f"/><stop offset="0.5682" stop-color="#6ccd5a"/><stop offset="0.5909" stop-color="#addc30"/><stop offset="0.6136" stop-color="#cde11d"/><stop offset="0.6364" stop-color="#d0e11c"/><stop offset="0.6591" stop-color="#aadc32"/><stop offset="0.6818" stop-color="#65cb5e"/><stop offset="0.7045" stop-color="#46c06f"/><stop offset="0.7273" stop-color="#35b779"/><stop offset="0.7500" stop-color="#35b779"/><stop offset="0.7727" stop-color="#42be71"/><stop offset="0.7955" stop-color="#56c667"/><stop offset="0.8182" stop-color="#70cf57"/><stop offset="0.8409" stop-color="#9bd93c"/><stop offset="0.8636" stop-color="#addc30"/><stop offset="0.8864" stop-color="#95d840"/><stop offset="0.9091" stop-color="#67cc5c"/><stop offset="0.9318" stop-color="#34b679"/><stop offset="0.9545" stop-color="#1fa088"/><stop offset="0.9773" stop-color="#20928c"/><stop offset="1.0000" stop-color="#228d8d"/></linearGradient><linearGradient id="c104" x1="0" y1="0" x2="0" y2="1"><stop offset="0.0000" stop-color="#1f9f88"/><stop offset="0.0227" stop-color="#1f9e89"/><stop offset="0.0455" stop-color="#1f9e89"/><stop offset="0.0682" stop-color="#1e9d89"/><stop offset="0.0909" stop-color="#1e9c89"/><stop offset="0.1136" stop-color="#1f9a8a"/><stop offset="0.1364" stop-color="#1f978b"/><stop offset="0.1591" stop-color="#1f948c"/><stop offset="0.1818" stop-color="#21908d"/><stop offset="0.2045" stop-color="#228b8d"/><stop offset="0.2273" stop-color="#25838e"/><stop offset="0.2500" stop-color="#297a8e"/><stop offset="0.2727" stop-color="#2d718e"/><stop offset="0.2955" stop-color="#32648e"/><stop offset="0.3182" stop-color="#3c508b"/><stop offset="0.3409" stop-color="#453781"/><stop offset="0.3636" stop-color="#481a6c"/><stop offset="0.3864" stop-color="#450457"/><stop offset="0.4091" stop-color="#46075a"/><stop offset="0.4318" stop-color="#481668"/><stop offset="0.4545" stop-color="#472f7d"/><stop offset="0.4773" stop-color="#3d4d8a"/><stop offset="0.5000" stop-color="#30698e"/><stop offset="0.5227" stop-color="#26828e"/><stop offset="0.5455" stop-color="#1fa088"/><stop offset="0.5682" stop-color="#4cc26c"/><stop offset="0.5909" stop-color="#95d840"/><stop offset="0.6136" stop-color="#bade28"/><stop offset="0.6364" stop-color="#bddf26"/><stop offset="0.6591" stop-color="#93d741"/><stop offset="0.6818" stop-color="#46c06f"/><stop offset="0.7045" stop-color="#2cb17e"/><stop offset="0.7273" stop-color="#22a785"/><stop offset="0.7500" stop-color="#21a685"/><stop offset="0.7727" stop-color="#27ad81"/><stop offset="0.7955" stop-color="#35b779"/><stop offset="0.8182" stop-color="#4ec36b"/><stop offset="0.8409" stop-color="#7ad151"/><stop offset="0.8636" stop-color="#93d741"/><stop offset="0.8864" stop-color="#7ad151"/><stop offset="0.9091" stop-color="#4cc26c"/><stop offset="0.9318" stop-color="#22a884"/><stop offset="0.9545" stop-color="#21908d"/><stop offset="0.9773" stop-color="#26828e"/><stop offset="1.0000" stop-color="#287c8e"/></linearGradient><linearGradient id="c105" x1="0" y1="0" x2="0" y2="1"><stop offset="0.0000" stop-color="#1f9e89"/><stop offset="0.0227" stop-color="#1e9d89"/><stop offset="0.0455" stop-color="#1e9d89"/><stop offset="0.0682" stop-color="#1e9c89"/><stop offset="0.0909" stop-color="#1e9b8a"/><stop offset="0.1136" stop-color="#1f998a"/><stop offset="0.1364" stop-color="#1f978b"/><stop offset="0.1591" stop-color="#20938c"/><stop offset="0.1818" stop-color="#21908d"/><stop offset="0.2045" stop-color="#238a8d"/><stop offset="0.2273" stop-color="#25838e"/><stop offset="0.2500" stop-color="#297a8e"/><stop offset="0.2727" stop-color="#2d708e"/><stop offset="0.2955" stop-color="#33638d"/><stop offset="0.3182" stop-color="#3c4f8a"/><stop offset="0.3409" stop-color="#463480"/><stop offset="0.3636" stop-color="#481769"/><stop offset="0.3864" stop-color="#440256"/><stop offset="0.4091" stop-color="#46085c"/><stop offset="0.4318" stop-color="#481769"/><stop offset="0.4545" stop-color="#46307e"/><stop offset="0.4773" stop-color="#3d4e8a"/><stop offset="0.5000" stop-color="#2f6b8e"/><stop offset="0.5227" stop-color="#25848e"/><stop offset="0.5455" stop-color="#1fa187"/><stop offset="0.5682" stop-color="#50c46a"/><stop offset="0.5909" stop-color="#98d83e"/><stop offset="0.6136" stop-color="#bade28"/><stop offset="0.6364" stop-color="#c0df25"/><stop offset="0.6591" stop-color="#93d741"/><stop offset="0.6818" stop-color="#46c06f"/><stop offset="0.7045" stop-color="#2db27d"/><stop offset="0.7273" stop-color="#22a884"/><stop offset="0.7500" stop-color="#22a785"/><stop offset="0.7727" stop-color="#27ad81"/><stop offset="0.7955" stop-color="#35b779"/><stop offset="0.8182" stop-color="#4ec36b"/><stop offset="0.8409" stop-color="#7ad151"/><stop offset="0.8636" stop-color="#95d840"/><stop offset="0.8864" stop-color="#81d34d"/><stop offset="0.9091" stop-color="#52c569"/><stop offset="0.9318" stop-color="#25ab82"/><stop offset="0.9545" stop-color="#20928c"/><stop offset="0.9773" stop-color="#25858e"/><stop offset="1.0000" stop-color="#277f8e"/></linearGradient><linearGradient id="c106" x1="0" y1="0" x2="0" y2="1"><stop offset="0.0000" stop-color="#1fa088"/><stop offset="0.0227" stop-color="#1fa088"/><stop offset="0.0455" stop-color="#1fa088"/><stop offset="0.0682" stop-color="#1f9f88"/><stop offset="0.0909" stop-color="#1e9d89"/><stop offset="0.1136" stop-color="#1e9c89"/><stop offset="0.1364" stop-color="#1f9a8a"/><stop offset="0.1591" stop-color="#1f978b"/><stop offset="0.1818" stop-color="#20928c"/><stop offset="0.2045" stop-color="#218e8d"/><stop offset="0.2273" stop-color="#24868e"/><stop offset="0.2500" stop-color="#287d8e"/><stop offset="0.2727" stop-color="#2c728e"/><stop offset="0.2955" stop-color="#32658e"/><stop offset="0.3182" stop-color="#3c508b"/><stop offset="0.3409" stop-color="#463480"/><stop offset="0.3636" stop-color="#481668"/><stop offset="0.3864" stop-color="#440256"/><stop offset="0.4091" stop-color="#46085c"/><stop offset="0.4318" stop-color="#48186a"/><stop offset="0.4545" stop-color="#463480"/><stop offset="0.4773" stop-color="#3b528b"/><stop offset="0.5000" stop-color="#2d708e"/><stop offset="0.5227" stop-color="#228b8d"/><stop offset="0.5455" stop-color="#21a685"/><stop offset="0.5682" stop-color="#58c765"/><stop offset="0.5909" stop-color="#9dd93b"/><stop offset="0.6136" stop-color="#bddf26"/><stop offset="0.6364" stop-color="#c2df23"/><stop offset="0.6591" stop-color="#9bd93c"/><stop offset="0.6818" stop-color="#4ec36b"/><stop offset="0.7045" stop-color="#32b67a"/><stop offset="0.7273" stop-color="#26ad81"/><stop offset="0.7500" stop-color="#25ab82"/><stop offset="0.7727" stop-color="#2ab07f"/><stop offset="0.7955" stop-color="#3bbb75"/><stop offset="0.8182" stop-color="#54c568"/><stop offset="0.8409" stop-color="#7cd250"/><stop offset="0.8636" stop-color="#9bd93c"/><stop offset="0.8864" stop-color="#8bd646"/><stop offset="0.9091" stop-color="#5ec962"/><stop offset="0.9318" stop-color="#2ab07f"/><stop offset="0.9545" stop-color="#1f998a"/><stop offset="0.9773" stop-color="#228b8d"/><stop offset="1.0000" stop-color="#25848e"/></linearGradient><linearGradient id="c107" x1="0" y1="0" x2="0" y2="1"><stop offset="0.0000" stop-color="#1fa088"/><stop offset="0.0227" stop-color="#1fa088"/><stop offset="0.0455" stop-color="#1f9f88"/><stop offset="0.0682" stop-color="#1f9e89"/><stop offset="0.0909" stop-color="#1e9d89"/><stop offset="0.1136" stop-color="#1e9c89"/><stop offset="0.1364" stop-color="#1f9a8a"/><stop offset="0.1591" stop-color="#1f978b"/><stop offset="0.1818" stop-color="#20928c"/><stop offset="0.2045" stop-color="#218e8d"/><stop offset="0.2273" stop-color="#24868e"/><stop offset="0.2500" stop-color="#287c8e"/><stop offset="0.2727" stop-color="#2c718e"/><stop offset="0.2955" stop-color="#32648e"/><stop offset="0.3182" stop-color="#3d4e8a"/><stop offset="0.3409" stop-color="#46327e"/><stop offset="0.3636" stop-color="#481467"/><stop offset="0.3864" stop-color="#440154"/><stop offset="0.4091" stop-color="#460a5d"/><stop offset="0.4318" stop-color="#481a6c"/><stop offset="0.4545" stop-color="#453581"/><stop offset="0.4773" stop-color="#3a538b"/><stop offset="0.5000" stop-color="#2c728e"/><stop offset="0.5227" stop-color="#228d8d"/><stop offset="0.5455" stop-color="#23a983"/><stop offset="0.5682" stop-color="#5cc863"/><stop offset="0.5909" stop-color="#a0da39"/><stop offset="0.6136" stop-color="#bddf26"/><stop offset="0.6364" stop-color="#c5e021"/><stop offset="0.6591" stop-color="#9dd93b"/><stop offset="0.6818" stop-color="#50c46a"/><stop offset="0.7045" stop-color="#35b779"/><stop offset="0.7273" stop-color="#28ae80"/><stop offset="0.7500" stop-color="#25ab82"/><stop offset="0.7727" stop-color="#2cb17e"/><stop offset="0.7955" stop-color="#3bbb75"/><stop offset="0.8182" stop-color="#54c568"/><stop offset="0.8409" stop-color="#7cd250"/><stop offset="0.8636" stop-color="#9dd93b"/><stop offset="0.8864" stop-color="#90d743"/><stop offset="0.9091" stop-color="#65cb5e"/><stop offset="0.9318" stop-color="#2fb47c"/><stop offset="0.9545" stop-color="#1e9c89"/><stop offset="0.9773" stop-color="#218e8d"/><stop offset="1.0000" stop-color="#24878e"/></linearGradient><linearGradient id="c108" x1="0" y1="0" x2="0" y2="1"><stop offset="0.0000" stop-color="#1f9a8a"/><stop offset="0.0227" stop-color="#1f998a"/><stop offset="0.0455" stop-color="#1f998a"/><stop offset="0.0682" stop-color="#1f988b"/><stop offset="0.0909" stop-color="#1f978b"/><stop offset="0.1136" stop-color="#1f958b"/><stop offset="0.1364" stop-color="#1f948c"/><stop offset="0.1591" stop-color="#20928c"/><stop offset="0.1818" stop-color="#228d8d"/><stop offset="0.2045" stop-color="#23888e"/><stop offset="0.2273" stop-color="#26818e"/><stop offset="0.2500" stop-color="#2a778e"/><stop offset="0.2727" stop-color="#2f6c8e"/><stop offset="0.2955" stop-color="#355e8d"/><stop offset="0.3182" stop-color="#3f4889"/><stop offset="0.3409" stop-color="#472d7b"/><stop offset="0.3636" stop-color="#471164"/><stop offset="0.3864" stop-color="#440154"/><stop offset="0.4091" stop-color="#460a5d"/><stop offset="0.4318" stop-color="#481a6c"/><stop offset="0.4545" stop-color="#463480"/><stop offset="0.4773" stop-color="#3b518b"/><stop offset="0.5000" stop-color="#2e6f8e"/><stop offset="0.5227" stop-color="#23898e"/><stop offset="0.5455" stop-color="#21a585"/><stop offset="0.5682" stop-color="#56c667"/><stop offset="0.5909" stop-color="#9bd93c"/><stop offset="0.6136" stop-color="#bade28"/><stop offset="0.6364" stop-color="#c0df25"/><stop offset="0.6591" stop-color="#95d840"/><stop offset="0.6818" stop-color="#4ac16d"/><stop offset="0.7045" stop-color="#2fb47c"/><stop offset="0.7273" stop-color="#25ab82"/><stop offset="0.7500" stop-color="#22a785"/><stop offset="0.7727" stop-color="#26ad81"/><stop offset="0.7955" stop-color="#35b779"/><stop offset="0.8182" stop-color="#4cc26c"/><stop offset="0.8409" stop-color="#73d056"/><stop offset="0.8636" stop-color="#95d840"/><stop offset="0.8864" stop-color="#8bd646"/><stop offset="0.9091" stop-color="#60ca60"/><stop offset="0.9318" stop-color="#2db27d"/><stop offset="0.9545" stop-color="#1f9a8a"/><stop offset="0.9773" stop-color="#228c8d"/><stop offset="1.0000" stop-color="#25848e"/></linearGradient><linearGradient id="c109" x1="0" y1="0" x2="0" y2="1"><stop offset="0.0000" stop-color="#1f978b"/><stop offset="0.0227" stop-color="#1f978b"/><stop offset="0.0455" stop-color="#1f978b"/><stop offset="0.0682" stop-color="#1f968b"/><stop offset="0.0909" stop-color="#1f958b"/><stop offset="0.1136" stop-color="#20938c"/><stop offset="0.1364" stop-color="#20928c"/><stop offset="0.1591" stop-color="#21908d"/><stop offset="0.1818" stop-color="#228b8d"/><stop offset="0.2045" stop-color="#24868e"/><stop offset="0.2273" stop-color="#27808e"/><stop offset="0.2500" stop-color="#2b758e"/><stop offset="0.2727" stop-color="#306a8e"/><stop offset="0.2955" stop-color="#365c8d"/><stop offset="0.3182" stop-color="#404688"/><stop offset="0.3409" stop-color="#472a7a"/><stop offset="0.3636" stop-color="#471164"/><stop offset="0.3864" stop-color="#440154"/><stop offset="0.4091" stop-color="#460a5d"/><stop offset="0.4318" stop-color="#481b6d"/><stop offset="0.4545" stop-color="#463480"/><stop offset="0.4773" stop-color="#3b518b"/><stop offset="0.5000" stop-color="#2e6f8e"/><stop offset="0.5227" stop-color="#23898e"/><stop offset="0.5455" stop-color="#20a486"/><stop offset="0.5682" stop-color="#56c667"/><stop offset="0.5909" stop-color="#9bd93c"/><stop offset="0.6136" stop-color="#b8de29"/><stop offset="0.6364" stop-color="#c0df25"/><stop offset="0.6591" stop-color="#95d840"/><stop offset="0.6818" stop-color="#4ac16d"/><stop offset="0.7045" stop-color="#2fb47c"/><stop offset="0.7273" stop-color="#25ab82"/><stop offset="0.7500" stop-color="#22a785"/><stop offset="0.7727" stop-color="#26ad81"/><stop offset="0.7955" stop-color="#34b679"/><stop offset="0.8182" stop-color="#4ac16d"/><stop offset="0.8409" stop-color="#70cf57"/><stop offset="0.8636" stop-color="#93d741"/><stop offset="0.8864" stop-color="#8ed645"/><stop offset="0.9091" stop-color="#63cb5f"/><stop offset="0.9318" stop-color="#2eb37c"/><stop offset="0.9545" stop-color="#1e9b8a"/><stop offset="0.9773" stop-color="#228d8d"/><stop offset="1.0000" stop-color="#25858e"/></linearGradient><linearGradient id="c110" x1="0" y1="0" x2="0" y2="1"><stop offset="0.0000" stop-color="#1e9b8a"/><stop offset="0.0227" stop-color="#1e9b8a"/><stop offset="0.0455" stop-color="#1f9a8a"/><stop offset="0.0682" stop-color="#1f998a"/><stop offset="0.0909" stop-color="#1f988b"/><stop offset="0.1136" stop-color="#1f978b"/><stop offset="0.1364" stop-color="#1f958b"/><stop offset="0.1591" stop-color="#20928c"/><stop offset="0.1818" stop-color="#218f8d"/><stop offset="0.2045" stop-color="#238a8d"/><stop offset="0.2273" stop-color="#25838e"/><stop offset="0.2500" stop-color="#29798e"/><stop offset="0.2727" stop-color="#2e6d8e"/><stop offset="0.2955" stop-color="#355f8d"/><stop offset="0.3182" stop-color="#3f4788"/><stop offset="0.3409" stop-color="#472c7a"/><stop offset="0.3636" stop-color="#471164"/><stop offset="0.3864" stop-color="#440256"/><stop offset="0.4091" stop-color="#460b5e"/><stop offset="0.4318" stop-color="#481d6f"/><stop offset="0.4545" stop-color="#443983"/><stop offset="0.4773" stop-color="#39568c"/><stop offset="0.5000" stop-color="#2c738e"/><stop offset="0.5227" stop-color="#218f8d"/><stop offset="0.5455" stop-color="#24aa83"/><stop offset="0.5682" stop-color="#60ca60"/><stop offset="0.5909" stop-color="#a2da37"/><stop offset="0.6136" stop-color="#bddf26"/><stop offset="0.6364" stop-color="#c5e021"/><stop offset="0.6591" stop-color="#9dd93b"/><stop offset="0.6818" stop-color="#54c568"/><stop offset="0.7045" stop-color="#38b977"/><stop offset="0.7273" stop-color="#29af7f"/><stop offset="0.7500" stop-color="#26ad81"/><stop offset="0.7727" stop-color="#2cb17e"/><stop offset="0.7955" stop-color="#3bbb75"/><stop offset="0.8182" stop-color="#52c569"/><stop offset="0.8409" stop-color="#77d153"/><stop offset="0.8636" stop-color="#9bd93c"/><stop offset="0.8864" stop-color="#95d840"/><stop offset="0.9091" stop-color="#6ece58"/><stop offset="0.9318" stop-color="#38b977"/><stop offset="0.9545" stop-color="#1fa287"/><stop offset="0.9773" stop-color="#1f948c"/><stop offset="1.0000" stop-color="#228c8d"/></linearGradient><linearGradient id="c111" x1="0" y1="0" x2="0" y2="1"><stop offset="0.0000" stop-color="#1f988b"/><stop offset="0.0227" stop-color="#1f988b"/><stop offset="0.0455" stop-color="#1f978b"/><stop offset="0.0682" stop-color="#1f968b"/><stop offset="0.0909" stop-color="#1f958b"/><stop offset="0.1136" stop-color="#1f948c"/><stop offset="0.1364" stop-color="#20928c"/><stop offset="0.1591" stop-color="#21908d"/><stop offset="0.1818" stop-color="#228d8d"/><stop offset="0.2045" stop-color="#23888e"/><stop offset="0.2273" stop-color="#26828e"/><stop offset="0.2500" stop-color="#2a778e"/><stop offset="0.2727" stop-color="#306a8e"/><stop offset="0.2955" stop-color="#375b8d"/><stop offset="0.3182" stop-color="#404588"/><stop offset="0.3409" stop-color="#482979"/><stop offset="0.3636" stop-color="#471063"/><stop offset="0.3864" stop-color="#440256"/><stop offset="0.4091" stop-color="#470d60"/><stop offset="0.4318" stop-color="#481f70"/><stop offset="0.4545" stop-color="#443a83"/><stop offset="0.4773" stop-color="#39568c"/><stop offset="0.5000" stop-color="#2c728e"/><stop offset="0.5227" stop-color="#218e8d"/><stop offset="0.5455" stop-color="#23a983"/><stop offset="0.5682" stop-color="#5ec962"/><stop offset="0.5909" stop-color="#a2da37"/><stop offset="0.6136" stop-color="#bddf26"/><stop offset="0.6364" stop-color="#c2df23"/><stop offset="0.6591" stop-color="#9dd93b"/><stop offset="0.6818" stop-color="#52c569"/><stop offset="0.7045" stop-color="#37b878"/><stop offset="0.7273" stop-color="#28ae80"/><stop offset="0.7500" stop-color="#25ac82"/><stop offset="0.7727" stop-color="#29af7f"/><stop offset="0.7955" stop-color="#3aba76"/><stop offset="0.8182" stop-color="#50c46a"/><stop offset="0.8409" stop-color="#73d056"/><stop offset="0.8636" stop-color="#95d840"/><stop offset="0.8864" stop-color="#95d840"/><stop offset="0.9091" stop-color="#6ece58"/><stop offset="0.9318" stop-color="#3aba76"/><stop offset="0.9545" stop-color="#20a386"/><stop offset="0.9773" stop-color="#1f948c"/><stop offset="1.0000" stop-color="#228c8d"/></linearGradient><linearGradient id="c112" x1="0" y1="0" x2="0" y2="1"><stop offset="0.0000" stop-color="#228d8d"/><stop offset="0.0227" stop-color="#228d8d"/><stop offset="0.0455" stop-color="#228c8d"/><stop offset="0.0682" stop-color="#228b8d"/><stop offset="0.0909" stop-color="#238a8d"/><stop offset="0.1136" stop-color="#23898e"/><stop offset="0.1364" stop-color="#24878e"/><stop offset="0.1591" stop-color="#25858e"/><stop offset="0.1818" stop-color="#26828e"/><stop offset="0.2045" stop-color="#287d8e"/><stop offset="0.2273" stop-color="#2a768e"/><stop offset="0.2500" stop-color="#2e6d8e"/><stop offset="0.2727" stop-color="#34608d"/><stop offset="0.2955" stop-color="#3c508b"/><stop offset="0.3182" stop-color="#443a83"/><stop offset="0.3409" stop-color="#482173"/><stop offset="0.3636" stop-color="#470e61"/><stop offset="0.3864" stop-color="#440256"/><stop offset="0.4091" stop-color="#460b5e"/><stop offset="0.4318" stop-color="#481b6d"/><stop offset="0.4545" stop-color="#463480"/><stop offset="0.4773" stop-color="#3c4f8a"/><stop offset="0.5000" stop-color="#306a8e"/><stop offset="0.5227" stop-color="#25848e"/><stop offset="0.5455" stop-color="#1fa088"/><stop offset="0.5682" stop-color="#4ec36b"/><stop offset="0.5909" stop-color="#95d840"/><stop offset="0.6136" stop-color="#b2dd2d"/><stop offset="0.6364" stop-color="#bade28"/><stop offset="0.6591" stop-color="#8ed645"/><stop offset="0.6818" stop-color="#44bf70"/><stop offset="0.7045" stop-color="#2ab07f"/><stop offset="0.7273" stop-color="#21a685"/><stop offset="0.7500" stop-color="#1fa287"/><stop offset="0.7727" stop-color="#22a785"/><stop offset="0.7955" stop-color="#2cb17e"/><stop offset="0.8182" stop-color="#3fbc73"/><stop offset="0.8409" stop-color="#60ca60"/><stop offset="0.8636" stop-color="#86d549"/><stop offset="0.8864" stop-color="#86d549"/><stop offset="0.9091" stop-color="#60ca60"/><stop offset="0.9318" stop-color="#2fb47c"/><stop offset="0.9545" stop-color="#1e9c89"/><stop offset="0.9773" stop-color="#228d8d"/><stop offset="1.0000" stop-color="#25838e"/></linearGradient><linearGradient id="c113" x1="0" y1="0" x2="0" y2="1"><stop offset="0.0000" stop-color="#21918c"/><stop offset="0.0227" stop-color="#21918c"/><stop offset="0.0455" stop-color="#21908d"/><stop offset="0.0682" stop-color="#218f8d"/><stop offset="0.0909" stop-color="#218e8d"/><stop offset="0.1136" stop-color="#228d8d"/><stop offset="0.1364" stop-color="#228b8d"/><stop offset="0.1591" stop-color="#23898e"/><stop offset="0.1818" stop-color="#25858e"/><stop offset="0.2045" stop-color="#26828e"/><stop offset="0.2273" stop-color="#297b8e"/><stop offset="0.2500" stop-color="#2d718e"/><stop offset="0.2727" stop-color="#33638d"/><stop offset="0.2955" stop-color="#3a538b"/><stop offset="0.3182" stop-color="#433d84"/><stop offset="0.3409" stop-color="#482374"/><stop offset="0.3636" stop-color="#470e61"/><stop offset="0.3864" stop-color="#440256"/><stop offset="0.4091" stop-color="#470d60"/><stop offset="0.4318" stop-color="#481f70"/><stop offset="0.4545" stop-color="#443983"/><stop offset="0.4773" stop-color="#3a548c"/><stop offset="0.5000" stop-color="#2d708e"/><stop offset="0.5227" stop-color="#238a8d"/><stop offset="0.5455" stop-color="#21a585"/><stop offset="0.5682" stop-color="#58c765"/><stop offset="0.5909" stop-color="#9dd93b"/><stop offset="0.6136" stop-color="#b8de29"/><stop offset="0.6364" stop-color="#c0df25"/><stop offset="0.6591" stop-color="#95d840"/><stop offset="0.6818" stop-color="#4ec36b"/><stop offset="0.7045" stop-color="#31b57b"/><stop offset="0.7273" stop-color="#25ac82"/><stop offset="0.7500" stop-color="#22a884"/><stop offset="0.7727" stop-color="#25ac82"/><stop offset="0.7955" stop-color="#32b67a"/><stop offset="0.8182" stop-color="#46c06f"/><stop offset="0.8409" stop-color="#69cd5b"/><stop offset="0.8636" stop-color="#8ed645"/><stop offset="0.8864" stop-color="#90d743"/><stop offset="0.9091" stop-color="#6ece58"/><stop offset="0.9318" stop-color="#3aba76"/><stop offset="0.9545" stop-color="#20a386"/><stop offset="0.9773" stop-color="#20938c"/><stop offset="1.0000" stop-color="#228b8d"/></linearGradient><linearGradient id="c114" x1="0" y1="0" x2="0" y2="1"><stop offset="0.0000" stop-color="#21908d"/><stop offset="0.0227" stop-color="#21908d"/><stop offset="0.0455" stop-color="#218f8d"/><stop offset="0.0682" stop-color="#218e8d"/><stop offset="0.0909" stop-color="#228d8d"/><stop offset="0.1136" stop-color="#228c8d"/><stop offset="0.1364" stop-color="#238a8d"/><stop offset="0.1591" stop-color="#23888e"/><stop offset="0.1818" stop-color="#25848e"/><stop offset="0.2045" stop-color="#26818e"/><stop offset="0.2273" stop-color="#297a8e"/><stop offset="0.2500" stop-color="#2d708e"/><stop offset="0.2727" stop-color="#33628d"/><stop offset="0.2955" stop-color="#3b528b"/><stop offset="0.3182" stop-color="#443a83"/><stop offset="0.3409" stop-color="#482071"/><stop offset="0.3636" stop-color="#470e61"/><stop offset="0.3864" stop-color="#450457"/><stop offset="0.4091" stop-color="#470e61"/><stop offset="0.4318" stop-color="#482071"/><stop offset="0.4545" stop-color="#443b84"/><stop offset="0.4773" stop-color="#39568c"/><stop offset="0.5000" stop-color="#2d718e"/><stop offset="0.5227" stop-color="#238a8d"/><stop offset="0.5455" stop-color="#21a685"/><stop offset="0.5682" stop-color="#58c765"/><stop offset="0.5909" stop-color="#9dd93b"/><stop offset="0.6136" stop-color="#b8de29"/><stop offset="0.6364" stop-color="#c0df25"/><stop offset="0.6591" stop-color="#98d83e"/><stop offset="0.6818" stop-color="#50c46a"/><stop offset="0.7045" stop-color="#32b67a"/><stop offset="0.7273" stop-color="#25ac82"/><stop offset="0.7500" stop-color="#23a983"/><stop offset="0.7727" stop-color="#26ad81"/><stop offset="0.7955" stop-color="#32b67a"/><stop offset="0.8182" stop-color="#46c06f"/><stop offset="0.8409" stop-color="#67cc5c"/><stop offset="0.8636" stop-color="#8ed645"/><stop offset="0.8864" stop-color="#93d741"/><stop offset="0.9091" stop-color="#70cf57"/><stop offset="0.9318" stop-color="#3dbc74"/><stop offset="0.9545" stop-color="#21a685"/><stop offset="0.9773" stop-color="#1f968b"/><stop offset="1.0000" stop-color="#228d8d"/></linearGradient><linearGradient id="c115" x1="0" y1="0" x2="0" y2="1"><stop offset="0.0000" stop-color="#24868e"/><stop offset="0.0227" stop-color="#24868e"/><stop offset="0.0455" stop-color="#24868e"/><stop offset="0.0682" stop-color="#25858e"/><stop offset="0.0909" stop-color="#25848e"/><stop offset="0.1136" stop-color="#25838e"/><stop offset="0.1364" stop-color="#26828e"/><stop offset="0.1591" stop-color="#27808e"/><stop offset="0.1818" stop-color="#287c8e"/><stop offset="0.2045" stop-color="#2a788e"/><stop offset="0.2273" stop-color="#2c728e"/><stop offset="0.2500" stop-color="#31688e"/><stop offset="0.2727" stop-color="#375a8c"/><stop offset="0.2955" stop-color="#3e4989"/><stop offset="0.3182" stop-color="#46337f"/><stop offset="0.3409" stop-color="#481c6e"/><stop offset="0.3636" stop-color="#460b5e"/><stop offset="0.3864" stop-color="#450457"/><stop offset="0.4091" stop-color="#470d60"/><stop offset="0.4318" stop-color="#481f70"/><stop offset="0.4545" stop-color="#453781"/><stop offset="0.4773" stop-color="#3b518b"/><stop offset="0.5000" stop-color="#306a8e"/><stop offset="0.5227" stop-color="#25838e"/><stop offset="0.5455" stop-color="#1fa088"/><stop offset="0.5682" stop-color="#4ec36b"/><stop offset="0.5909" stop-color="#93d741"/><stop offset="0.6136" stop-color="#b0dd2f"/><stop offset="0.6364" stop-color="#b8de29"/><stop offset="0.6591" stop-color="#8ed645"/><stop offset="0.6818" stop-color="#44bf70"/><stop offset="0.7045" stop-color="#2ab07f"/><stop offset="0.7273" stop-color="#21a685"/><stop offset="0.7500" stop-color="#1fa287"/><stop offset="0.7727" stop-color="#21a585"/><stop offset="0.7955" stop-color="#2ab07f"/><stop offset="0.8182" stop-color="#3aba76"/><stop offset="0.8409" stop-color="#5ac864"/><stop offset="0.8636" stop-color="#81d34d"/><stop offset="0.8864" stop-color="#89d548"/><stop offset="0.9091" stop-color="#67cc5c"/><stop offset="0.9318" stop-color="#37b878"/><stop offset="0.9545" stop-color="#1fa187"/><stop offset="0.9773" stop-color="#21918c"/><stop offset="1.0000" stop-color="#24878e"/></linearGradient><linearGradient id="c116" x1="0" y1="0" x2="0" y2="1"><stop offset="0.0000" stop-color="#228d8d"/><stop offset="0.0227" stop-color="#228d8d"/><stop offset="0.0455" stop-color="#228c8d"/><stop offset="0.0682" stop-color="#228c8d"/><stop offset="0.0909" stop-color="#228b8d"/><stop offset="0.1136" stop-color="#23898e"/><stop offset="0.1364" stop-color="#23888e"/><stop offset="0.1591" stop-color="#24868e"/><stop offset="0.1818" stop-color="#26828e"/><stop offset="0.2045" stop-color="#277f8e"/><stop offset="0.2273" stop-color="#29798e"/><stop offset="0.2500" stop-color="#2e6f8e"/><stop offset="0.2727" stop-color="#355f8d"/><stop offset="0.2955" stop-color="#3d4e8a"/><stop offset="0.3182" stop-color="#453781"/><stop offset="0.3409" stop-color="#481d6f"/><stop offset="0.3636" stop-color="#470d60"/><stop offset="0.3864" stop-color="#450457"/><stop offset="0.4091" stop-color="#471063"/><stop offset="0.4318" stop-color="#482475"/><stop offset="0.4545" stop-color="#433e85"/><stop offset="0.4773" stop-color="#38598c"/><stop offset="0.5000" stop-color="#2c718e"/><stop offset="0.5227" stop-color="#228c8d"/><stop offset="0.5455" stop-color="#22a785"/><stop offset="0.5682" stop-color="#5cc863"/><stop offset="0.5909" stop-color="#a0da39"/><stop offset="0.6136" stop-color="#bade28"/><stop offset="0.6364" stop-color="#c0df25"/><stop offset="0.6591" stop-color="#98d83e"/><stop offset="0.6818" stop-color="#54c568"/><stop offset="0.7045" stop-color="#35b779"/><stop offset="0.7273" stop-color="#27ad81"/><stop offset="0.7500" stop-color="#24aa83"/><stop offset="0.7727" stop-color="#26ad81"/><stop offset="0.7955" stop-color="#34b679"/><stop offset="0.8182" stop-color="#46c06f"/><stop offset="0.8409" stop-color="#65cb5e"/><stop offset="0.8636" stop-color="#8bd646"/><stop offset="0.8864" stop-color="#95d840"/><stop offset="0.9091" stop-color="#77d153"/><stop offset="0.9318" stop-color="#46c06f"/><stop offset="0.9545" stop-color="#25ab82"/><stop offset="0.9773" stop-color="#1e9b8a"/><stop offset="1.0000" stop-color="#21918c"/></linearGradient><linearGradient id="c117" x1="0" y1="0" x2="0" y2="1"><stop offset="0.0000" stop-color="#25848e"/><stop offset="0.0227" stop-color="#25838e"/><stop offset="0.0455" stop-color="#25838e"/><stop offset="0.0682" stop-color="#26828e"/><stop offset="0.0909" stop-color="#26828e"/><stop offset="0.1136" stop-color="#26818e"/><stop offset="0.1364" stop-color="#277f8e"/><stop offset="0.1591" stop-color="#287d8e"/><stop offset="0.1818" stop-color="#297a8e"/><stop offset="0.2045" stop-color="#2a768e"/><stop offset="0.2273" stop-color="#2d718e"/><stop offset="0.2500" stop-color="#31668e"/><stop offset="0.2727" stop-color="#39568c"/><stop offset="0.2955" stop-color="#404688"/><stop offset="0.3182" stop-color="#472f7d"/><stop offset="0.3409" stop-color="#48186a"/><stop offset="0.3636" stop-color="#460b5e"/><stop offset="0.3864" stop-color="#450457"/><stop offset="0.4091" stop-color="#470e61"/><stop offset="0.4318" stop-color="#482173"/><stop offset="0.4545" stop-color="#443a83"/><stop offset="0.4773" stop-color="#3a538b"/><stop offset="0.5000" stop-color="#2f6c8e"/><stop offset="0.5227" stop-color="#25848e"/><stop offset="0.5455" stop-color="#1fa188"/><stop offset="0.5682" stop-color="#50c46a"/><stop offset="0.5909" stop-color="#95d840"/><stop offset="0.6136" stop-color="#b2dd2d"/><stop offset="0.6364" stop-color="#b8de29"/><stop offset="0.6591" stop-color="#8ed645"/><stop offset="0.6818" stop-color="#48c16e"/><stop offset="0.7045" stop-color="#2cb17e"/><stop offset="0.7273" stop-color="#22a785"/><stop offset="0.7500" stop-color="#20a386"/><stop offset="0.7727" stop-color="#21a685"/><stop offset="0.7955" stop-color="#2ab07f"/><stop offset="0.8182" stop-color="#3aba76"/><stop offset="0.8409" stop-color="#58c765"/><stop offset="0.8636" stop-color="#7fd34e"/><stop offset="0.8864" stop-color="#8ed645"/><stop offset="0.9091" stop-color="#6ece58"/><stop offset="0.9318" stop-color="#3fbc73"/><stop offset="0.9545" stop-color="#21a685"/><stop offset="0.9773" stop-color="#1f958b"/><stop offset="1.0000" stop-color="#228b8d"/></linearGradient><linearGradient id="c118" x1="0" y1="0" x2="0" y2="1"><stop offset="0.0000" stop-color="#218e8d"/><stop offset="0.0227" stop-color="#218e8d"/><stop offset="0.0455" stop-color="#228d8d"/><stop offset="0.0682" stop-color="#228c8d"/><stop offset="0.0909" stop-color="#228b8d"/><stop offset="0.1136" stop-color="#238a8d"/><stop offset="0.1364" stop-color="#23898e"/><stop offset="0.1591" stop-color="#24878e"/><stop offset="0.1818" stop-color="#25838e"/><stop offset="0.2045" stop-color="#27808e"/><stop offset="0.2273" stop-color="#297b8e"/><stop offset="0.2500" stop-color="#2d708e"/><stop offset="0.2727" stop-color="#355f8d"/><stop offset="0.2955" stop-color="#3d4d8a"/><stop offset="0.3182" stop-color="#46337f"/><stop offset="0.3409" stop-color="#481a6c"/><stop offset="0.3636" stop-color="#470d60"/><stop offset="0.3864" stop-color="#450559"/><stop offset="0.4091" stop-color="#471365"/><stop offset="0.4318" stop-color="#482878"/><stop offset="0.4545" stop-color="#414487"/><stop offset="0.4773" stop-color="#355e8d"/><stop offset="0.5000" stop-color="#2a768e"/><stop offset="0.5227" stop-color="#21908d"/><stop offset="0.5455" stop-color="#25ac82"/><stop offset="0.5682" stop-color="#63cb5f"/><stop offset="0.5909" stop-color="#a5db36"/><stop offset="0.6136" stop-color="#bddf26"/><stop offset="0.6364" stop-color="#c2df23"/><stop offset="0.6591" stop-color="#a0da39"/><stop offset="0.6818" stop-color="#5cc863"/><stop offset="0.7045" stop-color="#3bbb75"/><stop offset="0.7273" stop-color="#2db27d"/><stop offset="0.7500" stop-color="#28ae80"/><stop offset="0.7727" stop-color="#2ab07f"/><stop offset="0.7955" stop-color="#38b977"/><stop offset="0.8182" stop-color="#4cc26c"/><stop offset="0.8409" stop-color="#69cd5b"/><stop offset="0.8636" stop-color="#90d743"/><stop offset="0.8864" stop-color="#a0da39"/><stop offset="0.9091" stop-color="#84d44b"/><stop offset="0.9318" stop-color="#54c568"/><stop offset="0.9545" stop-color="#2eb37c"/><stop offset="0.9773" stop-color="#1fa287"/><stop offset="1.0000" stop-color="#1f978b"/></linearGradient><linearGradient id="c119" x1="0" y1="0" x2="0" y2="1"><stop offset="0.0000" stop-color="#24878e"/><stop offset="0.0227" stop-color="#24868e"/><stop offset="0.0455" stop-color="#24868e"/><stop offset="0.0682" stop-color="#25858e"/><stop offset="0.0909" stop-color="#25848e"/><stop offset="0.1136" stop-color="#25838e"/><stop offset="0.1364" stop-color="#26828e"/><stop offset="0.1591" stop-color="#26818e"/><stop offset="0.1818" stop-color="#277e8e"/><stop offset="0.2045" stop-color="#297a8e"/><stop offset="0.2273" stop-color="#2b748e"/><stop offset="0.2500" stop-color="#306a8e"/><stop offset="0.2727" stop-color="#38598c"/><stop offset="0.2955" stop-color="#404688"/><stop offset="0.3182" stop-color="#472e7c"/><stop offset="0.3409" stop-color="#481668"/><stop offset="0.3636" stop-color="#460b5e"/><stop offset="0.3864" stop-color="#450559"/><stop offset="0.4091" stop-color="#471365"/><stop offset="0.4318" stop-color="#482677"/><stop offset="0.4545" stop-color="#424186"/><stop offset="0.4773" stop-color="#375b8d"/><stop offset="0.5000" stop-color="#2c718e"/><stop offset="0.5227" stop-color="#228b8d"/><stop offset="0.5455" stop-color="#22a785"/><stop offset="0.5682" stop-color="#5ac864"/><stop offset="0.5909" stop-color="#a0da39"/><stop offset="0.6136" stop-color="#b8de29"/><stop offset="0.6364" stop-color="#bddf26"/><stop offset="0.6591" stop-color="#98d83e"/><stop offset="0.6818" stop-color="#54c568"/><stop offset="0.7045" stop-color="#35b779"/><stop offset="0.7273" stop-color="#27ad81"/><stop offset="0.7500" stop-color="#24aa83"/><stop offset="0.7727" stop-color="#25ac82"/><stop offset="0.7955" stop-color="#31b57b"/><stop offset="0.8182" stop-color="#42be71"/><stop offset="0.8409" stop-color="#5ec962"/><stop offset="0.8636" stop-color="#86d549"/><stop offset="0.8864" stop-color="#98d83e"/><stop offset="0.9091" stop-color="#7fd34e"/><stop offset="0.9318" stop-color="#50c46a"/><stop offset="0.9545" stop-color="#2ab07f"/><stop offset="0.9773" stop-color="#1f9f88"/><stop offset="1.0000" stop-color="#1f948c"/></linearGradient><linearGradient id="c120" x1="0" y1="0" x2="0" y2="1"><stop offset="0.0000" stop-color="#25848e"/><stop offset="0.0227" stop-color="#25848e"/><stop offset="0.0455" stop-color="#25838e"/><stop offset="0.0682" stop-color="#26828e"/><stop offset="0.0909" stop-color="#26828e"/><stop offset="0.1136" stop-color="#26818e"/><stop offset="0.1364" stop-color="#27808e"/><stop offset="0.1591" stop-color="#277e8e"/><stop offset="0.1818" stop-color="#297b8e"/><stop offset="0.2045" stop-color="#2a778e"/><stop offset="0.2273" stop-color="#2c728e"/><stop offset="0.2500" stop-color="#31688e"/><stop offset="0.2727" stop-color="#39568c"/><stop offset="0.2955" stop-color="#414487"/><stop offset="0.3182" stop-color="#472a7a"/><stop offset="0.3409" stop-color="#481467"/><stop offset="0.3636" stop-color="#460b5e"/><stop offset="0.3864" stop-color="#46075a"/><stop offset="0.4091" stop-color="#471365"/><stop offset="0.4318" stop-color="#482878"/><stop offset="0.4545" stop-color="#424186"/><stop offset="0.4773" stop-color="#375b8d"/><stop offset="0.5000" stop-color="#2c718e"/><stop offset="0.5227" stop-color="#238a8d"/><stop offset="0.5455" stop-color="#21a685"/><stop offset="0.5682" stop-color="#5ac864"/><stop offset="0.5909" stop-color="#9dd93b"/><stop offset="0.6136" stop-color="#b8de29"/><stop offset="0.6364" stop-color="#bddf26"/><stop offset="0.6591" stop-color="#95d840"/><stop offset="0.6818" stop-color="#54c568"/><stop offset="0.7045" stop-color="#34b679"/><stop offset="0.7273" stop-color="#26ad81"/><stop offset="0.7500" stop-color="#23a983"/><stop offset="0.7727" stop-color="#25ab82"/><stop offset="0.7955" stop-color="#2fb47c"/><stop offset="0.8182" stop-color="#3fbc73"/><stop offset="0.8409" stop-color="#5cc863"/><stop offset="0.8636" stop-color="#84d44b"/><stop offset="0.8864" stop-color="#98d83e"/><stop offset="0.9091" stop-color="#7fd34e"/><stop offset="0.9318" stop-color="#52c569"/><stop offset="0.9545" stop-color="#2cb17e"/><stop offset="0.9773" stop-color="#1fa088"/><stop offset="1.0000" stop-color="#1f948c"/></linearGradient><linearGradient id="c121" x1="0" y1="0" x2="0" y2="1"><stop offset="0.0000" stop-color="#277e8e"/><stop offset="0.0227" stop-color="#277e8e"/><stop offset="0.0455" stop-color="#277e8e"/><stop offset="0.0682" stop-color="#287d8e"/><stop offset="0.0909" stop-color="#287c8e"/><stop offset="0.1136" stop-color="#297b8e"/><stop offset="0.1364" stop-color="#29798e"/><stop offset="0.1591" stop-color="#2a788e"/><stop offset="0.1818" stop-color="#2b758e"/><stop offset="0.2045" stop-color="#2c718e"/><stop offset="0.2273" stop-color="#2e6d8e"/><stop offset="0.2500" stop-color="#33628d"/><stop offset="0.2727" stop-color="#3c508b"/><stop offset="0.2955" stop-color="#433e85"/><stop offset="0.3182" stop-color="#482576"/><stop offset="0.3409" stop-color="#471063"/><stop offset="0.3636" stop-color="#460a5d"/><stop offset="0.3864" stop-color="#46075a"/><stop offset="0.4091" stop-color="#471365"/><stop offset="0.4318" stop-color="#482677"/><stop offset="0.4545" stop-color="#423f85"/><stop offset="0.4773" stop-color="#39568c"/><stop offset="0.5000" stop-color="#2e6e8e"/><stop offset="0.5227" stop-color="#24868e"/><stop offset="0.5455" stop-color="#1fa287"/><stop offset="0.5682" stop-color="#52c569"/><stop offset="0.5909" stop-color="#98d83e"/><stop offset="0.6136" stop-color="#b2dd2d"/><stop offset="0.6364" stop-color="#b8de29"/><stop offset="0.6591" stop-color="#90d743"/><stop offset="0.6818" stop-color="#4ec36b"/><stop offset="0.7045" stop-color="#2eb37c"/><stop offset="0.7273" stop-color="#23a983"/><stop offset="0.7500" stop-color="#21a585"/><stop offset="0.7727" stop-color="#21a685"/><stop offset="0.7955" stop-color="#29af7f"/><stop offset="0.8182" stop-color="#38b977"/><stop offset="0.8409" stop-color="#52c569"/><stop offset="0.8636" stop-color="#7ad151"/><stop offset="0.8864" stop-color="#93d741"/><stop offset="0.9091" stop-color="#7cd250"/><stop offset="0.9318" stop-color="#4ec36b"/><stop offset="0.9545" stop-color="#29af7f"/><stop offset="0.9773" stop-color="#1e9d89"/><stop offset="1.0000" stop-color="#20928c"/></linearGradient><linearGradient id="c122" x1="0" y1="0" x2="0" y2="1"><stop offset="0.0000" stop-color="#277f8e"/><stop offset="0.0227" stop-color="#277f8e"/><stop offset="0.0455" stop-color="#277f8e"/><stop offset="0.0682" stop-color="#277e8e"/><stop offset="0.0909" stop-color="#287d8e"/><stop offset="0.1136" stop-color="#287c8e"/><stop offset="0.1364" stop-color="#297b8e"/><stop offset="0.1591" stop-color="#29798e"/><stop offset="0.1818" stop-color="#2a768e"/><stop offset="0.2045" stop-color="#2c738e"/><stop offset="0.2273" stop-color="#2e6f8e"/><stop offset="0.2500" stop-color="#32648e"/><stop offset="0.2727" stop-color="#3b518b"/><stop offset="0.2955" stop-color="#433e85"/><stop offset="0.3182" stop-color="#482576"/><stop offset="0.3409" stop-color="#470e61"/><stop offset="0.3636" stop-color="#460a5d"/><stop offset="0.3864" stop-color="#46075a"/><stop offset="0.4091" stop-color="#481467"/><stop offset="0.4318" stop-color="#482979"/><stop offset="0.4545" stop-color="#414287"/><stop offset="0.4773" stop-color="#375b8d"/><stop offset="0.5000" stop-color="#2d718e"/><stop offset="0.5227" stop-color="#23898e"/><stop offset="0.5455" stop-color="#21a585"/><stop offset="0.5682" stop-color="#58c765"/><stop offset="0.5909" stop-color="#9bd93c"/><stop offset="0.6136" stop-color="#b5de2b"/><stop offset="0.6364" stop-color="#bade28"/><stop offset="0.6591" stop-color="#95d840"/><stop offset="0.6818" stop-color="#54c568"/><stop offset="0.7045" stop-color="#32b67a"/><stop offset="0.7273" stop-color="#25ac82"/><stop offset="0.7500" stop-color="#22a884"/><stop offset="0.7727" stop-color="#23a983"/><stop offset="0.7955" stop-color="#2db27d"/><stop offset="0.8182" stop-color="#3bbb75"/><stop offset="0.8409" stop-color="#56c667"/><stop offset="0.8636" stop-color="#7fd34e"/><stop offset="0.8864" stop-color="#98d83e"/><stop offset="0.9091" stop-color="#84d44b"/><stop offset="0.9318" stop-color="#56c667"/><stop offset="0.9545" stop-color="#2fb47c"/><stop offset="0.9773" stop-color="#1fa187"/><stop offset="1.0000" stop-color="#1f958b"/></linearGradient><linearGradient id="c123" x1="0" y1="0" x2="0" y2="1"><stop offset="0.0000" stop-color="#2c718e"/><stop offset="0.0227" stop-color="#2d718e"/><stop offset="0.0455" stop-color="#2d718e"/><stop offset="0.0682" stop-color="#2d708e"/><stop offset="0.0909" stop-color="#2e6f8e"/><stop offset="0.1136" stop-color="#2e6e8e"/><stop offset="0.1364" stop-color="#2e6d8e"/><stop offset="0.1591" stop-color="#2f6c8e"/><stop offset="0.1818" stop-color="#30698e"/><stop offset="0.2045" stop-color="#31668e"/><stop offset="0.2273" stop-color="#33628d"/><stop offset="0.2500" stop-color="#39568c"/><stop offset="0.2727" stop-color="#414487"/><stop offset="0.2955" stop-color="#46327e"/><stop offset="0.3182" stop-color="#481c6e"/><stop offset="0.3409" stop-color="#460a5d"/><stop offset="0.3636" stop-color="#46075a"/><stop offset="0.3864" stop-color="#450559"/><stop offset="0.4091" stop-color="#471164"/><stop offset="0.4318" stop-color="#482374"/><stop offset="0.4545" stop-color="#443983"/><stop offset="0.4773" stop-color="#3c508b"/><stop offset="0.5000" stop-color="#32658e"/><stop offset="0.5227" stop-color="#287d8e"/><stop offset="0.5455" stop-color="#1f998a"/><stop offset="0.5682" stop-color="#44bf70"/><stop offset="0.5909" stop-color="#8bd646"/><stop offset="0.6136" stop-color="#a8db34"/><stop offset="0.6364" stop-color="#addc30"/><stop offset="0.6591" stop-color="#84d44b"/><stop offset="0.6818" stop-color="#40bd72"/><stop offset="0.7045" stop-color="#25ac82"/><stop offset="0.7273" stop-color="#1fa188"/><stop offset="0.7500" stop-color="#1e9d89"/><stop offset="0.7727" stop-color="#1f9e89"/><stop offset="0.7955" stop-color="#21a685"/><stop offset="0.8182" stop-color="#2ab07f"/><stop offset="0.8409" stop-color="#3fbc73"/><stop offset="0.8636" stop-color="#69cd5b"/><stop offset="0.8864" stop-color="#86d549"/><stop offset="0.9091" stop-color="#73d056"/><stop offset="0.9318" stop-color="#46c06f"/><stop offset="0.9545" stop-color="#25ab82"/><stop offset="0.9773" stop-color="#1f978b"/><stop offset="1.0000" stop-color="#228b8d"/></linearGradient></defs>
<rect width="1425" height="881" fill="#fff"/>
<text font-size="39.00" fill="#000" transform="translate(198.05 36.40) scale(0.8735 1)">a</text><text font-size="39.90" fill="#000" transform="translate(222.76 36.60) scale(1.0303 1)">)</text><rect x="663" y="115.5" width="237.5" height="150.5" rx="17" fill="#c4c4c4"/><text font-size="37.60" fill="#000" transform="translate(670.39 152.50) scale(1.0029 1)">Cryostat</text><rect x="708.5" y="172.5" width="147.5" height="59.5" fill="#9fd6ea" stroke="#6f8c98" stroke-width="1"/><path d="M709 185.2 H754 C762 185.2 761 196 768 196" fill="none" stroke="#5f7480" stroke-width="6.2" stroke-linecap="butt"/><path d="M797 196 C804 196 803 185.2 811 185.2 H855.5" fill="none" stroke="#5f7480" stroke-width="6.2" stroke-linecap="butt"/><path d="M709 220 H754 C762 220 761 207 768 207" fill="none" stroke="#5f7480" stroke-width="6.2" stroke-linecap="butt"/><path d="M797 207 C804 207 803 220 811 220 H855.5" fill="none" stroke="#5f7480" stroke-width="6.2" stroke-linecap="butt"/><path d="M709 185.2 H754 C762 185.2 761 196 768 196" fill="none" stroke="#8a8d92" stroke-width="3.6" stroke-linecap="butt"/><path d="M797 196 C804 196 803 185.2 811 185.2 H855.5" fill="none" stroke="#8a8d92" stroke-width="3.6" stroke-linecap="butt"/><path d="M709 220 H754 C762 220 761 207 768 207" fill="none" stroke="#8a8d92" stroke-width="3.6" stroke-linecap="butt"/><path d="M797 207 C804 207 803 220 811 220 H855.5" fill="none" stroke="#8a8d92" stroke-width="3.6" stroke-linecap="butt"/><rect x="767.5" y="188" width="29.5" height="11.3" fill="#f6c400" stroke="#5a5030" stroke-width="1"/><rect x="767.5" y="205.6" width="29.5" height="11.3" fill="#f6c400" stroke="#5a5030" stroke-width="1"/><path d="M791.4 196 C805 165 835 120 879 73.7" fill="none" stroke="#111" stroke-width="1.6"/><path d="M791.8 210 V289.5" fill="none" stroke="#111" stroke-width="1.8"/><path d="M781.5 289.4 H800.5 M787 295.1 H796.5 M789.3 299.7 H794.2" fill="none" stroke="#111" stroke-width="1.8"/><path d="M1013.6 58.6 C1085 60 1126 105 1123.2 168" fill="none" stroke="#8a8a8a" stroke-width="1.5"/><path d="M1013.6 77 C1024 77 1031 80 1032.5 88" fill="none" stroke="#8a8a8a" stroke-width="1.5"/><path d="M398 113.2 H466.5 V186 H708" fill="none" stroke="#e0000c" stroke-width="4.2" stroke-linejoin="miter"/><path d="M856 186 H1112" fill="none" stroke="#e0000c" stroke-width="4.2" stroke-linejoin="miter"/><path d="M856 219.6 H1030.3 V113" fill="none" stroke="#e0000c" stroke-width="4.2" stroke-linejoin="miter"/><rect x="275.5" y="73.5" width="10" height="81" fill="#000"/><rect x="284" y="67.5" width="115" height="93" fill="#2e2a33" stroke="#0a0a0a" stroke-width="1.6"/><rect x="285.5" y="94.5" width="112" height="39" fill="url(#lasg)"/><line x1="285" y1="94" x2="398" y2="94" stroke="#141214" stroke-width="1.2"/><line x1="285" y1="134" x2="398" y2="134" stroke="#141214" stroke-width="1.2"/><g transform="translate(474.6 102.7) rotate(45)"><rect x="-28.5" y="-9.5" width="57" height="6.5" fill="#000"/><rect x="-27.8" y="-3.0" width="55.6" height="11.8" fill="url(#glass2)" stroke="#222" stroke-width="1.2"/></g><g transform="translate(458.3 193.5) rotate(45)"><rect x="-28.5" y="3.0" width="57" height="6.5" fill="#000"/><rect x="-27.8" y="-8.8" width="55.6" height="11.8" fill="url(#glass2)" stroke="#222" stroke-width="1.2"/></g><g transform="translate(1035 223.6) rotate(-43.3)"><rect x="-19.5" y="2.25" width="39" height="5" fill="#000"/><rect x="-18.8" y="-6.55" width="37.6" height="8.8" fill="url(#glass2)" stroke="#222" stroke-width="1.2"/></g><path d="M603.5 149.2 V223.6 H591 Q588.8 223.6 588.6 221 C583.8 208.6 583.8 164.2 588.6 151.8 Q588.8 149.2 591 149.2 Z" fill="url(#lensg)" stroke="#333a42" stroke-width="1.8" stroke-linejoin="round"/><path d="M946.2 166.3 V240.6 H958.4 Q960.6 240.6 960.8 238 C965.6 225 965.6 182 960.8 169 Q960.6 166.3 958.4 166.3 Z" fill="url(#lensg)" stroke="#333a42" stroke-width="1.8" stroke-linejoin="round"/><rect x="879.5" y="28" width="133.6" height="55.6" rx="6.5" fill="#fff" stroke="#2f2f2f" stroke-width="1.5"/><rect x="888" y="36.3" width="44.6" height="27.4" rx="2.2" fill="#c6c6cc"/><rect x="944.7" y="36.8" width="10.4" height="4.8" fill="#c4c4c4"/><rect x="959.5" y="36.8" width="10.4" height="4.8" fill="#c4c4c4"/><rect x="973.7" y="36.8" width="10.4" height="4.8" fill="#c4c4c4"/><rect x="944.7" y="45.3" width="10.4" height="4.8" fill="#c4c4c4"/><rect x="959.5" y="45.3" width="10.4" height="4.8" fill="#c4c4c4"/><rect x="944.7" y="53.7" width="10.4" height="4.8" fill="#c4c4c4"/><rect x="959.5" y="53.7" width="10.4" height="4.8" fill="#c4c4c4"/><rect x="944.7" y="62.1" width="10.4" height="4.8" fill="#c4c4c4"/><rect x="959.5" y="62.1" width="10.4" height="4.8" fill="#c4c4c4"/><rect x="973.7" y="62.1" width="10.4" height="4.8" fill="#c4c4c4"/><rect x="973.7" y="71.0" width="10.4" height="4.8" fill="#c4c4c4"/><circle cx="995.5" cy="50.5" r="5.3" fill="#c8c8c8"/><path d="M1014.3 108.4 A16.3 20.5 0 0 1 1046.9 108.4 Z" fill="url(#domeg)" stroke="#5a1800" stroke-width="1.1"/><rect x="1011.5" y="108.2" width="37.8" height="5.4" fill="#000"/><path d="M1117.2 168.8 A19.5 16.7 0 0 1 1117.2 202.2 Z" fill="url(#domeg)" stroke="#5a1800" stroke-width="1.1"/><rect x="1111.8" y="166.5" width="5.4" height="37.7" fill="#000"/><text font-size="37.60" fill="#000" transform="translate(224.03 239.70) scale(0.9949 1)">tunable Laser</text><text font-size="37.60" fill="#000" transform="translate(1123.61 108.70) scale(1.0009 1)">Detectors</text><text font-size="37.60" fill="#000" transform="translate(991.80 295.00) scale(1.0059 1)">D-Mirror</text><rect x="1295.5" y="359.4" width="23.8" height="434.4" fill="url(#cbar)"/><g shape-rendering="crispEdges"><rect x="122.00" y="360.5" width="24.12" height="434.80" fill="url(#b0)"/><rect x="145.62" y="360.5" width="24.12" height="434.80" fill="url(#b1)"/><rect x="169.24" y="360.5" width="24.12" height="434.80" fill="url(#b2)"/><rect x="192.86" y="360.5" width="24.12" height="434.80" fill="url(#b3)"/><rect x="216.48" y="360.5" width="24.12" height="434.80" fill="url(#b4)"/><rect x="240.10" y="360.5" width="24.12" height="434.80" fill="url(#b5)"/><rect x="263.71" y="360.5" width="24.12" height="434.80" fill="url(#b6)"/><rect x="287.33" y="360.5" width="24.12" height="434.80" fill="url(#b7)"/><rect x="310.95" y="360.5" width="24.12" height="434.80" fill="url(#b8)"/><rect x="334.57" y="360.5" width="24.12" height="434.80" fill="url(#b9)"/><rect x="358.19" y="360.5" width="24.12" height="434.80" fill="url(#b10)"/><rect x="381.81" y="360.5" width="24.12" height="434.80" fill="url(#b11)"/><rect x="405.43" y="360.5" width="24.12" height="434.80" fill="url(#b12)"/><rect x="429.05" y="360.5" width="24.12" height="434.80" fill="url(#b13)"/><rect x="452.67" y="360.5" width="24.12" height="434.80" fill="url(#b14)"/><rect x="476.29" y="360.5" width="24.12" height="434.80" fill="url(#b15)"/><rect x="499.90" y="360.5" width="24.12" height="434.80" fill="url(#b16)"/><rect x="523.52" y="360.5" width="24.12" height="434.80" fill="url(#b17)"/><rect x="547.14" y="360.5" width="24.12" height="434.80" fill="url(#b18)"/><rect x="570.76" y="360.5" width="24.12" height="434.80" fill="url(#b19)"/><rect x="594.38" y="360.5" width="24.12" height="434.80" fill="url(#b20)"/></g><g shape-rendering="crispEdges"><rect x="768.80" y="359.4" width="4.50" height="435.10" fill="url(#c0)"/><rect x="772.80" y="359.4" width="4.50" height="435.10" fill="url(#c1)"/><rect x="776.80" y="359.4" width="4.50" height="435.10" fill="url(#c2)"/><rect x="780.80" y="359.4" width="4.50" height="435.10" fill="url(#c3)"/><rect x="784.81" y="359.4" width="4.50" height="435.10" fill="url(#c4)"/><rect x="788.81" y="359.4" width="4.50" height="435.10" fill="url(#c5)"/><rect x="792.81" y="359.4" width="4.50" height="435.10" fill="url(#c6)"/><rect x="796.81" y="359.4" width="4.50" height="435.10" fill="url(#c7)"/><rect x="800.81" y="359.4" width="4.50" height="435.10" fill="url(#c8)"/><rect x="804.81" y="359.4" width="4.50" height="435.10" fill="url(#c9)"/><rect x="808.82" y="359.4" width="4.50" height="435.10" fill="url(#c10)"/><rect x="812.82" y="359.4" width="4.50" height="435.10" fill="url(#c11)"/><rect x="816.82" y="359.4" width="4.50" height="435.10" fill="url(#c12)"/><rect x="820.82" y="359.4" width="4.50" height="435.10" fill="url(#c13)"/><rect x="824.82" y="359.4" width="4.50" height="435.10" fill="url(#c14)"/><rect x="828.82" y="359.4" width="4.50" height="435.10" fill="url(#c15)"/><rect x="832.83" y="359.4" width="4.50" height="435.10" fill="url(#c16)"/><rect x="836.83" y="359.4" width="4.50" height="435.10" fill="url(#c17)"/><rect x="840.83" y="359.4" width="4.50" height="435.10" fill="url(#c18)"/><rect x="844.83" y="359.4" width="4.50" height="435.10" fill="url(#c19)"/><rect x="848.83" y="359.4" width="4.50" height="435.10" fill="url(#c20)"/><rect x="852.83" y="359.4" width="4.50" height="435.10" fill="url(#c21)"/><rect x="856.84" y="359.4" width="4.50" height="435.10" fill="url(#c22)"/><rect x="860.84" y="359.4" width="4.50" height="435.10" fill="url(#c23)"/><rect x="864.84" y="359.4" width="4.50" height="435.10" fill="url(#c24)"/><rect x="868.84" y="359.4" width="4.50" height="435.10" fill="url(#c25)"/><rect x="872.84" y="359.4" width="4.50" height="435.10" fill="url(#c26)"/><rect x="876.84" y="359.4" width="4.50" height="435.10" fill="url(#c27)"/><rect x="880.85" y="359.4" width="4.50" height="435.10" fill="url(#c28)"/><rect x="884.85" y="359.4" width="4.50" height="435.10" fill="url(#c29)"/><rect x="888.85" y="359.4" width="4.50" height="435.10" fill="url(#c30)"/><rect x="892.85" y="359.4" width="4.50" height="435.10" fill="url(#c31)"/><rect x="896.85" y="359.4" width="4.50" height="435.10" fill="url(#c32)"/><rect x="900.85" y="359.4" width="4.50" height="435.10" fill="url(#c33)"/><rect x="904.85" y="359.4" width="4.50" height="435.10" fill="url(#c34)"/><rect x="908.86" y="359.4" width="4.50" height="435.10" fill="url(#c35)"/><rect x="912.86" y="359.4" width="4.50" height="435.10" fill="url(#c36)"/><rect x="916.86" y="359.4" width="4.50" height="435.10" fill="url(#c37)"/><rect x="920.86" y="359.4" width="4.50" height="435.10" fill="url(#c38)"/><rect x="924.86" y="359.4" width="4.50" height="435.10" fill="url(#c39)"/><rect x="928.86" y="359.4" width="4.50" height="435.10" fill="url(#c40)"/><rect x="932.87" y="359.4" width="4.50" height="435.10" fill="url(#c41)"/><rect x="936.87" y="359.4" width="4.50" height="435.10" fill="url(#c42)"/><rect x="940.87" y="359.4" width="4.50" height="435.10" fill="url(#c43)"/><rect x="944.87" y="359.4" width="4.50" height="435.10" fill="url(#c44)"/><rect x="948.87" y="359.4" width="4.50" height="435.10" fill="url(#c45)"/><rect x="952.87" y="359.4" width="4.50" height="435.10" fill="url(#c46)"/><rect x="956.88" y="359.4" width="4.50" height="435.10" fill="url(#c47)"/><rect x="960.88" y="359.4" width="4.50" height="435.10" fill="url(#c48)"/><rect x="964.88" y="359.4" width="4.50" height="435.10" fill="url(#c49)"/><rect x="968.88" y="359.4" width="4.50" height="435.10" fill="url(#c50)"/><rect x="972.88" y="359.4" width="4.50" height="435.10" fill="url(#c51)"/><rect x="976.88" y="359.4" width="4.50" height="435.10" fill="url(#c52)"/><rect x="980.89" y="359.4" width="4.50" height="435.10" fill="url(#c53)"/><rect x="984.89" y="359.4" width="4.50" height="435.10" fill="url(#c54)"/><rect x="988.89" y="359.4" width="4.50" height="435.10" fill="url(#c55)"/><rect x="992.89" y="359.4" width="4.50" height="435.10" fill="url(#c56)"/><rect x="996.89" y="359.4" width="4.50" height="435.10" fill="url(#c57)"/><rect x="1000.89" y="359.4" width="4.50" height="435.10" fill="url(#c58)"/><rect x="1004.90" y="359.4" width="4.50" height="435.10" fill="url(#c59)"/><rect x="1008.90" y="359.4" width="4.50" height="435.10" fill="url(#c60)"/><rect x="1012.90" y="359.4" width="4.50" height="435.10" fill="url(#c61)"/><rect x="1016.90" y="359.4" width="4.50" height="435.10" fill="url(#c62)"/><rect x="1020.90" y="359.4" width="4.50" height="435.10" fill="url(#c63)"/><rect x="1024.90" y="359.4" width="4.50" height="435.10" fill="url(#c64)"/><rect x="1028.90" y="359.4" width="4.50" height="435.10" fill="url(#c65)"/><rect x="1032.91" y="359.4" width="4.50" height="435.10" fill="url(#c66)"/><rect x="1036.91" y="359.4" width="4.50" height="435.10" fill="url(#c67)"/><rect x="1040.91" y="359.4" width="4.50" height="435.10" fill="url(#c68)"/><rect x="1044.91" y="359.4" width="4.50" height="435.10" fill="url(#c69)"/><rect x="1048.91" y="359.4" width="4.50" height="435.10" fill="url(#c70)"/><rect x="1052.91" y="359.4" width="4.50" height="435.10" fill="url(#c71)"/><rect x="1056.92" y="359.4" width="4.50" height="435.10" fill="url(#c72)"/><rect x="1060.92" y="359.4" width="4.50" height="435.10" fill="url(#c73)"/><rect x="1064.92" y="359.4" width="4.50" height="435.10" fill="url(#c74)"/><rect x="1068.92" y="359.4" width="4.50" height="435.10" fill="url(#c75)"/><rect x="1072.92" y="359.4" width="4.50" height="435.10" fill="url(#c76)"/><rect x="1076.92" y="359.4" width="4.50" height="435.10" fill="url(#c77)"/><rect x="1080.93" y="359.4" width="4.50" height="435.10" fill="url(#c78)"/><rect x="1084.93" y="359.4" width="4.50" height="435.10" fill="url(#c79)"/><rect x="1088.93" y="359.4" width="4.50" height="435.10" fill="url(#c80)"/><rect x="1092.93" y="359.4" width="4.50" height="435.10" fill="url(#c81)"/><rect x="1096.93" y="359.4" width="4.50" height="435.10" fill="url(#c82)"/><rect x="1100.93" y="359.4" width="4.50" height="435.10" fill="url(#c83)"/><rect x="1104.94" y="359.4" width="4.50" height="435.10" fill="url(#c84)"/><rect x="1108.94" y="359.4" width="4.50" height="435.10" fill="url(#c85)"/><rect x="1112.94" y="359.4" width="4.50" height="435.10" fill="url(#c86)"/><rect x="1116.94" y="359.4" width="4.50" height="435.10" fill="url(#c87)"/><rect x="1120.94" y="359.4" width="4.50" height="435.10" fill="url(#c88)"/><rect x="1124.94" y="359.4" width="4.50" height="435.10" fill="url(#c89)"/><rect x="1128.95" y="359.4" width="4.50" height="435.10" fill="url(#c90)"/><rect x="1132.95" y="359.4" width="4.50" height="435.10" fill="url(#c91)"/><rect x="1136.95" y="359.4" width="4.50" height="435.10" fill="url(#c92)"/><rect x="1140.95" y="359.4" width="4.50" height="435.10" fill="url(#c93)"/><rect x="1144.95" y="359.4" width="4.50" height="435.10" fill="url(#c94)"/><rect x="1148.95" y="359.4" width="4.50" height="435.10" fill="url(#c95)"/><rect x="1152.95" y="359.4" width="4.50" height="435.10" fill="url(#c96)"/><rect x="1156.96" y="359.4" width="4.50" height="435.10" fill="url(#c97)"/><rect x="1160.96" y="359.4" width="4.50" height="435.10" fill="url(#c98)"/><rect x="1164.96" y="359.4" width="4.50" height="435.10" fill="url(#c99)"/><rect x="1168.96" y="359.4" width="4.50" height="435.10" fill="url(#c100)"/><rect x="1172.96" y="359.4" width="4.50" height="435.10" fill="url(#c101)"/><rect x="1176.96" y="359.4" width="4.50" height="435.10" fill="url(#c102)"/><rect x="1180.97" y="359.4" width="4.50" height="435.10" fill="url(#c103)"/><rect x="1184.97" y="359.4" width="4.50" height="435.10" fill="url(#c104)"/><rect x="1188.97" y="359.4" width="4.50" height="435.10" fill="url(#c105)"/><rect x="1192.97" y="359.4" width="4.50" height="435.10" fill="url(#c106)"/><rect x="1196.97" y="359.4" width="4.50" height="435.10" fill="url(#c107)"/><rect x="1200.97" y="359.4" width="4.50" height="435.10" fill="url(#c108)"/><rect x="1204.98" y="359.4" width="4.50" height="435.10" fill="url(#c109)"/><rect x="1208.98" y="359.4" width="4.50" height="435.10" fill="url(#c110)"/><rect x="1212.98" y="359.4" width="4.50" height="435.10" fill="url(#c111)"/><rect x="1216.98" y="359.4" width="4.50" height="435.10" fill="url(#c112)"/><rect x="1220.98" y="359.4" width="4.50" height="435.10" fill="url(#c113)"/><rect x="1224.98" y="359.4" width="4.50" height="435.10" fill="url(#c114)"/><rect x="1228.99" y="359.4" width="4.50" height="435.10" fill="url(#c115)"/><rect x="1232.99" y="359.4" width="4.50" height="435.10" fill="url(#c116)"/><rect x="1236.99" y="359.4" width="4.50" height="435.10" fill="url(#c117)"/><rect x="1240.99" y="359.4" width="4.50" height="435.10" fill="url(#c118)"/><rect x="1244.99" y="359.4" width="4.50" height="435.10" fill="url(#c119)"/><rect x="1248.99" y="359.4" width="4.50" height="435.10" fill="url(#c120)"/><rect x="1253.00" y="359.4" width="4.50" height="435.10" fill="url(#c121)"/><rect x="1257.00" y="359.4" width="4.50" height="435.10" fill="url(#c122)"/><rect x="1261.00" y="359.4" width="4.50" height="435.10" fill="url(#c123)"/></g><rect x="122" y="360.5" width="496" height="434.8" fill="none" stroke="#111" stroke-width="2"/><rect x="768.8" y="359.4" width="496.2" height="435.1" fill="none" stroke="#111" stroke-width="2"/><rect x="1295.5" y="359.4" width="23.8" height="434.4" fill="none" stroke="#111" stroke-width="2"/><path d="M113.4 415.3 H122 M760.4 413.9 H768.8 M113.4 496.9 H122 M760.4 495.5 H768.8 M113.4 578.5 H122 M760.4 577.1 H768.8 M113.4 660.1 H122 M760.4 658.7 H768.8 M113.4 741.7 H122 M760.4 740.3 H768.8 M157.4 795.3 V803.5 M795.6 794.5 V802.8 M275.5 795.3 V803.5 M918.4 794.5 V802.8 M393.6 795.3 V803.5 M1041.2 794.5 V802.8 M511.7 795.3 V803.5 M1164.0 794.5 V802.8 M1319.3 706.9 H1327.5 M1319.3 620.2 H1327.5 M1319.3 533.4 H1327.5 M1319.3 446.7 H1327.5" stroke="#111" stroke-width="2" fill="none"/><text font-size="30.00" fill="#111" transform="translate(66.74 425.50) scale(1.0577 1)">40</text><text font-size="30.00" fill="#111" transform="translate(714.24 424.10) scale(1.0577 1)">40</text><text font-size="30.00" fill="#111" transform="translate(66.57 507.10) scale(1.0631 1)">20</text><text font-size="30.00" fill="#111" transform="translate(714.07 505.70) scale(1.0631 1)">20</text><text font-size="30.00" fill="#111" transform="translate(85.10 588.70) scale(1.0120 1)">0</text><text font-size="30.00" fill="#111" transform="translate(732.60 587.30) scale(1.0120 1)">0</text><text font-size="30.00" fill="#111" transform="translate(43.27 670.30) scale(1.1571 1)">−20</text><text font-size="30.00" fill="#111" transform="translate(690.77 668.90) scale(1.1571 1)">−20</text><text font-size="30.00" fill="#111" transform="translate(43.27 751.90) scale(1.1571 1)">−40</text><text font-size="30.00" fill="#111" transform="translate(690.77 750.50) scale(1.1571 1)">−40</text><text font-size="30.00" fill="#111" transform="translate(121.03 832.00) scale(1.0780 1)">1450</text><text font-size="30.00" fill="#111" transform="translate(759.23 830.60) scale(1.0780 1)">1450</text><text font-size="30.00" fill="#111" transform="translate(239.13 832.00) scale(1.0780 1)">1500</text><text font-size="30.00" fill="#111" transform="translate(882.03 830.60) scale(1.0780 1)">1500</text><text font-size="30.00" fill="#111" transform="translate(357.23 832.00) scale(1.0780 1)">1550</text><text font-size="30.00" fill="#111" transform="translate(1004.83 830.60) scale(1.0780 1)">1550</text><text font-size="30.00" fill="#111" transform="translate(475.33 832.00) scale(1.0780 1)">1600</text><text font-size="30.00" fill="#111" transform="translate(1127.63 830.60) scale(1.0780 1)">1600</text><text font-size="30.00" fill="#111" transform="translate(1335.57 716.68) scale(1.0512 1)">0.2</text><text font-size="30.00" fill="#111" transform="translate(1335.55 629.96) scale(1.0664 1)">0.4</text><text font-size="30.00" fill="#111" transform="translate(1335.54 543.24) scale(1.0733 1)">0.6</text><text font-size="30.00" fill="#111" transform="translate(1335.55 456.52) scale(1.0690 1)">0.8</text><text font-size="29.50" fill="#111" transform="translate(244.15 868.30) scale(1.1441 1)">Wavelength [nm]</text><text font-size="29.50" fill="#111" transform="translate(892.25 867.40) scale(1.1387 1)">Wavelength [nm]</text><text font-size="29.50" fill="#111" transform="translate(25.10 694.02) rotate(-90) scale(1.1235 1)">Bias voltage [V]</text><text font-size="29.50" fill="#111" transform="translate(671.90 693.32) rotate(-90) scale(1.1255 1)">Bias voltage [V]</text><text font-size="29.50" fill="#111" transform="translate(1408.40 689.24) rotate(-90) scale(1.1311 1)">Norm. intensity</text><text font-size="35.30" fill="#000" transform="translate(324.08 346.50) scale(1.0838 1)">296K</text><text font-size="35.00" fill="#000" transform="translate(994.87 344.80) scale(1.0191 1)">5K</text><text font-size="39.30" fill="#000" transform="translate(46.85 351.30) scale(1.0072 1)">b</text><text font-size="38.80" fill="#000" transform="translate(72.94 351.00) scale(1.1568 1)">)</text><text font-size="39.80" fill="#000" transform="translate(697.67 350.90) scale(1.0256 1)">c</text><text font-size="38.80" fill="#000" transform="translate(720.17 350.80) scale(1.0304 1)">)</text>
</svg>
</body></html>
